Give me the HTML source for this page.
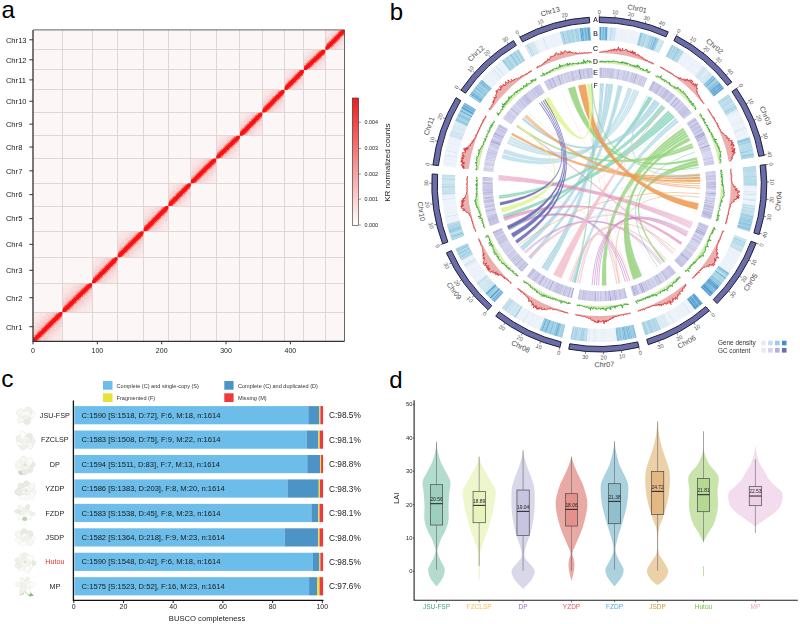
<!DOCTYPE html><html><head><meta charset="utf-8"><style>html,body{margin:0;padding:0;background:#fff;}svg{display:block}</style></head><body><svg width="800" height="624" viewBox="0 0 800 624"><rect width="800" height="624" fill="#fff"/><text x="1.6" y="18.4" font-size="24" font-family="Liberation Sans, sans-serif" fill="#000">a</text>
<text x="389.8" y="19.7" font-size="24" font-family="Liberation Sans, sans-serif" fill="#000">b</text>
<text x="1.2" y="387.3" font-size="24.5" font-family="Liberation Sans, sans-serif" fill="#000">c</text>
<text x="389.2" y="387.5" font-size="24" font-family="Liberation Sans, sans-serif" fill="#000">d</text>
<defs>
<linearGradient id="hz" x1="0" y1="0" x2="1" y2="1"><stop offset="0" stop-color="#faeeee"/><stop offset="0.22" stop-color="#f8e2e2"/><stop offset="0.36" stop-color="#f5cdcd"/><stop offset="0.45" stop-color="#f2aeae"/><stop offset="0.5" stop-color="#ef8e8e"/><stop offset="0.55" stop-color="#f2aeae"/><stop offset="0.64" stop-color="#f5cdcd"/><stop offset="0.78" stop-color="#f8e2e2"/><stop offset="1" stop-color="#faeeee"/></linearGradient>
<linearGradient id="cbar" x1="0" y1="1" x2="0" y2="0"><stop offset="0" stop-color="#ffffff"/><stop offset="1" stop-color="#ee1c1c"/></linearGradient>
<clipPath id="cb0"><rect x="33" y="312.1" width="29.4" height="29.2"/></clipPath>
<clipPath id="cb1"><rect x="62.4" y="283.3" width="29.6" height="28.8"/></clipPath>
<clipPath id="cb2"><rect x="92" y="257.3" width="25.6" height="26"/></clipPath>
<clipPath id="cb3"><rect x="117.6" y="231.3" width="26" height="26"/></clipPath>
<clipPath id="cb4"><rect x="143.6" y="206" width="24.8" height="25.3"/></clipPath>
<clipPath id="cb5"><rect x="168.4" y="183.3" width="22.5" height="22.7"/></clipPath>
<clipPath id="cb6"><rect x="190.9" y="158.4" width="25.3" height="24.9"/></clipPath>
<clipPath id="cb7"><rect x="216.2" y="135.7" width="23.7" height="22.7"/></clipPath>
<clipPath id="cb8"><rect x="239.9" y="112.6" width="22.4" height="23.1"/></clipPath>
<clipPath id="cb9"><rect x="262.3" y="89.9" width="22.2" height="22.7"/></clipPath>
<clipPath id="cb10"><rect x="284.5" y="69.9" width="19.4" height="20"/></clipPath>
<clipPath id="cb11"><rect x="303.9" y="49.7" width="21.4" height="20.2"/></clipPath>
<clipPath id="cb12"><rect x="325.3" y="29.9" width="19.2" height="19.8"/></clipPath>
<filter id="spk" x="0" y="0" width="1" height="1" color-interpolation-filters="sRGB"><feTurbulence type="fractalNoise" baseFrequency="0.85" numOctaves="2" seed="5" result="n"/><feColorMatrix in="n" type="matrix" values="0 0 0 0 0  0 0 0 0 0  0 0 0 0 0  0 0 0 2.2 -0.1" result="a"/><feComposite in="SourceGraphic" in2="a" operator="in"/></filter>
<radialGradient id="blob"><stop offset="0" stop-color="#f2c4c4" stop-opacity="0.7"/><stop offset="1" stop-color="#f2c4c4" stop-opacity="0"/></radialGradient>
</defs>
<rect x="33.0" y="29.9" width="311.5" height="311.40000000000003" fill="#fcf6f6"/>
<g filter="url(#spk)">
<rect x="33" y="312.1" width="29.4" height="29.2" fill="url(#hz)"/>
<path clip-path="url(#cb0)" d="M31 343.3 L64.4 310.1" stroke="#f23030" stroke-opacity="0.55" stroke-width="6.5"/>
<rect x="62.4" y="283.3" width="29.6" height="28.8" fill="url(#hz)"/>
<path clip-path="url(#cb1)" d="M60.4 314.1 L94 281.3" stroke="#f23030" stroke-opacity="0.55" stroke-width="6.5"/>
<rect x="92" y="257.3" width="25.6" height="26" fill="url(#hz)"/>
<path clip-path="url(#cb2)" d="M90 285.3 L119.6 255.3" stroke="#f23030" stroke-opacity="0.55" stroke-width="6.5"/>
<rect x="117.6" y="231.3" width="26" height="26" fill="url(#hz)"/>
<path clip-path="url(#cb3)" d="M115.6 259.3 L145.6 229.3" stroke="#f23030" stroke-opacity="0.55" stroke-width="6.5"/>
<rect x="143.6" y="206" width="24.8" height="25.3" fill="url(#hz)"/>
<path clip-path="url(#cb4)" d="M141.6 233.3 L170.4 204" stroke="#f23030" stroke-opacity="0.55" stroke-width="6.5"/>
<rect x="168.4" y="183.3" width="22.5" height="22.7" fill="url(#hz)"/>
<path clip-path="url(#cb5)" d="M166.4 208 L192.9 181.3" stroke="#f23030" stroke-opacity="0.55" stroke-width="6.5"/>
<rect x="190.9" y="158.4" width="25.3" height="24.9" fill="url(#hz)"/>
<path clip-path="url(#cb6)" d="M188.9 185.3 L218.2 156.4" stroke="#f23030" stroke-opacity="0.55" stroke-width="6.5"/>
<rect x="216.2" y="135.7" width="23.7" height="22.7" fill="url(#hz)"/>
<path clip-path="url(#cb7)" d="M214.2 160.4 L241.9 133.7" stroke="#f23030" stroke-opacity="0.55" stroke-width="6.5"/>
<rect x="239.9" y="112.6" width="22.4" height="23.1" fill="url(#hz)"/>
<path clip-path="url(#cb8)" d="M237.9 137.7 L264.3 110.6" stroke="#f23030" stroke-opacity="0.55" stroke-width="6.5"/>
<rect x="262.3" y="89.9" width="22.2" height="22.7" fill="url(#hz)"/>
<path clip-path="url(#cb9)" d="M260.3 114.6 L286.5 87.9" stroke="#f23030" stroke-opacity="0.55" stroke-width="6.5"/>
<rect x="284.5" y="69.9" width="19.4" height="20" fill="url(#hz)"/>
<path clip-path="url(#cb10)" d="M282.5 91.9 L305.9 67.9" stroke="#f23030" stroke-opacity="0.55" stroke-width="6.5"/>
<rect x="303.9" y="49.7" width="21.4" height="20.2" fill="url(#hz)"/>
<path clip-path="url(#cb11)" d="M301.9 71.9 L327.3 47.7" stroke="#f23030" stroke-opacity="0.55" stroke-width="6.5"/>
<rect x="325.3" y="29.9" width="19.2" height="19.8" fill="url(#hz)"/>
<path clip-path="url(#cb12)" d="M323.3 51.7 L346.5 27.9" stroke="#f23030" stroke-opacity="0.55" stroke-width="6.5"/>
</g>
<line x1="62.5" y1="29.9" x2="62.5" y2="341.3" stroke="#dbd2d2" stroke-width="0.9"/>
<line x1="92.5" y1="29.9" x2="92.5" y2="341.3" stroke="#dbd2d2" stroke-width="0.9"/>
<line x1="117.5" y1="29.9" x2="117.5" y2="341.3" stroke="#dbd2d2" stroke-width="0.9"/>
<line x1="143.5" y1="29.9" x2="143.5" y2="341.3" stroke="#dbd2d2" stroke-width="0.9"/>
<line x1="168.5" y1="29.9" x2="168.5" y2="341.3" stroke="#dbd2d2" stroke-width="0.9"/>
<line x1="190.5" y1="29.9" x2="190.5" y2="341.3" stroke="#dbd2d2" stroke-width="0.9"/>
<line x1="216.5" y1="29.9" x2="216.5" y2="341.3" stroke="#dbd2d2" stroke-width="0.9"/>
<line x1="239.5" y1="29.9" x2="239.5" y2="341.3" stroke="#dbd2d2" stroke-width="0.9"/>
<line x1="262.5" y1="29.9" x2="262.5" y2="341.3" stroke="#dbd2d2" stroke-width="0.9"/>
<line x1="284.5" y1="29.9" x2="284.5" y2="341.3" stroke="#dbd2d2" stroke-width="0.9"/>
<line x1="303.5" y1="29.9" x2="303.5" y2="341.3" stroke="#dbd2d2" stroke-width="0.9"/>
<line x1="325.5" y1="29.9" x2="325.5" y2="341.3" stroke="#dbd2d2" stroke-width="0.9"/>
<line x1="33.0" y1="312.5" x2="344.5" y2="312.5" stroke="#dbd2d2" stroke-width="0.9"/>
<line x1="33.0" y1="283.5" x2="344.5" y2="283.5" stroke="#dbd2d2" stroke-width="0.9"/>
<line x1="33.0" y1="257.5" x2="344.5" y2="257.5" stroke="#dbd2d2" stroke-width="0.9"/>
<line x1="33.0" y1="231.5" x2="344.5" y2="231.5" stroke="#dbd2d2" stroke-width="0.9"/>
<line x1="33.0" y1="206.5" x2="344.5" y2="206.5" stroke="#dbd2d2" stroke-width="0.9"/>
<line x1="33.0" y1="183.5" x2="344.5" y2="183.5" stroke="#dbd2d2" stroke-width="0.9"/>
<line x1="33.0" y1="158.5" x2="344.5" y2="158.5" stroke="#dbd2d2" stroke-width="0.9"/>
<line x1="33.0" y1="135.5" x2="344.5" y2="135.5" stroke="#dbd2d2" stroke-width="0.9"/>
<line x1="33.0" y1="112.5" x2="344.5" y2="112.5" stroke="#dbd2d2" stroke-width="0.9"/>
<line x1="33.0" y1="89.5" x2="344.5" y2="89.5" stroke="#dbd2d2" stroke-width="0.9"/>
<line x1="33.0" y1="69.5" x2="344.5" y2="69.5" stroke="#dbd2d2" stroke-width="0.9"/>
<line x1="33.0" y1="49.5" x2="344.5" y2="49.5" stroke="#dbd2d2" stroke-width="0.9"/>
<path clip-path="url(#cb0)" d="M31 343.3 L64.4 310.1" stroke="#fb1010" stroke-width="3.9"/>
<path clip-path="url(#cb1)" d="M60.4 314.1 L94 281.3" stroke="#fb1010" stroke-width="3.9"/>
<path clip-path="url(#cb2)" d="M90 285.3 L119.6 255.3" stroke="#fb1010" stroke-width="3.9"/>
<path clip-path="url(#cb3)" d="M115.6 259.3 L145.6 229.3" stroke="#fb1010" stroke-width="3.9"/>
<path clip-path="url(#cb4)" d="M141.6 233.3 L170.4 204" stroke="#fb1010" stroke-width="3.9"/>
<path clip-path="url(#cb5)" d="M166.4 208 L192.9 181.3" stroke="#fb1010" stroke-width="3.9"/>
<path clip-path="url(#cb6)" d="M188.9 185.3 L218.2 156.4" stroke="#fb1010" stroke-width="3.9"/>
<path clip-path="url(#cb7)" d="M214.2 160.4 L241.9 133.7" stroke="#fb1010" stroke-width="3.9"/>
<path clip-path="url(#cb8)" d="M237.9 137.7 L264.3 110.6" stroke="#fb1010" stroke-width="3.9"/>
<path clip-path="url(#cb9)" d="M260.3 114.6 L286.5 87.9" stroke="#fb1010" stroke-width="3.9"/>
<path clip-path="url(#cb10)" d="M282.5 91.9 L305.9 67.9" stroke="#fb1010" stroke-width="3.9"/>
<path clip-path="url(#cb11)" d="M301.9 71.9 L327.3 47.7" stroke="#fb1010" stroke-width="3.9"/>
<path clip-path="url(#cb12)" d="M323.3 51.7 L346.5 27.9" stroke="#fb1010" stroke-width="3.9"/>
<path d="M33.0 29.9 H344.5 V341.3" fill="none" stroke="#555" stroke-width="0.9"/>
<path d="M33.0 29.9 V341.3 H344.5" fill="none" stroke="#333" stroke-width="1.3"/>
<line x1="29.3" y1="326.7" x2="33.0" y2="326.7" stroke="#333" stroke-width="1"/>
<text x="5.9" y="329.5" font-size="7.6" font-family="Liberation Sans, sans-serif" fill="#1a1a1a">Chr1</text>
<line x1="29.3" y1="297.7" x2="33.0" y2="297.7" stroke="#333" stroke-width="1"/>
<text x="5.9" y="300.5" font-size="7.6" font-family="Liberation Sans, sans-serif" fill="#1a1a1a">Chr2</text>
<line x1="29.3" y1="270.3" x2="33.0" y2="270.3" stroke="#333" stroke-width="1"/>
<text x="5.9" y="273.1" font-size="7.6" font-family="Liberation Sans, sans-serif" fill="#1a1a1a">Chr3</text>
<line x1="29.3" y1="244.3" x2="33.0" y2="244.3" stroke="#333" stroke-width="1"/>
<text x="5.9" y="247.1" font-size="7.6" font-family="Liberation Sans, sans-serif" fill="#1a1a1a">Chr4</text>
<line x1="29.3" y1="218.65" x2="33.0" y2="218.65" stroke="#333" stroke-width="1"/>
<text x="5.9" y="221.45" font-size="7.6" font-family="Liberation Sans, sans-serif" fill="#1a1a1a">Chr5</text>
<line x1="29.3" y1="194.65" x2="33.0" y2="194.65" stroke="#333" stroke-width="1"/>
<text x="5.9" y="197.45" font-size="7.6" font-family="Liberation Sans, sans-serif" fill="#1a1a1a">Chr6</text>
<line x1="29.3" y1="170.85" x2="33.0" y2="170.85" stroke="#333" stroke-width="1"/>
<text x="5.9" y="173.65" font-size="7.6" font-family="Liberation Sans, sans-serif" fill="#1a1a1a">Chr7</text>
<line x1="29.3" y1="147.05" x2="33.0" y2="147.05" stroke="#333" stroke-width="1"/>
<text x="5.9" y="149.85" font-size="7.6" font-family="Liberation Sans, sans-serif" fill="#1a1a1a">Chr8</text>
<line x1="29.3" y1="124.15" x2="33.0" y2="124.15" stroke="#333" stroke-width="1"/>
<text x="5.9" y="126.95" font-size="7.6" font-family="Liberation Sans, sans-serif" fill="#1a1a1a">Chr9</text>
<line x1="29.3" y1="101.25" x2="33.0" y2="101.25" stroke="#333" stroke-width="1"/>
<text x="5.9" y="104.05" font-size="7.6" font-family="Liberation Sans, sans-serif" fill="#1a1a1a">Chr10</text>
<line x1="29.3" y1="79.9" x2="33.0" y2="79.9" stroke="#333" stroke-width="1"/>
<text x="5.9" y="82.7" font-size="7.6" font-family="Liberation Sans, sans-serif" fill="#1a1a1a">Chr11</text>
<line x1="29.3" y1="59.8" x2="33.0" y2="59.8" stroke="#333" stroke-width="1"/>
<text x="5.9" y="62.6" font-size="7.6" font-family="Liberation Sans, sans-serif" fill="#1a1a1a">Chr12</text>
<line x1="29.3" y1="39.8" x2="33.0" y2="39.8" stroke="#333" stroke-width="1"/>
<text x="5.9" y="42.6" font-size="7.6" font-family="Liberation Sans, sans-serif" fill="#1a1a1a">Chr13</text>
<line x1="33" y1="341.3" x2="33" y2="344.3" stroke="#333" stroke-width="1"/>
<text x="33" y="353.3" font-size="7" text-anchor="middle" font-family="Liberation Sans, sans-serif" fill="#222">0</text>
<line x1="97.35" y1="341.3" x2="97.35" y2="344.3" stroke="#333" stroke-width="1"/>
<text x="97.35" y="353.3" font-size="7" text-anchor="middle" font-family="Liberation Sans, sans-serif" fill="#222">100</text>
<line x1="161.7" y1="341.3" x2="161.7" y2="344.3" stroke="#333" stroke-width="1"/>
<text x="161.7" y="353.3" font-size="7" text-anchor="middle" font-family="Liberation Sans, sans-serif" fill="#222">200</text>
<line x1="226.05" y1="341.3" x2="226.05" y2="344.3" stroke="#333" stroke-width="1"/>
<text x="226.05" y="353.3" font-size="7" text-anchor="middle" font-family="Liberation Sans, sans-serif" fill="#222">300</text>
<line x1="290.4" y1="341.3" x2="290.4" y2="344.3" stroke="#333" stroke-width="1"/>
<text x="290.4" y="353.3" font-size="7" text-anchor="middle" font-family="Liberation Sans, sans-serif" fill="#222">400</text>
<rect x="352.3" y="98" width="6.4" height="127.6" fill="url(#cbar)" stroke="#333" stroke-width="0.6"/>
<line x1="358.7" y1="225.1" x2="361" y2="225.1" stroke="#333" stroke-width="0.5"/>
<text x="364.5" y="227" font-size="5.4" font-family="Liberation Sans, sans-serif" fill="#222">0.000</text>
<line x1="358.7" y1="199.2" x2="361" y2="199.2" stroke="#333" stroke-width="0.5"/>
<text x="364.5" y="201.1" font-size="5.4" font-family="Liberation Sans, sans-serif" fill="#222">0.001</text>
<line x1="358.7" y1="174" x2="361" y2="174" stroke="#333" stroke-width="0.5"/>
<text x="364.5" y="175.9" font-size="5.4" font-family="Liberation Sans, sans-serif" fill="#222">0.002</text>
<line x1="358.7" y1="148.5" x2="361" y2="148.5" stroke="#333" stroke-width="0.5"/>
<text x="364.5" y="150.4" font-size="5.4" font-family="Liberation Sans, sans-serif" fill="#222">0.003</text>
<line x1="358.7" y1="122.3" x2="361" y2="122.3" stroke="#333" stroke-width="0.5"/>
<text x="364.5" y="124.2" font-size="5.4" font-family="Liberation Sans, sans-serif" fill="#222">0.004</text>
<text transform="translate(390.2,162.7) rotate(-90)" font-size="8" text-anchor="middle" font-family="Liberation Sans, sans-serif" fill="#222">KR normalized counts</text>
<g>
<path d="M599.3 27.0L600.2 27.0L600.1 40.2L599.3 40.2Z" fill="#7cbbdb"/>
<path d="M600.0 27.0L600.9 27.0L600.8 40.2L600.0 40.2Z" fill="#3d8dcb"/>
<path d="M600.8 27.0L601.7 27.0L601.5 40.2L600.7 40.2Z" fill="#69aed6"/>
<path d="M601.5 27.0L602.4 27.0L602.2 40.2L601.3 40.2Z" fill="#8cc5de"/>
<path d="M602.3 27.0L603.2 27.0L602.9 40.2L602.0 40.2Z" fill="#8dc5de"/>
<path d="M603.0 27.0L603.9 27.1L603.5 40.3L602.7 40.2Z" fill="#58a1d2"/>
<path d="M603.8 27.1L604.7 27.1L604.2 40.3L603.4 40.3Z" fill="#74b6d9"/>
<path d="M604.5 27.1L605.4 27.1L604.9 40.3L604.1 40.3Z" fill="#88c2dd"/>
<path d="M605.2 27.1L606.1 27.1L605.6 40.3L604.7 40.3Z" fill="#5fa7d4"/>
<path d="M606.0 27.1L606.9 27.2L606.2 40.4L605.4 40.3Z" fill="#64aad5"/>
<path d="M606.7 27.2L607.6 27.2L606.9 40.4L606.1 40.4Z" fill="#3d8dcb"/>
<path d="M607.5 27.2L608.4 27.3L607.6 40.4L606.8 40.4Z" fill="#bdddeb"/>
<path d="M608.2 27.3L609.1 27.3L608.3 40.5L607.5 40.4Z" fill="#d5e7f2"/>
<path d="M608.9 27.3L609.8 27.4L609.0 40.5L608.1 40.5Z" fill="#d2e5f1"/>
<path d="M609.7 27.3L610.6 27.4L609.6 40.6L608.8 40.5Z" fill="#d4e7f2"/>
<path d="M610.4 27.4L611.3 27.5L610.3 40.6L609.5 40.6Z" fill="#c5e0ed"/>
<path d="M611.2 27.4L612.1 27.5L611.0 40.7L610.2 40.6Z" fill="#9fd0e2"/>
<path d="M611.9 27.5L612.8 27.6L611.7 40.7L610.8 40.7Z" fill="#d7e8f2"/>
<path d="M612.6 27.6L613.5 27.6L612.4 40.8L611.5 40.7Z" fill="#c4e0ed"/>
<path d="M613.4 27.6L614.3 27.7L613.0 40.9L612.2 40.8Z" fill="#d1e5f1"/>
<path d="M614.1 27.7L615.0 27.8L613.7 40.9L612.9 40.8Z" fill="#cce3ef"/>
<path d="M614.9 27.8L615.8 27.9L614.4 41.0L613.6 40.9Z" fill="#c0deeb"/>
<path d="M615.6 27.8L616.5 27.9L615.1 41.1L614.2 41.0Z" fill="#d3e6f1"/>
<path d="M616.3 27.9L617.2 28.0L615.7 41.1L614.9 41.0Z" fill="#eaf1f9"/>
<path d="M617.1 28.0L618.0 28.1L616.4 41.2L615.6 41.1Z" fill="#e9f0f9"/>
<path d="M617.8 28.1L618.7 28.2L617.1 41.3L616.3 41.2Z" fill="#e7eff8"/>
<path d="M618.5 28.2L619.4 28.3L617.8 41.4L616.9 41.3Z" fill="#ebf1f9"/>
<path d="M619.3 28.3L620.2 28.4L618.4 41.5L617.6 41.4Z" fill="#edf2fa"/>
<path d="M620.0 28.4L620.9 28.5L619.1 41.6L618.3 41.5Z" fill="#edf2fa"/>
<path d="M620.8 28.5L621.7 28.6L619.8 41.7L619.0 41.5Z" fill="#e9f0f8"/>
<path d="M621.5 28.6L622.4 28.7L620.5 41.8L619.6 41.6Z" fill="#e8f0f8"/>
<path d="M622.2 28.7L623.1 28.8L621.1 41.9L620.3 41.7Z" fill="#e9f0f9"/>
<path d="M623.0 28.8L623.9 28.9L621.8 42.0L621.0 41.8Z" fill="#eaf1f9"/>
<path d="M623.7 28.9L624.6 29.0L622.5 42.1L621.6 41.9Z" fill="#e8f0f8"/>
<path d="M624.4 29.0L625.3 29.2L623.1 42.2L622.3 42.0Z" fill="#ebf1f9"/>
<path d="M625.2 29.1L626.1 29.3L623.8 42.3L623.0 42.2Z" fill="#edf2fa"/>
<path d="M625.9 29.3L626.8 29.4L624.5 42.4L623.7 42.3Z" fill="#eaf0f9"/>
<path d="M626.6 29.4L627.5 29.5L625.2 42.5L624.3 42.4Z" fill="#e8f0f8"/>
<path d="M627.4 29.5L628.2 29.7L625.8 42.7L625.0 42.5Z" fill="#ecf1f9"/>
<path d="M628.1 29.7L629.0 29.8L626.5 42.8L625.7 42.6Z" fill="#edf2fa"/>
<path d="M628.8 29.8L629.7 30.0L627.2 42.9L626.3 42.8Z" fill="#edf2fa"/>
<path d="M629.5 29.9L630.4 30.1L627.8 43.0L627.0 42.9Z" fill="#edf2fa"/>
<path d="M630.3 30.1L631.2 30.3L628.5 43.2L627.7 43.0Z" fill="#edf2fa"/>
<path d="M631.0 30.2L631.9 30.4L629.2 43.3L628.3 43.2Z" fill="#ebf1f9"/>
<path d="M631.7 30.4L632.6 30.6L629.8 43.5L629.0 43.3Z" fill="#edf2fa"/>
<path d="M632.4 30.5L633.3 30.7L630.5 43.6L629.7 43.4Z" fill="#eaf1f9"/>
<path d="M633.2 30.7L634.1 30.9L631.1 43.8L630.3 43.6Z" fill="#e8f0f8"/>
<path d="M633.9 30.8L634.8 31.0L631.8 43.9L631.0 43.7Z" fill="#ecf2fa"/>
<path d="M634.6 31.0L635.5 31.2L632.5 44.1L631.7 43.9Z" fill="#ecf1fa"/>
<path d="M635.3 31.2L636.2 31.4L633.1 44.2L632.3 44.0Z" fill="#e7eff8"/>
<path d="M636.1 31.4L636.9 31.6L633.8 44.4L633.0 44.2Z" fill="#edf2fa"/>
<path d="M636.8 31.5L637.7 31.7L634.5 44.5L633.6 44.3Z" fill="#edf2fa"/>
<path d="M637.5 31.7L638.4 31.9L635.1 44.7L634.3 44.5Z" fill="#eaf1f9"/>
<path d="M638.2 31.9L639.1 32.1L635.8 44.9L635.0 44.7Z" fill="#edf2fa"/>
<path d="M638.9 32.1L639.8 32.3L636.4 45.1L635.6 44.8Z" fill="#ecf1fa"/>
<path d="M639.7 32.3L640.5 32.5L637.1 45.2L636.3 45.0Z" fill="#e7eff8"/>
<path d="M640.4 32.5L641.3 32.7L637.7 45.4L636.9 45.2Z" fill="#a4d2e3"/>
<path d="M641.1 32.6L642.0 32.9L638.4 45.6L637.6 45.4Z" fill="#76b7d9"/>
<path d="M641.8 32.8L642.7 33.1L639.1 45.8L638.3 45.6Z" fill="#93c9e0"/>
<path d="M642.5 33.0L643.4 33.3L639.7 46.0L638.9 45.7Z" fill="#94c9e0"/>
<path d="M643.2 33.3L644.1 33.5L640.4 46.2L639.6 45.9Z" fill="#aad5e5"/>
<path d="M644.0 33.5L644.8 33.7L641.0 46.4L640.2 46.1Z" fill="#b8dbe9"/>
<path d="M644.7 33.7L645.5 33.9L641.7 46.6L640.9 46.3Z" fill="#92c8df"/>
<path d="M645.4 33.9L646.2 34.2L642.3 46.8L641.5 46.5Z" fill="#b3d9e8"/>
<path d="M646.1 34.1L646.9 34.4L643.0 47.0L642.2 46.7Z" fill="#86c1dd"/>
<path d="M646.8 34.3L647.7 34.6L643.6 47.2L642.8 46.9Z" fill="#bdddeb"/>
<path d="M647.5 34.6L648.4 34.8L644.3 47.4L643.5 47.1Z" fill="#b8dbe9"/>
<path d="M648.2 34.8L649.1 35.1L644.9 47.6L644.1 47.3Z" fill="#bcdcea"/>
<path d="M648.9 35.0L649.8 35.3L645.5 47.8L644.8 47.5Z" fill="#9fd0e2"/>
<path d="M649.6 35.3L650.5 35.5L646.2 48.0L645.4 47.8Z" fill="#b1d8e7"/>
<path d="M650.3 35.5L651.2 35.8L646.8 48.3L646.0 48.0Z" fill="#abd5e5"/>
<path d="M651.0 35.7L651.9 36.0L647.5 48.5L646.7 48.2Z" fill="#95cae0"/>
<path d="M651.7 36.0L652.6 36.3L648.1 48.7L647.3 48.4Z" fill="#8dc5de"/>
<path d="M652.4 36.2L653.3 36.5L648.7 48.9L648.0 48.7Z" fill="#a0d1e2"/>
<path d="M653.1 36.5L654.0 36.8L649.4 49.2L648.6 48.9Z" fill="#93c9e0"/>
<path d="M653.8 36.7L654.7 37.1L650.0 49.4L649.2 49.1Z" fill="#7abada"/>
<path d="M654.5 37.0L655.4 37.3L650.7 49.6L649.9 49.4Z" fill="#a4d2e3"/>
<path d="M655.2 37.3L656.1 37.6L651.3 49.9L650.5 49.6Z" fill="#89c3de"/>
<path d="M655.9 37.5L656.7 37.8L651.9 50.1L651.2 49.8Z" fill="#549ed1"/>
<path d="M656.6 37.8L657.4 38.1L652.6 50.4L651.8 50.1Z" fill="#89c3de"/>
<path d="M657.3 38.1L658.1 38.4L653.2 50.6L652.4 50.3Z" fill="#78b9da"/>
<path d="M658.0 38.3L658.8 38.7L653.8 50.9L653.1 50.6Z" fill="#97cbe1"/>
<path d="M658.7 38.6L659.5 39.0L654.5 51.2L653.7 50.8Z" fill="#9ccee2"/>
<path d="M659.3 38.9L660.2 39.2L655.1 51.4L654.3 51.1Z" fill="#d3e6f1"/>
<path d="M660.0 39.2L660.9 39.5L655.7 51.7L654.9 51.4Z" fill="#d6e7f2"/>
<path d="M660.7 39.5L661.5 39.8L656.3 51.9L655.6 51.6Z" fill="#cae2ee"/>
<path d="M661.4 39.8L662.2 40.1L657.0 52.2L656.2 51.9Z" fill="#c8e1ee"/>
<path d="M662.1 40.1L662.9 40.4L657.6 52.5L656.8 52.2Z" fill="#c9e2ee"/>
<path d="M662.8 40.3L663.6 40.7L658.2 52.8L657.4 52.4Z" fill="#d8e8f3"/>
<path d="M663.4 40.7L664.3 41.0L658.8 53.0L658.1 52.7Z" fill="#afd7e6"/>
<path d="M599.3 67.7L600.0 67.7L599.9 77.8L599.3 77.8Z" fill="#d1d1ea"/>
<path d="M599.9 67.7L600.5 67.7L600.4 77.8L599.8 77.8Z" fill="#c9c9e7"/>
<path d="M600.4 67.7L601.1 67.7L600.9 77.8L600.3 77.8Z" fill="#aaa7d6"/>
<path d="M601.0 67.7L601.6 67.7L601.4 77.8L600.8 77.8Z" fill="#aca9d7"/>
<path d="M601.5 67.7L602.2 67.7L601.9 77.8L601.3 77.8Z" fill="#aaa8d7"/>
<path d="M602.1 67.7L602.7 67.8L602.4 77.8L601.8 77.8Z" fill="#cbcbe8"/>
<path d="M602.6 67.7L603.3 67.8L602.9 77.9L602.3 77.8Z" fill="#cccce8"/>
<path d="M603.2 67.8L603.8 67.8L603.4 77.9L602.8 77.9Z" fill="#bdbce1"/>
<path d="M603.7 67.8L604.4 67.8L603.9 77.9L603.3 77.9Z" fill="#b6b4dd"/>
<path d="M604.3 67.8L604.9 67.8L604.4 77.9L603.8 77.9Z" fill="#bdbbe0"/>
<path d="M604.8 67.8L605.5 67.9L604.9 77.9L604.3 77.9Z" fill="#d0d0ea"/>
<path d="M605.4 67.9L606.0 67.9L605.4 78.0L604.8 77.9Z" fill="#b1afda"/>
<path d="M605.9 67.9L606.6 67.9L605.9 78.0L605.3 78.0Z" fill="#bab8df"/>
<path d="M606.5 67.9L607.1 68.0L606.4 78.0L605.8 78.0Z" fill="#cecee9"/>
<path d="M607.0 68.0L607.7 68.0L606.9 78.1L606.3 78.0Z" fill="#c9c8e6"/>
<path d="M607.5 68.0L608.2 68.0L607.4 78.1L606.8 78.1Z" fill="#aeabd8"/>
<path d="M608.1 68.0L608.8 68.1L608.0 78.2L607.3 78.1Z" fill="#c7c6e5"/>
<path d="M608.6 68.1L609.3 68.1L608.5 78.2L607.8 78.1Z" fill="#bcbae0"/>
<path d="M609.2 68.1L609.9 68.2L609.0 78.2L608.3 78.2Z" fill="#d1d1ea"/>
<path d="M609.7 68.2L610.4 68.2L609.5 78.3L608.8 78.2Z" fill="#b6b4dd"/>
<path d="M610.3 68.2L611.0 68.3L610.0 78.3L609.3 78.3Z" fill="#d0d0ea"/>
<path d="M610.8 68.3L611.5 68.3L610.5 78.4L609.8 78.3Z" fill="#b0aeda"/>
<path d="M611.4 68.3L612.1 68.4L611.0 78.4L610.3 78.4Z" fill="#cac9e7"/>
<path d="M611.9 68.4L612.6 68.5L611.5 78.5L610.8 78.4Z" fill="#b8b6de"/>
<path d="M612.5 68.4L613.1 68.5L612.0 78.6L611.3 78.5Z" fill="#b3b1db"/>
<path d="M613.0 68.5L613.7 68.6L612.5 78.6L611.8 78.5Z" fill="#c4c3e4"/>
<path d="M613.6 68.6L614.2 68.7L613.0 78.7L612.3 78.6Z" fill="#c8c7e6"/>
<path d="M614.1 68.6L614.8 68.7L613.4 78.7L612.8 78.7Z" fill="#bab9df"/>
<path d="M614.7 68.7L615.3 68.8L613.9 78.8L613.3 78.7Z" fill="#cecee9"/>
<path d="M615.2 68.8L615.9 68.9L614.4 78.9L613.8 78.8Z" fill="#cfcfe9"/>
<path d="M615.8 68.9L616.4 69.0L614.9 79.0L614.3 78.9Z" fill="#cecee9"/>
<path d="M616.3 68.9L617.0 69.0L615.4 79.0L614.8 78.9Z" fill="#d2d2eb"/>
<path d="M616.8 69.0L617.5 69.1L615.9 79.1L615.3 79.0Z" fill="#cbcbe8"/>
<path d="M617.4 69.1L618.1 69.2L616.4 79.2L615.8 79.1Z" fill="#c4c3e4"/>
<path d="M617.9 69.2L618.6 69.3L616.9 79.3L616.3 79.2Z" fill="#c9c9e7"/>
<path d="M618.5 69.3L619.1 69.4L617.4 79.4L616.8 79.2Z" fill="#c7c6e5"/>
<path d="M619.0 69.4L619.7 69.5L617.9 79.4L617.3 79.3Z" fill="#9c99cf"/>
<path d="M619.6 69.5L620.2 69.6L618.4 79.5L617.8 79.4Z" fill="#c9c8e6"/>
<path d="M620.1 69.6L620.8 69.7L618.9 79.6L618.3 79.5Z" fill="#d6d6ed"/>
<path d="M620.6 69.7L621.3 69.8L619.4 79.7L618.8 79.6Z" fill="#d2d2eb"/>
<path d="M621.2 69.8L621.8 69.9L619.9 79.8L619.3 79.7Z" fill="#bfbee1"/>
<path d="M621.7 69.9L622.4 70.0L620.4 79.9L619.8 79.8Z" fill="#cdcce8"/>
<path d="M622.3 70.0L622.9 70.1L620.9 80.0L620.3 79.9Z" fill="#c5c4e4"/>
<path d="M622.8 70.1L623.5 70.2L621.4 80.1L620.8 80.0Z" fill="#d3d3eb"/>
<path d="M623.3 70.2L624.0 70.3L621.9 80.2L621.3 80.1Z" fill="#cfcfea"/>
<path d="M623.9 70.3L624.5 70.5L622.4 80.3L621.8 80.2Z" fill="#bdbce1"/>
<path d="M624.4 70.4L625.1 70.6L622.8 80.4L622.2 80.3Z" fill="#c4c3e4"/>
<path d="M625.0 70.6L625.6 70.7L623.3 80.5L622.7 80.4Z" fill="#b8b6de"/>
<path d="M625.5 70.7L626.1 70.8L623.8 80.7L623.2 80.5Z" fill="#c2c1e3"/>
<path d="M626.0 70.8L626.7 71.0L624.3 80.8L623.7 80.6Z" fill="#c6c5e5"/>
<path d="M626.6 70.9L627.2 71.1L624.8 80.9L624.2 80.7Z" fill="#c8c7e6"/>
<path d="M627.1 71.1L627.8 71.2L625.3 81.0L624.7 80.9Z" fill="#c7c6e5"/>
<path d="M627.6 71.2L628.3 71.4L625.8 81.1L625.2 81.0Z" fill="#bfbee1"/>
<path d="M628.2 71.3L628.8 71.5L626.3 81.3L625.7 81.1Z" fill="#b6b4dd"/>
<path d="M628.7 71.5L629.4 71.6L626.8 81.4L626.2 81.2Z" fill="#c3c2e4"/>
<path d="M629.2 71.6L629.9 71.8L627.2 81.5L626.6 81.4Z" fill="#bab8df"/>
<path d="M629.8 71.7L630.4 71.9L627.7 81.7L627.1 81.5Z" fill="#d2d2eb"/>
<path d="M630.3 71.9L630.9 72.1L628.2 81.8L627.6 81.6Z" fill="#d3d3eb"/>
<path d="M630.8 72.0L631.5 72.2L628.7 81.9L628.1 81.8Z" fill="#d3d3eb"/>
<path d="M631.4 72.2L632.0 72.4L629.2 82.1L628.6 81.9Z" fill="#bbb9df"/>
<path d="M631.9 72.3L632.5 72.5L629.7 82.2L629.1 82.0Z" fill="#d0d0ea"/>
<path d="M632.4 72.5L633.1 72.7L630.1 82.4L629.6 82.2Z" fill="#bebde1"/>
<path d="M632.9 72.6L633.6 72.8L630.6 82.5L630.0 82.3Z" fill="#b6b5dd"/>
<path d="M633.5 72.8L634.1 73.0L631.1 82.6L630.5 82.5Z" fill="#cdcde9"/>
<path d="M634.0 73.0L634.6 73.2L631.6 82.8L631.0 82.6Z" fill="#c7c6e5"/>
<path d="M634.5 73.1L635.2 73.3L632.1 83.0L631.5 82.8Z" fill="#acaad7"/>
<path d="M635.0 73.3L635.7 73.5L632.5 83.1L632.0 82.9Z" fill="#cfcee9"/>
<path d="M635.6 73.5L636.2 73.7L633.0 83.3L632.4 83.1Z" fill="#c2c1e3"/>
<path d="M636.1 73.6L636.7 73.9L633.5 83.4L632.9 83.2Z" fill="#cdcde9"/>
<path d="M636.6 73.8L637.2 74.0L634.0 83.6L633.4 83.4Z" fill="#807cbe"/>
<path d="M637.1 74.0L637.8 74.2L634.4 83.8L633.9 83.6Z" fill="#c0bfe2"/>
<path d="M637.7 74.2L638.3 74.4L634.9 83.9L634.3 83.7Z" fill="#d2d2eb"/>
<path d="M638.2 74.4L638.8 74.6L635.4 84.1L634.8 83.9Z" fill="#bdbce1"/>
<path d="M638.7 74.5L639.3 74.8L635.9 84.3L635.3 84.1Z" fill="#d1d1ea"/>
<path d="M639.2 74.7L639.8 75.0L636.3 84.4L635.8 84.2Z" fill="#b7b6de"/>
<path d="M639.7 74.9L640.4 75.2L636.8 84.6L636.2 84.4Z" fill="#cfcfea"/>
<path d="M640.2 75.1L640.9 75.3L637.3 84.8L636.7 84.6Z" fill="#d1d1ea"/>
<path d="M640.8 75.3L641.4 75.5L637.7 85.0L637.2 84.7Z" fill="#c9c9e7"/>
<path d="M641.3 75.5L641.9 75.7L638.2 85.1L637.6 84.9Z" fill="#c4c3e4"/>
<path d="M641.8 75.7L642.4 75.9L638.7 85.3L638.1 85.1Z" fill="#b6b4dd"/>
<path d="M642.3 75.9L642.9 76.2L639.1 85.5L638.6 85.3Z" fill="#cdcde9"/>
<path d="M642.8 76.1L643.4 76.4L639.6 85.7L639.0 85.5Z" fill="#bebde1"/>
<path d="M643.3 76.3L643.9 76.6L640.1 85.9L639.5 85.7Z" fill="#cfcfe9"/>
<path d="M643.8 76.5L644.4 76.8L640.5 86.1L640.0 85.9Z" fill="#bab8df"/>
<path d="M644.3 76.7L645.0 77.0L641.0 86.3L640.4 86.1Z" fill="#cfcfea"/>
<path d="M644.8 76.9L645.5 77.2L641.5 86.5L640.9 86.2Z" fill="#bcbae0"/>
<path d="M645.3 77.2L646.0 77.4L641.9 86.7L641.4 86.4Z" fill="#cfcfe9"/>
<path d="M645.9 77.4L646.5 77.6L642.4 86.9L641.8 86.6Z" fill="#d0d0ea"/>
<path d="M646.4 77.6L647.0 77.9L642.9 87.1L642.3 86.8Z" fill="#c2c1e3"/>
<path d="M646.9 77.8L647.5 78.1L643.3 87.3L642.7 87.0Z" fill="#bfbde1"/>
<path d="M599.3 52.3L599.8 52.0L600.2 52.0L600.7 52.0L601.2 52.2L601.6 51.8L602.1 51.5L602.6 51.6L603.1 51.2L603.5 51.4L604.0 51.4L604.5 51.2L604.9 51.6L605.4 51.5L605.9 50.7L606.4 50.9L606.9 51.0L607.3 51.1L607.8 51.8L608.3 50.6L608.8 50.0L609.3 50.3L609.7 50.8L610.3 49.7L610.7 50.0L611.2 49.7L611.6 51.1L612.1 50.4L612.7 49.6L613.2 49.1L613.6 49.9L614.0 50.9L614.7 48.7L615.1 49.5L615.6 49.7L616.1 49.2L616.4 50.8L617.1 49.3L617.5 49.9L618.4 46.9L618.7 48.1L619.0 49.8L619.4 50.4L620.1 48.6L620.4 49.9L620.7 51.0L621.2 50.7L621.7 50.8L622.6 48.2L622.8 50.2L623.3 50.3L623.7 50.7L624.1 50.9L624.8 50.0L625.4 49.3L625.8 50.0L626.4 49.4L626.9 49.5L627.1 50.9L627.7 50.4L627.8 52.1L628.5 51.2L628.9 51.5L629.3 52.0L630.1 50.8L630.4 51.7L630.5 53.1L631.4 51.7L631.6 52.9L632.6 50.7L632.4 53.4L633.0 52.9L633.8 51.7L633.7 54.3L634.8 52.0L635.2 52.4L635.3 53.9L635.5 54.9L635.8 55.4L636.5 54.9L636.9 55.1L637.6 54.3L638.1 54.2L638.3 55.3L638.9 55.1L639.0 56.3L639.7 55.6L640.1 56.1L640.3 56.8L640.7 57.3L641.4 56.7L641.7 57.3L641.9 58.2L642.7 57.3L642.9 58.1L643.3 58.5L643.5 59.4L644.1 59.0L644.6 59.0L644.9 59.7L645.3 59.9L645.9 59.6L646.0 60.7L646.8 59.9L647.1 60.3L647.5 60.5L648.0 60.8L648.3 61.3L648.6 61.6L649.0 61.8L649.7 61.5L649.9 62.2L650.5 62.0L650.8 62.4L651.5 62.1L651.7 62.8L652.1 63.1L652.7 62.9L652.9 63.6L653.2 63.9L653.9 63.5 L653.41 64.65 A131.5 131.5 0 0 0 599.3 53 Z" fill="#eab0ae"/>
<path d="M599.3 52.3L599.8 52.0L600.2 52.0L600.7 52.0L601.2 52.2L601.6 51.8L602.1 51.5L602.6 51.6L603.1 51.2L603.5 51.4L604.0 51.4L604.5 51.2L604.9 51.6L605.4 51.5L605.9 50.7L606.4 50.9L606.9 51.0L607.3 51.1L607.8 51.8L608.3 50.6L608.8 50.0L609.3 50.3L609.7 50.8L610.3 49.7L610.7 50.0L611.2 49.7L611.6 51.1L612.1 50.4L612.7 49.6L613.2 49.1L613.6 49.9L614.0 50.9L614.7 48.7L615.1 49.5L615.6 49.7L616.1 49.2L616.4 50.8L617.1 49.3L617.5 49.9L618.4 46.9L618.7 48.1L619.0 49.8L619.4 50.4L620.1 48.6L620.4 49.9L620.7 51.0L621.2 50.7L621.7 50.8L622.6 48.2L622.8 50.2L623.3 50.3L623.7 50.7L624.1 50.9L624.8 50.0L625.4 49.3L625.8 50.0L626.4 49.4L626.9 49.5L627.1 50.9L627.7 50.4L627.8 52.1L628.5 51.2L628.9 51.5L629.3 52.0L630.1 50.8L630.4 51.7L630.5 53.1L631.4 51.7L631.6 52.9L632.6 50.7L632.4 53.4L633.0 52.9L633.8 51.7L633.7 54.3L634.8 52.0L635.2 52.4L635.3 53.9L635.5 54.9L635.8 55.4L636.5 54.9L636.9 55.1L637.6 54.3L638.1 54.2L638.3 55.3L638.9 55.1L639.0 56.3L639.7 55.6L640.1 56.1L640.3 56.8L640.7 57.3L641.4 56.7L641.7 57.3L641.9 58.2L642.7 57.3L642.9 58.1L643.3 58.5L643.5 59.4L644.1 59.0L644.6 59.0L644.9 59.7L645.3 59.9L645.9 59.6L646.0 60.7L646.8 59.9L647.1 60.3L647.5 60.5L648.0 60.8L648.3 61.3L648.6 61.6L649.0 61.8L649.7 61.5L649.9 62.2L650.5 62.0L650.8 62.4L651.5 62.1L651.7 62.8L652.1 63.1L652.7 62.9L652.9 63.6L653.2 63.9L653.9 63.5" fill="none" stroke="#d9353a" stroke-width="0.9"/>
<path d="M599.3 61.8L599.7 62.1L600.2 60.8L600.6 61.1L601.0 62.4L601.5 62.2L601.9 60.8L602.3 61.7L602.8 60.8L603.2 61.4L603.6 62.2L604.1 61.4L604.5 62.4L604.9 62.1L605.4 61.0L605.8 62.2L606.3 61.3L606.7 61.2L607.1 61.9L607.6 61.4L608.1 60.8L608.4 62.0L608.8 62.4L609.4 60.9L609.8 61.6L610.2 61.4L610.6 62.2L611.1 61.5L611.5 61.5L611.9 61.5L612.3 62.1L612.9 60.7L613.4 60.8L613.7 61.3L614.2 61.1L614.7 61.0L615.0 62.1L615.4 61.9L615.9 61.3L616.3 61.6L616.9 61.2L617.2 61.7L617.6 62.0L618.1 61.6L618.4 62.8L618.9 62.5L619.4 62.1L619.7 62.8L620.1 62.9L620.5 63.1L621.2 61.9L621.4 63.2L622.1 61.7L622.6 61.7L622.7 63.2L623.4 61.9L623.8 62.3L624.1 63.2L624.7 62.3L624.9 63.7L625.3 63.7L626.0 62.6L626.1 64.0L626.9 62.8L627.0 64.3L627.5 64.0L628.0 63.7L628.6 63.1L628.9 63.6L629.3 64.1L629.6 64.4L629.9 65.3L630.5 64.4L631.0 64.5L631.1 65.7L631.7 65.2L632.0 65.8L632.7 64.9L632.8 66.2L633.4 65.5L633.8 65.6L634.4 65.2L634.4 66.8L635.2 65.8L635.2 67.3L635.7 66.9L636.5 66.0L637.3 64.8L637.0 67.3L638.1 65.3L638.1 66.7L638.3 67.4L638.8 67.2L639.6 66.3L639.6 67.6L640.1 67.7L640.4 68.0L640.4 69.3L641.0 69.1L641.7 68.4L641.9 69.0L642.3 69.3L643.0 68.7L642.8 70.5L643.6 69.4L643.7 70.3L644.1 70.6L644.8 70.0L645.0 70.6L645.7 70.1L645.9 70.7L647.1 68.9L646.8 70.9L647.3 70.7L647.8 70.7L647.9 71.5L647.9 72.6L648.9 71.5L648.7 73.0L649.8 71.7L650.4 71.4 L649.3 73.76 A121.5 121.5 0 0 0 599.3 63 Z" fill="#d6edb4"/>
<path d="M599.3 61.8L599.7 62.1L600.2 60.8L600.6 61.1L601.0 62.4L601.5 62.2L601.9 60.8L602.3 61.7L602.8 60.8L603.2 61.4L603.6 62.2L604.1 61.4L604.5 62.4L604.9 62.1L605.4 61.0L605.8 62.2L606.3 61.3L606.7 61.2L607.1 61.9L607.6 61.4L608.1 60.8L608.4 62.0L608.8 62.4L609.4 60.9L609.8 61.6L610.2 61.4L610.6 62.2L611.1 61.5L611.5 61.5L611.9 61.5L612.3 62.1L612.9 60.7L613.4 60.8L613.7 61.3L614.2 61.1L614.7 61.0L615.0 62.1L615.4 61.9L615.9 61.3L616.3 61.6L616.9 61.2L617.2 61.7L617.6 62.0L618.1 61.6L618.4 62.8L618.9 62.5L619.4 62.1L619.7 62.8L620.1 62.9L620.5 63.1L621.2 61.9L621.4 63.2L622.1 61.7L622.6 61.7L622.7 63.2L623.4 61.9L623.8 62.3L624.1 63.2L624.7 62.3L624.9 63.7L625.3 63.7L626.0 62.6L626.1 64.0L626.9 62.8L627.0 64.3L627.5 64.0L628.0 63.7L628.6 63.1L628.9 63.6L629.3 64.1L629.6 64.4L629.9 65.3L630.5 64.4L631.0 64.5L631.1 65.7L631.7 65.2L632.0 65.8L632.7 64.9L632.8 66.2L633.4 65.5L633.8 65.6L634.4 65.2L634.4 66.8L635.2 65.8L635.2 67.3L635.7 66.9L636.5 66.0L637.3 64.8L637.0 67.3L638.1 65.3L638.1 66.7L638.3 67.4L638.8 67.2L639.6 66.3L639.6 67.6L640.1 67.7L640.4 68.0L640.4 69.3L641.0 69.1L641.7 68.4L641.9 69.0L642.3 69.3L643.0 68.7L642.8 70.5L643.6 69.4L643.7 70.3L644.1 70.6L644.8 70.0L645.0 70.6L645.7 70.1L645.9 70.7L647.1 68.9L646.8 70.9L647.3 70.7L647.8 70.7L647.9 71.5L647.9 72.6L648.9 71.5L648.7 73.0L649.8 71.7L650.4 71.4" fill="none" stroke="#3ca62c" stroke-width="0.9"/>
<path d="M599.3 17A167.5 167.5 0 0 1 668.23 31.84L665.97 36.85A162 162 0 0 0 599.3 22.5Z" fill="#6b6dab" stroke="#1e1e30" stroke-width="1"/>
<line x1="599.3" y1="17" x2="599.3" y2="14.5" stroke="#333" stroke-width="0.6"/>
<text transform="translate(599.3,11.5) rotate(0)" font-size="5.6" text-anchor="middle" dominant-baseline="central" font-family="Liberation Sans, sans-serif" fill="#555">0</text>
<line x1="614.79" y1="17.72" x2="615.02" y2="15.23" stroke="#333" stroke-width="0.6"/>
<text transform="translate(615.3,12.24) rotate(5.31)" font-size="5.6" text-anchor="middle" dominant-baseline="central" font-family="Liberation Sans, sans-serif" fill="#555">10</text>
<line x1="630.14" y1="19.86" x2="630.6" y2="17.41" stroke="#333" stroke-width="0.6"/>
<text transform="translate(631.16,14.46) rotate(10.61)" font-size="5.6" text-anchor="middle" dominant-baseline="central" font-family="Liberation Sans, sans-serif" fill="#555">20</text>
<line x1="645.24" y1="23.42" x2="645.92" y2="21.02" stroke="#333" stroke-width="0.6"/>
<text transform="translate(646.74,18.13) rotate(15.92)" font-size="5.6" text-anchor="middle" dominant-baseline="central" font-family="Liberation Sans, sans-serif" fill="#555">30</text>
<line x1="659.93" y1="28.36" x2="660.84" y2="26.03" stroke="#333" stroke-width="0.6"/>
<text transform="translate(661.92,23.23) rotate(21.22)" font-size="5.6" text-anchor="middle" dominant-baseline="central" font-family="Liberation Sans, sans-serif" fill="#555">40</text>
<text transform="translate(637.18,8.53) rotate(12.15)" font-size="7.2" text-anchor="middle" dominant-baseline="central" font-family="Liberation Sans, sans-serif" fill="#4a4a4a">Chr01</text>
<path d="M671.8 44.7L672.6 45.1L666.5 56.8L665.7 56.4Z" fill="#97cbe0"/>
<path d="M672.5 45.0L673.3 45.5L667.1 57.1L666.3 56.7Z" fill="#96cae0"/>
<path d="M673.1 45.4L673.9 45.8L667.7 57.4L666.9 57.0Z" fill="#88c2dd"/>
<path d="M673.8 45.7L674.6 46.2L668.3 57.8L667.6 57.4Z" fill="#b8dbe9"/>
<path d="M674.5 46.1L675.3 46.5L668.9 58.1L668.2 57.7Z" fill="#b3d9e8"/>
<path d="M675.1 46.5L675.9 46.9L669.5 58.4L668.8 58.0Z" fill="#82bfdc"/>
<path d="M675.8 46.8L676.6 47.3L670.1 58.8L669.4 58.4Z" fill="#b0d8e7"/>
<path d="M676.5 47.2L677.3 47.7L670.7 59.1L670.0 58.7Z" fill="#9bcde1"/>
<path d="M677.1 47.6L677.9 48.0L671.3 59.5L670.6 59.0Z" fill="#add6e6"/>
<path d="M677.8 48.0L678.6 48.4L671.9 59.8L671.2 59.4Z" fill="#a4d3e3"/>
<path d="M678.4 48.3L679.2 48.8L672.5 60.2L671.8 59.7Z" fill="#79bada"/>
<path d="M679.1 48.7L679.9 49.2L673.1 60.5L672.4 60.1Z" fill="#a9d4e5"/>
<path d="M679.8 49.1L680.6 49.6L673.7 60.9L673.0 60.4Z" fill="#98cce1"/>
<path d="M680.4 49.5L681.2 50.0L674.3 61.2L673.6 60.8Z" fill="#9bcee1"/>
<path d="M681.1 49.9L681.9 50.4L674.9 61.6L674.2 61.2Z" fill="#b2d8e8"/>
<path d="M681.7 50.3L682.5 50.8L675.5 62.0L674.8 61.5Z" fill="#b9dbe9"/>
<path d="M682.4 50.7L683.1 51.2L676.1 62.3L675.4 61.9Z" fill="#8dc5de"/>
<path d="M683.0 51.1L683.8 51.6L676.7 62.7L676.0 62.3Z" fill="#b3d9e8"/>
<path d="M683.6 51.5L684.4 52.0L677.3 63.1L676.6 62.6Z" fill="#c6e0ed"/>
<path d="M684.3 51.9L685.1 52.4L677.9 63.5L677.2 63.0Z" fill="#ebf1f9"/>
<path d="M684.9 52.3L685.7 52.8L678.5 63.9L677.8 63.4Z" fill="#e8f0f8"/>
<path d="M685.6 52.7L686.3 53.2L679.0 64.2L678.3 63.8Z" fill="#ebf1f9"/>
<path d="M686.2 53.1L687.0 53.7L679.6 64.6L678.9 64.2Z" fill="#e8f0f8"/>
<path d="M686.8 53.6L687.6 54.1L680.2 65.0L679.5 64.5Z" fill="#e7eff8"/>
<path d="M687.5 54.0L688.2 54.5L680.8 65.4L680.1 64.9Z" fill="#edf2fa"/>
<path d="M688.1 54.4L688.9 54.9L681.4 65.8L680.7 65.3Z" fill="#ebf1f9"/>
<path d="M688.7 54.8L689.5 55.4L681.9 66.2L681.2 65.7Z" fill="#eaf0f9"/>
<path d="M689.3 55.3L690.1 55.8L682.5 66.6L681.8 66.1Z" fill="#e8f0f8"/>
<path d="M690.0 55.7L690.7 56.3L683.1 67.0L682.4 66.5Z" fill="#e8f0f8"/>
<path d="M690.6 56.2L691.3 56.7L683.6 67.4L682.9 66.9Z" fill="#ecf1fa"/>
<path d="M691.2 56.6L692.0 57.1L684.2 67.8L683.5 67.3Z" fill="#ebf1f9"/>
<path d="M691.8 57.0L692.6 57.6L684.8 68.2L684.1 67.7Z" fill="#edf2fa"/>
<path d="M692.4 57.5L693.2 58.0L685.3 68.6L684.6 68.1Z" fill="#edf2fa"/>
<path d="M693.1 57.9L693.8 58.5L685.9 69.1L685.2 68.5Z" fill="#ecf2fa"/>
<path d="M693.7 58.4L694.4 59.0L686.4 69.5L685.8 69.0Z" fill="#ebf1f9"/>
<path d="M694.3 58.9L695.0 59.4L687.0 69.9L686.3 69.4Z" fill="#e8f0f8"/>
<path d="M694.9 59.3L695.6 59.9L687.5 70.3L686.9 69.8Z" fill="#ebf1f9"/>
<path d="M695.5 59.8L696.2 60.3L688.1 70.7L687.4 70.2Z" fill="#e9f0f8"/>
<path d="M696.1 60.2L696.8 60.8L688.6 71.2L688.0 70.7Z" fill="#eaf0f9"/>
<path d="M696.7 60.7L697.4 61.3L689.2 71.6L688.5 71.1Z" fill="#ecf2fa"/>
<path d="M697.3 61.2L698.0 61.8L689.7 72.0L689.1 71.5Z" fill="#e8f0f8"/>
<path d="M697.9 61.7L698.6 62.2L690.3 72.5L689.6 72.0Z" fill="#e9f0f9"/>
<path d="M698.5 62.1L699.2 62.7L690.8 72.9L690.2 72.4Z" fill="#ebf1f9"/>
<path d="M699.1 62.6L699.8 63.2L691.3 73.4L690.7 72.8Z" fill="#eaf1f9"/>
<path d="M699.6 63.1L700.3 63.7L691.9 73.8L691.2 73.3Z" fill="#ebf1f9"/>
<path d="M700.2 63.6L700.9 64.2L692.4 74.3L691.8 73.7Z" fill="#edf2fa"/>
<path d="M700.8 64.1L701.5 64.7L692.9 74.7L692.3 74.2Z" fill="#ecf2fa"/>
<path d="M701.4 64.6L702.1 65.2L693.5 75.2L692.8 74.6Z" fill="#e8f0f8"/>
<path d="M702.0 65.1L702.7 65.7L694.0 75.6L693.4 75.1Z" fill="#edf2fa"/>
<path d="M702.5 65.6L703.2 66.2L694.5 76.1L693.9 75.5Z" fill="#ecf2fa"/>
<path d="M703.1 66.1L703.8 66.7L695.0 76.5L694.4 76.0Z" fill="#d9e9f3"/>
<path d="M703.7 66.6L704.4 67.2L695.6 77.0L694.9 76.4Z" fill="#d8e8f3"/>
<path d="M704.3 67.1L704.9 67.7L696.1 77.5L695.5 76.9Z" fill="#cce3ef"/>
<path d="M704.8 67.6L705.5 68.2L696.6 77.9L696.0 77.4Z" fill="#c4e0ed"/>
<path d="M705.4 68.1L706.1 68.7L697.1 78.4L696.5 77.8Z" fill="#d5e7f2"/>
<path d="M705.9 68.6L706.6 69.2L697.6 78.9L697.0 78.3Z" fill="#cae2ee"/>
<path d="M706.5 69.1L707.2 69.7L698.1 79.4L697.5 78.8Z" fill="#d4e7f2"/>
<path d="M707.1 69.6L707.7 70.3L698.6 79.8L698.0 79.3Z" fill="#cfe4f0"/>
<path d="M707.6 70.2L708.3 70.8L699.1 80.3L698.5 79.7Z" fill="#d8e8f3"/>
<path d="M708.2 70.7L708.8 71.3L699.6 80.8L699.0 80.2Z" fill="#dbeaf4"/>
<path d="M708.7 71.2L709.4 71.8L700.1 81.3L699.5 80.7Z" fill="#cae2ee"/>
<path d="M709.3 71.7L709.9 72.4L700.6 81.8L700.0 81.2Z" fill="#d3e6f1"/>
<path d="M709.8 72.3L710.5 72.9L701.1 82.3L700.5 81.7Z" fill="#d4e6f1"/>
<path d="M710.3 72.8L711.0 73.5L701.6 82.8L701.0 82.2Z" fill="#d1e5f0"/>
<path d="M710.9 73.3L711.5 74.0L702.1 83.3L701.5 82.7Z" fill="#cce3ef"/>
<path d="M711.4 73.9L712.1 74.5L702.6 83.8L702.0 83.1Z" fill="#d5e7f2"/>
<path d="M711.9 74.4L712.6 75.1L703.1 84.3L702.5 83.6Z" fill="#cce3ef"/>
<path d="M712.5 75.0L713.1 75.6L703.6 84.8L703.0 84.1Z" fill="#d8e8f3"/>
<path d="M713.0 75.5L713.6 76.2L704.1 85.3L703.5 84.6Z" fill="#76b8da"/>
<path d="M713.5 76.1L714.2 76.7L704.5 85.8L704.0 85.2Z" fill="#80bedc"/>
<path d="M714.0 76.6L714.7 77.3L705.0 86.3L704.4 85.7Z" fill="#81bedc"/>
<path d="M714.6 77.2L715.2 77.9L705.5 86.8L704.9 86.2Z" fill="#8dc5de"/>
<path d="M715.1 77.7L715.7 78.4L706.0 87.3L705.4 86.7Z" fill="#4c98cf"/>
<path d="M715.6 78.3L716.2 79.0L706.4 87.8L705.9 87.2Z" fill="#8fc6df"/>
<path d="M716.1 78.9L716.7 79.5L706.9 88.3L706.3 87.7Z" fill="#80bddc"/>
<path d="M716.6 79.4L717.2 80.1L707.4 88.9L706.8 88.2Z" fill="#98cce1"/>
<path d="M717.1 80.0L717.7 80.7L707.8 89.4L707.3 88.7Z" fill="#8dc5de"/>
<path d="M717.6 80.6L718.2 81.3L708.3 89.9L707.7 89.3Z" fill="#90c7df"/>
<path d="M718.1 81.1L718.7 81.8L708.7 90.4L708.2 89.8Z" fill="#72b4d8"/>
<path d="M718.6 81.7L719.2 82.4L709.2 91.0L708.6 90.3Z" fill="#83bfdc"/>
<path d="M719.1 82.3L719.7 83.0L709.6 91.5L709.1 90.8Z" fill="#91c7df"/>
<path d="M719.6 82.9L720.2 83.6L710.1 92.0L709.5 91.4Z" fill="#3d8dcb"/>
<path d="M720.1 83.4L720.7 84.2L710.5 92.6L710.0 91.9Z" fill="#68add6"/>
<path d="M720.6 84.0L721.2 84.7L711.0 93.1L710.4 92.4Z" fill="#4f9bd0"/>
<path d="M721.1 84.6L721.7 85.3L711.4 93.6L710.9 93.0Z" fill="#6aafd7"/>
<path d="M721.6 85.2L722.1 85.9L711.8 94.2L711.3 93.5Z" fill="#65abd5"/>
<path d="M722.0 85.8L722.6 86.5L712.3 94.7L711.7 94.1Z" fill="#56a0d1"/>
<path d="M722.5 86.4L723.1 87.1L712.7 95.3L712.2 94.6Z" fill="#5ea6d3"/>
<path d="M723.0 87.0L723.6 87.7L713.1 95.8L712.6 95.2Z" fill="#6aafd7"/>
<path d="M723.5 87.6L724.0 88.3L713.6 96.4L713.0 95.7Z" fill="#3e8ecb"/>
<path d="M653.1 80.8L653.7 81.1L649.0 90.1L648.4 89.8Z" fill="#bab8df"/>
<path d="M653.6 81.1L654.2 81.4L649.4 90.3L648.9 90.0Z" fill="#b7b5de"/>
<path d="M654.1 81.3L654.7 81.7L649.9 90.5L649.3 90.2Z" fill="#a6a3d4"/>
<path d="M654.5 81.6L655.2 81.9L650.3 90.8L649.8 90.5Z" fill="#d0d0ea"/>
<path d="M655.0 81.9L655.6 82.2L650.8 91.0L650.2 90.7Z" fill="#9794cc"/>
<path d="M655.5 82.1L656.1 82.5L651.2 91.3L650.7 91.0Z" fill="#c3c2e4"/>
<path d="M656.0 82.4L656.6 82.7L651.7 91.5L651.1 91.2Z" fill="#bab8df"/>
<path d="M656.5 82.7L657.1 83.0L652.1 91.8L651.6 91.5Z" fill="#c9c8e6"/>
<path d="M657.0 83.0L657.6 83.3L652.6 92.0L652.0 91.7Z" fill="#b8b6de"/>
<path d="M657.5 83.2L658.1 83.6L653.0 92.3L652.5 92.0Z" fill="#bfbee2"/>
<path d="M658.0 83.5L658.6 83.9L653.5 92.6L652.9 92.3Z" fill="#b6b4dd"/>
<path d="M658.5 83.8L659.1 84.2L653.9 92.8L653.4 92.5Z" fill="#cacae7"/>
<path d="M659.0 84.1L659.6 84.4L654.3 93.1L653.8 92.8Z" fill="#b7b5dd"/>
<path d="M659.5 84.4L660.0 84.7L654.8 93.4L654.2 93.0Z" fill="#bcbae0"/>
<path d="M659.9 84.7L660.5 85.0L655.2 93.6L654.7 93.3Z" fill="#bebde1"/>
<path d="M660.4 85.0L661.0 85.3L655.7 93.9L655.1 93.6Z" fill="#a8a5d5"/>
<path d="M660.9 85.3L661.5 85.6L656.1 94.2L655.6 93.8Z" fill="#bcbae0"/>
<path d="M661.4 85.6L662.0 85.9L656.5 94.5L656.0 94.1Z" fill="#b5b3dc"/>
<path d="M661.9 85.9L662.4 86.2L657.0 94.7L656.4 94.4Z" fill="#c8c7e6"/>
<path d="M662.3 86.2L662.9 86.5L657.4 95.0L656.9 94.7Z" fill="#cdcde9"/>
<path d="M662.8 86.5L663.4 86.8L657.8 95.3L657.3 94.9Z" fill="#c5c5e5"/>
<path d="M663.3 86.8L663.8 87.2L658.3 95.6L657.7 95.2Z" fill="#c8c8e6"/>
<path d="M663.7 87.1L664.3 87.5L658.7 95.9L658.2 95.5Z" fill="#c9c8e6"/>
<path d="M664.2 87.4L664.8 87.8L659.1 96.1L658.6 95.8Z" fill="#aaa8d6"/>
<path d="M664.7 87.7L665.2 88.1L659.5 96.4L659.0 96.1Z" fill="#b9b7de"/>
<path d="M665.1 88.0L665.7 88.4L660.0 96.7L659.5 96.4Z" fill="#c9c9e7"/>
<path d="M665.6 88.3L666.2 88.7L660.4 97.0L659.9 96.7Z" fill="#c1c0e3"/>
<path d="M666.1 88.7L666.6 89.1L660.8 97.3L660.3 97.0Z" fill="#bcbae0"/>
<path d="M666.5 89.0L667.1 89.4L661.2 97.6L660.7 97.3Z" fill="#c5c4e5"/>
<path d="M667.0 89.3L667.6 89.7L661.7 97.9L661.1 97.6Z" fill="#b2afdb"/>
<path d="M667.5 89.6L668.0 90.1L662.1 98.2L661.6 97.9Z" fill="#b4b2dc"/>
<path d="M667.9 90.0L668.5 90.4L662.5 98.5L662.0 98.2Z" fill="#b7b5dd"/>
<path d="M668.4 90.3L668.9 90.7L662.9 98.8L662.4 98.5Z" fill="#b4b2dc"/>
<path d="M668.8 90.6L669.4 91.1L663.3 99.1L662.8 98.8Z" fill="#b8b6de"/>
<path d="M669.3 91.0L669.8 91.4L663.7 99.4L663.2 99.1Z" fill="#aaa8d7"/>
<path d="M669.7 91.3L670.3 91.7L664.1 99.8L663.6 99.4Z" fill="#cacae7"/>
<path d="M670.2 91.7L670.7 92.1L664.5 100.1L664.0 99.7Z" fill="#cecee9"/>
<path d="M670.6 92.0L671.2 92.4L665.0 100.4L664.5 100.0Z" fill="#b8b7de"/>
<path d="M671.1 92.4L671.6 92.8L665.4 100.7L664.9 100.3Z" fill="#cecee9"/>
<path d="M671.5 92.7L672.1 93.1L665.8 101.0L665.3 100.6Z" fill="#b9b7de"/>
<path d="M672.0 93.0L672.5 93.5L666.2 101.3L665.7 101.0Z" fill="#b5b3dc"/>
<path d="M672.4 93.4L672.9 93.8L666.6 101.7L666.1 101.3Z" fill="#bab8df"/>
<path d="M672.8 93.8L673.4 94.2L667.0 102.0L666.5 101.6Z" fill="#b7b5dd"/>
<path d="M673.3 94.1L673.8 94.5L667.4 102.3L666.9 101.9Z" fill="#b9b7df"/>
<path d="M673.7 94.5L674.2 94.9L667.8 102.7L667.3 102.3Z" fill="#bfbde1"/>
<path d="M674.1 94.8L674.7 95.3L668.2 103.0L667.7 102.6Z" fill="#bebce1"/>
<path d="M674.6 95.2L675.1 95.6L668.5 103.3L668.1 102.9Z" fill="#b9b7df"/>
<path d="M675.0 95.6L675.5 96.0L668.9 103.7L668.5 103.2Z" fill="#cfcfea"/>
<path d="M675.4 95.9L676.0 96.4L669.3 104.0L668.9 103.6Z" fill="#d3d3eb"/>
<path d="M675.9 96.3L676.4 96.7L669.7 104.3L669.2 103.9Z" fill="#d6d6ec"/>
<path d="M676.3 96.7L676.8 97.1L670.1 104.7L669.6 104.3Z" fill="#d4d4ec"/>
<path d="M676.7 97.0L677.2 97.5L670.5 105.0L670.0 104.6Z" fill="#c9c8e6"/>
<path d="M677.1 97.4L677.6 97.9L670.9 105.4L670.4 104.9Z" fill="#8480c1"/>
<path d="M677.6 97.8L678.1 98.2L671.2 105.7L670.8 105.3Z" fill="#bdbce1"/>
<path d="M678.0 98.2L678.5 98.6L671.6 106.1L671.2 105.6Z" fill="#c7c6e5"/>
<path d="M678.4 98.5L678.9 99.0L672.0 106.4L671.5 106.0Z" fill="#bdbce1"/>
<path d="M678.8 98.9L679.3 99.4L672.4 106.8L671.9 106.3Z" fill="#cccbe8"/>
<path d="M679.2 99.3L679.7 99.8L672.8 107.1L672.3 106.7Z" fill="#d6d6ed"/>
<path d="M679.6 99.7L680.1 100.2L673.1 107.5L672.7 107.0Z" fill="#9895cc"/>
<path d="M680.0 100.1L680.5 100.6L673.5 107.8L673.0 107.4Z" fill="#c5c4e4"/>
<path d="M680.4 100.5L680.9 101.0L673.9 108.2L673.4 107.7Z" fill="#b9b8df"/>
<path d="M680.8 100.9L681.3 101.4L674.2 108.5L673.8 108.1Z" fill="#b7b6de"/>
<path d="M681.2 101.3L681.7 101.8L674.6 108.9L674.2 108.5Z" fill="#c8c8e6"/>
<path d="M681.6 101.7L682.1 102.2L675.0 109.3L674.5 108.8Z" fill="#d6d6ed"/>
<path d="M682.0 102.1L682.5 102.6L675.3 109.6L674.9 109.2Z" fill="#c2c1e3"/>
<path d="M682.4 102.5L682.9 103.0L675.7 110.0L675.3 109.6Z" fill="#bab8df"/>
<path d="M682.8 102.9L683.3 103.4L676.0 110.4L675.6 109.9Z" fill="#c7c6e5"/>
<path d="M683.2 103.3L683.7 103.8L676.4 110.7L676.0 110.3Z" fill="#bcbae0"/>
<path d="M683.6 103.7L684.1 104.2L676.8 111.1L676.3 110.7Z" fill="#c7c6e5"/>
<path d="M684.0 104.1L684.5 104.6L677.1 111.5L676.7 111.0Z" fill="#c2c1e3"/>
<path d="M684.4 104.5L684.9 105.0L677.5 111.9L677.0 111.4Z" fill="#cbcae7"/>
<path d="M684.8 104.9L685.2 105.4L677.8 112.2L677.4 111.8Z" fill="#c6c6e5"/>
<path d="M685.2 105.3L685.6 105.8L678.2 112.6L677.7 112.2Z" fill="#cacae7"/>
<path d="M685.5 105.7L686.0 106.2L678.5 113.0L678.1 112.5Z" fill="#aba9d7"/>
<path d="M685.9 106.2L686.4 106.7L678.9 113.4L678.4 112.9Z" fill="#b8b6de"/>
<path d="M686.3 106.6L686.8 107.1L679.2 113.8L678.8 113.3Z" fill="#c8c7e6"/>
<path d="M686.7 107.0L687.1 107.5L679.5 114.2L679.1 113.7Z" fill="#bebde1"/>
<path d="M687.1 107.4L687.5 107.9L679.9 114.6L679.5 114.1Z" fill="#b7b5de"/>
<path d="M687.4 107.8L687.9 108.4L680.2 114.9L679.8 114.5Z" fill="#b9b7df"/>
<path d="M687.8 108.3L688.2 108.8L680.5 115.3L680.1 114.9Z" fill="#bfbee2"/>
<path d="M688.2 108.7L688.6 109.2L680.9 115.7L680.5 115.3Z" fill="#a19ed1"/>
<path d="M688.5 109.1L689.0 109.7L681.2 116.1L680.8 115.6Z" fill="#cbcbe8"/>
<path d="M688.9 109.6L689.3 110.1L681.5 116.5L681.1 116.0Z" fill="#bdbbe0"/>
<path d="M689.2 110.0L689.7 110.5L681.9 116.9L681.5 116.4Z" fill="#b6b4dd"/>
<path d="M689.6 110.4L690.0 111.0L682.2 117.3L681.8 116.8Z" fill="#bdbbe0"/>
<path d="M690.0 110.9L690.4 111.4L682.5 117.7L682.1 117.2Z" fill="#bcbbe0"/>
<path d="M690.3 111.3L690.7 111.8L682.8 118.1L682.4 117.6Z" fill="#bdbce1"/>
<path d="M690.7 111.7L691.1 112.3L683.2 118.5L682.8 118.0Z" fill="#cacae7"/>
<path d="M691.0 112.2L691.4 112.7L683.5 118.9L683.1 118.4Z" fill="#c2c1e3"/>
<path d="M691.4 112.6L691.8 113.2L683.8 119.3L683.4 118.8Z" fill="#cecee9"/>
<path d="M660.3 66.8L660.8 66.9L661.0 67.6L661.5 67.5L661.9 67.9L662.5 67.8L662.8 68.3L663.3 68.3L663.5 69.0L663.8 69.4L664.5 69.2L665.0 69.3L665.4 69.6L665.7 69.9L666.0 70.4L666.3 70.8L666.8 70.9L667.5 70.7L667.7 71.3L668.1 71.6L668.5 71.8L669.0 71.9L669.5 72.0L670.0 72.1L670.1 72.8L670.6 72.9L670.8 73.6L671.6 73.2L672.0 73.5L672.4 73.7L672.7 74.1L672.8 74.8L673.5 74.7L673.7 75.3L674.0 75.7L674.6 75.6L675.0 75.9L675.2 76.4L675.7 76.5L676.5 76.3L676.8 76.7L677.1 77.0L677.7 77.1L678.0 77.5L678.5 77.6L678.5 78.4L679.1 78.4L680.3 77.6L679.8 79.0L680.7 78.7L681.0 79.1L681.9 78.7L682.2 79.1L682.4 79.6L683.3 79.3L684.2 78.9L684.3 79.6L684.3 80.3L685.7 79.5L685.2 80.8L687.5 78.9L686.8 80.5L687.9 79.9L688.3 80.2L688.0 81.3L690.0 79.7L689.5 81.1L690.2 81.0L691.7 80.0L690.5 82.2L690.8 82.6L693.0 80.9L691.5 83.3L691.8 83.7L692.2 84.1L693.8 83.0L692.8 84.8L694.2 84.0L694.6 84.4L695.8 83.8L694.3 86.1L694.6 86.5L697.6 84.1L696.2 86.3L696.9 86.3L696.3 87.7L696.3 88.3L697.3 88.0L697.0 89.0L697.0 89.7L696.6 90.8L696.4 91.6L696.9 91.8L697.6 91.8L697.4 92.7L697.3 93.4L697.5 94.0L698.0 94.1L698.2 94.6L698.6 94.9L699.0 95.2L698.7 96.2L699.3 96.2L699.6 96.6L699.5 97.3L699.6 97.9L700.3 97.9L700.5 98.4L700.6 98.9L700.8 99.4L701.1 99.8L701.2 100.3L702.0 100.2L702.0 100.9L702.1 101.4L702.2 101.9L702.9 102.0L703.1 102.4L703.3 102.9L703.6 103.3L704.3 103.3 L703.35 104.08 A131.5 131.5 0 0 0 659.82 67.75 Z" fill="#eab0ae"/>
<path d="M660.3 66.8L660.8 66.9L661.0 67.6L661.5 67.5L661.9 67.9L662.5 67.8L662.8 68.3L663.3 68.3L663.5 69.0L663.8 69.4L664.5 69.2L665.0 69.3L665.4 69.6L665.7 69.9L666.0 70.4L666.3 70.8L666.8 70.9L667.5 70.7L667.7 71.3L668.1 71.6L668.5 71.8L669.0 71.9L669.5 72.0L670.0 72.1L670.1 72.8L670.6 72.9L670.8 73.6L671.6 73.2L672.0 73.5L672.4 73.7L672.7 74.1L672.8 74.8L673.5 74.7L673.7 75.3L674.0 75.7L674.6 75.6L675.0 75.9L675.2 76.4L675.7 76.5L676.5 76.3L676.8 76.7L677.1 77.0L677.7 77.1L678.0 77.5L678.5 77.6L678.5 78.4L679.1 78.4L680.3 77.6L679.8 79.0L680.7 78.7L681.0 79.1L681.9 78.7L682.2 79.1L682.4 79.6L683.3 79.3L684.2 78.9L684.3 79.6L684.3 80.3L685.7 79.5L685.2 80.8L687.5 78.9L686.8 80.5L687.9 79.9L688.3 80.2L688.0 81.3L690.0 79.7L689.5 81.1L690.2 81.0L691.7 80.0L690.5 82.2L690.8 82.6L693.0 80.9L691.5 83.3L691.8 83.7L692.2 84.1L693.8 83.0L692.8 84.8L694.2 84.0L694.6 84.4L695.8 83.8L694.3 86.1L694.6 86.5L697.6 84.1L696.2 86.3L696.9 86.3L696.3 87.7L696.3 88.3L697.3 88.0L697.0 89.0L697.0 89.7L696.6 90.8L696.4 91.6L696.9 91.8L697.6 91.8L697.4 92.7L697.3 93.4L697.5 94.0L698.0 94.1L698.2 94.6L698.6 94.9L699.0 95.2L698.7 96.2L699.3 96.2L699.6 96.6L699.5 97.3L699.6 97.9L700.3 97.9L700.5 98.4L700.6 98.9L700.8 99.4L701.1 99.8L701.2 100.3L702.0 100.2L702.0 100.9L702.1 101.4L702.2 101.9L702.9 102.0L703.1 102.4L703.3 102.9L703.6 103.3L704.3 103.3" fill="none" stroke="#d9353a" stroke-width="0.9"/>
<path d="M655.8 75.5L656.0 76.1L656.2 76.6L656.6 76.8L657.6 76.0L658.1 75.8L658.0 77.0L658.6 76.8L658.9 77.2L659.5 77.0L659.9 77.3L661.4 75.6L660.5 77.9L660.9 78.2L661.6 77.9L661.6 78.8L661.8 79.3L662.3 79.4L663.1 78.9L662.9 80.1L663.6 79.8L664.3 79.5L664.6 79.8L664.6 80.7L664.6 81.5L665.8 80.4L666.3 80.6L666.3 81.3L666.6 81.7L667.1 81.8L667.1 82.5L667.7 82.4L668.0 82.8L668.9 82.3L669.1 82.8L669.6 82.8L669.1 84.4L670.2 83.6L670.1 84.4L670.6 84.5L670.6 85.3L671.2 85.3L671.2 86.0L671.8 85.8L672.2 86.1L673.0 85.8L673.2 86.2L673.6 86.5L673.8 86.9L674.6 86.6L674.3 87.7L675.2 87.3L674.9 88.4L676.1 87.6L676.0 88.4L676.8 88.2L678.3 87.1L677.6 88.6L678.0 88.8L678.8 88.6L679.1 88.8L679.2 89.5L680.0 89.2L680.1 89.8L680.7 89.8L680.4 90.9L680.7 91.2L681.5 90.9L681.7 91.4L681.7 92.1L682.2 92.2L683.7 91.2L683.0 92.6L683.1 93.2L683.4 93.5L684.6 92.9L684.8 93.3L684.5 94.3L684.8 94.6L685.8 94.3L685.9 94.8L686.2 95.1L685.9 96.1L686.4 96.3L687.1 96.1L687.1 96.9L687.9 96.7L687.2 98.0L688.0 97.9L688.0 98.5L688.7 98.4L689.2 98.5L689.4 99.0L688.6 100.4L689.2 100.4L689.9 100.3L689.7 101.1L689.7 101.8L691.3 100.9L690.2 102.5L691.7 101.8L691.4 102.6L691.6 103.1L691.6 103.6L691.3 104.4L693.5 103.1L693.5 103.7L692.3 105.4L693.7 104.8L693.7 105.4L694.1 105.6L694.6 105.8L694.5 106.4L694.7 106.8L695.1 107.1L695.7 107.2L694.7 108.5L695.3 108.6L696.1 108.6L695.5 109.6L696.0 109.8 L695.43 110.2 A121.5 121.5 0 0 0 655.21 76.63 Z" fill="#d6edb4"/>
<path d="M655.8 75.5L656.0 76.1L656.2 76.6L656.6 76.8L657.6 76.0L658.1 75.8L658.0 77.0L658.6 76.8L658.9 77.2L659.5 77.0L659.9 77.3L661.4 75.6L660.5 77.9L660.9 78.2L661.6 77.9L661.6 78.8L661.8 79.3L662.3 79.4L663.1 78.9L662.9 80.1L663.6 79.8L664.3 79.5L664.6 79.8L664.6 80.7L664.6 81.5L665.8 80.4L666.3 80.6L666.3 81.3L666.6 81.7L667.1 81.8L667.1 82.5L667.7 82.4L668.0 82.8L668.9 82.3L669.1 82.8L669.6 82.8L669.1 84.4L670.2 83.6L670.1 84.4L670.6 84.5L670.6 85.3L671.2 85.3L671.2 86.0L671.8 85.8L672.2 86.1L673.0 85.8L673.2 86.2L673.6 86.5L673.8 86.9L674.6 86.6L674.3 87.7L675.2 87.3L674.9 88.4L676.1 87.6L676.0 88.4L676.8 88.2L678.3 87.1L677.6 88.6L678.0 88.8L678.8 88.6L679.1 88.8L679.2 89.5L680.0 89.2L680.1 89.8L680.7 89.8L680.4 90.9L680.7 91.2L681.5 90.9L681.7 91.4L681.7 92.1L682.2 92.2L683.7 91.2L683.0 92.6L683.1 93.2L683.4 93.5L684.6 92.9L684.8 93.3L684.5 94.3L684.8 94.6L685.8 94.3L685.9 94.8L686.2 95.1L685.9 96.1L686.4 96.3L687.1 96.1L687.1 96.9L687.9 96.7L687.2 98.0L688.0 97.9L688.0 98.5L688.7 98.4L689.2 98.5L689.4 99.0L688.6 100.4L689.2 100.4L689.9 100.3L689.7 101.1L689.7 101.8L691.3 100.9L690.2 102.5L691.7 101.8L691.4 102.6L691.6 103.1L691.6 103.6L691.3 104.4L693.5 103.1L693.5 103.7L692.3 105.4L693.7 104.8L693.7 105.4L694.1 105.6L694.6 105.8L694.5 106.4L694.7 106.8L695.1 107.1L695.7 107.2L694.7 108.5L695.3 108.6L696.1 108.6L695.5 109.6L696.0 109.8" fill="none" stroke="#3ca62c" stroke-width="0.9"/>
<path d="M676.38 35.79A167.5 167.5 0 0 1 731.83 82.07L727.48 85.43A162 162 0 0 0 673.85 40.67Z" fill="#6b6dab" stroke="#1e1e30" stroke-width="1"/>
<line x1="676.38" y1="35.79" x2="677.53" y2="33.57" stroke="#333" stroke-width="0.6"/>
<text transform="translate(678.91,30.91) rotate(27.4)" font-size="5.6" text-anchor="middle" dominant-baseline="central" font-family="Liberation Sans, sans-serif" fill="#555">0</text>
<line x1="690.18" y1="43.8" x2="691.54" y2="41.7" stroke="#333" stroke-width="0.6"/>
<text transform="translate(693.17,39.18) rotate(32.86)" font-size="5.6" text-anchor="middle" dominant-baseline="central" font-family="Liberation Sans, sans-serif" fill="#555">10</text>
<line x1="703.16" y1="53.09" x2="704.71" y2="51.13" stroke="#333" stroke-width="0.6"/>
<text transform="translate(706.57,48.77) rotate(38.32)" font-size="5.6" text-anchor="middle" dominant-baseline="central" font-family="Liberation Sans, sans-serif" fill="#555">20</text>
<line x1="715.2" y1="63.57" x2="716.92" y2="61.76" stroke="#333" stroke-width="0.6"/>
<text transform="translate(719,59.6) rotate(43.78)" font-size="5.6" text-anchor="middle" dominant-baseline="central" font-family="Liberation Sans, sans-serif" fill="#555">30</text>
<line x1="726.18" y1="75.15" x2="728.07" y2="73.51" stroke="#333" stroke-width="0.6"/>
<text transform="translate(730.34,71.55) rotate(49.24)" font-size="5.6" text-anchor="middle" dominant-baseline="central" font-family="Liberation Sans, sans-serif" fill="#555">40</text>
<text transform="translate(714.64,46.31) rotate(39.85)" font-size="7.2" text-anchor="middle" dominant-baseline="central" font-family="Liberation Sans, sans-serif" fill="#4a4a4a">Chr02</text>
<path d="M728.3 94.2L728.8 94.9L718.0 102.4L717.5 101.7Z" fill="#a5d3e3"/>
<path d="M728.8 94.8L729.3 95.6L718.4 103.0L717.9 102.3Z" fill="#badcea"/>
<path d="M729.2 95.4L729.7 96.2L718.8 103.6L718.3 102.9Z" fill="#add6e6"/>
<path d="M729.6 96.0L730.1 96.8L719.2 104.2L718.7 103.5Z" fill="#9bcde1"/>
<path d="M730.0 96.7L730.6 97.5L719.6 104.7L719.1 104.0Z" fill="#b7dae9"/>
<path d="M730.5 97.3L731.0 98.1L719.9 105.3L719.5 104.6Z" fill="#bfddeb"/>
<path d="M730.9 98.0L731.4 98.7L720.3 105.9L719.9 105.2Z" fill="#b6dae8"/>
<path d="M731.3 98.6L731.8 99.4L720.7 106.5L720.2 105.8Z" fill="#acd6e6"/>
<path d="M731.7 99.2L732.2 100.0L721.1 107.1L720.6 106.4Z" fill="#bdddeb"/>
<path d="M732.1 99.9L732.6 100.7L721.5 107.7L721.0 107.0Z" fill="#a9d5e5"/>
<path d="M732.5 100.5L733.0 101.3L721.8 108.3L721.4 107.6Z" fill="#a2d1e3"/>
<path d="M732.9 101.2L733.4 102.0L722.2 108.9L721.7 108.2Z" fill="#c0deeb"/>
<path d="M733.4 101.8L733.8 102.6L722.6 109.5L722.1 108.7Z" fill="#b4d9e8"/>
<path d="M733.8 102.5L734.2 103.3L722.9 110.1L722.5 109.3Z" fill="#c2dfec"/>
<path d="M734.1 103.1L734.6 103.9L723.3 110.7L722.8 109.9Z" fill="#bcdcea"/>
<path d="M734.5 103.8L735.0 104.6L723.6 111.3L723.2 110.5Z" fill="#b0d8e7"/>
<path d="M734.9 104.4L735.4 105.2L724.0 111.9L723.6 111.1Z" fill="#b6dae9"/>
<path d="M735.3 105.1L735.8 105.9L724.3 112.5L723.9 111.7Z" fill="#b4d9e8"/>
<path d="M735.7 105.7L736.2 106.6L724.7 113.1L724.3 112.3Z" fill="#99cce1"/>
<path d="M736.1 106.4L736.5 107.2L725.0 113.7L724.6 113.0Z" fill="#99cce1"/>
<path d="M736.5 107.1L736.9 107.9L725.4 114.3L725.0 113.6Z" fill="#c1dfec"/>
<path d="M736.8 107.7L737.3 108.6L725.7 114.9L725.3 114.2Z" fill="#99cce1"/>
<path d="M737.2 108.4L737.6 109.2L726.1 115.5L725.6 114.8Z" fill="#c0deeb"/>
<path d="M737.6 109.1L738.0 109.9L726.4 116.1L726.0 115.4Z" fill="#ebf1f9"/>
<path d="M737.9 109.8L738.4 110.6L726.7 116.8L726.3 116.0Z" fill="#cde4ef"/>
<path d="M738.3 110.4L738.7 111.2L727.0 117.4L726.6 116.6Z" fill="#e7eff8"/>
<path d="M738.6 111.1L739.1 111.9L727.4 118.0L727.0 117.2Z" fill="#eaf0f9"/>
<path d="M739.0 111.8L739.4 112.6L727.7 118.6L727.3 117.9Z" fill="#e9f0f9"/>
<path d="M739.4 112.5L739.8 113.3L728.0 119.2L727.6 118.5Z" fill="#edf2fa"/>
<path d="M739.7 113.1L740.1 114.0L728.3 119.9L727.9 119.1Z" fill="#edf2fa"/>
<path d="M740.0 113.8L740.5 114.6L728.6 120.5L728.3 119.7Z" fill="#e8f0f8"/>
<path d="M740.4 114.5L740.8 115.3L728.9 121.1L728.6 120.4Z" fill="#edf2fa"/>
<path d="M740.7 115.2L741.1 116.0L729.2 121.8L728.9 121.0Z" fill="#e8f0f8"/>
<path d="M741.1 115.9L741.5 116.7L729.5 122.4L729.2 121.6Z" fill="#edf2fa"/>
<path d="M741.4 116.6L741.8 117.4L729.8 123.0L729.5 122.3Z" fill="#e8f0f8"/>
<path d="M741.7 117.2L742.1 118.1L730.1 123.7L729.8 122.9Z" fill="#ecf2fa"/>
<path d="M742.0 117.9L742.4 118.8L730.4 124.3L730.1 123.5Z" fill="#e8f0f8"/>
<path d="M742.4 118.6L742.8 119.5L730.7 124.9L730.4 124.2Z" fill="#ecf1fa"/>
<path d="M742.7 119.3L743.1 120.2L731.0 125.6L730.7 124.8Z" fill="#ecf1fa"/>
<path d="M743.0 120.0L743.4 120.9L731.3 126.2L731.0 125.4Z" fill="#d2e6f1"/>
<path d="M743.3 120.7L743.7 121.6L731.6 126.8L731.2 126.1Z" fill="#eaf1f9"/>
<path d="M743.6 121.4L744.0 122.3L731.9 127.5L731.5 126.7Z" fill="#e8f0f8"/>
<path d="M743.9 122.1L744.3 123.0L732.1 128.1L731.8 127.3Z" fill="#e7eff8"/>
<path d="M744.2 122.8L744.6 123.7L732.4 128.8L732.1 128.0Z" fill="#ebf1f9"/>
<path d="M744.5 123.5L744.9 124.4L732.7 129.4L732.3 128.6Z" fill="#edf2fa"/>
<path d="M744.8 124.2L745.2 125.1L732.9 130.1L732.6 129.3Z" fill="#eaf1f9"/>
<path d="M745.1 124.9L745.5 125.8L733.2 130.7L732.9 129.9Z" fill="#e9f0f9"/>
<path d="M745.4 125.6L745.7 126.5L733.5 131.4L733.1 130.6Z" fill="#ebf1f9"/>
<path d="M745.7 126.4L746.0 127.2L733.7 132.0L733.4 131.2Z" fill="#d4e6f1"/>
<path d="M746.0 127.1L746.3 127.9L734.0 132.7L733.7 131.9Z" fill="#ebf1f9"/>
<path d="M746.2 127.8L746.6 128.6L734.2 133.3L733.9 132.5Z" fill="#cae2ee"/>
<path d="M746.5 128.5L746.8 129.4L734.5 134.0L734.2 133.2Z" fill="#e8f0f8"/>
<path d="M746.8 129.2L747.1 130.1L734.7 134.6L734.4 133.8Z" fill="#e8f0f8"/>
<path d="M747.0 129.9L747.4 130.8L734.9 135.3L734.7 134.5Z" fill="#ecf2fa"/>
<path d="M747.3 130.6L747.6 131.5L735.2 135.9L734.9 135.1Z" fill="#ebf1f9"/>
<path d="M747.6 131.3L747.9 132.2L735.4 136.6L735.1 135.8Z" fill="#ecf1fa"/>
<path d="M747.8 132.1L748.1 132.9L735.7 137.3L735.4 136.5Z" fill="#e9f0f9"/>
<path d="M748.1 132.8L748.4 133.7L735.9 137.9L735.6 137.1Z" fill="#e8eff8"/>
<path d="M748.3 133.5L748.6 134.4L736.1 138.6L735.8 137.8Z" fill="#ecf2fa"/>
<path d="M748.6 134.2L748.9 135.1L736.3 139.3L736.1 138.4Z" fill="#eaf1f9"/>
<path d="M748.8 135.0L749.1 135.8L736.5 139.9L736.3 139.1Z" fill="#edf2fa"/>
<path d="M749.0 135.7L749.3 136.6L736.8 140.6L736.5 139.8Z" fill="#ecf2fa"/>
<path d="M749.3 136.4L749.6 137.3L737.0 141.3L736.7 140.4Z" fill="#e7eff8"/>
<path d="M749.5 137.1L749.8 138.0L737.2 141.9L736.9 141.1Z" fill="#94c9e0"/>
<path d="M749.7 137.9L750.0 138.8L737.4 142.6L737.1 141.8Z" fill="#90c7df"/>
<path d="M750.0 138.6L750.2 139.5L737.6 143.3L737.3 142.4Z" fill="#6cb0d7"/>
<path d="M750.2 139.3L750.4 140.2L737.8 143.9L737.5 143.1Z" fill="#9dcee2"/>
<path d="M750.4 140.1L750.7 141.0L738.0 144.6L737.7 143.8Z" fill="#afd7e6"/>
<path d="M750.6 140.8L750.9 141.7L738.2 145.3L737.9 144.5Z" fill="#90c7df"/>
<path d="M750.8 141.5L751.1 142.4L738.4 145.9L738.1 145.1Z" fill="#9ecfe2"/>
<path d="M751.0 142.3L751.3 143.2L738.5 146.6L738.3 145.8Z" fill="#acd6e6"/>
<path d="M751.2 143.0L751.5 143.9L738.7 147.3L738.5 146.5Z" fill="#bcdcea"/>
<path d="M751.4 143.7L751.7 144.6L738.9 148.0L738.7 147.2Z" fill="#9dcee2"/>
<path d="M751.6 144.5L751.9 145.4L739.1 148.7L738.9 147.8Z" fill="#b9dbe9"/>
<path d="M751.8 145.2L752.1 146.1L739.2 149.3L739.0 148.5Z" fill="#abd5e5"/>
<path d="M752.0 146.0L752.2 146.9L739.4 150.0L739.2 149.2Z" fill="#a9d4e5"/>
<path d="M752.2 146.7L752.4 147.6L739.6 150.7L739.4 149.9Z" fill="#a2d1e3"/>
<path d="M752.4 147.4L752.6 148.3L739.7 151.4L739.5 150.5Z" fill="#b7dbe9"/>
<path d="M752.6 148.2L752.8 149.1L739.9 152.1L739.7 151.2Z" fill="#93c9e0"/>
<path d="M752.7 148.9L752.9 149.8L740.1 152.7L739.9 151.9Z" fill="#b8dbe9"/>
<path d="M752.9 149.7L753.1 150.6L740.2 153.4L740.0 152.6Z" fill="#89c3de"/>
<path d="M753.1 150.4L753.3 151.3L740.4 154.1L740.2 153.3Z" fill="#a3d2e3"/>
<path d="M753.2 151.2L753.4 152.1L740.5 154.8L740.3 154.0Z" fill="#a5d3e4"/>
<path d="M753.4 151.9L753.6 152.8L740.6 155.5L740.5 154.6Z" fill="#b2d8e7"/>
<path d="M753.5 152.7L753.7 153.6L740.8 156.2L740.6 155.3Z" fill="#b8dbe9"/>
<path d="M753.7 153.4L753.9 154.3L740.9 156.8L740.8 156.0Z" fill="#7bbbdb"/>
<path d="M753.8 154.1L754.0 155.1L741.1 157.5L740.9 156.7Z" fill="#83bfdc"/>
<path d="M754.0 154.9L754.2 155.8L741.2 158.2L741.0 157.4Z" fill="#a8d4e4"/>
<path d="M754.1 155.6L754.3 156.6L741.3 158.9L741.2 158.1Z" fill="#a2d2e3"/>
<path d="M754.3 156.4L754.4 157.3L741.4 159.6L741.3 158.8Z" fill="#99cce1"/>
<path d="M695.0 117.5L695.4 118.1L687.1 123.8L686.7 123.3Z" fill="#a5a3d4"/>
<path d="M695.3 118.0L695.7 118.5L687.4 124.2L687.0 123.7Z" fill="#cecee9"/>
<path d="M695.6 118.4L696.0 119.0L687.6 124.7L687.3 124.1Z" fill="#c4c3e4"/>
<path d="M695.9 118.9L696.3 119.5L687.9 125.1L687.6 124.6Z" fill="#a8a5d5"/>
<path d="M696.3 119.4L696.6 119.9L688.2 125.5L687.9 125.0Z" fill="#b7b5dd"/>
<path d="M696.6 119.8L697.0 120.4L688.5 126.0L688.2 125.4Z" fill="#b7b5dd"/>
<path d="M696.9 120.3L697.3 120.9L688.8 126.4L688.4 125.9Z" fill="#cac9e7"/>
<path d="M697.2 120.8L697.6 121.4L689.1 126.8L688.7 126.3Z" fill="#d1d1ea"/>
<path d="M697.5 121.3L697.9 121.8L689.3 127.3L689.0 126.7Z" fill="#cacae7"/>
<path d="M697.8 121.7L698.2 122.3L689.6 127.7L689.3 127.2Z" fill="#b9b7df"/>
<path d="M698.1 122.2L698.5 122.8L689.9 128.1L689.6 127.6Z" fill="#aeacd9"/>
<path d="M698.4 122.7L698.8 123.3L690.2 128.6L689.8 128.0Z" fill="#b0add9"/>
<path d="M698.7 123.2L699.1 123.8L690.4 129.0L690.1 128.5Z" fill="#aca9d7"/>
<path d="M699.0 123.7L699.4 124.3L690.7 129.5L690.4 128.9Z" fill="#cccce8"/>
<path d="M699.3 124.1L699.7 124.7L691.0 129.9L690.7 129.4Z" fill="#c6c5e5"/>
<path d="M699.6 124.6L699.9 125.2L691.2 130.4L690.9 129.8Z" fill="#bab8df"/>
<path d="M699.9 125.1L700.2 125.7L691.5 130.8L691.2 130.3Z" fill="#cdcde9"/>
<path d="M700.2 125.6L700.5 126.2L691.8 131.2L691.4 130.7Z" fill="#b8b6de"/>
<path d="M700.5 126.1L700.8 126.7L692.0 131.7L691.7 131.1Z" fill="#b9b7de"/>
<path d="M700.7 126.6L701.1 127.2L692.3 132.1L692.0 131.6Z" fill="#bdbbe0"/>
<path d="M701.0 127.1L701.3 127.7L692.5 132.6L692.2 132.0Z" fill="#bfbde1"/>
<path d="M701.3 127.6L701.6 128.2L692.8 133.0L692.5 132.5Z" fill="#cecee9"/>
<path d="M701.6 128.1L701.9 128.7L693.0 133.5L692.7 133.0Z" fill="#bab9df"/>
<path d="M701.8 128.6L702.2 129.2L693.3 134.0L693.0 133.4Z" fill="#cbcbe8"/>
<path d="M702.1 129.1L702.4 129.7L693.5 134.4L693.2 133.9Z" fill="#b3b1db"/>
<path d="M702.4 129.6L702.7 130.2L693.8 134.9L693.5 134.3Z" fill="#b0aeda"/>
<path d="M702.6 130.1L703.0 130.7L694.0 135.3L693.7 134.8Z" fill="#cecee9"/>
<path d="M702.9 130.6L703.2 131.2L694.2 135.8L693.9 135.2Z" fill="#cbcbe8"/>
<path d="M703.2 131.1L703.5 131.7L694.5 136.3L694.2 135.7Z" fill="#c8c7e6"/>
<path d="M703.4 131.6L703.7 132.2L694.7 136.7L694.4 136.2Z" fill="#c5c4e4"/>
<path d="M703.7 132.1L704.0 132.7L694.9 137.2L694.7 136.6Z" fill="#afadd9"/>
<path d="M703.9 132.6L704.2 133.2L695.2 137.6L694.9 137.1Z" fill="#bab8df"/>
<path d="M704.2 133.1L704.5 133.7L695.4 138.1L695.1 137.5Z" fill="#7470b8"/>
<path d="M704.4 133.6L704.7 134.2L695.6 138.6L695.3 138.0Z" fill="#c6c5e5"/>
<path d="M704.7 134.1L705.0 134.7L695.8 139.0L695.6 138.5Z" fill="#c0bfe2"/>
<path d="M704.9 134.6L705.2 135.2L696.1 139.5L695.8 138.9Z" fill="#7470b8"/>
<path d="M705.2 135.1L705.4 135.8L696.3 140.0L696.0 139.4Z" fill="#cccbe8"/>
<path d="M705.4 135.7L705.7 136.3L696.5 140.4L696.2 139.9Z" fill="#bbb9df"/>
<path d="M705.6 136.2L705.9 136.8L696.7 140.9L696.4 140.3Z" fill="#c2c1e3"/>
<path d="M705.9 136.7L706.1 137.3L696.9 141.4L696.6 140.8Z" fill="#b4b1dc"/>
<path d="M706.1 137.2L706.4 137.8L697.1 141.9L696.9 141.3Z" fill="#b1afda"/>
<path d="M706.3 137.7L706.6 138.4L697.3 142.3L697.1 141.8Z" fill="#d0d0ea"/>
<path d="M706.5 138.2L706.8 138.9L697.5 142.8L697.3 142.2Z" fill="#cbcbe8"/>
<path d="M706.8 138.8L707.0 139.4L697.7 143.3L697.5 142.7Z" fill="#bfbde1"/>
<path d="M707.0 139.3L707.3 139.9L697.9 143.8L697.7 143.2Z" fill="#cecde9"/>
<path d="M707.2 139.8L707.5 140.4L698.1 144.2L697.9 143.7Z" fill="#c4c3e4"/>
<path d="M707.4 140.3L707.7 141.0L698.3 144.7L698.1 144.1Z" fill="#c7c6e5"/>
<path d="M707.6 140.9L707.9 141.5L698.5 145.2L698.3 144.6Z" fill="#d3d3eb"/>
<path d="M707.8 141.4L708.1 142.0L698.7 145.7L698.5 145.1Z" fill="#a5a3d4"/>
<path d="M708.1 141.9L708.3 142.5L698.9 146.2L698.7 145.6Z" fill="#c5c5e5"/>
<path d="M708.3 142.4L708.5 143.1L699.1 146.7L698.8 146.1Z" fill="#d3d3eb"/>
<path d="M708.5 143.0L708.7 143.6L699.2 147.1L699.0 146.6Z" fill="#bfbee2"/>
<path d="M708.7 143.5L708.9 144.1L699.4 147.6L699.2 147.0Z" fill="#cdcde9"/>
<path d="M708.9 144.0L709.1 144.7L699.6 148.1L699.4 147.5Z" fill="#cecee9"/>
<path d="M709.1 144.6L709.3 145.2L699.8 148.6L699.6 148.0Z" fill="#c6c5e5"/>
<path d="M709.2 145.1L709.5 145.7L700.0 149.1L699.7 148.5Z" fill="#7470b8"/>
<path d="M709.4 145.6L709.7 146.3L700.1 149.6L699.9 149.0Z" fill="#c6c5e5"/>
<path d="M709.6 146.2L709.8 146.8L700.3 150.1L700.1 149.5Z" fill="#bbbae0"/>
<path d="M709.8 146.7L710.0 147.3L700.5 150.6L700.3 150.0Z" fill="#c4c3e4"/>
<path d="M710.0 147.2L710.2 147.9L700.6 151.0L700.4 150.4Z" fill="#cecde9"/>
<path d="M710.2 147.8L710.4 148.4L700.8 151.5L700.6 150.9Z" fill="#bfbee1"/>
<path d="M710.3 148.3L710.6 149.0L700.9 152.0L700.7 151.4Z" fill="#bab9df"/>
<path d="M710.5 148.8L710.7 149.5L701.1 152.5L700.9 151.9Z" fill="#d0d0ea"/>
<path d="M710.7 149.4L710.9 150.0L701.2 153.0L701.1 152.4Z" fill="#c2c0e3"/>
<path d="M710.9 149.9L711.1 150.6L701.4 153.5L701.2 152.9Z" fill="#c5c4e5"/>
<path d="M711.0 150.5L711.2 151.1L701.5 154.0L701.4 153.4Z" fill="#c8c8e6"/>
<path d="M711.2 151.0L711.4 151.7L701.7 154.5L701.5 153.9Z" fill="#d7d7ed"/>
<path d="M711.4 151.5L711.5 152.2L701.8 155.0L701.7 154.4Z" fill="#d0d0ea"/>
<path d="M711.5 152.1L711.7 152.7L702.0 155.5L701.8 154.9Z" fill="#cbcae7"/>
<path d="M711.7 152.6L711.9 153.3L702.1 156.0L702.0 155.4Z" fill="#d2d2eb"/>
<path d="M711.8 153.2L712.0 153.8L702.3 156.5L702.1 155.9Z" fill="#cfcfea"/>
<path d="M712.0 153.7L712.2 154.4L702.4 157.0L702.2 156.4Z" fill="#d9d9ee"/>
<path d="M712.1 154.3L712.3 154.9L702.5 157.5L702.4 156.9Z" fill="#cbcbe8"/>
<path d="M712.3 154.8L712.4 155.5L702.7 158.0L702.5 157.4Z" fill="#c7c6e6"/>
<path d="M712.4 155.4L712.6 156.0L702.8 158.5L702.6 157.9Z" fill="#d4d4ec"/>
<path d="M712.5 155.9L712.7 156.6L702.9 159.0L702.8 158.4Z" fill="#d0d0ea"/>
<path d="M712.7 156.5L712.8 157.1L703.0 159.5L702.9 158.9Z" fill="#c1bfe2"/>
<path d="M712.8 157.0L713.0 157.7L703.1 160.0L703.0 159.4Z" fill="#b9b7de"/>
<path d="M713.0 157.6L713.1 158.2L703.3 160.5L703.1 159.9Z" fill="#b9b7df"/>
<path d="M713.1 158.1L713.2 158.8L703.4 161.0L703.2 160.4Z" fill="#d4d4ec"/>
<path d="M713.2 158.7L713.4 159.3L703.5 161.5L703.4 160.9Z" fill="#c4c3e4"/>
<path d="M713.3 159.2L713.5 159.9L703.6 162.0L703.5 161.4Z" fill="#cbcbe8"/>
<path d="M713.5 159.8L713.6 160.4L703.7 162.5L703.6 161.9Z" fill="#c8c7e6"/>
<path d="M713.6 160.3L713.7 161.0L703.8 163.0L703.7 162.4Z" fill="#d3d3eb"/>
<path d="M713.7 160.9L713.8 161.6L703.9 163.5L703.8 162.9Z" fill="#b7b5dd"/>
<path d="M713.8 161.4L713.9 162.1L704.0 164.0L703.9 163.4Z" fill="#adabd8"/>
<path d="M713.9 162.0L714.0 162.7L704.1 164.6L704.0 163.9Z" fill="#cfcfea"/>
<path d="M714.0 162.5L714.1 163.2L704.2 165.1L704.1 164.4Z" fill="#bcbbe0"/>
<path d="M714.1 163.1L714.2 163.8L704.3 165.6L704.2 165.0Z" fill="#c6c6e5"/>
<path d="M714.2 163.7L714.3 164.3L704.4 166.1L704.3 165.5Z" fill="#bfbee1"/>
<path d="M707.5 108.8L707.7 109.2L708.0 109.6L708.7 109.7L709.0 110.0L709.2 110.5L709.5 110.9L709.4 111.5L709.9 111.7L710.3 112.1L710.1 112.8L710.6 113.0L711.1 113.3L711.0 113.9L711.3 114.3L711.5 114.7L711.6 115.2L712.1 115.5L712.3 116.0L712.7 116.2L712.8 116.7L713.6 116.9L713.2 117.6L713.5 118.0L714.6 117.9L714.3 118.7L714.5 119.1L714.7 119.5L714.8 120.0L715.2 120.3L715.4 120.8L715.4 121.4L715.7 121.8L716.2 122.0L716.6 122.4L716.7 122.8L717.1 123.2L717.8 123.4L717.5 124.0L717.0 124.8L717.9 124.9L718.1 125.4L717.8 126.1L718.7 126.2L718.5 126.8L718.9 127.2L718.6 127.8L719.1 128.1L719.7 128.4L719.6 128.9L719.9 129.3L720.3 129.7L720.9 129.9L720.5 130.7L720.8 131.0L721.0 131.5L721.5 131.8L721.3 132.4L722.0 132.6L722.6 132.9L722.6 133.4L723.7 133.5L723.7 134.0L724.0 134.4L724.5 134.8L724.7 135.2L725.1 135.6L726.3 135.6L726.3 136.2L726.4 136.6L727.3 136.9L727.7 137.2L726.5 138.2L727.6 138.3L729.1 138.3L729.5 138.7L729.2 139.4L728.9 140.0L728.2 140.7L729.6 140.8L731.7 140.6L732.4 140.9L731.1 141.9L731.5 142.3L731.5 142.8L733.4 142.7L731.2 144.0L732.7 144.0L730.7 145.1L734.0 144.7L732.8 145.6L734.2 145.7L734.2 146.2L733.3 147.0L731.4 148.1L731.8 148.5L731.9 149.0L735.1 148.6L735.0 149.2L732.5 150.4L735.1 150.2L731.6 151.6L734.6 151.4L733.4 152.2L733.4 152.7L735.4 152.8L733.0 153.8L732.5 154.5L733.6 154.7L733.6 155.2L732.3 156.0L732.1 156.6L732.6 157.0L731.2 157.8L732.5 158.0L732.4 158.5L731.5 159.2L731.8 159.6L730.7 160.4L730.8 160.8L730.9 161.3 L728.8 161.67 A131.5 131.5 0 0 0 707.02 109.07 Z" fill="#eab0ae"/>
<path d="M707.5 108.8L707.7 109.2L708.0 109.6L708.7 109.7L709.0 110.0L709.2 110.5L709.5 110.9L709.4 111.5L709.9 111.7L710.3 112.1L710.1 112.8L710.6 113.0L711.1 113.3L711.0 113.9L711.3 114.3L711.5 114.7L711.6 115.2L712.1 115.5L712.3 116.0L712.7 116.2L712.8 116.7L713.6 116.9L713.2 117.6L713.5 118.0L714.6 117.9L714.3 118.7L714.5 119.1L714.7 119.5L714.8 120.0L715.2 120.3L715.4 120.8L715.4 121.4L715.7 121.8L716.2 122.0L716.6 122.4L716.7 122.8L717.1 123.2L717.8 123.4L717.5 124.0L717.0 124.8L717.9 124.9L718.1 125.4L717.8 126.1L718.7 126.2L718.5 126.8L718.9 127.2L718.6 127.8L719.1 128.1L719.7 128.4L719.6 128.9L719.9 129.3L720.3 129.7L720.9 129.9L720.5 130.7L720.8 131.0L721.0 131.5L721.5 131.8L721.3 132.4L722.0 132.6L722.6 132.9L722.6 133.4L723.7 133.5L723.7 134.0L724.0 134.4L724.5 134.8L724.7 135.2L725.1 135.6L726.3 135.6L726.3 136.2L726.4 136.6L727.3 136.9L727.7 137.2L726.5 138.2L727.6 138.3L729.1 138.3L729.5 138.7L729.2 139.4L728.9 140.0L728.2 140.7L729.6 140.8L731.7 140.6L732.4 140.9L731.1 141.9L731.5 142.3L731.5 142.8L733.4 142.7L731.2 144.0L732.7 144.0L730.7 145.1L734.0 144.7L732.8 145.6L734.2 145.7L734.2 146.2L733.3 147.0L731.4 148.1L731.8 148.5L731.9 149.0L735.1 148.6L735.0 149.2L732.5 150.4L735.1 150.2L731.6 151.6L734.6 151.4L733.4 152.2L733.4 152.7L735.4 152.8L733.0 153.8L732.5 154.5L733.6 154.7L733.6 155.2L732.3 156.0L732.1 156.6L732.6 157.0L731.2 157.8L732.5 158.0L732.4 158.5L731.5 159.2L731.8 159.6L730.7 160.4L730.8 160.8L730.9 161.3" fill="none" stroke="#d9353a" stroke-width="0.9"/>
<path d="M700.8 113.4L700.3 114.3L699.8 115.2L700.5 115.3L701.4 115.2L701.9 115.4L701.0 116.5L701.6 116.7L701.8 117.1L702.2 117.4L702.0 118.0L702.2 118.4L703.0 118.5L703.7 118.5L703.0 119.5L703.9 119.4L704.8 119.4L703.4 120.8L704.4 120.7L704.5 121.2L704.1 121.9L704.7 122.1L704.6 122.7L705.9 122.4L705.1 123.4L705.2 123.9L705.4 124.2L706.3 124.3L706.0 124.9L706.1 125.4L706.9 125.5L707.8 125.5L707.5 126.2L708.0 126.4L707.0 127.4L707.6 127.6L708.3 127.8L708.8 128.0L708.2 128.8L708.1 129.4L709.5 129.2L709.1 129.8L710.1 129.9L708.9 130.9L710.1 130.9L709.4 131.7L709.9 131.9L710.9 132.0L711.1 132.4L711.0 132.9L711.6 133.1L711.6 133.6L712.2 133.9L711.0 134.9L712.5 134.7L712.5 135.2L712.8 135.6L712.1 136.3L713.4 136.3L713.3 136.8L712.6 137.6L712.9 137.9L713.8 138.0L714.2 138.4L714.7 138.6L713.5 139.6L714.2 139.8L716.6 139.4L714.1 140.8L715.0 140.9L715.1 141.4L716.2 141.5L715.2 142.3L716.0 142.5L715.7 143.1L717.1 143.1L717.5 143.4L717.6 143.8L717.0 144.5L717.4 144.9L718.2 145.1L716.9 146.0L717.9 146.2L717.9 146.6L718.9 146.8L719.2 147.2L717.9 148.1L719.6 148.0L719.1 148.6L719.3 149.0L718.9 149.6L719.9 149.8L719.3 150.5L719.9 150.8L719.3 151.4L720.4 151.6L721.3 151.8L720.3 152.5L720.5 153.0L719.9 153.6L720.7 153.9L721.0 154.3L719.8 155.0L720.8 155.2L719.7 156.0L719.7 156.4L721.2 156.5L720.2 157.2L719.9 157.8L719.9 158.2L719.7 158.7L720.2 159.1L719.9 159.6L721.1 159.8L720.1 160.5L720.4 160.9L720.9 161.2L721.3 161.6L720.8 162.2L719.7 162.8L720.3 163.2 L718.95 163.4 A121.5 121.5 0 0 0 698.83 114.81 Z" fill="#d6edb4"/>
<path d="M700.8 113.4L700.3 114.3L699.8 115.2L700.5 115.3L701.4 115.2L701.9 115.4L701.0 116.5L701.6 116.7L701.8 117.1L702.2 117.4L702.0 118.0L702.2 118.4L703.0 118.5L703.7 118.5L703.0 119.5L703.9 119.4L704.8 119.4L703.4 120.8L704.4 120.7L704.5 121.2L704.1 121.9L704.7 122.1L704.6 122.7L705.9 122.4L705.1 123.4L705.2 123.9L705.4 124.2L706.3 124.3L706.0 124.9L706.1 125.4L706.9 125.5L707.8 125.5L707.5 126.2L708.0 126.4L707.0 127.4L707.6 127.6L708.3 127.8L708.8 128.0L708.2 128.8L708.1 129.4L709.5 129.2L709.1 129.8L710.1 129.9L708.9 130.9L710.1 130.9L709.4 131.7L709.9 131.9L710.9 132.0L711.1 132.4L711.0 132.9L711.6 133.1L711.6 133.6L712.2 133.9L711.0 134.9L712.5 134.7L712.5 135.2L712.8 135.6L712.1 136.3L713.4 136.3L713.3 136.8L712.6 137.6L712.9 137.9L713.8 138.0L714.2 138.4L714.7 138.6L713.5 139.6L714.2 139.8L716.6 139.4L714.1 140.8L715.0 140.9L715.1 141.4L716.2 141.5L715.2 142.3L716.0 142.5L715.7 143.1L717.1 143.1L717.5 143.4L717.6 143.8L717.0 144.5L717.4 144.9L718.2 145.1L716.9 146.0L717.9 146.2L717.9 146.6L718.9 146.8L719.2 147.2L717.9 148.1L719.6 148.0L719.1 148.6L719.3 149.0L718.9 149.6L719.9 149.8L719.3 150.5L719.9 150.8L719.3 151.4L720.4 151.6L721.3 151.8L720.3 152.5L720.5 153.0L719.9 153.6L720.7 153.9L721.0 154.3L719.8 155.0L720.8 155.2L719.7 156.0L719.7 156.4L721.2 156.5L720.2 157.2L719.9 157.8L719.9 158.2L719.7 158.7L720.2 159.1L719.9 159.6L721.1 159.8L720.1 160.5L720.4 160.9L720.9 161.2L721.3 161.6L720.8 162.2L719.7 162.8L720.3 163.2" fill="none" stroke="#3ca62c" stroke-width="0.9"/>
<path d="M736.51 88.43A167.5 167.5 0 0 1 764.26 155.41L758.84 156.37A162 162 0 0 0 732 91.58Z" fill="#6b6dab" stroke="#1e1e30" stroke-width="1"/>
<line x1="736.51" y1="88.43" x2="738.56" y2="86.99" stroke="#333" stroke-width="0.6"/>
<text transform="translate(741.01,85.27) rotate(55)" font-size="5.6" text-anchor="middle" dominant-baseline="central" font-family="Liberation Sans, sans-serif" fill="#555">0</text>
<line x1="746.11" y1="103.85" x2="748.3" y2="102.65" stroke="#333" stroke-width="0.6"/>
<text transform="translate(750.93,101.21) rotate(61.22)" font-size="5.6" text-anchor="middle" dominant-baseline="central" font-family="Liberation Sans, sans-serif" fill="#555">10</text>
<line x1="753.98" y1="120.23" x2="756.29" y2="119.27" stroke="#333" stroke-width="0.6"/>
<text transform="translate(759.06,118.12) rotate(67.44)" font-size="5.6" text-anchor="middle" dominant-baseline="central" font-family="Liberation Sans, sans-serif" fill="#555">20</text>
<line x1="760.03" y1="137.37" x2="762.43" y2="136.66" stroke="#333" stroke-width="0.6"/>
<text transform="translate(765.31,135.82) rotate(73.66)" font-size="5.6" text-anchor="middle" dominant-baseline="central" font-family="Liberation Sans, sans-serif" fill="#555">30</text>
<line x1="764.19" y1="155.06" x2="766.65" y2="154.62" stroke="#333" stroke-width="0.6"/>
<text transform="translate(769.61,154.09) rotate(79.88)" font-size="5.6" text-anchor="middle" dominant-baseline="central" font-family="Liberation Sans, sans-serif" fill="#555">40</text>
<text transform="translate(765.6,115.62) rotate(67.5)" font-size="7.2" text-anchor="middle" dominant-baseline="central" font-family="Liberation Sans, sans-serif" fill="#4a4a4a">Chr03</text>
<path d="M755.7 165.9L755.8 166.7L742.7 168.2L742.6 167.4Z" fill="#99cce1"/>
<path d="M755.8 166.6L755.9 167.5L742.8 168.9L742.7 168.1Z" fill="#b5dae8"/>
<path d="M755.9 167.3L756.0 168.2L742.8 169.6L742.7 168.8Z" fill="#b0d7e7"/>
<path d="M755.9 168.1L756.0 169.0L742.9 170.3L742.8 169.4Z" fill="#aad5e5"/>
<path d="M756.0 168.8L756.1 169.7L743.0 170.9L742.9 170.1Z" fill="#c0deeb"/>
<path d="M756.1 169.5L756.2 170.4L743.0 171.6L742.9 170.8Z" fill="#a3d2e3"/>
<path d="M756.2 170.3L756.2 171.2L743.1 172.3L743.0 171.5Z" fill="#afd7e7"/>
<path d="M756.2 171.0L756.3 171.9L743.1 173.0L743.1 172.1Z" fill="#bcdcea"/>
<path d="M756.3 171.7L756.4 172.6L743.2 173.6L743.1 172.8Z" fill="#add6e6"/>
<path d="M756.3 172.5L756.4 173.4L743.2 174.3L743.2 173.5Z" fill="#bcdcea"/>
<path d="M756.4 173.2L756.5 174.1L743.3 175.0L743.2 174.2Z" fill="#beddeb"/>
<path d="M756.4 173.9L756.5 174.8L743.3 175.7L743.3 174.8Z" fill="#a8d4e4"/>
<path d="M756.5 174.7L756.5 175.6L743.4 176.3L743.3 175.5Z" fill="#b7dae9"/>
<path d="M756.5 175.4L756.6 176.3L743.4 177.0L743.4 176.2Z" fill="#a6d3e4"/>
<path d="M756.6 176.2L756.6 177.1L743.4 177.7L743.4 176.9Z" fill="#96cae0"/>
<path d="M756.6 176.9L756.7 177.8L743.5 178.4L743.4 177.5Z" fill="#bbdcea"/>
<path d="M756.7 177.6L756.7 178.5L743.5 179.0L743.5 178.2Z" fill="#a8d4e5"/>
<path d="M756.7 178.4L756.7 179.3L743.5 179.7L743.5 178.9Z" fill="#b4d9e8"/>
<path d="M756.7 179.1L756.7 180.0L743.5 180.4L743.5 179.6Z" fill="#b4d9e8"/>
<path d="M756.7 179.9L756.8 180.8L743.6 181.1L743.5 180.2Z" fill="#a9d4e5"/>
<path d="M756.8 180.6L756.8 181.5L743.6 181.7L743.6 180.9Z" fill="#a9d4e5"/>
<path d="M756.8 181.3L756.8 182.2L743.6 182.4L743.6 181.6Z" fill="#b0d7e7"/>
<path d="M756.8 182.1L756.8 183.0L743.6 183.1L743.6 182.3Z" fill="#b8dbe9"/>
<path d="M756.8 182.8L756.8 183.7L743.6 183.8L743.6 182.9Z" fill="#a6d3e4"/>
<path d="M756.8 183.5L756.8 184.5L743.6 184.5L743.6 183.6Z" fill="#aad5e5"/>
<path d="M756.8 184.3L756.8 185.2L743.6 185.1L743.6 184.3Z" fill="#a7d4e4"/>
<path d="M756.8 185.0L756.8 185.9L743.6 185.8L743.6 185.0Z" fill="#afd7e6"/>
<path d="M756.8 185.8L756.8 186.7L743.6 186.5L743.6 185.7Z" fill="#eaf1f9"/>
<path d="M756.8 186.5L756.8 187.4L743.6 187.2L743.6 186.3Z" fill="#edf2fa"/>
<path d="M756.8 187.2L756.8 188.1L743.6 187.8L743.6 187.0Z" fill="#e8f0f8"/>
<path d="M756.8 188.0L756.7 188.9L743.5 188.5L743.6 187.7Z" fill="#edf2fa"/>
<path d="M756.7 188.7L756.7 189.6L743.5 189.2L743.5 188.4Z" fill="#edf2fa"/>
<path d="M756.7 189.5L756.7 190.4L743.5 189.9L743.5 189.0Z" fill="#e7eff8"/>
<path d="M756.7 190.2L756.7 191.1L743.5 190.5L743.5 189.7Z" fill="#ecf1fa"/>
<path d="M756.7 190.9L756.6 191.8L743.4 191.2L743.5 190.4Z" fill="#edf2fa"/>
<path d="M756.6 191.7L756.6 192.6L743.4 191.9L743.5 191.1Z" fill="#d1e5f0"/>
<path d="M756.6 192.4L756.6 193.3L743.4 192.6L743.4 191.8Z" fill="#eaf0f9"/>
<path d="M756.6 193.2L756.5 194.1L743.3 193.3L743.4 192.4Z" fill="#d2e5f1"/>
<path d="M756.5 193.9L756.5 194.8L743.3 193.9L743.3 193.1Z" fill="#ebf1f9"/>
<path d="M756.5 194.6L756.4 195.5L743.2 194.6L743.3 193.8Z" fill="#c8e2ee"/>
<path d="M756.4 195.4L756.4 196.3L743.2 195.3L743.3 194.5Z" fill="#e8f0f8"/>
<path d="M756.4 196.1L756.3 197.0L743.1 196.0L743.2 195.1Z" fill="#edf2fa"/>
<path d="M756.3 196.8L756.2 197.7L743.1 196.6L743.2 195.8Z" fill="#ecf1fa"/>
<path d="M756.3 197.6L756.2 198.5L743.0 197.3L743.1 196.5Z" fill="#eaf1f9"/>
<path d="M756.2 198.3L756.1 199.2L743.0 198.0L743.0 197.2Z" fill="#e8f0f8"/>
<path d="M756.1 199.0L756.0 199.9L742.9 198.7L743.0 197.8Z" fill="#e8f0f8"/>
<path d="M756.1 199.8L756.0 200.7L742.8 199.3L742.9 198.5Z" fill="#cde4ef"/>
<path d="M756.0 200.5L755.9 201.4L742.8 200.0L742.9 199.2Z" fill="#c9e2ee"/>
<path d="M755.9 201.3L755.8 202.2L742.7 200.7L742.8 199.9Z" fill="#ebf1f9"/>
<path d="M755.8 202.0L755.7 202.9L742.6 201.3L742.7 200.5Z" fill="#edf2fa"/>
<path d="M755.7 202.7L755.6 203.6L742.5 202.0L742.6 201.2Z" fill="#e9f0f9"/>
<path d="M755.7 203.5L755.5 204.4L742.4 202.7L742.6 201.9Z" fill="#ebf1f9"/>
<path d="M755.6 204.2L755.4 205.1L742.4 203.4L742.5 202.5Z" fill="#eaf1f9"/>
<path d="M755.5 204.9L755.4 205.8L742.3 204.0L742.4 203.2Z" fill="#e8f0f8"/>
<path d="M755.4 205.7L755.2 206.6L742.2 204.7L742.3 203.9Z" fill="#aad5e5"/>
<path d="M755.3 206.4L755.1 207.3L742.1 205.4L742.2 204.6Z" fill="#bfdeeb"/>
<path d="M755.2 207.1L755.0 208.0L742.0 206.0L742.1 205.2Z" fill="#cae2ee"/>
<path d="M755.1 207.9L754.9 208.7L741.9 206.7L742.0 205.9Z" fill="#c7e1ee"/>
<path d="M754.9 208.6L754.8 209.5L741.8 207.4L741.9 206.6Z" fill="#b0d7e7"/>
<path d="M754.8 209.3L754.7 210.2L741.7 208.1L741.8 207.2Z" fill="#b9dbea"/>
<path d="M754.7 210.0L754.6 210.9L741.6 208.7L741.7 207.9Z" fill="#c5e0ed"/>
<path d="M754.6 210.8L754.4 211.7L741.4 209.4L741.6 208.6Z" fill="#c1deec"/>
<path d="M754.5 211.5L754.3 212.4L741.3 210.1L741.5 209.2Z" fill="#add6e6"/>
<path d="M754.3 212.2L754.2 213.1L741.2 210.7L741.3 209.9Z" fill="#badcea"/>
<path d="M754.2 213.0L754.0 213.8L741.1 211.4L741.2 210.6Z" fill="#afd7e6"/>
<path d="M754.1 213.7L753.9 214.6L740.9 212.1L741.1 211.2Z" fill="#c2dfec"/>
<path d="M753.9 214.4L753.8 215.3L740.8 212.7L741.0 211.9Z" fill="#afd7e6"/>
<path d="M753.8 215.1L753.6 216.0L740.7 213.4L740.8 212.6Z" fill="#add6e6"/>
<path d="M753.6 215.9L753.5 216.7L740.5 214.0L740.7 213.2Z" fill="#a5d3e4"/>
<path d="M753.5 216.6L753.3 217.5L740.4 214.7L740.6 213.9Z" fill="#87c2dd"/>
<path d="M753.3 217.3L753.2 218.2L740.3 215.4L740.4 214.6Z" fill="#9bcde1"/>
<path d="M753.2 218.0L753.0 218.9L740.1 216.0L740.3 215.2Z" fill="#a8d4e4"/>
<path d="M753.0 218.8L752.8 219.6L740.0 216.7L740.1 215.9Z" fill="#8dc5de"/>
<path d="M752.9 219.5L752.7 220.4L739.8 217.3L740.0 216.5Z" fill="#9bcde1"/>
<path d="M752.7 220.2L752.5 221.1L739.7 218.0L739.8 217.2Z" fill="#8dc5de"/>
<path d="M752.5 220.9L752.3 221.8L739.5 218.7L739.7 217.9Z" fill="#77b8da"/>
<path d="M752.4 221.6L752.1 222.5L739.3 219.3L739.5 218.5Z" fill="#a3d2e3"/>
<path d="M752.2 222.3L752.0 223.2L739.2 220.0L739.4 219.2Z" fill="#80bddc"/>
<path d="M752.0 223.1L751.8 223.9L739.0 220.6L739.2 219.8Z" fill="#96cae0"/>
<path d="M751.8 223.8L751.6 224.7L738.8 221.3L739.0 220.5Z" fill="#a7d4e4"/>
<path d="M751.6 224.5L751.4 225.4L738.7 221.9L738.9 221.1Z" fill="#86c1dd"/>
<path d="M751.4 225.2L751.2 226.1L738.5 222.6L738.7 221.8Z" fill="#7bbbdb"/>
<path d="M751.3 225.9L751.0 226.8L738.3 223.3L738.5 222.5Z" fill="#85c0dd"/>
<path d="M751.1 226.6L750.8 227.5L738.1 223.9L738.3 223.1Z" fill="#83c0dc"/>
<path d="M750.9 227.3L750.6 228.2L737.9 224.6L738.2 223.8Z" fill="#a7d4e4"/>
<path d="M750.7 228.1L750.4 228.9L737.7 225.2L738.0 224.4Z" fill="#93c9e0"/>
<path d="M750.5 228.8L750.2 229.6L737.5 225.9L737.8 225.1Z" fill="#7abada"/>
<path d="M750.2 229.5L750.0 230.3L737.4 226.5L737.6 225.7Z" fill="#7fbddb"/>
<path d="M750.0 230.2L749.8 231.1L737.2 227.1L737.4 226.4Z" fill="#7dbcdb"/>
<path d="M749.8 230.9L749.5 231.8L737.0 227.8L737.2 227.0Z" fill="#96cbe0"/>
<path d="M715.3 170.7L715.4 171.3L705.3 172.5L705.2 171.9Z" fill="#c4c4e4"/>
<path d="M715.3 171.2L715.4 171.9L705.4 173.0L705.3 172.4Z" fill="#b2b0db"/>
<path d="M715.4 171.8L715.5 172.4L705.4 173.5L705.4 172.9Z" fill="#d1d1ea"/>
<path d="M715.5 172.3L715.5 173.0L705.5 174.0L705.4 173.4Z" fill="#bdbce1"/>
<path d="M715.5 172.8L715.6 173.5L705.5 174.5L705.5 173.9Z" fill="#d1d1ea"/>
<path d="M715.6 173.4L715.6 174.1L705.6 175.0L705.5 174.4Z" fill="#b6b5dd"/>
<path d="M715.6 173.9L715.7 174.6L705.6 175.5L705.6 174.9Z" fill="#d0d0ea"/>
<path d="M715.7 174.5L715.7 175.2L705.7 176.0L705.6 175.4Z" fill="#bfbee2"/>
<path d="M715.7 175.0L715.8 175.7L705.7 176.5L705.6 175.9Z" fill="#c7c6e5"/>
<path d="M715.8 175.6L715.8 176.2L705.7 177.0L705.7 176.4Z" fill="#aeacd9"/>
<path d="M715.8 176.1L715.8 176.8L705.8 177.5L705.7 176.9Z" fill="#bcbae0"/>
<path d="M715.8 176.7L715.9 177.3L705.8 178.0L705.8 177.4Z" fill="#c9c9e7"/>
<path d="M715.9 177.2L715.9 177.9L705.8 178.5L705.8 177.8Z" fill="#c4c4e4"/>
<path d="M715.9 177.8L715.9 178.4L705.9 179.0L705.8 178.3Z" fill="#bdbce1"/>
<path d="M715.9 178.3L716.0 179.0L705.9 179.5L705.9 178.8Z" fill="#cbcae7"/>
<path d="M716.0 178.9L716.0 179.5L705.9 180.0L705.9 179.3Z" fill="#bdbce1"/>
<path d="M716.0 179.4L716.0 180.1L705.9 180.5L705.9 179.8Z" fill="#b9b8df"/>
<path d="M716.0 180.0L716.0 180.6L705.9 181.0L705.9 180.4Z" fill="#cfcfea"/>
<path d="M716.0 180.5L716.1 181.2L706.0 181.5L705.9 180.9Z" fill="#d0d0ea"/>
<path d="M716.0 181.1L716.1 181.7L706.0 182.0L706.0 181.4Z" fill="#c4c3e4"/>
<path d="M716.1 181.6L716.1 182.3L706.0 182.5L706.0 181.9Z" fill="#b9b8df"/>
<path d="M716.1 182.1L716.1 182.8L706.0 183.0L706.0 182.4Z" fill="#bcbae0"/>
<path d="M716.1 182.7L716.1 183.4L706.0 183.5L706.0 182.9Z" fill="#c2c1e3"/>
<path d="M716.1 183.2L716.1 183.9L706.0 184.0L706.0 183.4Z" fill="#afadd9"/>
<path d="M716.1 183.8L716.1 184.5L706.0 184.5L706.0 183.9Z" fill="#d1d1ea"/>
<path d="M716.1 184.3L716.1 185.0L706.0 185.0L706.0 184.4Z" fill="#aaa8d6"/>
<path d="M716.1 184.9L716.1 185.6L706.0 185.5L706.0 184.9Z" fill="#c7c6e5"/>
<path d="M716.1 185.4L716.1 186.1L706.0 186.0L706.0 185.4Z" fill="#b8b6de"/>
<path d="M716.1 186.0L716.1 186.7L706.0 186.5L706.0 185.9Z" fill="#827fc0"/>
<path d="M716.1 186.5L716.1 187.2L706.0 187.0L706.0 186.4Z" fill="#d2d2eb"/>
<path d="M716.1 187.1L716.1 187.8L706.0 187.5L706.0 186.9Z" fill="#817dbf"/>
<path d="M716.1 187.6L716.0 188.3L705.9 188.0L706.0 187.4Z" fill="#d5d5ec"/>
<path d="M716.0 188.2L716.0 188.8L705.9 188.5L705.9 187.9Z" fill="#b8b6de"/>
<path d="M716.0 188.7L716.0 189.4L705.9 189.0L705.9 188.4Z" fill="#c2c1e3"/>
<path d="M716.0 189.3L716.0 189.9L705.9 189.5L705.9 188.9Z" fill="#c4c3e4"/>
<path d="M716.0 189.8L715.9 190.5L705.9 190.0L705.9 189.4Z" fill="#d1d1ea"/>
<path d="M716.0 190.4L715.9 191.0L705.8 190.5L705.9 189.9Z" fill="#d8d8ee"/>
<path d="M715.9 190.9L715.9 191.6L705.8 191.0L705.8 190.4Z" fill="#d6d6ed"/>
<path d="M715.9 191.5L715.9 192.1L705.8 191.5L705.8 190.9Z" fill="#c3c2e3"/>
<path d="M715.9 192.0L715.8 192.7L705.7 192.0L705.8 191.4Z" fill="#bfbee2"/>
<path d="M715.8 192.6L715.8 193.2L705.7 192.5L705.7 191.9Z" fill="#cac9e7"/>
<path d="M715.8 193.1L715.7 193.8L705.7 193.0L705.7 192.4Z" fill="#c0bfe2"/>
<path d="M715.7 193.7L715.7 194.3L705.6 193.5L705.7 192.9Z" fill="#827fc0"/>
<path d="M715.7 194.2L715.6 194.9L705.6 194.0L705.6 193.4Z" fill="#bebce1"/>
<path d="M715.6 194.7L715.6 195.4L705.5 194.5L705.6 193.9Z" fill="#bebde1"/>
<path d="M715.6 195.3L715.5 196.0L705.5 195.0L705.5 194.4Z" fill="#c5c4e4"/>
<path d="M715.5 195.8L715.5 196.5L705.4 195.5L705.5 194.9Z" fill="#bebde1"/>
<path d="M715.5 196.4L715.4 197.0L705.4 196.0L705.4 195.4Z" fill="#d6d6ed"/>
<path d="M715.4 196.9L715.4 197.6L705.3 196.5L705.4 195.9Z" fill="#cecee9"/>
<path d="M715.4 197.5L715.3 198.1L705.3 197.0L705.3 196.3Z" fill="#d6d6ed"/>
<path d="M715.3 198.0L715.2 198.7L705.2 197.5L705.3 196.8Z" fill="#d5d5ec"/>
<path d="M715.3 198.6L715.2 199.2L705.1 198.0L705.2 197.3Z" fill="#bab8df"/>
<path d="M715.2 199.1L715.1 199.8L705.1 198.4L705.2 197.8Z" fill="#d1d1ea"/>
<path d="M715.1 199.6L715.0 200.3L705.0 198.9L705.1 198.3Z" fill="#cecde9"/>
<path d="M715.0 200.2L714.9 200.9L704.9 199.4L705.0 198.8Z" fill="#d0d0ea"/>
<path d="M715.0 200.7L714.9 201.4L704.9 199.9L705.0 199.3Z" fill="#c1bfe2"/>
<path d="M714.9 201.3L714.8 201.9L704.8 200.4L704.9 199.8Z" fill="#d0d0ea"/>
<path d="M714.8 201.8L714.7 202.5L704.7 200.9L704.8 200.3Z" fill="#b4b2dc"/>
<path d="M714.7 202.4L714.6 203.0L704.6 201.4L704.7 200.8Z" fill="#cfcfe9"/>
<path d="M714.6 202.9L714.5 203.6L704.6 201.9L704.7 201.3Z" fill="#c8c7e6"/>
<path d="M714.6 203.4L714.4 204.1L704.5 202.4L704.6 201.8Z" fill="#cdcde8"/>
<path d="M714.5 204.0L714.3 204.6L704.4 202.9L704.5 202.3Z" fill="#a7a4d5"/>
<path d="M714.4 204.5L714.3 205.2L704.3 203.4L704.4 202.8Z" fill="#d1d1eb"/>
<path d="M714.3 205.1L714.2 205.7L704.2 203.9L704.3 203.3Z" fill="#cecee9"/>
<path d="M714.2 205.6L714.1 206.3L704.1 204.4L704.2 203.8Z" fill="#bdbce1"/>
<path d="M714.1 206.1L714.0 206.8L704.0 204.9L704.2 204.3Z" fill="#c2c1e3"/>
<path d="M714.0 206.7L713.8 207.3L703.9 205.4L704.1 204.8Z" fill="#bdbbe0"/>
<path d="M713.9 207.2L713.7 207.9L703.8 205.9L704.0 205.3Z" fill="#aca9d7"/>
<path d="M713.8 207.8L713.6 208.4L703.7 206.3L703.9 205.7Z" fill="#b6b4dd"/>
<path d="M713.7 208.3L713.5 208.9L703.6 206.8L703.8 206.2Z" fill="#b3b1db"/>
<path d="M713.5 208.8L713.4 209.5L703.5 207.3L703.7 206.7Z" fill="#d1d1ea"/>
<path d="M713.4 209.4L713.3 210.0L703.4 207.8L703.6 207.2Z" fill="#b2afdb"/>
<path d="M713.3 209.9L713.2 210.6L703.3 208.3L703.4 207.7Z" fill="#afadd9"/>
<path d="M713.2 210.4L713.0 211.1L703.2 208.8L703.3 208.2Z" fill="#a9a7d6"/>
<path d="M713.1 211.0L712.9 211.6L703.1 209.3L703.2 208.7Z" fill="#b9b7df"/>
<path d="M712.9 211.5L712.8 212.2L703.0 209.8L703.1 209.2Z" fill="#c7c7e6"/>
<path d="M712.8 212.0L712.6 212.7L702.8 210.2L703.0 209.7Z" fill="#c6c6e5"/>
<path d="M712.7 212.6L712.5 213.2L702.7 210.7L702.9 210.1Z" fill="#c2c1e3"/>
<path d="M712.5 213.1L712.4 213.7L702.6 211.2L702.8 210.6Z" fill="#bbb9e0"/>
<path d="M712.4 213.6L712.2 214.3L702.5 211.7L702.6 211.1Z" fill="#b7b5de"/>
<path d="M712.3 214.2L712.1 214.8L702.3 212.2L702.5 211.6Z" fill="#a5a2d3"/>
<path d="M712.1 214.7L712.0 215.3L702.2 212.7L702.4 212.1Z" fill="#c8c8e6"/>
<path d="M712.0 215.2L711.8 215.9L702.1 213.2L702.2 212.6Z" fill="#9693cb"/>
<path d="M711.8 215.7L711.7 216.4L701.9 213.6L702.1 213.0Z" fill="#cac9e7"/>
<path d="M711.7 216.3L711.5 216.9L701.8 214.1L702.0 213.5Z" fill="#aba9d7"/>
<path d="M711.5 216.8L711.4 217.4L701.7 214.6L701.8 214.0Z" fill="#b7b5de"/>
<path d="M711.4 217.3L711.2 218.0L701.5 215.1L701.7 214.5Z" fill="#aeacd9"/>
<path d="M711.2 217.9L711.0 218.5L701.4 215.6L701.6 215.0Z" fill="#bfbee2"/>
<path d="M711.1 218.4L710.9 219.0L701.2 216.0L701.4 215.5Z" fill="#b4b2dc"/>
<path d="M710.9 218.9L710.7 219.5L701.1 216.5L701.3 215.9Z" fill="#bcbae0"/>
<path d="M731.2 168.8L730.8 169.3L731.0 169.7L730.7 170.2L731.1 170.7L731.2 171.1L730.8 171.6L730.8 172.1L731.2 172.5L731.1 173.0L731.1 173.5L731.7 173.9L731.2 174.4L731.5 174.8L731.8 175.3L731.7 175.8L731.6 176.2L731.8 176.7L731.6 177.2L732.0 177.6L731.4 178.1L731.2 178.6L731.2 179.1L731.9 179.5L731.5 180.0L731.4 180.4L731.9 180.9L731.9 181.4L732.1 181.8L732.1 182.3L731.8 182.8L732.0 183.2L732.1 183.7L733.1 184.2L733.1 184.6L733.3 185.1L733.7 185.6L733.2 186.0L735.6 186.6L735.3 187.0L734.6 187.5L735.3 188.0L736.0 188.5L737.4 189.0L735.3 189.4L736.3 189.9L735.6 190.4L739.3 191.0L739.5 191.6L739.6 192.1L737.2 192.4L737.8 192.9L737.7 193.4L737.4 193.9L738.5 194.5L738.9 195.0L739.4 195.5L739.3 196.0L736.5 196.3L739.2 197.0L736.9 197.3L739.2 198.0L736.4 198.2L736.8 198.7L735.6 199.1L736.1 199.6L733.8 199.8L734.0 200.3L733.8 200.8L734.3 201.3L733.2 201.7L733.2 202.2L732.5 202.6L731.6 202.9L731.6 203.4L731.2 203.8L730.5 204.2L730.4 204.6L730.5 205.1L730.8 205.6L730.0 206.0L730.2 206.5L729.7 206.9L730.1 207.4L729.8 207.8L729.8 208.3L729.1 208.7L729.1 209.1L728.9 209.6L729.0 210.1L729.1 210.5L729.0 211.0L728.7 211.4L728.8 211.9L728.3 212.3L728.8 212.9L728.1 213.2L728.7 213.8L728.4 214.2L728.6 214.8L727.8 215.0L727.6 215.5L728.0 216.0L727.5 216.4L727.3 216.8L727.7 217.4L727.2 217.8L727.2 218.2L727.6 218.8L726.7 219.1L727.1 219.7L726.4 220.0L726.8 220.6L726.7 221.0L726.8 221.5L726.2 221.8L726.6 222.4L726.1 222.8L726.1 223.3L725.4 223.5L725.9 224.2 L724.78 223.82 A131.5 131.5 0 0 0 729.87 168.93 Z" fill="#eab0ae"/>
<path d="M731.2 168.8L730.8 169.3L731.0 169.7L730.7 170.2L731.1 170.7L731.2 171.1L730.8 171.6L730.8 172.1L731.2 172.5L731.1 173.0L731.1 173.5L731.7 173.9L731.2 174.4L731.5 174.8L731.8 175.3L731.7 175.8L731.6 176.2L731.8 176.7L731.6 177.2L732.0 177.6L731.4 178.1L731.2 178.6L731.2 179.1L731.9 179.5L731.5 180.0L731.4 180.4L731.9 180.9L731.9 181.4L732.1 181.8L732.1 182.3L731.8 182.8L732.0 183.2L732.1 183.7L733.1 184.2L733.1 184.6L733.3 185.1L733.7 185.6L733.2 186.0L735.6 186.6L735.3 187.0L734.6 187.5L735.3 188.0L736.0 188.5L737.4 189.0L735.3 189.4L736.3 189.9L735.6 190.4L739.3 191.0L739.5 191.6L739.6 192.1L737.2 192.4L737.8 192.9L737.7 193.4L737.4 193.9L738.5 194.5L738.9 195.0L739.4 195.5L739.3 196.0L736.5 196.3L739.2 197.0L736.9 197.3L739.2 198.0L736.4 198.2L736.8 198.7L735.6 199.1L736.1 199.6L733.8 199.8L734.0 200.3L733.8 200.8L734.3 201.3L733.2 201.7L733.2 202.2L732.5 202.6L731.6 202.9L731.6 203.4L731.2 203.8L730.5 204.2L730.4 204.6L730.5 205.1L730.8 205.6L730.0 206.0L730.2 206.5L729.7 206.9L730.1 207.4L729.8 207.8L729.8 208.3L729.1 208.7L729.1 209.1L728.9 209.6L729.0 210.1L729.1 210.5L729.0 211.0L728.7 211.4L728.8 211.9L728.3 212.3L728.8 212.9L728.1 213.2L728.7 213.8L728.4 214.2L728.6 214.8L727.8 215.0L727.6 215.5L728.0 216.0L727.5 216.4L727.3 216.8L727.7 217.4L727.2 217.8L727.2 218.2L727.6 218.8L726.7 219.1L727.1 219.7L726.4 220.0L726.8 220.6L726.7 221.0L726.8 221.5L726.2 221.8L726.6 222.4L726.1 222.8L726.1 223.3L725.4 223.5L725.9 224.2" fill="none" stroke="#d9353a" stroke-width="0.9"/>
<path d="M720.4 170.1L721.8 170.3L721.8 170.8L720.7 171.3L720.7 171.8L722.1 172.0L722.3 172.5L721.4 173.0L720.9 173.5L720.9 173.9L721.2 174.3L722.5 174.6L721.4 175.2L721.4 175.6L722.3 175.9L720.9 176.5L722.5 176.8L722.5 177.2L721.6 177.7L721.7 178.2L722.6 178.5L722.6 179.0L722.7 179.4L722.4 179.9L721.6 180.3L722.6 180.7L721.8 181.2L722.7 181.6L721.5 182.0L722.5 182.5L722.9 182.9L722.0 183.3L723.0 183.8L721.9 184.2L721.6 184.6L723.6 185.1L722.1 185.5L723.3 185.9L723.1 186.4L723.7 186.8L723.7 187.3L723.3 187.7L723.3 188.1L723.7 188.6L723.3 189.0L722.9 189.4L723.8 189.9L723.6 190.3L724.4 190.8L723.4 191.2L723.4 191.6L723.8 192.1L724.7 192.6L723.6 192.9L723.9 193.4L723.2 193.8L723.9 194.3L724.4 194.8L724.3 195.2L724.5 195.7L724.1 196.1L723.3 196.4L722.5 196.8L722.9 197.3L722.5 197.7L722.7 198.1L722.3 198.5L721.9 198.9L721.6 199.3L721.5 199.8L722.3 200.3L721.3 200.6L720.7 201.0L722.5 201.6L721.5 201.9L721.3 202.4L721.4 202.8L720.2 203.1L720.4 203.5L719.9 203.9L720.5 204.4L720.3 204.8L721.1 205.4L720.4 205.7L719.4 206.0L719.9 206.5L719.7 206.9L719.3 207.3L718.9 207.6L719.5 208.2L719.5 208.6L719.7 209.1L720.3 209.7L720.0 210.1L719.6 210.4L719.3 210.8L718.4 211.0L718.2 211.4L718.9 212.0L718.6 212.4L719.0 212.9L718.4 213.3L718.1 213.6L718.2 214.1L717.9 214.5L717.6 214.8L719.5 215.7L717.4 215.6L717.5 216.1L718.5 216.8L718.4 217.3L717.4 217.4L718.0 218.1L717.9 218.5L718.8 219.2L718.2 219.5L717.2 219.6L716.3 219.8L717.5 220.6L716.4 220.8L716.0 221.1 L715.24 220.83 A121.5 121.5 0 0 0 719.95 170.11 Z" fill="#d6edb4"/>
<path d="M720.4 170.1L721.8 170.3L721.8 170.8L720.7 171.3L720.7 171.8L722.1 172.0L722.3 172.5L721.4 173.0L720.9 173.5L720.9 173.9L721.2 174.3L722.5 174.6L721.4 175.2L721.4 175.6L722.3 175.9L720.9 176.5L722.5 176.8L722.5 177.2L721.6 177.7L721.7 178.2L722.6 178.5L722.6 179.0L722.7 179.4L722.4 179.9L721.6 180.3L722.6 180.7L721.8 181.2L722.7 181.6L721.5 182.0L722.5 182.5L722.9 182.9L722.0 183.3L723.0 183.8L721.9 184.2L721.6 184.6L723.6 185.1L722.1 185.5L723.3 185.9L723.1 186.4L723.7 186.8L723.7 187.3L723.3 187.7L723.3 188.1L723.7 188.6L723.3 189.0L722.9 189.4L723.8 189.9L723.6 190.3L724.4 190.8L723.4 191.2L723.4 191.6L723.8 192.1L724.7 192.6L723.6 192.9L723.9 193.4L723.2 193.8L723.9 194.3L724.4 194.8L724.3 195.2L724.5 195.7L724.1 196.1L723.3 196.4L722.5 196.8L722.9 197.3L722.5 197.7L722.7 198.1L722.3 198.5L721.9 198.9L721.6 199.3L721.5 199.8L722.3 200.3L721.3 200.6L720.7 201.0L722.5 201.6L721.5 201.9L721.3 202.4L721.4 202.8L720.2 203.1L720.4 203.5L719.9 203.9L720.5 204.4L720.3 204.8L721.1 205.4L720.4 205.7L719.4 206.0L719.9 206.5L719.7 206.9L719.3 207.3L718.9 207.6L719.5 208.2L719.5 208.6L719.7 209.1L720.3 209.7L720.0 210.1L719.6 210.4L719.3 210.8L718.4 211.0L718.2 211.4L718.9 212.0L718.6 212.4L719.0 212.9L718.4 213.3L718.1 213.6L718.2 214.1L717.9 214.5L717.6 214.8L719.5 215.7L717.4 215.6L717.5 216.1L718.5 216.8L718.4 217.3L717.4 217.4L718.0 218.1L717.9 218.5L718.8 219.2L718.2 219.5L717.2 219.6L716.3 219.8L717.5 220.6L716.4 220.8L716.0 221.1" fill="none" stroke="#3ca62c" stroke-width="0.9"/>
<path d="M765.62 164.67A167.5 167.5 0 0 1 759.14 234.59L753.89 232.94A162 162 0 0 0 760.16 165.32Z" fill="#6b6dab" stroke="#1e1e30" stroke-width="1"/>
<line x1="765.62" y1="164.67" x2="768.1" y2="164.37" stroke="#333" stroke-width="0.6"/>
<text transform="translate(771.08,164.02) rotate(83.2)" font-size="5.6" text-anchor="middle" dominant-baseline="central" font-family="Liberation Sans, sans-serif" fill="#555">0</text>
<line x1="766.78" y1="181.96" x2="769.28" y2="181.92" stroke="#333" stroke-width="0.6"/>
<text transform="translate(772.28,181.88) rotate(89.13)" font-size="5.6" text-anchor="middle" dominant-baseline="central" font-family="Liberation Sans, sans-serif" fill="#555">10</text>
<line x1="766.15" y1="199.28" x2="768.64" y2="199.5" stroke="#333" stroke-width="0.6"/>
<text transform="translate(771.63,199.77) rotate(-84.94)" font-size="5.6" text-anchor="middle" dominant-baseline="central" font-family="Liberation Sans, sans-serif" fill="#555">20</text>
<line x1="763.73" y1="216.44" x2="766.18" y2="216.92" stroke="#333" stroke-width="0.6"/>
<text transform="translate(769.12,217.49) rotate(-79.01)" font-size="5.6" text-anchor="middle" dominant-baseline="central" font-family="Liberation Sans, sans-serif" fill="#555">30</text>
<line x1="759.54" y1="233.26" x2="761.94" y2="233.99" stroke="#333" stroke-width="0.6"/>
<text transform="translate(764.81,234.87) rotate(-73.07)" font-size="5.6" text-anchor="middle" dominant-baseline="central" font-family="Liberation Sans, sans-serif" fill="#555">40</text>
<text transform="translate(778.53,201.13) rotate(-84.7)" font-size="7.2" text-anchor="middle" dominant-baseline="central" font-family="Liberation Sans, sans-serif" fill="#4a4a4a">Chr04</text>
<path d="M746.8 239.7L746.5 240.5L734.2 235.8L734.5 235.0Z" fill="#afd7e6"/>
<path d="M746.6 240.4L746.2 241.2L733.9 236.5L734.2 235.7Z" fill="#c5e0ed"/>
<path d="M746.3 241.1L746.0 241.9L733.7 237.1L734.0 236.3Z" fill="#beddeb"/>
<path d="M746.0 241.8L745.7 242.6L733.4 237.8L733.7 237.0Z" fill="#cbe2ef"/>
<path d="M745.7 242.5L745.4 243.3L733.2 238.4L733.5 237.6Z" fill="#89c3dd"/>
<path d="M745.5 243.2L745.1 244.0L732.9 239.1L733.2 238.3Z" fill="#badcea"/>
<path d="M745.2 243.9L744.8 244.7L732.6 239.7L732.9 238.9Z" fill="#b4d9e8"/>
<path d="M744.9 244.6L744.5 245.4L732.4 240.3L732.7 239.6Z" fill="#a7d4e4"/>
<path d="M744.6 245.3L744.2 246.1L732.1 241.0L732.4 240.2Z" fill="#bfddeb"/>
<path d="M744.3 246.0L743.9 246.8L731.8 241.6L732.1 240.8Z" fill="#a4d3e3"/>
<path d="M744.0 246.7L743.6 247.5L731.5 242.2L731.9 241.5Z" fill="#a6d3e4"/>
<path d="M743.7 247.4L743.3 248.2L731.3 242.9L731.6 242.1Z" fill="#c7e1ed"/>
<path d="M743.4 248.1L743.0 248.9L731.0 243.5L731.3 242.7Z" fill="#bdddea"/>
<path d="M743.1 248.8L742.7 249.6L730.7 244.2L731.0 243.4Z" fill="#cde3ef"/>
<path d="M742.8 249.5L742.4 250.3L730.4 244.8L730.8 244.0Z" fill="#abd5e5"/>
<path d="M742.5 250.1L742.1 251.0L730.1 245.4L730.5 244.6Z" fill="#cde3ef"/>
<path d="M742.1 250.8L741.8 251.7L729.8 246.0L730.2 245.3Z" fill="#bbdcea"/>
<path d="M741.8 251.5L741.4 252.4L729.5 246.7L729.9 245.9Z" fill="#b5d9e8"/>
<path d="M741.5 252.2L741.1 253.0L729.2 247.3L729.6 246.5Z" fill="#ebf1f9"/>
<path d="M741.2 252.9L740.8 253.7L728.9 247.9L729.3 247.2Z" fill="#e7eff8"/>
<path d="M740.8 253.6L740.4 254.4L728.6 248.5L729.0 247.8Z" fill="#eaf0f9"/>
<path d="M740.5 254.3L740.1 255.1L728.3 249.2L728.7 248.4Z" fill="#ecf1fa"/>
<path d="M740.2 254.9L739.8 255.8L728.0 249.8L728.4 249.0Z" fill="#e8eff8"/>
<path d="M739.8 255.6L739.4 256.4L727.7 250.4L728.1 249.6Z" fill="#e8f0f8"/>
<path d="M739.5 256.3L739.1 257.1L727.4 251.0L727.7 250.3Z" fill="#e7eff8"/>
<path d="M739.1 257.0L738.7 257.8L727.0 251.6L727.4 250.9Z" fill="#ecf2fa"/>
<path d="M738.8 257.6L738.4 258.4L726.7 252.2L727.1 251.5Z" fill="#ecf2fa"/>
<path d="M738.4 258.3L738.0 259.1L726.4 252.9L726.8 252.1Z" fill="#edf2fa"/>
<path d="M738.1 259.0L737.6 259.8L726.1 253.5L726.5 252.7Z" fill="#ebf1f9"/>
<path d="M737.7 259.6L737.3 260.4L725.7 254.1L726.1 253.3Z" fill="#e7eff8"/>
<path d="M737.4 260.3L736.9 261.1L725.4 254.7L725.8 253.9Z" fill="#e7eff8"/>
<path d="M737.0 261.0L736.5 261.8L725.0 255.3L725.5 254.6Z" fill="#edf2fa"/>
<path d="M736.6 261.6L736.2 262.4L724.7 255.9L725.1 255.2Z" fill="#eaf1f9"/>
<path d="M736.3 262.3L735.8 263.1L724.4 256.5L724.8 255.8Z" fill="#eaf1f9"/>
<path d="M735.9 262.9L735.4 263.7L724.0 257.1L724.4 256.4Z" fill="#e7eff8"/>
<path d="M735.5 263.6L735.0 264.4L723.7 257.7L724.1 257.0Z" fill="#e8f0f8"/>
<path d="M735.1 264.2L734.6 265.0L723.3 258.3L723.7 257.6Z" fill="#ecf2fa"/>
<path d="M734.7 264.9L734.3 265.7L722.9 258.9L723.4 258.2Z" fill="#e8f0f8"/>
<path d="M734.3 265.6L733.9 266.3L722.6 259.5L723.0 258.8Z" fill="#e9f0f9"/>
<path d="M734.0 266.2L733.5 267.0L722.2 260.1L722.7 259.4Z" fill="#e9f0f9"/>
<path d="M733.6 266.8L733.1 267.6L721.9 260.7L722.3 259.9Z" fill="#edf2fa"/>
<path d="M733.2 267.5L732.7 268.3L721.5 261.3L721.9 260.5Z" fill="#e9f0f9"/>
<path d="M732.8 268.1L732.3 268.9L721.1 261.8L721.6 261.1Z" fill="#e9f0f9"/>
<path d="M732.4 268.8L731.9 269.6L720.8 262.4L721.2 261.7Z" fill="#ecf1fa"/>
<path d="M732.0 269.4L731.5 270.2L720.4 263.0L720.8 262.3Z" fill="#e7eff8"/>
<path d="M731.5 270.0L731.0 270.8L720.0 263.6L720.5 262.9Z" fill="#ebf1f9"/>
<path d="M731.1 270.7L730.6 271.5L719.6 264.2L720.1 263.5Z" fill="#e8f0f8"/>
<path d="M730.7 271.3L730.2 272.1L719.2 264.7L719.7 264.0Z" fill="#ebf1f9"/>
<path d="M730.3 271.9L729.8 272.7L718.8 265.3L719.3 264.6Z" fill="#ebf1f9"/>
<path d="M729.9 272.6L729.4 273.3L718.5 265.9L718.9 265.2Z" fill="#ebf1f9"/>
<path d="M729.4 273.2L728.9 274.0L718.1 266.5L718.5 265.8Z" fill="#90c7df"/>
<path d="M729.0 273.8L728.5 274.6L717.7 267.0L718.1 266.3Z" fill="#66acd5"/>
<path d="M728.6 274.5L728.1 275.2L717.3 267.6L717.8 266.9Z" fill="#85c1dd"/>
<path d="M728.2 275.1L727.6 275.8L716.9 268.2L717.4 267.5Z" fill="#91c7df"/>
<path d="M727.7 275.7L727.2 276.4L716.5 268.7L717.0 268.0Z" fill="#95cae0"/>
<path d="M727.3 276.3L726.7 277.1L716.1 269.3L716.5 268.6Z" fill="#a8d4e4"/>
<path d="M726.8 276.9L726.3 277.7L715.6 269.9L716.1 269.2Z" fill="#b3d9e8"/>
<path d="M726.4 277.5L725.8 278.3L715.2 270.4L715.7 269.7Z" fill="#b1d8e7"/>
<path d="M725.9 278.1L725.4 278.9L714.8 271.0L715.3 270.3Z" fill="#559fd1"/>
<path d="M725.5 278.8L724.9 279.5L714.4 271.5L714.9 270.9Z" fill="#9ecfe2"/>
<path d="M725.0 279.4L724.5 280.1L714.0 272.1L714.5 271.4Z" fill="#92c8df"/>
<path d="M724.6 280.0L724.0 280.7L713.6 272.6L714.1 272.0Z" fill="#a3d2e3"/>
<path d="M724.1 280.6L723.5 281.3L713.1 273.2L713.7 272.5Z" fill="#abd6e5"/>
<path d="M723.6 281.2L723.1 281.9L712.7 273.7L713.2 273.1Z" fill="#8dc5de"/>
<path d="M723.2 281.8L722.6 282.5L712.3 274.3L712.8 273.6Z" fill="#abd6e5"/>
<path d="M722.7 282.4L722.1 283.1L711.8 274.8L712.4 274.2Z" fill="#a4d2e3"/>
<path d="M722.2 282.9L721.7 283.7L711.4 275.4L711.9 274.7Z" fill="#88c2dd"/>
<path d="M721.8 283.5L721.2 284.3L711.0 275.9L711.5 275.2Z" fill="#8ec6df"/>
<path d="M721.3 284.1L720.7 284.8L710.5 276.4L711.1 275.8Z" fill="#89c3dd"/>
<path d="M720.8 284.7L720.2 285.4L710.1 277.0L710.6 276.3Z" fill="#89c3de"/>
<path d="M720.3 285.3L719.7 286.0L709.6 277.5L710.2 276.8Z" fill="#86c1dd"/>
<path d="M719.8 285.9L719.2 286.6L709.2 278.0L709.7 277.4Z" fill="#96cae0"/>
<path d="M719.3 286.5L718.7 287.2L708.7 278.6L709.3 277.9Z" fill="#3d8dcb"/>
<path d="M718.9 287.0L718.3 287.7L708.3 279.1L708.8 278.4Z" fill="#82bfdc"/>
<path d="M718.4 287.6L717.8 288.3L707.8 279.6L708.4 279.0Z" fill="#3d8dcb"/>
<path d="M717.9 288.2L717.3 288.9L707.4 280.1L707.9 279.5Z" fill="#4392cd"/>
<path d="M717.4 288.7L716.8 289.4L706.9 280.6L707.5 280.0Z" fill="#62a8d4"/>
<path d="M716.9 289.3L716.2 290.0L706.4 281.2L707.0 280.5Z" fill="#3d8dcb"/>
<path d="M716.4 289.9L715.7 290.6L706.0 281.7L706.5 281.0Z" fill="#7ebddb"/>
<path d="M715.8 290.4L715.2 291.1L705.5 282.2L706.1 281.6Z" fill="#58a1d2"/>
<path d="M715.3 291.0L714.7 291.7L705.0 282.7L705.6 282.1Z" fill="#7ebcdb"/>
<path d="M714.8 291.6L714.2 292.2L704.6 283.2L705.1 282.6Z" fill="#61a8d4"/>
<path d="M714.3 292.1L713.7 292.8L704.1 283.7L704.7 283.1Z" fill="#77b8da"/>
<path d="M713.8 292.7L713.2 293.3L703.6 284.2L704.2 283.6Z" fill="#58a1d2"/>
<path d="M713.3 293.2L712.6 293.9L703.1 284.7L703.7 284.1Z" fill="#549ed1"/>
<path d="M712.7 293.8L712.1 294.4L702.6 285.2L703.2 284.6Z" fill="#3d8dcb"/>
<path d="M712.2 294.3L711.6 295.0L702.2 285.7L702.8 285.1Z" fill="#3d8dcb"/>
<path d="M711.7 294.8L711.0 295.5L701.7 286.2L702.3 285.6Z" fill="#80bddc"/>
<path d="M711.2 295.4L710.5 296.0L701.2 286.7L701.8 286.1Z" fill="#3d8dcb"/>
<path d="M710.6 295.9L710.0 296.6L700.7 287.2L701.3 286.6Z" fill="#59a2d2"/>
<path d="M708.7 225.4L708.5 226.0L699.0 222.5L699.2 221.9Z" fill="#d1d1ea"/>
<path d="M708.5 225.9L708.3 226.6L698.8 222.9L699.1 222.3Z" fill="#cdcde9"/>
<path d="M708.3 226.5L708.1 227.1L698.7 223.4L698.9 222.8Z" fill="#bcbae0"/>
<path d="M708.1 227.0L707.9 227.6L698.5 223.9L698.7 223.3Z" fill="#a9a7d6"/>
<path d="M707.9 227.5L707.6 228.1L698.3 224.4L698.5 223.8Z" fill="#c5c4e5"/>
<path d="M707.7 228.0L707.4 228.7L698.1 224.8L698.3 224.3Z" fill="#bcbae0"/>
<path d="M707.5 228.5L707.2 229.2L697.9 225.3L698.1 224.7Z" fill="#b0aeda"/>
<path d="M707.3 229.1L707.0 229.7L697.7 225.8L697.9 225.2Z" fill="#c5c4e5"/>
<path d="M707.0 229.6L706.8 230.2L697.5 226.3L697.7 225.7Z" fill="#c7c7e6"/>
<path d="M706.8 230.1L706.6 230.7L697.3 226.7L697.5 226.2Z" fill="#c9c9e7"/>
<path d="M706.6 230.6L706.3 231.2L697.1 227.2L697.3 226.6Z" fill="#b5b3dc"/>
<path d="M706.4 231.1L706.1 231.8L696.9 227.7L697.1 227.1Z" fill="#bfbde1"/>
<path d="M706.2 231.6L705.9 232.3L696.7 228.1L696.9 227.6Z" fill="#c0bfe2"/>
<path d="M705.9 232.2L705.7 232.8L696.5 228.6L696.7 228.0Z" fill="#b3b1db"/>
<path d="M705.7 232.7L705.4 233.3L696.2 229.1L696.5 228.5Z" fill="#bab8df"/>
<path d="M705.5 233.2L705.2 233.8L696.0 229.5L696.3 229.0Z" fill="#a5a3d4"/>
<path d="M705.2 233.7L704.9 234.3L695.8 230.0L696.1 229.4Z" fill="#7c78bc"/>
<path d="M705.0 234.2L704.7 234.8L695.6 230.5L695.9 229.9Z" fill="#d0d0ea"/>
<path d="M704.8 234.7L704.5 235.3L695.4 230.9L695.6 230.4Z" fill="#a7a5d5"/>
<path d="M704.5 235.2L704.2 235.8L695.1 231.4L695.4 230.8Z" fill="#8985c4"/>
<path d="M704.3 235.7L704.0 236.3L694.9 231.9L695.2 231.3Z" fill="#c3c3e4"/>
<path d="M704.0 236.2L703.7 236.8L694.7 232.3L695.0 231.8Z" fill="#bebce1"/>
<path d="M703.8 236.7L703.5 237.3L694.5 232.8L694.7 232.2Z" fill="#d1d1eb"/>
<path d="M703.5 237.2L703.2 237.8L694.2 233.2L694.5 232.7Z" fill="#cccce8"/>
<path d="M703.3 237.7L703.0 238.3L694.0 233.7L694.3 233.1Z" fill="#cfcfe9"/>
<path d="M703.0 238.2L702.7 238.8L693.8 234.1L694.0 233.6Z" fill="#c9c9e7"/>
<path d="M702.7 238.7L702.4 239.3L693.5 234.6L693.8 234.0Z" fill="#c1c0e2"/>
<path d="M702.5 239.2L702.2 239.8L693.3 235.0L693.6 234.5Z" fill="#aba8d7"/>
<path d="M702.2 239.7L701.9 240.3L693.0 235.5L693.3 234.9Z" fill="#bbbae0"/>
<path d="M702.0 240.2L701.6 240.8L692.8 235.9L693.1 235.4Z" fill="#b7b5dd"/>
<path d="M701.7 240.7L701.4 241.3L692.5 236.4L692.8 235.8Z" fill="#d0d0ea"/>
<path d="M701.4 241.2L701.1 241.8L692.3 236.8L692.6 236.3Z" fill="#cbcbe8"/>
<path d="M701.1 241.7L700.8 242.3L692.0 237.3L692.3 236.7Z" fill="#c9c8e6"/>
<path d="M700.9 242.2L700.5 242.8L691.8 237.7L692.1 237.2Z" fill="#b3b1db"/>
<path d="M700.6 242.7L700.2 243.3L691.5 238.2L691.8 237.6Z" fill="#b1afda"/>
<path d="M700.3 243.2L700.0 243.7L691.3 238.6L691.6 238.1Z" fill="#c0bfe2"/>
<path d="M700.0 243.6L699.7 244.2L691.0 239.1L691.3 238.5Z" fill="#bebde1"/>
<path d="M699.7 244.1L699.4 244.7L690.7 239.5L691.1 239.0Z" fill="#cccbe8"/>
<path d="M699.4 244.6L699.1 245.2L690.5 239.9L690.8 239.4Z" fill="#d0d0ea"/>
<path d="M699.2 245.1L698.8 245.7L690.2 240.4L690.5 239.8Z" fill="#d3d3eb"/>
<path d="M698.9 245.6L698.5 246.1L689.9 240.8L690.3 240.3Z" fill="#c5c5e5"/>
<path d="M698.6 246.0L698.2 246.6L689.7 241.3L690.0 240.7Z" fill="#d4d4ec"/>
<path d="M698.3 246.5L697.9 247.1L689.4 241.7L689.7 241.2Z" fill="#c6c6e5"/>
<path d="M698.0 247.0L697.6 247.6L689.1 242.1L689.4 241.6Z" fill="#cccce8"/>
<path d="M697.7 247.5L697.3 248.0L688.8 242.6L689.2 242.0Z" fill="#d8d8ee"/>
<path d="M697.4 247.9L697.0 248.5L688.5 243.0L688.9 242.5Z" fill="#cccce8"/>
<path d="M697.1 248.4L696.7 249.0L688.3 243.4L688.6 242.9Z" fill="#c1bfe2"/>
<path d="M696.8 248.9L696.4 249.5L688.0 243.8L688.3 243.3Z" fill="#bebde1"/>
<path d="M696.4 249.4L696.1 249.9L687.7 244.3L688.0 243.7Z" fill="#d6d6ed"/>
<path d="M696.1 249.8L695.7 250.4L687.4 244.7L687.8 244.2Z" fill="#cdcde9"/>
<path d="M695.8 250.3L695.4 250.8L687.1 245.1L687.5 244.6Z" fill="#c0bfe2"/>
<path d="M695.5 250.7L695.1 251.3L686.8 245.5L687.2 245.0Z" fill="#c3c2e4"/>
<path d="M695.2 251.2L694.8 251.8L686.5 246.0L686.9 245.4Z" fill="#cacae7"/>
<path d="M694.9 251.7L694.5 252.2L686.2 246.4L686.6 245.9Z" fill="#bab8df"/>
<path d="M694.5 252.1L694.1 252.7L685.9 246.8L686.3 246.3Z" fill="#d2d2eb"/>
<path d="M694.2 252.6L693.8 253.1L685.6 247.2L686.0 246.7Z" fill="#d4d4ec"/>
<path d="M693.9 253.0L693.5 253.6L685.3 247.6L685.7 247.1Z" fill="#d4d4ec"/>
<path d="M693.5 253.5L693.1 254.0L685.0 248.0L685.4 247.5Z" fill="#c9c8e6"/>
<path d="M693.2 253.9L692.8 254.5L684.7 248.4L685.1 247.9Z" fill="#c5c4e5"/>
<path d="M692.9 254.4L692.5 254.9L684.4 248.9L684.8 248.4Z" fill="#cecee9"/>
<path d="M692.5 254.8L692.1 255.4L684.1 249.3L684.5 248.8Z" fill="#cbcbe8"/>
<path d="M692.2 255.3L691.8 255.8L683.8 249.7L684.2 249.2Z" fill="#b5b3dc"/>
<path d="M691.9 255.7L691.4 256.3L683.5 250.1L683.9 249.6Z" fill="#c6c5e5"/>
<path d="M691.5 256.2L691.1 256.7L683.2 250.5L683.5 250.0Z" fill="#d2d2eb"/>
<path d="M691.2 256.6L690.7 257.2L682.8 250.9L683.2 250.4Z" fill="#b6b4dd"/>
<path d="M690.8 257.1L690.4 257.6L682.5 251.3L682.9 250.8Z" fill="#cecee9"/>
<path d="M690.5 257.5L690.0 258.0L682.2 251.7L682.6 251.2Z" fill="#d1d1ea"/>
<path d="M690.1 257.9L689.7 258.5L681.9 252.1L682.3 251.6Z" fill="#c7c6e6"/>
<path d="M689.8 258.4L689.3 258.9L681.5 252.5L681.9 252.0Z" fill="#b9b7de"/>
<path d="M689.4 258.8L689.0 259.3L681.2 252.9L681.6 252.4Z" fill="#c1bfe2"/>
<path d="M689.1 259.2L688.6 259.8L680.9 253.3L681.3 252.8Z" fill="#bbb9df"/>
<path d="M688.7 259.7L688.2 260.2L680.6 253.7L681.0 253.2Z" fill="#bbb9e0"/>
<path d="M688.3 260.1L687.9 260.6L680.2 254.0L680.6 253.6Z" fill="#7470b8"/>
<path d="M688.0 260.5L687.5 261.1L679.9 254.4L680.3 254.0Z" fill="#cacae7"/>
<path d="M687.6 261.0L687.1 261.5L679.5 254.8L680.0 254.3Z" fill="#cbcbe7"/>
<path d="M687.2 261.4L686.8 261.9L679.2 255.2L679.6 254.7Z" fill="#bab8df"/>
<path d="M686.9 261.8L686.4 262.3L678.9 255.6L679.3 255.1Z" fill="#c6c5e5"/>
<path d="M686.5 262.2L686.0 262.7L678.5 256.0L678.9 255.5Z" fill="#bbb9df"/>
<path d="M686.1 262.6L685.6 263.2L678.2 256.4L678.6 255.9Z" fill="#c4c3e4"/>
<path d="M685.7 263.1L685.3 263.6L677.8 256.7L678.3 256.3Z" fill="#c3c2e3"/>
<path d="M685.4 263.5L684.9 264.0L677.5 257.1L677.9 256.6Z" fill="#cfcfea"/>
<path d="M685.0 263.9L684.5 264.4L677.1 257.5L677.6 257.0Z" fill="#a5a3d4"/>
<path d="M684.6 264.3L684.1 264.8L676.8 257.9L677.2 257.4Z" fill="#cecee9"/>
<path d="M684.2 264.7L683.7 265.2L676.4 258.2L676.9 257.8Z" fill="#c1c0e2"/>
<path d="M683.8 265.1L683.3 265.6L676.1 258.6L676.5 258.1Z" fill="#bbb9df"/>
<path d="M683.4 265.5L683.0 266.0L675.7 259.0L676.2 258.5Z" fill="#b5b3dd"/>
<path d="M683.0 265.9L682.6 266.4L675.4 259.3L675.8 258.9Z" fill="#aaa8d6"/>
<path d="M682.6 266.3L682.2 266.8L675.0 259.7L675.4 259.3Z" fill="#c1c0e3"/>
<path d="M682.3 266.7L681.8 267.2L674.6 260.1L675.1 259.6Z" fill="#c1c0e2"/>
<path d="M681.9 267.1L681.4 267.6L674.3 260.4L674.7 260.0Z" fill="#bab8df"/>
<path d="M724.1 231.2L722.7 231.2L723.1 231.8L723.0 232.3L722.5 232.6L722.5 233.1L721.9 233.4L721.7 233.8L721.7 234.3L721.8 234.9L721.6 235.3L721.2 235.7L720.9 236.1L720.9 236.6L720.6 237.0L720.6 237.5L720.3 237.9L720.5 238.5L720.0 238.8L720.0 239.3L719.9 239.8L719.6 240.2L718.8 240.4L719.5 241.2L718.5 241.2L718.5 241.8L718.8 242.5L718.2 242.7L717.8 243.0L717.8 243.6L717.5 243.9L717.9 244.7L717.5 245.0L716.8 245.2L717.3 246.0L717.0 246.4L717.1 247.0L717.0 247.5L716.8 247.9L716.2 248.1L717.8 249.5L716.7 249.5L716.2 249.8L716.7 250.6L716.0 250.8L717.6 252.2L717.1 252.5L717.9 253.6L716.2 253.2L716.6 253.9L717.5 255.1L717.0 255.3L716.4 255.5L717.3 256.7L718.9 258.2L716.7 257.5L716.0 257.6L715.9 258.1L716.1 258.8L716.2 259.6L713.9 258.7L716.3 260.8L714.3 260.1L715.3 261.4L714.7 261.5L714.6 262.0L714.9 262.9L713.9 262.8L713.9 263.4L714.7 264.6L712.6 263.7L712.7 264.4L713.9 265.8L711.3 264.6L711.4 265.3L709.2 264.4L709.5 265.2L708.9 265.3L709.4 266.3L708.9 266.6L707.0 265.8L707.0 266.4L706.6 266.7L705.7 266.6L705.3 266.9L705.0 267.3L704.1 267.2L703.5 267.3L703.4 267.8L703.1 268.2L702.6 268.4L701.8 268.4L701.8 269.0L701.5 269.4L701.1 269.7L700.5 269.8L700.6 270.5L700.0 270.6L699.4 270.7L699.0 271.1L698.9 271.6L699.3 272.6L698.0 272.1L697.8 272.5L697.5 272.9L697.6 273.7L696.8 273.5L697.0 274.3L696.1 274.2L695.9 274.6L695.9 275.4L695.1 275.2L695.3 276.0L694.9 276.4L694.7 276.8L694.0 276.8L693.7 277.2L693.3 277.5L693.1 278.0L692.5 278.0L692.1 278.3 L691.8 277.97 A131.5 131.5 0 0 0 722.47 230.55 Z" fill="#eab0ae"/>
<path d="M724.1 231.2L722.7 231.2L723.1 231.8L723.0 232.3L722.5 232.6L722.5 233.1L721.9 233.4L721.7 233.8L721.7 234.3L721.8 234.9L721.6 235.3L721.2 235.7L720.9 236.1L720.9 236.6L720.6 237.0L720.6 237.5L720.3 237.9L720.5 238.5L720.0 238.8L720.0 239.3L719.9 239.8L719.6 240.2L718.8 240.4L719.5 241.2L718.5 241.2L718.5 241.8L718.8 242.5L718.2 242.7L717.8 243.0L717.8 243.6L717.5 243.9L717.9 244.7L717.5 245.0L716.8 245.2L717.3 246.0L717.0 246.4L717.1 247.0L717.0 247.5L716.8 247.9L716.2 248.1L717.8 249.5L716.7 249.5L716.2 249.8L716.7 250.6L716.0 250.8L717.6 252.2L717.1 252.5L717.9 253.6L716.2 253.2L716.6 253.9L717.5 255.1L717.0 255.3L716.4 255.5L717.3 256.7L718.9 258.2L716.7 257.5L716.0 257.6L715.9 258.1L716.1 258.8L716.2 259.6L713.9 258.7L716.3 260.8L714.3 260.1L715.3 261.4L714.7 261.5L714.6 262.0L714.9 262.9L713.9 262.8L713.9 263.4L714.7 264.6L712.6 263.7L712.7 264.4L713.9 265.8L711.3 264.6L711.4 265.3L709.2 264.4L709.5 265.2L708.9 265.3L709.4 266.3L708.9 266.6L707.0 265.8L707.0 266.4L706.6 266.7L705.7 266.6L705.3 266.9L705.0 267.3L704.1 267.2L703.5 267.3L703.4 267.8L703.1 268.2L702.6 268.4L701.8 268.4L701.8 269.0L701.5 269.4L701.1 269.7L700.5 269.8L700.6 270.5L700.0 270.6L699.4 270.7L699.0 271.1L698.9 271.6L699.3 272.6L698.0 272.1L697.8 272.5L697.5 272.9L697.6 273.7L696.8 273.5L697.0 274.3L696.1 274.2L695.9 274.6L695.9 275.4L695.1 275.2L695.3 276.0L694.9 276.4L694.7 276.8L694.0 276.8L693.7 277.2L693.3 277.5L693.1 278.0L692.5 278.0L692.1 278.3" fill="none" stroke="#d9353a" stroke-width="0.9"/>
<path d="M714.9 227.7L713.8 227.8L713.5 228.1L715.4 229.3L713.4 229.0L712.9 229.3L713.8 230.2L713.7 230.6L712.3 230.5L713.2 231.4L712.5 231.5L711.9 231.8L713.1 232.8L711.7 232.6L712.2 233.3L712.2 233.8L710.9 233.7L710.9 234.2L710.9 234.7L710.9 235.2L710.5 235.5L709.9 235.7L710.2 236.3L709.6 236.5L709.8 237.1L709.8 237.6L709.0 237.7L708.9 238.1L709.4 238.9L709.1 239.2L711.2 240.8L708.2 239.8L708.8 240.6L707.8 240.5L708.7 241.5L707.6 241.5L708.1 242.2L708.0 242.7L707.6 243.0L707.5 243.4L707.1 243.7L706.8 244.0L707.8 245.1L707.4 245.4L707.5 246.0L708.5 247.0L706.0 246.1L705.9 246.6L705.6 246.9L706.0 247.7L705.2 247.7L705.6 248.5L705.9 249.2L705.3 249.3L704.8 249.5L705.5 250.5L705.4 251.0L705.0 251.3L705.0 251.8L704.2 251.8L704.5 252.5L704.0 252.8L703.6 253.1L702.7 253.0L702.6 253.5L703.3 254.5L703.5 255.2L703.7 255.9L703.5 256.2L701.3 255.3L700.8 255.5L701.0 256.2L701.4 257.0L701.0 257.2L699.4 256.7L700.0 257.7L698.9 257.4L698.9 258.0L698.8 258.5L698.5 258.8L698.1 259.0L697.5 259.1L697.6 259.8L697.2 260.0L696.6 260.1L696.1 260.3L696.4 261.1L696.2 261.5L695.3 261.4L695.7 262.3L694.9 262.2L695.1 262.9L693.4 262.1L694.4 263.5L693.9 263.7L692.9 263.4L693.1 264.2L692.7 264.4L692.8 265.0L691.4 264.5L692.0 265.5L691.5 265.7L691.0 265.8L690.2 265.8L690.5 266.6L690.5 267.2L689.4 266.8L690.3 268.2L689.8 268.4L689.6 268.8L688.4 268.3L688.2 268.6L687.9 269.0L687.9 269.6L689.2 271.5L687.3 270.2L687.0 270.7L686.6 270.9L685.6 270.5L685.4 270.9L685.8 271.9 L684.76 270.86 A121.5 121.5 0 0 0 713.11 227.05 Z" fill="#d6edb4"/>
<path d="M714.9 227.7L713.8 227.8L713.5 228.1L715.4 229.3L713.4 229.0L712.9 229.3L713.8 230.2L713.7 230.6L712.3 230.5L713.2 231.4L712.5 231.5L711.9 231.8L713.1 232.8L711.7 232.6L712.2 233.3L712.2 233.8L710.9 233.7L710.9 234.2L710.9 234.7L710.9 235.2L710.5 235.5L709.9 235.7L710.2 236.3L709.6 236.5L709.8 237.1L709.8 237.6L709.0 237.7L708.9 238.1L709.4 238.9L709.1 239.2L711.2 240.8L708.2 239.8L708.8 240.6L707.8 240.5L708.7 241.5L707.6 241.5L708.1 242.2L708.0 242.7L707.6 243.0L707.5 243.4L707.1 243.7L706.8 244.0L707.8 245.1L707.4 245.4L707.5 246.0L708.5 247.0L706.0 246.1L705.9 246.6L705.6 246.9L706.0 247.7L705.2 247.7L705.6 248.5L705.9 249.2L705.3 249.3L704.8 249.5L705.5 250.5L705.4 251.0L705.0 251.3L705.0 251.8L704.2 251.8L704.5 252.5L704.0 252.8L703.6 253.1L702.7 253.0L702.6 253.5L703.3 254.5L703.5 255.2L703.7 255.9L703.5 256.2L701.3 255.3L700.8 255.5L701.0 256.2L701.4 257.0L701.0 257.2L699.4 256.7L700.0 257.7L698.9 257.4L698.9 258.0L698.8 258.5L698.5 258.8L698.1 259.0L697.5 259.1L697.6 259.8L697.2 260.0L696.6 260.1L696.1 260.3L696.4 261.1L696.2 261.5L695.3 261.4L695.7 262.3L694.9 262.2L695.1 262.9L693.4 262.1L694.4 263.5L693.9 263.7L692.9 263.4L693.1 264.2L692.7 264.4L692.8 265.0L691.4 264.5L692.0 265.5L691.5 265.7L691.0 265.8L690.2 265.8L690.5 266.6L690.5 267.2L689.4 266.8L690.3 268.2L689.8 268.4L689.6 268.8L688.4 268.3L688.2 268.6L687.9 269.0L687.9 269.6L689.2 271.5L687.3 270.2L687.0 270.7L686.6 270.9L685.6 270.5L685.4 270.9L685.8 271.9" fill="none" stroke="#3ca62c" stroke-width="0.9"/>
<path d="M756.19 243.16A167.5 167.5 0 0 1 717.12 303.56L713.25 299.65A162 162 0 0 0 751.04 241.23Z" fill="#6b6dab" stroke="#1e1e30" stroke-width="1"/>
<line x1="756.19" y1="243.16" x2="758.53" y2="244.04" stroke="#333" stroke-width="0.6"/>
<text transform="translate(761.34,245.09) rotate(-69.5)" font-size="5.6" text-anchor="middle" dominant-baseline="central" font-family="Liberation Sans, sans-serif" fill="#555">0</text>
<line x1="748.77" y1="260.09" x2="751" y2="261.22" stroke="#333" stroke-width="0.6"/>
<text transform="translate(753.68,262.57) rotate(-63.17)" font-size="5.6" text-anchor="middle" dominant-baseline="central" font-family="Liberation Sans, sans-serif" fill="#555">10</text>
<line x1="739.53" y1="276.1" x2="741.63" y2="277.47" stroke="#333" stroke-width="0.6"/>
<text transform="translate(744.14,279.11) rotate(-56.85)" font-size="5.6" text-anchor="middle" dominant-baseline="central" font-family="Liberation Sans, sans-serif" fill="#555">20</text>
<line x1="728.59" y1="291" x2="730.51" y2="292.59" stroke="#333" stroke-width="0.6"/>
<text transform="translate(732.83,294.49) rotate(-50.52)" font-size="5.6" text-anchor="middle" dominant-baseline="central" font-family="Liberation Sans, sans-serif" fill="#555">30</text>
<text transform="translate(750.43,282.27) rotate(-57.1)" font-size="7.2" text-anchor="middle" dominant-baseline="central" font-family="Liberation Sans, sans-serif" fill="#4a4a4a">Chr05</text>
<path d="M702.8 303.2L702.2 303.8L693.5 293.8L694.2 293.2Z" fill="#6bafd7"/>
<path d="M702.3 303.7L701.6 304.3L693.0 294.2L693.7 293.7Z" fill="#4895ce"/>
<path d="M701.7 304.1L701.0 304.7L692.5 294.7L693.1 294.1Z" fill="#529dd0"/>
<path d="M701.2 304.6L700.5 305.2L692.0 295.1L692.6 294.6Z" fill="#549fd1"/>
<path d="M700.6 305.1L699.9 305.7L691.5 295.5L692.1 295.0Z" fill="#408fcc"/>
<path d="M700.0 305.6L699.3 306.1L691.0 296.0L691.6 295.4Z" fill="#79b9da"/>
<path d="M699.5 306.0L698.8 306.6L690.4 296.4L691.1 295.9Z" fill="#6aafd7"/>
<path d="M698.9 306.5L698.2 307.1L689.9 296.8L690.6 296.3Z" fill="#3d8dcb"/>
<path d="M698.3 307.0L697.6 307.5L689.4 297.2L690.0 296.7Z" fill="#58a1d2"/>
<path d="M697.8 307.4L697.0 308.0L688.9 297.6L689.5 297.1Z" fill="#3d8dcb"/>
<path d="M697.2 307.9L696.5 308.5L688.3 298.1L689.0 297.6Z" fill="#77b8da"/>
<path d="M696.6 308.3L695.9 308.9L687.8 298.5L688.4 298.0Z" fill="#3d8dcb"/>
<path d="M696.0 308.8L695.3 309.4L687.3 298.9L687.9 298.4Z" fill="#3d8dcb"/>
<path d="M695.4 309.3L694.7 309.8L686.7 299.3L687.4 298.8Z" fill="#59a2d2"/>
<path d="M694.9 309.7L694.1 310.2L686.2 299.7L686.8 299.2Z" fill="#edf2fa"/>
<path d="M694.3 310.1L693.5 310.7L685.6 300.1L686.3 299.6Z" fill="#edf2fa"/>
<path d="M693.7 310.6L693.0 311.1L685.1 300.5L685.8 300.0Z" fill="#ecf2fa"/>
<path d="M693.1 311.0L692.4 311.6L684.6 300.9L685.2 300.4Z" fill="#eaf1f9"/>
<path d="M692.5 311.5L691.8 312.0L684.0 301.3L684.7 300.8Z" fill="#e8f0f8"/>
<path d="M691.9 311.9L691.2 312.4L683.5 301.7L684.1 301.2Z" fill="#edf2fa"/>
<path d="M691.3 312.3L690.6 312.9L682.9 302.1L683.6 301.6Z" fill="#e8f0f8"/>
<path d="M690.7 312.8L690.0 313.3L682.4 302.5L683.0 302.0Z" fill="#e7eff8"/>
<path d="M690.1 313.2L689.4 313.7L681.8 302.9L682.5 302.4Z" fill="#d2e6f1"/>
<path d="M689.5 313.6L688.8 314.1L681.3 303.3L681.9 302.8Z" fill="#e8f0f8"/>
<path d="M688.9 314.0L688.2 314.5L680.7 303.6L681.4 303.2Z" fill="#edf2fa"/>
<path d="M688.3 314.4L687.6 315.0L680.2 304.0L680.8 303.6Z" fill="#e9f0f8"/>
<path d="M687.7 314.9L686.9 315.4L679.6 304.4L680.3 303.9Z" fill="#e8f0f8"/>
<path d="M687.1 315.3L686.3 315.8L679.0 304.8L679.7 304.3Z" fill="#ecf2fa"/>
<path d="M686.5 315.7L685.7 316.2L678.5 305.1L679.2 304.7Z" fill="#e7eff8"/>
<path d="M685.9 316.1L685.1 316.6L677.9 305.5L678.6 305.1Z" fill="#e9f0f9"/>
<path d="M685.2 316.5L684.5 317.0L677.3 305.9L678.0 305.4Z" fill="#e8f0f8"/>
<path d="M684.6 316.9L683.9 317.4L676.8 306.2L677.5 305.8Z" fill="#ecf2fa"/>
<path d="M684.0 317.3L683.2 317.8L676.2 306.6L676.9 306.2Z" fill="#eaf1f9"/>
<path d="M683.4 317.7L682.6 318.2L675.6 307.0L676.3 306.5Z" fill="#e8f0f8"/>
<path d="M682.8 318.1L682.0 318.5L675.1 307.3L675.8 306.9Z" fill="#edf2fa"/>
<path d="M682.1 318.5L681.4 318.9L674.5 307.7L675.2 307.2Z" fill="#e9f0f9"/>
<path d="M681.5 318.8L680.7 319.3L673.9 308.0L674.6 307.6Z" fill="#e8f0f8"/>
<path d="M680.9 319.2L680.1 319.7L673.3 308.4L674.0 307.9Z" fill="#ecf2fa"/>
<path d="M680.2 319.6L679.5 320.1L672.7 308.7L673.5 308.3Z" fill="#ecf2fa"/>
<path d="M679.6 320.0L678.8 320.4L672.2 309.1L672.9 308.6Z" fill="#ebf1f9"/>
<path d="M679.0 320.4L678.2 320.8L671.6 309.4L672.3 309.0Z" fill="#edf2fa"/>
<path d="M678.3 320.7L677.6 321.2L671.0 309.7L671.7 309.3Z" fill="#ecf1fa"/>
<path d="M677.7 321.1L676.9 321.5L670.4 310.1L671.1 309.7Z" fill="#edf2fa"/>
<path d="M677.1 321.5L676.3 321.9L669.8 310.4L670.5 310.0Z" fill="#e9f0f9"/>
<path d="M676.4 321.8L675.6 322.3L669.2 310.7L670.0 310.3Z" fill="#e9f0f9"/>
<path d="M675.8 322.2L675.0 322.6L668.6 311.0L669.4 310.6Z" fill="#edf2fa"/>
<path d="M675.1 322.5L674.3 323.0L668.1 311.4L668.8 311.0Z" fill="#e8f0f8"/>
<path d="M674.5 322.9L673.7 323.3L667.5 311.7L668.2 311.3Z" fill="#cfe4f0"/>
<path d="M673.8 323.2L673.0 323.7L666.9 312.0L667.6 311.6Z" fill="#ecf1fa"/>
<path d="M673.2 323.6L672.4 324.0L666.3 312.3L667.0 311.9Z" fill="#e8f0f8"/>
<path d="M672.5 323.9L671.7 324.4L665.7 312.6L666.4 312.2Z" fill="#e8f0f8"/>
<path d="M671.9 324.3L671.1 324.7L665.1 312.9L665.8 312.6Z" fill="#e9f0f9"/>
<path d="M671.2 324.6L670.4 325.0L664.5 313.2L665.2 312.9Z" fill="#ecf1f9"/>
<path d="M670.6 324.9L669.8 325.4L663.9 313.5L664.6 313.2Z" fill="#ecf2fa"/>
<path d="M669.9 325.3L669.1 325.7L663.3 313.8L664.0 313.5Z" fill="#dceaf4"/>
<path d="M669.3 325.6L668.5 326.0L662.7 314.1L663.4 313.8Z" fill="#dbeaf4"/>
<path d="M668.6 325.9L667.8 326.3L662.1 314.4L662.8 314.1Z" fill="#d6e7f2"/>
<path d="M667.9 326.3L667.1 326.6L661.4 314.7L662.2 314.4Z" fill="#d9e9f3"/>
<path d="M667.3 326.6L666.5 327.0L660.8 315.0L661.6 314.7Z" fill="#d0e5f0"/>
<path d="M666.6 326.9L665.8 327.3L660.2 315.3L661.0 315.0Z" fill="#d7e8f2"/>
<path d="M665.9 327.2L665.1 327.6L659.6 315.6L660.4 315.2Z" fill="#dbeaf4"/>
<path d="M665.3 327.5L664.5 327.9L659.0 315.9L659.7 315.5Z" fill="#ddebf5"/>
<path d="M664.6 327.8L663.8 328.2L658.4 316.1L659.1 315.8Z" fill="#d4e6f1"/>
<path d="M663.9 328.1L663.1 328.5L657.8 316.4L658.5 316.1Z" fill="#d9e9f3"/>
<path d="M663.3 328.4L662.4 328.8L657.1 316.7L657.9 316.4Z" fill="#d8e8f3"/>
<path d="M662.6 328.7L661.8 329.1L656.5 317.0L657.3 316.6Z" fill="#d3e6f1"/>
<path d="M661.9 329.0L661.1 329.4L655.9 317.2L656.7 316.9Z" fill="#d9e9f3"/>
<path d="M661.2 329.3L660.4 329.7L655.3 317.5L656.1 317.2Z" fill="#d6e7f2"/>
<path d="M660.6 329.6L659.7 329.9L654.7 317.8L655.4 317.4Z" fill="#92c8df"/>
<path d="M659.9 329.9L659.1 330.2L654.0 318.0L654.8 317.7Z" fill="#aed7e6"/>
<path d="M659.2 330.2L658.4 330.5L653.4 318.3L654.2 318.0Z" fill="#afd7e6"/>
<path d="M658.5 330.4L657.7 330.8L652.8 318.5L653.6 318.2Z" fill="#a6d3e4"/>
<path d="M657.8 330.7L657.0 331.0L652.2 318.8L652.9 318.5Z" fill="#93c8e0"/>
<path d="M657.2 331.0L656.3 331.3L651.5 319.0L652.3 318.7Z" fill="#a6d3e4"/>
<path d="M656.5 331.3L655.6 331.6L650.9 319.3L651.7 319.0Z" fill="#b6dae9"/>
<path d="M655.8 331.5L654.9 331.8L650.3 319.5L651.1 319.2Z" fill="#9ecfe2"/>
<path d="M655.1 331.8L654.3 332.1L649.6 319.7L650.4 319.4Z" fill="#a9d4e5"/>
<path d="M654.4 332.0L653.6 332.4L649.0 320.0L649.8 319.7Z" fill="#bcdcea"/>
<path d="M653.7 332.3L652.9 332.6L648.4 320.2L649.2 319.9Z" fill="#96cbe0"/>
<path d="M653.0 332.6L652.2 332.9L647.7 320.4L648.5 320.1Z" fill="#96cae0"/>
<path d="M652.3 332.8L651.5 333.1L647.1 320.6L647.9 320.4Z" fill="#99cce1"/>
<path d="M651.6 333.0L650.8 333.3L646.5 320.9L647.3 320.6Z" fill="#a9d4e5"/>
<path d="M650.9 333.3L650.1 333.6L645.8 321.1L646.6 320.8Z" fill="#97cbe1"/>
<path d="M650.3 333.5L649.4 333.8L645.2 321.3L646.0 321.0Z" fill="#b9dbe9"/>
<path d="M649.6 333.8L648.7 334.1L644.6 321.5L645.3 321.3Z" fill="#b2d8e7"/>
<path d="M648.9 334.0L648.0 334.3L643.9 321.7L644.7 321.5Z" fill="#a9d4e5"/>
<path d="M648.2 334.2L647.3 334.5L643.3 321.9L644.1 321.7Z" fill="#93c9e0"/>
<path d="M647.5 334.5L646.6 334.7L642.6 322.1L643.4 321.9Z" fill="#9fcfe2"/>
<path d="M646.8 334.7L645.9 335.0L642.0 322.3L642.8 322.1Z" fill="#90c7df"/>
<path d="M646.1 334.9L645.2 335.2L641.3 322.5L642.1 322.3Z" fill="#a4d2e3"/>
<path d="M676.1 272.5L675.6 273.0L669.0 265.3L669.4 264.9Z" fill="#c3c2e3"/>
<path d="M675.7 272.9L675.2 273.3L668.6 265.6L669.1 265.2Z" fill="#c4c3e4"/>
<path d="M675.3 273.2L674.7 273.7L668.2 266.0L668.7 265.6Z" fill="#c4c3e4"/>
<path d="M674.8 273.6L674.3 274.0L667.8 266.3L668.3 265.9Z" fill="#aca9d7"/>
<path d="M674.4 273.9L673.9 274.4L667.5 266.6L667.9 266.2Z" fill="#c0bfe2"/>
<path d="M674.0 274.3L673.5 274.7L667.1 266.9L667.5 266.5Z" fill="#cacae7"/>
<path d="M673.6 274.6L673.1 275.1L666.7 267.2L667.2 266.8Z" fill="#c2c1e3"/>
<path d="M673.2 275.0L672.6 275.4L666.3 267.5L666.8 267.2Z" fill="#aaa7d6"/>
<path d="M672.7 275.3L672.2 275.7L665.9 267.9L666.4 267.5Z" fill="#cccce8"/>
<path d="M672.3 275.7L671.8 276.1L665.5 268.2L666.0 267.8Z" fill="#cecee9"/>
<path d="M671.9 276.0L671.4 276.4L665.1 268.5L665.6 268.1Z" fill="#b9b7de"/>
<path d="M671.5 276.3L670.9 276.8L664.7 268.8L665.2 268.4Z" fill="#cccce8"/>
<path d="M671.0 276.7L670.5 277.1L664.3 269.1L664.8 268.7Z" fill="#c5c4e4"/>
<path d="M670.6 277.0L670.1 277.4L663.9 269.4L664.4 269.0Z" fill="#c2c1e3"/>
<path d="M670.2 277.3L669.6 277.8L663.5 269.7L664.0 269.3Z" fill="#d2d2eb"/>
<path d="M669.7 277.7L669.2 278.1L663.1 270.0L663.6 269.6Z" fill="#bdbce1"/>
<path d="M669.3 278.0L668.8 278.4L662.7 270.3L663.2 269.9Z" fill="#b5b3dc"/>
<path d="M668.9 278.3L668.3 278.7L662.3 270.6L662.8 270.2Z" fill="#cbcbe8"/>
<path d="M668.4 278.7L667.9 279.1L661.9 270.9L662.4 270.5Z" fill="#c3c2e3"/>
<path d="M668.0 279.0L667.4 279.4L661.5 271.2L662.0 270.8Z" fill="#cfcfe9"/>
<path d="M667.5 279.3L667.0 279.7L661.1 271.5L661.6 271.1Z" fill="#9c99ce"/>
<path d="M667.1 279.6L666.5 280.0L660.7 271.7L661.2 271.4Z" fill="#bdbce1"/>
<path d="M666.6 279.9L666.1 280.3L660.3 272.0L660.8 271.7Z" fill="#cecde9"/>
<path d="M666.2 280.2L665.6 280.6L659.9 272.3L660.4 272.0Z" fill="#cfcfea"/>
<path d="M665.7 280.6L665.2 280.9L659.5 272.6L660.0 272.3Z" fill="#d1d1ea"/>
<path d="M665.3 280.9L664.7 281.2L659.1 272.9L659.6 272.5Z" fill="#c8c8e6"/>
<path d="M664.8 281.2L664.3 281.5L658.7 273.2L659.2 272.8Z" fill="#cccce8"/>
<path d="M664.4 281.5L663.8 281.9L658.3 273.4L658.8 273.1Z" fill="#c4c3e4"/>
<path d="M663.9 281.8L663.4 282.2L657.8 273.7L658.4 273.4Z" fill="#cbcae7"/>
<path d="M663.5 282.1L662.9 282.4L657.4 274.0L657.9 273.6Z" fill="#d1d1eb"/>
<path d="M663.0 282.4L662.5 282.7L657.0 274.3L657.5 273.9Z" fill="#c1c0e3"/>
<path d="M662.6 282.7L662.0 283.0L656.6 274.5L657.1 274.2Z" fill="#c2c1e3"/>
<path d="M662.1 283.0L661.5 283.3L656.2 274.8L656.7 274.5Z" fill="#cdcde8"/>
<path d="M661.6 283.3L661.1 283.6L655.7 275.1L656.3 274.7Z" fill="#827ec0"/>
<path d="M661.2 283.6L660.6 283.9L655.3 275.3L655.8 275.0Z" fill="#c9c9e7"/>
<path d="M660.7 283.8L660.2 284.2L654.9 275.6L655.4 275.3Z" fill="#bdbce1"/>
<path d="M660.3 284.1L659.7 284.5L654.5 275.8L655.0 275.5Z" fill="#cecee9"/>
<path d="M659.8 284.4L659.2 284.8L654.0 276.1L654.6 275.8Z" fill="#c0bfe2"/>
<path d="M659.3 284.7L658.8 285.0L653.6 276.3L654.1 276.0Z" fill="#bfbee2"/>
<path d="M658.9 285.0L658.3 285.3L653.2 276.6L653.7 276.3Z" fill="#bebde1"/>
<path d="M658.4 285.3L657.8 285.6L652.7 276.8L653.3 276.5Z" fill="#bcbae0"/>
<path d="M657.9 285.5L657.3 285.9L652.3 277.1L652.8 276.8Z" fill="#cbcbe7"/>
<path d="M657.4 285.8L656.9 286.1L651.9 277.3L652.4 277.0Z" fill="#d6d6ed"/>
<path d="M657.0 286.1L656.4 286.4L651.4 277.6L652.0 277.3Z" fill="#d5d5ec"/>
<path d="M656.5 286.3L655.9 286.7L651.0 277.8L651.5 277.5Z" fill="#cacae7"/>
<path d="M656.0 286.6L655.4 286.9L650.6 278.1L651.1 277.8Z" fill="#cccce8"/>
<path d="M655.5 286.9L655.0 287.2L650.1 278.3L650.7 278.0Z" fill="#bcbae0"/>
<path d="M655.1 287.1L654.5 287.4L649.7 278.5L650.2 278.3Z" fill="#bdbbe0"/>
<path d="M654.6 287.4L654.0 287.7L649.3 278.8L649.8 278.5Z" fill="#d4d4ec"/>
<path d="M654.1 287.6L653.5 288.0L648.8 279.0L649.4 278.7Z" fill="#cfcfe9"/>
<path d="M653.6 287.9L653.0 288.2L648.4 279.2L648.9 279.0Z" fill="#d5d5ec"/>
<path d="M653.1 288.2L652.5 288.5L647.9 279.5L648.5 279.2Z" fill="#bfbde1"/>
<path d="M652.6 288.4L652.0 288.7L647.5 279.7L648.0 279.4Z" fill="#bfbee2"/>
<path d="M652.2 288.7L651.6 289.0L647.0 279.9L647.6 279.6Z" fill="#bcbae0"/>
<path d="M651.7 288.9L651.1 289.2L646.6 280.1L647.1 279.9Z" fill="#cecde9"/>
<path d="M651.2 289.1L650.6 289.4L646.1 280.4L646.7 280.1Z" fill="#c0bee2"/>
<path d="M650.7 289.4L650.1 289.7L645.7 280.6L646.2 280.3Z" fill="#cdcde9"/>
<path d="M650.2 289.6L649.6 289.9L645.3 280.8L645.8 280.5Z" fill="#c8c7e6"/>
<path d="M649.7 289.9L649.1 290.1L644.8 281.0L645.4 280.8Z" fill="#c8c7e6"/>
<path d="M649.2 290.1L648.6 290.4L644.3 281.2L644.9 281.0Z" fill="#bfbee2"/>
<path d="M648.7 290.3L648.1 290.6L643.9 281.4L644.4 281.2Z" fill="#bab8df"/>
<path d="M648.2 290.6L647.6 290.8L643.4 281.6L644.0 281.4Z" fill="#b9b7de"/>
<path d="M647.7 290.8L647.1 291.1L643.0 281.8L643.5 281.6Z" fill="#cfcfea"/>
<path d="M647.2 291.0L646.6 291.3L642.5 282.0L643.1 281.8Z" fill="#c1c0e2"/>
<path d="M646.7 291.2L646.1 291.5L642.1 282.3L642.6 282.0Z" fill="#b1aeda"/>
<path d="M646.2 291.5L645.6 291.7L641.6 282.4L642.2 282.2Z" fill="#c9c8e6"/>
<path d="M645.7 291.7L645.1 291.9L641.2 282.6L641.7 282.4Z" fill="#bab8df"/>
<path d="M645.2 291.9L644.6 292.1L640.7 282.8L641.3 282.6Z" fill="#c9c9e7"/>
<path d="M644.7 292.1L644.1 292.4L640.2 283.0L640.8 282.8Z" fill="#7470b8"/>
<path d="M644.2 292.3L643.6 292.6L639.8 283.2L640.3 283.0Z" fill="#c7c6e5"/>
<path d="M643.7 292.5L643.1 292.8L639.3 283.4L639.9 283.2Z" fill="#cbcbe8"/>
<path d="M643.2 292.7L642.6 293.0L638.9 283.6L639.4 283.4Z" fill="#7470b8"/>
<path d="M642.7 292.9L642.1 293.2L638.4 283.8L639.0 283.6Z" fill="#b3b1db"/>
<path d="M642.2 293.1L641.6 293.4L637.9 284.0L638.5 283.7Z" fill="#d1d1ea"/>
<path d="M641.7 293.3L641.1 293.6L637.5 284.1L638.0 283.9Z" fill="#c8c8e6"/>
<path d="M641.2 293.5L640.6 293.8L637.0 284.3L637.6 284.1Z" fill="#cecee9"/>
<path d="M640.7 293.7L640.1 294.0L636.5 284.5L637.1 284.3Z" fill="#cecde9"/>
<path d="M640.2 293.9L639.5 294.1L636.1 284.7L636.6 284.5Z" fill="#c9c9e7"/>
<path d="M639.7 294.1L639.0 294.3L635.6 284.8L636.2 284.6Z" fill="#c2c1e3"/>
<path d="M639.1 294.3L638.5 294.5L635.1 285.0L635.7 284.8Z" fill="#c0bee2"/>
<path d="M638.6 294.5L638.0 294.7L634.7 285.2L635.2 285.0Z" fill="#b9b7de"/>
<path d="M638.1 294.7L637.5 294.9L634.2 285.3L634.8 285.1Z" fill="#aca9d7"/>
<path d="M637.6 294.8L637.0 295.1L633.7 285.5L634.3 285.3Z" fill="#bebde1"/>
<path d="M637.1 295.0L636.5 295.2L633.2 285.7L633.8 285.5Z" fill="#c6c6e5"/>
<path d="M636.6 295.2L635.9 295.4L632.8 285.8L633.3 285.6Z" fill="#aeacd9"/>
<path d="M636.0 295.4L635.4 295.6L632.3 286.0L632.9 285.8Z" fill="#cecee9"/>
<path d="M635.5 295.5L634.9 295.7L631.8 286.1L632.4 285.9Z" fill="#7470b8"/>
<path d="M635.0 295.7L634.4 295.9L631.3 286.3L631.9 286.1Z" fill="#b9b8df"/>
<path d="M634.5 295.9L633.9 296.1L630.9 286.4L631.4 286.2Z" fill="#bfbee2"/>
<path d="M634.0 296.0L633.3 296.2L630.4 286.6L631.0 286.4Z" fill="#c6c5e5"/>
<path d="M686.3 284.2L686.0 284.6L685.6 284.8L685.9 286.0L685.0 285.6L685.2 286.5L684.6 286.5L684.2 286.8L684.3 287.6L684.2 288.3L683.4 288.0L682.9 288.2L682.9 288.9L682.2 288.8L682.5 289.9L683.0 291.2L682.4 291.3L681.4 290.8L681.0 291.0L680.8 291.5L680.4 291.8L679.8 291.8L679.6 292.3L680.4 294.2L679.6 293.9L679.3 294.3L678.6 294.1L678.8 295.2L678.5 295.7L677.6 295.1L677.2 295.4L677.7 297.1L677.2 297.1L676.9 297.5L677.5 299.2L675.4 297.1L676.1 298.9L675.6 299.0L675.4 299.6L674.4 298.9L673.9 299.1L672.8 298.2L673.3 300.0L672.3 299.3L673.3 301.7L672.6 301.6L672.3 301.9L672.1 302.5L671.4 302.3L669.7 300.5L670.7 303.1L671.0 304.6L669.0 302.1L668.0 301.4L668.0 302.3L668.1 303.5L667.7 303.6L667.2 303.8L666.0 302.6L666.4 304.3L665.6 303.8L664.7 303.3L664.0 303.0L664.1 304.1L663.6 304.2L663.4 304.9L662.8 304.6L662.4 305.0L661.5 304.3L661.7 305.8L660.4 304.2L660.4 305.2L659.4 304.3L659.4 305.4L658.2 304.1L658.3 305.3L657.8 305.3L657.2 305.2L656.6 305.1L656.0 304.8L656.0 305.9L655.1 305.0L654.8 305.6L654.4 305.7L653.9 305.9L653.3 305.5L653.0 306.1L652.4 305.8L651.9 306.0L651.5 306.2L651.2 306.7L650.8 306.8L650.2 306.7L649.9 307.1L649.3 307.0L649.1 307.6L648.4 307.1L648.0 307.5L647.7 308.0L647.2 307.8L646.7 308.0L646.3 308.2L645.9 308.4L645.5 308.7L645.1 308.8L644.7 309.2L644.5 309.9L643.7 309.2L643.2 309.0L642.9 309.7L642.6 310.2L642.1 310.1L641.4 309.6L641.1 310.0L640.7 310.5L640.2 310.4L639.8 310.7L639.3 310.7L638.9 311.0L638.4 310.8L638.1 311.5 L637.75 310.25 A131.5 131.5 0 0 0 685.74 283.59 Z" fill="#eab0ae"/>
<path d="M686.3 284.2L686.0 284.6L685.6 284.8L685.9 286.0L685.0 285.6L685.2 286.5L684.6 286.5L684.2 286.8L684.3 287.6L684.2 288.3L683.4 288.0L682.9 288.2L682.9 288.9L682.2 288.8L682.5 289.9L683.0 291.2L682.4 291.3L681.4 290.8L681.0 291.0L680.8 291.5L680.4 291.8L679.8 291.8L679.6 292.3L680.4 294.2L679.6 293.9L679.3 294.3L678.6 294.1L678.8 295.2L678.5 295.7L677.6 295.1L677.2 295.4L677.7 297.1L677.2 297.1L676.9 297.5L677.5 299.2L675.4 297.1L676.1 298.9L675.6 299.0L675.4 299.6L674.4 298.9L673.9 299.1L672.8 298.2L673.3 300.0L672.3 299.3L673.3 301.7L672.6 301.6L672.3 301.9L672.1 302.5L671.4 302.3L669.7 300.5L670.7 303.1L671.0 304.6L669.0 302.1L668.0 301.4L668.0 302.3L668.1 303.5L667.7 303.6L667.2 303.8L666.0 302.6L666.4 304.3L665.6 303.8L664.7 303.3L664.0 303.0L664.1 304.1L663.6 304.2L663.4 304.9L662.8 304.6L662.4 305.0L661.5 304.3L661.7 305.8L660.4 304.2L660.4 305.2L659.4 304.3L659.4 305.4L658.2 304.1L658.3 305.3L657.8 305.3L657.2 305.2L656.6 305.1L656.0 304.8L656.0 305.9L655.1 305.0L654.8 305.6L654.4 305.7L653.9 305.9L653.3 305.5L653.0 306.1L652.4 305.8L651.9 306.0L651.5 306.2L651.2 306.7L650.8 306.8L650.2 306.7L649.9 307.1L649.3 307.0L649.1 307.6L648.4 307.1L648.0 307.5L647.7 308.0L647.2 307.8L646.7 308.0L646.3 308.2L645.9 308.4L645.5 308.7L645.1 308.8L644.7 309.2L644.5 309.9L643.7 309.2L643.2 309.0L642.9 309.7L642.6 310.2L642.1 310.1L641.4 309.6L641.1 310.0L640.7 310.5L640.2 310.4L639.8 310.7L639.3 310.7L638.9 311.0L638.4 310.8L638.1 311.5" fill="none" stroke="#d9353a" stroke-width="0.9"/>
<path d="M680.7 277.8L679.5 277.1L678.9 277.1L679.2 278.0L678.9 278.4L679.0 279.2L677.7 278.2L677.4 278.6L677.9 279.9L677.6 280.2L676.4 279.4L676.8 280.5L676.0 280.3L676.2 281.2L676.3 282.0L675.4 281.7L675.4 282.3L674.7 282.1L674.6 282.7L673.5 282.0L673.9 283.1L673.3 283.1L672.9 283.3L672.9 284.0L672.5 284.3L672.6 285.1L672.4 285.5L672.5 286.5L670.9 285.0L670.9 285.8L670.9 286.5L669.7 285.5L669.6 286.1L669.2 286.4L668.8 286.4L669.0 287.6L668.1 286.9L668.1 287.8L668.2 288.7L667.4 288.4L667.2 288.8L666.8 288.9L667.5 290.9L666.1 289.4L665.6 289.5L665.3 289.9L664.5 289.4L664.3 289.9L664.5 291.1L664.0 291.1L662.9 290.2L663.1 291.3L662.2 290.7L662.0 291.1L661.7 291.5L661.2 291.4L660.9 291.9L660.3 291.7L660.7 293.2L660.1 293.0L659.6 293.1L659.1 293.0L658.6 293.1L658.3 293.5L657.9 293.7L657.6 293.9L657.2 294.2L657.0 294.8L656.6 294.8L656.8 296.2L655.4 294.5L655.4 295.4L654.9 295.4L653.9 294.2L653.6 294.6L653.8 296.0L653.0 295.5L652.2 294.8L652.5 296.3L651.6 295.5L651.1 295.4L651.0 296.2L650.9 297.1L650.3 296.9L649.4 295.9L649.5 297.0L649.3 297.6L648.4 296.8L648.5 298.0L647.4 296.6L647.5 297.9L647.2 298.2L646.3 297.2L646.2 298.1L645.5 297.5L645.7 299.1L645.1 299.0L644.7 299.1L643.9 298.1L643.6 298.7L643.0 298.4L643.2 300.1L642.5 299.4L642.1 299.4L642.0 300.4L641.5 300.2L641.2 300.9L640.4 299.8L640.2 300.6L639.5 299.9L639.4 300.8L638.8 300.5L638.7 301.5L637.9 300.4L637.4 300.4L637.2 301.2L636.9 301.6L637.0 303.4L636.2 302.1L635.5 301.3L634.9 301.1 L634.82 300.69 A121.5 121.5 0 0 0 679.17 276.06 Z" fill="#d6edb4"/>
<path d="M680.7 277.8L679.5 277.1L678.9 277.1L679.2 278.0L678.9 278.4L679.0 279.2L677.7 278.2L677.4 278.6L677.9 279.9L677.6 280.2L676.4 279.4L676.8 280.5L676.0 280.3L676.2 281.2L676.3 282.0L675.4 281.7L675.4 282.3L674.7 282.1L674.6 282.7L673.5 282.0L673.9 283.1L673.3 283.1L672.9 283.3L672.9 284.0L672.5 284.3L672.6 285.1L672.4 285.5L672.5 286.5L670.9 285.0L670.9 285.8L670.9 286.5L669.7 285.5L669.6 286.1L669.2 286.4L668.8 286.4L669.0 287.6L668.1 286.9L668.1 287.8L668.2 288.7L667.4 288.4L667.2 288.8L666.8 288.9L667.5 290.9L666.1 289.4L665.6 289.5L665.3 289.9L664.5 289.4L664.3 289.9L664.5 291.1L664.0 291.1L662.9 290.2L663.1 291.3L662.2 290.7L662.0 291.1L661.7 291.5L661.2 291.4L660.9 291.9L660.3 291.7L660.7 293.2L660.1 293.0L659.6 293.1L659.1 293.0L658.6 293.1L658.3 293.5L657.9 293.7L657.6 293.9L657.2 294.2L657.0 294.8L656.6 294.8L656.8 296.2L655.4 294.5L655.4 295.4L654.9 295.4L653.9 294.2L653.6 294.6L653.8 296.0L653.0 295.5L652.2 294.8L652.5 296.3L651.6 295.5L651.1 295.4L651.0 296.2L650.9 297.1L650.3 296.9L649.4 295.9L649.5 297.0L649.3 297.6L648.4 296.8L648.5 298.0L647.4 296.6L647.5 297.9L647.2 298.2L646.3 297.2L646.2 298.1L645.5 297.5L645.7 299.1L645.1 299.0L644.7 299.1L643.9 298.1L643.6 298.7L643.0 298.4L643.2 300.1L642.5 299.4L642.1 299.4L642.0 300.4L641.5 300.2L641.2 300.9L640.4 299.8L640.2 300.6L639.5 299.9L639.4 300.8L638.8 300.5L638.7 301.5L637.9 300.4L637.4 300.4L637.2 301.2L636.9 301.6L637.0 303.4L636.2 302.1L635.5 301.3L634.9 301.1" fill="none" stroke="#3ca62c" stroke-width="0.9"/>
<path d="M709.41 310.72A167.5 167.5 0 0 1 648.27 344.68L646.66 339.42A162 162 0 0 0 705.79 306.58Z" fill="#6b6dab" stroke="#1e1e30" stroke-width="1"/>
<line x1="709.41" y1="310.72" x2="711.05" y2="312.61" stroke="#333" stroke-width="0.6"/>
<text transform="translate(713.03,314.87) rotate(-41.1)" font-size="5.6" text-anchor="middle" dominant-baseline="central" font-family="Liberation Sans, sans-serif" fill="#555">0</text>
<line x1="693.72" y1="322.85" x2="695.13" y2="324.92" stroke="#333" stroke-width="0.6"/>
<text transform="translate(696.82,327.4) rotate(-34.31)" font-size="5.6" text-anchor="middle" dominant-baseline="central" font-family="Liberation Sans, sans-serif" fill="#555">10</text>
<line x1="676.7" y1="333.04" x2="677.86" y2="335.26" stroke="#333" stroke-width="0.6"/>
<text transform="translate(679.24,337.92) rotate(-27.52)" font-size="5.6" text-anchor="middle" dominant-baseline="central" font-family="Liberation Sans, sans-serif" fill="#555">20</text>
<line x1="658.6" y1="341.15" x2="659.48" y2="343.49" stroke="#333" stroke-width="0.6"/>
<text transform="translate(660.55,346.3) rotate(-20.73)" font-size="5.6" text-anchor="middle" dominant-baseline="central" font-family="Liberation Sans, sans-serif" fill="#555">30</text>
<text transform="translate(686.7,341.86) rotate(-29.05)" font-size="7.2" text-anchor="middle" dominant-baseline="central" font-family="Liberation Sans, sans-serif" fill="#4a4a4a">Chr06</text>
<path d="M636.6 337.5L635.7 337.7L632.7 324.9L633.5 324.7Z" fill="#90c7df"/>
<path d="M635.9 337.7L635.0 337.9L632.0 325.0L632.8 324.9Z" fill="#65abd5"/>
<path d="M635.2 337.9L634.3 338.1L631.4 325.2L632.2 325.0Z" fill="#90c7df"/>
<path d="M634.4 338.0L633.6 338.2L630.7 325.3L631.5 325.2Z" fill="#8cc5de"/>
<path d="M633.7 338.2L632.8 338.4L630.0 325.5L630.8 325.3Z" fill="#8ac3de"/>
<path d="M633.0 338.4L632.1 338.5L629.4 325.6L630.2 325.5Z" fill="#9dcee2"/>
<path d="M632.3 338.5L631.4 338.7L628.7 325.8L629.5 325.6Z" fill="#73b5d9"/>
<path d="M631.6 338.7L630.7 338.8L628.0 325.9L628.9 325.7Z" fill="#9ecfe2"/>
<path d="M630.8 338.8L629.9 339.0L627.4 326.0L628.2 325.9Z" fill="#64aad5"/>
<path d="M630.1 339.0L629.2 339.1L626.7 326.2L627.5 326.0Z" fill="#93c8e0"/>
<path d="M629.4 339.1L628.5 339.3L626.0 326.3L626.9 326.1Z" fill="#65abd5"/>
<path d="M628.7 339.2L627.8 339.4L625.4 326.4L626.2 326.3Z" fill="#82bfdc"/>
<path d="M627.9 339.4L627.0 339.5L624.7 326.5L625.5 326.4Z" fill="#97cbe1"/>
<path d="M627.2 339.5L626.3 339.7L624.0 326.7L624.9 326.5Z" fill="#7cbbdb"/>
<path d="M626.5 339.6L625.6 339.8L623.4 326.8L624.2 326.6Z" fill="#7bbbdb"/>
<path d="M625.7 339.8L624.9 339.9L622.7 326.9L623.5 326.8Z" fill="#549ed1"/>
<path d="M625.0 339.9L624.1 340.0L622.0 327.0L622.9 326.9Z" fill="#9dcee2"/>
<path d="M624.3 340.0L623.4 340.1L621.4 327.1L622.2 327.0Z" fill="#67add6"/>
<path d="M623.6 340.1L622.7 340.3L620.7 327.2L621.5 327.1Z" fill="#9acde1"/>
<path d="M622.8 340.2L621.9 340.4L620.0 327.3L620.9 327.2Z" fill="#94cae0"/>
<path d="M622.1 340.3L621.2 340.5L619.4 327.4L620.2 327.3Z" fill="#93c9e0"/>
<path d="M621.4 340.4L620.5 340.6L618.7 327.5L619.5 327.4Z" fill="#6cb0d7"/>
<path d="M620.6 340.5L619.7 340.7L618.0 327.6L618.8 327.5Z" fill="#89c3de"/>
<path d="M619.9 340.6L619.0 340.8L617.4 327.7L618.2 327.6Z" fill="#90c7df"/>
<path d="M619.2 340.7L618.3 340.9L616.7 327.7L617.5 327.6Z" fill="#79b9da"/>
<path d="M618.4 340.8L617.5 340.9L616.0 327.8L616.8 327.7Z" fill="#89c3de"/>
<path d="M617.7 340.9L616.8 341.0L615.3 327.9L616.2 327.8Z" fill="#6eb1d7"/>
<path d="M617.0 341.0L616.1 341.1L614.7 328.0L615.5 327.9Z" fill="#edf2fa"/>
<path d="M616.2 341.1L615.3 341.2L614.0 328.1L614.8 328.0Z" fill="#eaf0f9"/>
<path d="M615.5 341.2L614.6 341.3L613.3 328.1L614.1 328.0Z" fill="#eaf1f9"/>
<path d="M614.8 341.2L613.9 341.3L612.6 328.2L613.5 328.1Z" fill="#e9f0f9"/>
<path d="M614.0 341.3L613.1 341.4L612.0 328.2L612.8 328.2Z" fill="#eaf1f9"/>
<path d="M613.3 341.4L612.4 341.5L611.3 328.3L612.1 328.2Z" fill="#edf2fa"/>
<path d="M612.6 341.4L611.7 341.5L610.6 328.4L611.4 328.3Z" fill="#edf2fa"/>
<path d="M611.8 341.5L610.9 341.6L609.9 328.4L610.8 328.3Z" fill="#e8f0f8"/>
<path d="M611.1 341.6L610.2 341.6L609.3 328.5L610.1 328.4Z" fill="#edf2fa"/>
<path d="M610.3 341.6L609.4 341.7L608.6 328.5L609.4 328.4Z" fill="#eaf1f9"/>
<path d="M609.6 341.7L608.7 341.7L607.9 328.5L608.7 328.5Z" fill="#edf2fa"/>
<path d="M608.9 341.7L608.0 341.8L607.2 328.6L608.1 328.5Z" fill="#eaf1f9"/>
<path d="M608.1 341.8L607.2 341.8L606.6 328.6L607.4 328.6Z" fill="#edf2fa"/>
<path d="M607.4 341.8L606.5 341.8L605.9 328.6L606.7 328.6Z" fill="#edf2fa"/>
<path d="M606.7 341.8L605.7 341.9L605.2 328.7L606.0 328.6Z" fill="#eaf1f9"/>
<path d="M605.9 341.9L605.0 341.9L604.5 328.7L605.4 328.7Z" fill="#e7eff8"/>
<path d="M605.2 341.9L604.3 341.9L603.9 328.7L604.7 328.7Z" fill="#ebf1f9"/>
<path d="M604.4 341.9L603.5 341.9L603.2 328.7L604.0 328.7Z" fill="#e8f0f8"/>
<path d="M603.7 341.9L602.8 342.0L602.5 328.8L603.3 328.7Z" fill="#e9f0f8"/>
<path d="M603.0 342.0L602.1 342.0L601.8 328.8L602.7 328.8Z" fill="#e9f0f9"/>
<path d="M602.2 342.0L601.3 342.0L601.1 328.8L602.0 328.8Z" fill="#e7eff8"/>
<path d="M601.5 342.0L600.6 342.0L600.5 328.8L601.3 328.8Z" fill="#e9f0f8"/>
<path d="M600.7 342.0L599.8 342.0L599.8 328.8L600.6 328.8Z" fill="#eaf1f9"/>
<path d="M600.0 342.0L599.1 342.0L599.1 328.8L599.9 328.8Z" fill="#edf2fa"/>
<path d="M599.3 342.0L598.4 342.0L598.4 328.8L599.3 328.8Z" fill="#edf2fa"/>
<path d="M598.5 342.0L597.6 342.0L597.8 328.8L598.6 328.8Z" fill="#ebf1f9"/>
<path d="M597.8 342.0L596.9 342.0L597.1 328.8L597.9 328.8Z" fill="#e9f0f9"/>
<path d="M597.0 342.0L596.1 342.0L596.4 328.8L597.2 328.8Z" fill="#e7eff8"/>
<path d="M596.3 342.0L595.4 342.0L595.7 328.8L596.6 328.8Z" fill="#e8f0f8"/>
<path d="M595.6 342.0L594.7 341.9L595.1 328.7L595.9 328.8Z" fill="#e9f0f9"/>
<path d="M594.8 341.9L593.9 341.9L594.4 328.7L595.2 328.7Z" fill="#e7eff8"/>
<path d="M594.1 341.9L593.2 341.9L593.7 328.7L594.5 328.7Z" fill="#d0e5f0"/>
<path d="M593.4 341.9L592.4 341.9L593.0 328.7L593.9 328.7Z" fill="#ebf1f9"/>
<path d="M592.6 341.9L591.7 341.8L592.3 328.6L593.2 328.7Z" fill="#ecf2fa"/>
<path d="M591.9 341.8L591.0 341.8L591.7 328.6L592.5 328.6Z" fill="#ebf1f9"/>
<path d="M591.1 341.8L590.2 341.7L591.0 328.6L591.8 328.6Z" fill="#edf2fa"/>
<path d="M590.4 341.7L589.5 341.7L590.3 328.5L591.1 328.6Z" fill="#ecf1fa"/>
<path d="M589.7 341.7L588.8 341.6L589.6 328.5L590.5 328.5Z" fill="#eaf1f9"/>
<path d="M588.9 341.7L588.0 341.6L589.0 328.4L589.8 328.5Z" fill="#d3e6f1"/>
<path d="M588.2 341.6L587.3 341.5L588.3 328.4L589.1 328.4Z" fill="#eaf1f9"/>
<path d="M587.4 341.6L586.5 341.5L587.6 328.3L588.4 328.4Z" fill="#ecf2fa"/>
<path d="M586.7 341.5L585.8 341.4L586.9 328.3L587.8 328.3Z" fill="#add6e6"/>
<path d="M586.0 341.4L585.1 341.4L586.3 328.2L587.1 328.3Z" fill="#a5d3e4"/>
<path d="M585.2 341.4L584.3 341.3L585.6 328.1L586.4 328.2Z" fill="#bdddeb"/>
<path d="M584.5 341.3L583.6 341.2L584.9 328.1L585.7 328.2Z" fill="#b3d9e8"/>
<path d="M583.8 341.2L582.9 341.1L584.2 328.0L585.1 328.1Z" fill="#a9d5e5"/>
<path d="M583.0 341.2L582.1 341.1L583.6 327.9L584.4 328.0Z" fill="#90c7df"/>
<path d="M582.3 341.1L581.4 341.0L582.9 327.9L583.7 328.0Z" fill="#a1d1e3"/>
<path d="M581.6 341.0L580.7 340.9L582.2 327.8L583.0 327.9Z" fill="#9ecfe2"/>
<path d="M580.8 340.9L579.9 340.8L581.6 327.7L582.4 327.8Z" fill="#96cae0"/>
<path d="M580.1 340.8L579.2 340.7L580.9 327.6L581.7 327.7Z" fill="#bbdcea"/>
<path d="M579.4 340.7L578.5 340.6L580.2 327.5L581.0 327.6Z" fill="#a3d2e3"/>
<path d="M578.6 340.6L577.7 340.5L579.5 327.4L580.4 327.6Z" fill="#badcea"/>
<path d="M577.9 340.5L577.0 340.4L578.9 327.3L579.7 327.5Z" fill="#abd5e5"/>
<path d="M577.2 340.4L576.3 340.3L578.2 327.2L579.0 327.4Z" fill="#afd7e7"/>
<path d="M576.4 340.3L575.5 340.2L577.5 327.1L578.3 327.3Z" fill="#abd5e5"/>
<path d="M575.7 340.2L574.8 340.1L576.9 327.0L577.7 327.2Z" fill="#93c9e0"/>
<path d="M575.0 340.1L574.1 340.0L576.2 326.9L577.0 327.1Z" fill="#b0d7e7"/>
<path d="M574.2 340.0L573.3 339.8L575.5 326.8L576.3 327.0Z" fill="#8fc6df"/>
<path d="M573.5 339.9L572.6 339.7L574.9 326.7L575.7 326.9Z" fill="#b3d9e8"/>
<path d="M572.8 339.8L571.9 339.6L574.2 326.6L575.0 326.7Z" fill="#b9dbea"/>
<path d="M572.1 339.6L571.2 339.5L573.5 326.5L574.3 326.6Z" fill="#98cce1"/>
<path d="M571.3 339.5L570.4 339.3L572.9 326.4L573.7 326.5Z" fill="#97cbe1"/>
<path d="M627.0 298.0L626.3 298.1L624.0 288.3L624.6 288.2Z" fill="#aeacd9"/>
<path d="M626.4 298.1L625.8 298.3L623.5 288.4L624.1 288.3Z" fill="#b5b3dc"/>
<path d="M625.9 298.2L625.2 298.4L623.0 288.5L623.6 288.4Z" fill="#aeacd8"/>
<path d="M625.4 298.4L624.7 298.5L622.5 288.6L623.1 288.5Z" fill="#c9c8e6"/>
<path d="M624.8 298.5L624.2 298.6L622.0 288.8L622.6 288.6Z" fill="#c1bfe2"/>
<path d="M624.3 298.6L623.6 298.7L621.5 288.9L622.1 288.7Z" fill="#cccce8"/>
<path d="M623.8 298.7L623.1 298.8L621.0 289.0L621.6 288.8Z" fill="#bebce1"/>
<path d="M623.2 298.8L622.6 299.0L620.6 289.1L621.2 288.9Z" fill="#cdcce8"/>
<path d="M622.7 298.9L622.0 299.1L620.1 289.2L620.7 289.0Z" fill="#c1c0e3"/>
<path d="M622.1 299.0L621.5 299.2L619.6 289.3L620.2 289.1Z" fill="#c9c8e6"/>
<path d="M621.6 299.1L621.0 299.3L619.1 289.4L619.7 289.2Z" fill="#b9b7de"/>
<path d="M621.1 299.3L620.4 299.4L618.6 289.4L619.2 289.3Z" fill="#bdbbe0"/>
<path d="M620.5 299.4L619.9 299.5L618.1 289.5L618.7 289.4Z" fill="#a9a6d5"/>
<path d="M620.0 299.5L619.3 299.6L617.6 289.6L618.2 289.5Z" fill="#d0d0ea"/>
<path d="M619.5 299.5L618.8 299.7L617.1 289.7L617.7 289.6Z" fill="#cccce8"/>
<path d="M618.9 299.6L618.3 299.8L616.6 289.8L617.2 289.7Z" fill="#cdcde9"/>
<path d="M618.4 299.7L617.7 299.8L616.1 289.9L616.7 289.8Z" fill="#bebce1"/>
<path d="M617.8 299.8L617.2 299.9L615.6 289.9L616.2 289.8Z" fill="#c2c0e3"/>
<path d="M617.3 299.9L616.6 300.0L615.1 290.0L615.7 289.9Z" fill="#b9b7df"/>
<path d="M616.7 300.0L616.1 300.1L614.6 290.1L615.2 290.0Z" fill="#c7c7e6"/>
<path d="M616.2 300.1L615.5 300.2L614.1 290.2L614.7 290.1Z" fill="#aba8d7"/>
<path d="M615.7 300.1L615.0 300.2L613.6 290.2L614.2 290.1Z" fill="#a7a4d4"/>
<path d="M615.1 300.2L614.5 300.3L613.1 290.3L613.8 290.2Z" fill="#c5c4e4"/>
<path d="M614.6 300.3L613.9 300.4L612.6 290.4L613.3 290.3Z" fill="#c9c9e7"/>
<path d="M614.0 300.4L613.4 300.4L612.2 290.4L612.8 290.3Z" fill="#afadd9"/>
<path d="M613.5 300.4L612.8 300.5L611.7 290.5L612.3 290.4Z" fill="#c1c0e3"/>
<path d="M612.9 300.5L612.3 300.6L611.2 290.5L611.8 290.5Z" fill="#b1afda"/>
<path d="M612.4 300.6L611.7 300.6L610.7 290.6L611.3 290.5Z" fill="#d0cfea"/>
<path d="M611.9 300.6L611.2 300.7L610.2 290.6L610.8 290.6Z" fill="#c1c0e3"/>
<path d="M611.3 300.7L610.6 300.7L609.7 290.7L610.3 290.6Z" fill="#cdcde9"/>
<path d="M610.8 300.7L610.1 300.8L609.2 290.7L609.8 290.7Z" fill="#7470b8"/>
<path d="M610.2 300.8L609.6 300.8L608.7 290.8L609.3 290.7Z" fill="#bfbee2"/>
<path d="M609.7 300.8L609.0 300.9L608.2 290.8L608.8 290.8Z" fill="#bbb9df"/>
<path d="M609.1 300.9L608.5 300.9L607.7 290.9L608.3 290.8Z" fill="#b3b1dc"/>
<path d="M608.6 300.9L607.9 301.0L607.2 290.9L607.8 290.9Z" fill="#b7b5dd"/>
<path d="M608.0 301.0L607.4 301.0L606.7 290.9L607.3 290.9Z" fill="#d3d3eb"/>
<path d="M607.5 301.0L606.8 301.1L606.2 291.0L606.8 290.9Z" fill="#d3d3eb"/>
<path d="M606.9 301.0L606.3 301.1L605.7 291.0L606.3 291.0Z" fill="#b3b1db"/>
<path d="M606.4 301.1L605.7 301.1L605.2 291.0L605.8 291.0Z" fill="#8885c3"/>
<path d="M605.8 301.1L605.2 301.2L604.7 291.1L605.3 291.0Z" fill="#c5c4e5"/>
<path d="M605.3 301.1L604.6 301.2L604.2 291.1L604.8 291.1Z" fill="#d3d3eb"/>
<path d="M604.8 301.2L604.1 301.2L603.7 291.1L604.3 291.1Z" fill="#c8c8e6"/>
<path d="M604.2 301.2L603.5 301.2L603.2 291.1L603.8 291.1Z" fill="#bbbae0"/>
<path d="M603.7 301.2L603.0 301.2L602.7 291.1L603.3 291.1Z" fill="#d3d3eb"/>
<path d="M603.1 301.2L602.4 301.3L602.2 291.2L602.8 291.1Z" fill="#d5d5ec"/>
<path d="M602.6 301.3L601.9 301.3L601.7 291.2L602.3 291.2Z" fill="#c2c1e3"/>
<path d="M602.0 301.3L601.3 301.3L601.2 291.2L601.8 291.2Z" fill="#b7b5dd"/>
<path d="M601.5 301.3L600.8 301.3L600.7 291.2L601.3 291.2Z" fill="#d3d3eb"/>
<path d="M600.9 301.3L600.2 301.3L600.2 291.2L600.8 291.2Z" fill="#bebde1"/>
<path d="M600.4 301.3L599.7 301.3L599.7 291.2L600.3 291.2Z" fill="#b6b4dd"/>
<path d="M599.8 301.3L599.2 301.3L599.2 291.2L599.8 291.2Z" fill="#d3d3ec"/>
<path d="M599.3 301.3L598.6 301.3L598.7 291.2L599.3 291.2Z" fill="#d3d3eb"/>
<path d="M598.7 301.3L598.1 301.3L598.2 291.2L598.8 291.2Z" fill="#c3c2e3"/>
<path d="M598.2 301.3L597.5 301.3L597.7 291.2L598.3 291.2Z" fill="#bebde1"/>
<path d="M597.6 301.3L597.0 301.3L597.2 291.2L597.8 291.2Z" fill="#b7b5dd"/>
<path d="M597.1 301.3L596.4 301.3L596.7 291.2L597.3 291.2Z" fill="#cfcfe9"/>
<path d="M596.5 301.3L595.9 301.2L596.2 291.2L596.8 291.2Z" fill="#d3d3eb"/>
<path d="M596.0 301.3L595.3 301.2L595.7 291.1L596.3 291.2Z" fill="#b9b7de"/>
<path d="M595.4 301.2L594.8 301.2L595.2 291.1L595.8 291.1Z" fill="#9390ca"/>
<path d="M594.9 301.2L594.2 301.2L594.7 291.1L595.3 291.1Z" fill="#c2c1e3"/>
<path d="M594.3 301.2L593.7 301.2L594.2 291.1L594.8 291.1Z" fill="#bcbbe0"/>
<path d="M593.8 301.2L593.1 301.1L593.7 291.1L594.3 291.1Z" fill="#d2d2eb"/>
<path d="M593.2 301.1L592.6 301.1L593.2 291.0L593.8 291.1Z" fill="#bfbee2"/>
<path d="M592.7 301.1L592.0 301.1L592.7 291.0L593.3 291.0Z" fill="#d2d2eb"/>
<path d="M592.2 301.1L591.5 301.0L592.2 291.0L592.8 291.0Z" fill="#bab8df"/>
<path d="M591.6 301.0L590.9 301.0L591.7 290.9L592.3 291.0Z" fill="#c9c8e6"/>
<path d="M591.1 301.0L590.4 301.0L591.2 290.9L591.8 290.9Z" fill="#c1bfe2"/>
<path d="M590.5 301.0L589.8 300.9L590.7 290.8L591.3 290.9Z" fill="#c1c0e2"/>
<path d="M590.0 300.9L589.3 300.9L590.2 290.8L590.8 290.9Z" fill="#c7c7e6"/>
<path d="M589.4 300.9L588.8 300.8L589.7 290.8L590.3 290.8Z" fill="#c0bee2"/>
<path d="M588.9 300.8L588.2 300.8L589.2 290.7L589.8 290.8Z" fill="#bdbce1"/>
<path d="M588.3 300.8L587.7 300.7L588.7 290.7L589.3 290.7Z" fill="#bfbee1"/>
<path d="M587.8 300.7L587.1 300.7L588.2 290.6L588.8 290.7Z" fill="#c3c1e3"/>
<path d="M587.2 300.7L586.6 300.6L587.7 290.6L588.3 290.6Z" fill="#d2d2eb"/>
<path d="M586.7 300.6L586.0 300.5L587.2 290.5L587.8 290.6Z" fill="#c8c7e6"/>
<path d="M586.1 300.6L585.5 300.5L586.7 290.5L587.3 290.5Z" fill="#b6b4dd"/>
<path d="M585.6 300.5L584.9 300.4L586.2 290.4L586.8 290.5Z" fill="#bcbbe0"/>
<path d="M585.1 300.4L584.4 300.3L585.7 290.3L586.3 290.4Z" fill="#c9c9e7"/>
<path d="M584.5 300.4L583.8 300.3L585.2 290.3L585.8 290.3Z" fill="#c0bee2"/>
<path d="M584.0 300.3L583.3 300.2L584.7 290.2L585.3 290.3Z" fill="#b7b6de"/>
<path d="M583.4 300.2L582.8 300.1L584.2 290.1L584.8 290.2Z" fill="#c6c5e5"/>
<path d="M582.9 300.1L582.2 300.0L583.7 290.1L584.3 290.1Z" fill="#b3b1db"/>
<path d="M582.3 300.1L581.7 300.0L583.2 290.0L583.8 290.1Z" fill="#aaa8d6"/>
<path d="M581.8 300.0L581.1 299.9L582.7 289.9L583.3 290.0Z" fill="#cfcfea"/>
<path d="M581.3 299.9L580.6 299.8L582.2 289.8L582.8 289.9Z" fill="#d1d1ea"/>
<path d="M580.7 299.8L580.1 299.7L581.7 289.7L582.3 289.8Z" fill="#bab9df"/>
<path d="M580.2 299.7L579.5 299.6L581.2 289.7L581.8 289.8Z" fill="#c2c1e3"/>
<path d="M579.6 299.6L579.0 299.5L580.7 289.6L581.3 289.7Z" fill="#cccce8"/>
<path d="M579.1 299.5L578.4 299.4L580.2 289.5L580.8 289.6Z" fill="#b6b5dd"/>
<path d="M578.6 299.4L577.9 299.3L579.7 289.4L580.3 289.5Z" fill="#bdbce1"/>
<path d="M630.7 313.2L630.3 313.6L629.7 313.3L629.3 313.7L628.9 313.6L628.5 314.0L627.9 313.8L627.5 313.8L626.9 313.6L626.6 314.2L626.2 314.7L625.6 314.1L625.2 314.2L624.8 314.5L624.2 314.2L623.7 314.2L623.5 315.4L623.0 315.2L622.4 314.5L622.0 314.9L621.5 315.0L621.0 314.9L620.6 314.8L620.2 315.5L619.8 315.8L619.3 315.6L618.7 315.3L618.4 316.0L617.9 315.8L617.5 316.3L617.0 316.3L616.5 316.4L616.0 316.2L615.7 316.9L615.1 316.1L614.7 316.8L614.3 317.0L613.7 316.7L613.4 318.1L612.9 317.1L612.5 318.2L612.1 318.9L611.5 318.2L611.1 318.2L610.7 319.6L610.2 319.4L609.7 318.7L609.3 319.9L608.8 319.9L608.4 321.1L607.9 320.5L607.4 320.7L606.9 320.3L606.5 322.2L606.0 320.1L605.6 322.0L605.1 321.4L604.5 320.8L604.2 323.8L603.6 321.9L603.1 320.2L602.6 321.3L602.2 321.4L601.7 321.7L601.2 322.2L600.7 321.4L600.2 322.2L599.8 321.7L599.3 321.7L598.8 320.4L598.3 322.8L597.8 320.7L597.3 322.8L596.8 322.8L596.3 322.7L595.9 322.5L595.4 321.0L594.9 321.6L594.4 322.3L594.0 320.2L593.5 320.7L593.1 320.2L592.6 320.6L592.1 319.7L591.6 320.4L591.2 319.8L590.7 319.2L590.3 317.8L589.8 318.2L589.3 318.5L588.8 318.9L588.4 318.2L588.0 318.0L587.5 317.6L587.1 316.8L586.6 317.8L586.1 317.4L585.7 317.1L585.3 316.7L584.8 316.7L584.3 316.5L583.8 316.8L583.4 316.6L582.9 316.4L582.5 316.1L582.0 316.0L581.5 316.3L581.1 316.1L580.7 315.9L580.2 316.0L579.8 315.4L579.2 315.8L578.9 315.3L578.3 315.6L577.9 315.1L577.5 315.1L577.0 315.3L576.6 314.9L576.0 315.3L575.6 314.8L575.2 314.4 L575.34 313.8 A131.5 131.5 0 0 0 630.44 312.26 Z" fill="#eab0ae"/>
<path d="M630.7 313.2L630.3 313.6L629.7 313.3L629.3 313.7L628.9 313.6L628.5 314.0L627.9 313.8L627.5 313.8L626.9 313.6L626.6 314.2L626.2 314.7L625.6 314.1L625.2 314.2L624.8 314.5L624.2 314.2L623.7 314.2L623.5 315.4L623.0 315.2L622.4 314.5L622.0 314.9L621.5 315.0L621.0 314.9L620.6 314.8L620.2 315.5L619.8 315.8L619.3 315.6L618.7 315.3L618.4 316.0L617.9 315.8L617.5 316.3L617.0 316.3L616.5 316.4L616.0 316.2L615.7 316.9L615.1 316.1L614.7 316.8L614.3 317.0L613.7 316.7L613.4 318.1L612.9 317.1L612.5 318.2L612.1 318.9L611.5 318.2L611.1 318.2L610.7 319.6L610.2 319.4L609.7 318.7L609.3 319.9L608.8 319.9L608.4 321.1L607.9 320.5L607.4 320.7L606.9 320.3L606.5 322.2L606.0 320.1L605.6 322.0L605.1 321.4L604.5 320.8L604.2 323.8L603.6 321.9L603.1 320.2L602.6 321.3L602.2 321.4L601.7 321.7L601.2 322.2L600.7 321.4L600.2 322.2L599.8 321.7L599.3 321.7L598.8 320.4L598.3 322.8L597.8 320.7L597.3 322.8L596.8 322.8L596.3 322.7L595.9 322.5L595.4 321.0L594.9 321.6L594.4 322.3L594.0 320.2L593.5 320.7L593.1 320.2L592.6 320.6L592.1 319.7L591.6 320.4L591.2 319.8L590.7 319.2L590.3 317.8L589.8 318.2L589.3 318.5L588.8 318.9L588.4 318.2L588.0 318.0L587.5 317.6L587.1 316.8L586.6 317.8L586.1 317.4L585.7 317.1L585.3 316.7L584.8 316.7L584.3 316.5L583.8 316.8L583.4 316.6L582.9 316.4L582.5 316.1L582.0 316.0L581.5 316.3L581.1 316.1L580.7 315.9L580.2 316.0L579.8 315.4L579.2 315.8L578.9 315.3L578.3 315.6L577.9 315.1L577.5 315.1L577.0 315.3L576.6 314.9L576.0 315.3L575.6 314.8L575.2 314.4" fill="none" stroke="#d9353a" stroke-width="0.9"/>
<path d="M628.7 304.9L628.0 303.9L627.7 304.7L627.2 304.2L626.7 304.4L626.2 303.9L626.0 305.1L625.3 303.9L624.8 303.8L624.6 304.6L624.2 305.1L623.8 305.0L623.3 304.9L623.0 305.6L622.6 305.7L622.6 308.1L621.9 306.5L621.1 304.7L620.6 304.7L620.3 305.4L619.9 305.5L619.4 305.0L619.1 305.8L618.6 305.4L618.2 306.0L617.8 306.0L617.5 306.6L616.9 305.6L616.6 306.5L616.0 305.8L615.7 306.5L615.2 306.0L615.1 308.4L614.3 306.1L613.9 306.1L613.5 306.4L613.1 306.3L612.8 307.6L612.3 307.0L611.8 306.6L611.3 306.3L610.9 306.9L610.8 310.0L610.1 306.9L609.7 307.4L609.3 308.5L608.9 308.1L608.4 307.8L607.9 307.4L607.6 308.3L607.1 308.2L606.7 308.0L606.3 309.3L605.9 310.8L605.4 308.9L605.0 309.2L604.5 309.3L604.1 309.0L603.6 307.9L603.2 309.4L602.8 309.0L602.3 307.9L601.9 308.8L601.4 308.0L601.0 308.8L600.6 309.5L600.1 308.6L599.7 308.1L599.3 308.4L598.8 308.9L598.4 308.3L598.0 308.6L597.5 309.4L597.1 309.5L596.6 309.2L596.2 309.1L595.8 307.7L595.3 308.7L594.9 308.5L594.5 308.0L594.1 307.6L593.6 307.5L593.1 308.8L592.7 308.8L592.2 309.1L591.9 307.8L591.5 307.1L591.1 307.0L590.4 310.3L590.1 308.1L589.7 308.0L589.2 308.2L588.8 308.6L588.4 307.4L588.0 307.4L587.6 306.5L587.1 307.3L586.7 307.5L586.3 306.9L585.9 306.8L585.3 307.6L585.0 307.2L584.6 306.5L584.2 306.3L583.7 307.0L583.3 306.6L582.9 305.9L582.5 305.8L582.1 305.8L581.7 305.4L581.2 305.7L580.8 305.5L580.4 305.6L579.8 306.1L579.4 306.1L579.2 304.7L578.7 304.9L578.2 305.7L577.7 305.7L577.2 305.9L577.0 304.8 L577.16 303.97 A121.5 121.5 0 0 0 628.08 302.54 Z" fill="#d6edb4"/>
<path d="M628.7 304.9L628.0 303.9L627.7 304.7L627.2 304.2L626.7 304.4L626.2 303.9L626.0 305.1L625.3 303.9L624.8 303.8L624.6 304.6L624.2 305.1L623.8 305.0L623.3 304.9L623.0 305.6L622.6 305.7L622.6 308.1L621.9 306.5L621.1 304.7L620.6 304.7L620.3 305.4L619.9 305.5L619.4 305.0L619.1 305.8L618.6 305.4L618.2 306.0L617.8 306.0L617.5 306.6L616.9 305.6L616.6 306.5L616.0 305.8L615.7 306.5L615.2 306.0L615.1 308.4L614.3 306.1L613.9 306.1L613.5 306.4L613.1 306.3L612.8 307.6L612.3 307.0L611.8 306.6L611.3 306.3L610.9 306.9L610.8 310.0L610.1 306.9L609.7 307.4L609.3 308.5L608.9 308.1L608.4 307.8L607.9 307.4L607.6 308.3L607.1 308.2L606.7 308.0L606.3 309.3L605.9 310.8L605.4 308.9L605.0 309.2L604.5 309.3L604.1 309.0L603.6 307.9L603.2 309.4L602.8 309.0L602.3 307.9L601.9 308.8L601.4 308.0L601.0 308.8L600.6 309.5L600.1 308.6L599.7 308.1L599.3 308.4L598.8 308.9L598.4 308.3L598.0 308.6L597.5 309.4L597.1 309.5L596.6 309.2L596.2 309.1L595.8 307.7L595.3 308.7L594.9 308.5L594.5 308.0L594.1 307.6L593.6 307.5L593.1 308.8L592.7 308.8L592.2 309.1L591.9 307.8L591.5 307.1L591.1 307.0L590.4 310.3L590.1 308.1L589.7 308.0L589.2 308.2L588.8 308.6L588.4 307.4L588.0 307.4L587.6 306.5L587.1 307.3L586.7 307.5L586.3 306.9L585.9 306.8L585.3 307.6L585.0 307.2L584.6 306.5L584.2 306.3L583.7 307.0L583.3 306.6L582.9 305.9L582.5 305.8L582.1 305.8L581.7 305.4L581.2 305.7L580.8 305.5L580.4 305.6L579.8 306.1L579.4 306.1L579.2 304.7L578.7 304.9L578.2 305.7L577.7 305.7L577.2 305.9L577.0 304.8" fill="none" stroke="#3ca62c" stroke-width="0.9"/>
<path d="M638.97 347.23A167.5 167.5 0 0 1 568.78 349.2L569.78 343.79A162 162 0 0 0 637.67 341.89Z" fill="#6b6dab" stroke="#1e1e30" stroke-width="1"/>
<line x1="638.97" y1="347.23" x2="639.56" y2="349.66" stroke="#333" stroke-width="0.6"/>
<text transform="translate(640.27,352.58) rotate(-13.7)" font-size="5.6" text-anchor="middle" dominant-baseline="central" font-family="Liberation Sans, sans-serif" fill="#555">0</text>
<line x1="621.38" y1="350.54" x2="621.71" y2="353.02" stroke="#333" stroke-width="0.6"/>
<text transform="translate(622.1,355.99) rotate(-7.57)" font-size="5.6" text-anchor="middle" dominant-baseline="central" font-family="Liberation Sans, sans-serif" fill="#555">10</text>
<line x1="603.53" y1="351.95" x2="603.59" y2="354.45" stroke="#333" stroke-width="0.6"/>
<text transform="translate(603.67,357.44) rotate(-1.45)" font-size="5.6" text-anchor="middle" dominant-baseline="central" font-family="Liberation Sans, sans-serif" fill="#555">20</text>
<line x1="585.63" y1="351.44" x2="585.43" y2="353.93" stroke="#333" stroke-width="0.6"/>
<text transform="translate(585.19,356.92) rotate(4.68)" font-size="5.6" text-anchor="middle" dominant-baseline="central" font-family="Liberation Sans, sans-serif" fill="#555">30</text>
<text transform="translate(604.33,364.43) rotate(-1.6)" font-size="7.2" text-anchor="middle" dominant-baseline="central" font-family="Liberation Sans, sans-serif" fill="#4a4a4a">Chr07</text>
<path d="M562.3 337.6L561.4 337.4L564.6 324.6L565.4 324.8Z" fill="#9dcfe2"/>
<path d="M561.5 337.4L560.6 337.2L563.9 324.4L564.7 324.6Z" fill="#83bfdc"/>
<path d="M560.8 337.2L559.9 337.0L563.2 324.2L564.0 324.4Z" fill="#a2d2e3"/>
<path d="M560.1 337.0L559.2 336.8L562.6 324.0L563.4 324.3Z" fill="#8fc6df"/>
<path d="M559.4 336.8L558.5 336.6L561.9 323.9L562.7 324.1Z" fill="#9dcfe2"/>
<path d="M558.6 336.7L557.7 336.4L561.2 323.7L562.0 323.9Z" fill="#a1d1e3"/>
<path d="M557.9 336.5L557.0 336.2L560.6 323.5L561.4 323.7Z" fill="#7ebcdb"/>
<path d="M557.2 336.3L556.3 336.0L559.9 323.3L560.7 323.5Z" fill="#7ebcdb"/>
<path d="M556.5 336.1L555.6 335.8L559.2 323.1L560.0 323.4Z" fill="#6fb2d8"/>
<path d="M555.7 335.9L554.8 335.6L558.6 322.9L559.4 323.2Z" fill="#539dd1"/>
<path d="M555.0 335.6L554.1 335.4L557.9 322.7L558.7 323.0Z" fill="#9bcde1"/>
<path d="M554.3 335.4L553.4 335.2L557.3 322.5L558.1 322.8Z" fill="#73b5d9"/>
<path d="M553.6 335.2L552.7 334.9L556.6 322.3L557.4 322.6Z" fill="#96cae0"/>
<path d="M552.8 335.0L552.0 334.7L555.9 322.1L556.7 322.4Z" fill="#9dcee2"/>
<path d="M552.1 334.8L551.3 334.5L555.3 321.9L556.1 322.2Z" fill="#91c8df"/>
<path d="M551.4 334.5L550.5 334.3L554.6 321.7L555.4 322.0Z" fill="#a0d0e2"/>
<path d="M550.7 334.3L549.8 334.0L554.0 321.5L554.8 321.8Z" fill="#89c3dd"/>
<path d="M550.0 334.1L549.1 333.8L553.3 321.3L554.1 321.5Z" fill="#66acd5"/>
<path d="M549.3 333.8L548.4 333.5L552.7 321.1L553.5 321.3Z" fill="#a0d0e2"/>
<path d="M548.6 333.6L547.7 333.3L552.0 320.8L552.8 321.1Z" fill="#8ac4de"/>
<path d="M547.8 333.4L547.0 333.1L551.4 320.6L552.2 320.9Z" fill="#9bcde1"/>
<path d="M547.1 333.1L546.3 332.8L550.7 320.4L551.5 320.7Z" fill="#9acde1"/>
<path d="M546.4 332.9L545.6 332.6L550.1 320.1L550.9 320.4Z" fill="#80bedc"/>
<path d="M545.7 332.6L544.9 332.3L549.4 319.9L550.2 320.2Z" fill="#4392cd"/>
<path d="M545.0 332.4L544.2 332.0L548.8 319.7L549.6 320.0Z" fill="#8dc5de"/>
<path d="M544.3 332.1L543.5 331.8L548.1 319.4L548.9 319.7Z" fill="#7dbcdb"/>
<path d="M543.6 331.8L542.8 331.5L547.5 319.2L548.3 319.5Z" fill="#81bedc"/>
<path d="M542.9 331.6L542.1 331.2L546.9 318.9L547.6 319.2Z" fill="#a3d2e3"/>
<path d="M542.2 331.3L541.4 331.0L546.2 318.7L547.0 319.0Z" fill="#4694cd"/>
<path d="M541.5 331.0L540.7 330.7L545.6 318.4L546.4 318.7Z" fill="#79bada"/>
<path d="M540.8 330.7L540.0 330.4L544.9 318.2L545.7 318.5Z" fill="#92c8df"/>
<path d="M540.1 330.5L539.3 330.1L544.3 317.9L545.1 318.2Z" fill="#83bfdc"/>
<path d="M539.4 330.2L538.6 329.8L543.7 317.6L544.4 318.0Z" fill="#e9f0f9"/>
<path d="M538.7 329.9L537.9 329.5L543.0 317.4L543.8 317.7Z" fill="#e9f0f8"/>
<path d="M538.0 329.6L537.2 329.2L542.4 317.1L543.2 317.4Z" fill="#edf2fa"/>
<path d="M537.3 329.3L536.5 328.9L541.8 316.8L542.5 317.2Z" fill="#ebf1f9"/>
<path d="M536.6 329.0L535.8 328.6L541.1 316.6L541.9 316.9Z" fill="#ebf1f9"/>
<path d="M536.0 328.7L535.1 328.3L540.5 316.3L541.3 316.6Z" fill="#ecf2fa"/>
<path d="M535.3 328.4L534.4 328.0L539.9 316.0L540.6 316.3Z" fill="#e8f0f8"/>
<path d="M534.6 328.1L533.8 327.7L539.2 315.7L540.0 316.1Z" fill="#e8f0f8"/>
<path d="M533.9 327.8L533.1 327.4L538.6 315.4L539.4 315.8Z" fill="#ebf1f9"/>
<path d="M533.2 327.5L532.4 327.1L538.0 315.1L538.8 315.5Z" fill="#e8f0f8"/>
<path d="M532.5 327.2L531.7 326.8L537.4 314.8L538.1 315.2Z" fill="#edf2fa"/>
<path d="M531.9 326.8L531.0 326.4L536.8 314.5L537.5 314.9Z" fill="#eaf1f9"/>
<path d="M531.2 326.5L530.4 326.1L536.1 314.2L536.9 314.6Z" fill="#ecf1fa"/>
<path d="M530.5 326.2L529.7 325.8L535.5 313.9L536.3 314.3Z" fill="#eaf1f9"/>
<path d="M529.8 325.9L529.0 325.4L534.9 313.6L535.7 314.0Z" fill="#e8f0f8"/>
<path d="M529.2 325.5L528.3 325.1L534.3 313.3L535.0 313.7Z" fill="#e9f0f8"/>
<path d="M528.5 325.2L527.7 324.8L533.7 313.0L534.4 313.4Z" fill="#e9f0f9"/>
<path d="M527.8 324.8L527.0 324.4L533.1 312.7L533.8 313.1Z" fill="#e7eff8"/>
<path d="M527.1 324.5L526.3 324.1L532.4 312.4L533.2 312.8Z" fill="#eaf1f9"/>
<path d="M526.5 324.2L525.7 323.7L531.8 312.1L532.6 312.4Z" fill="#edf2fa"/>
<path d="M525.8 323.8L525.0 323.4L531.2 311.7L532.0 312.1Z" fill="#e9f0f9"/>
<path d="M525.1 323.5L524.3 323.0L530.6 311.4L531.4 311.8Z" fill="#edf2fa"/>
<path d="M524.5 323.1L523.7 322.7L530.0 311.1L530.8 311.5Z" fill="#e9f0f8"/>
<path d="M523.8 322.7L523.0 322.3L529.4 310.7L530.2 311.2Z" fill="#e7eff8"/>
<path d="M523.2 322.4L522.4 321.9L528.8 310.4L529.5 310.8Z" fill="#c9e2ee"/>
<path d="M522.5 322.0L521.7 321.6L528.2 310.1L528.9 310.5Z" fill="#eaf0f9"/>
<path d="M521.9 321.6L521.1 321.2L527.6 309.7L528.3 310.2Z" fill="#edf2fa"/>
<path d="M521.2 321.3L520.4 320.8L527.0 309.4L527.7 309.8Z" fill="#e9f0f9"/>
<path d="M520.5 320.9L519.8 320.4L526.4 309.0L527.1 309.5Z" fill="#edf2fa"/>
<path d="M519.9 320.5L519.1 320.1L525.8 308.7L526.6 309.1Z" fill="#e8f0f8"/>
<path d="M519.3 320.1L518.5 319.7L525.2 308.3L526.0 308.8Z" fill="#e8f0f8"/>
<path d="M518.6 319.8L517.8 319.3L524.6 308.0L525.4 308.4Z" fill="#ecf1fa"/>
<path d="M518.0 319.4L517.2 318.9L524.1 307.6L524.8 308.1Z" fill="#edf2fa"/>
<path d="M517.3 319.0L516.5 318.5L523.5 307.3L524.2 307.7Z" fill="#ebf1f9"/>
<path d="M516.7 318.6L515.9 318.1L522.9 306.9L523.6 307.4Z" fill="#e7eff8"/>
<path d="M516.0 318.2L515.3 317.7L522.3 306.5L523.0 307.0Z" fill="#e7eff8"/>
<path d="M515.4 317.8L514.6 317.3L521.7 306.2L522.4 306.6Z" fill="#92c8e0"/>
<path d="M514.8 317.4L514.0 316.9L521.1 305.8L521.9 306.3Z" fill="#9bcde1"/>
<path d="M514.1 317.0L513.4 316.5L520.6 305.4L521.3 305.9Z" fill="#d0e5f0"/>
<path d="M513.5 316.6L512.7 316.1L520.0 305.1L520.7 305.5Z" fill="#d0e5f0"/>
<path d="M512.9 316.2L512.1 315.7L519.4 304.7L520.1 305.1Z" fill="#c0deeb"/>
<path d="M512.2 315.8L511.5 315.2L518.8 304.3L519.5 304.8Z" fill="#d3e6f1"/>
<path d="M511.6 315.3L510.9 314.8L518.3 303.9L519.0 304.4Z" fill="#badcea"/>
<path d="M511.0 314.9L510.2 314.4L517.7 303.5L518.4 304.0Z" fill="#d1e5f1"/>
<path d="M510.4 314.5L509.6 314.0L517.1 303.1L517.8 303.6Z" fill="#c6e1ed"/>
<path d="M509.8 314.1L509.0 313.5L516.6 302.7L517.3 303.2Z" fill="#d3e6f1"/>
<path d="M509.1 313.6L508.4 313.1L516.0 302.3L516.7 302.8Z" fill="#d2e6f1"/>
<path d="M508.5 313.2L507.8 312.7L515.4 301.9L516.1 302.4Z" fill="#afd7e6"/>
<path d="M507.9 312.8L507.2 312.2L514.9 301.5L515.6 302.0Z" fill="#d1e5f0"/>
<path d="M507.3 312.3L506.6 311.8L514.3 301.1L515.0 301.6Z" fill="#c7e1ed"/>
<path d="M506.7 311.9L506.0 311.4L513.8 300.7L514.5 301.2Z" fill="#b9dbe9"/>
<path d="M506.1 311.5L505.4 310.9L513.2 300.3L513.9 300.8Z" fill="#cbe3ef"/>
<path d="M505.5 311.0L504.7 310.5L512.7 299.9L513.3 300.4Z" fill="#c0deeb"/>
<path d="M504.9 310.6L504.1 310.0L512.1 299.5L512.8 300.0Z" fill="#96cae0"/>
<path d="M504.3 310.1L503.6 309.6L511.6 299.1L512.2 299.6Z" fill="#c4e0ed"/>
<path d="M503.7 309.7L503.0 309.1L511.0 298.7L511.7 299.2Z" fill="#c5e0ed"/>
<path d="M503.1 309.2L502.4 308.6L510.5 298.2L511.1 298.7Z" fill="#b7dae9"/>
<path d="M502.5 308.7L501.8 308.2L509.9 297.8L510.6 298.3Z" fill="#b8dbe9"/>
<path d="M571.8 298.0L571.2 297.9L573.6 288.1L574.2 288.2Z" fill="#b9b7df"/>
<path d="M571.3 297.9L570.6 297.7L573.1 287.9L573.7 288.1Z" fill="#8481c1"/>
<path d="M570.8 297.8L570.1 297.6L572.6 287.8L573.2 288.0Z" fill="#cbcbe8"/>
<path d="M570.2 297.6L569.6 297.4L572.1 287.7L572.7 287.8Z" fill="#c6c5e5"/>
<path d="M569.7 297.5L569.0 297.3L571.6 287.6L572.2 287.7Z" fill="#d1d1ea"/>
<path d="M569.1 297.3L568.5 297.2L571.1 287.4L571.7 287.6Z" fill="#cfcee9"/>
<path d="M568.6 297.2L567.9 297.0L570.7 287.3L571.3 287.4Z" fill="#a9a6d6"/>
<path d="M568.1 297.0L567.4 296.9L570.2 287.1L570.8 287.3Z" fill="#b2b0db"/>
<path d="M567.5 296.9L566.9 296.7L569.7 287.0L570.3 287.2Z" fill="#c2c1e3"/>
<path d="M567.0 296.7L566.3 296.6L569.2 286.9L569.8 287.0Z" fill="#d0d0ea"/>
<path d="M566.5 296.6L565.8 296.4L568.7 286.7L569.3 286.9Z" fill="#bbbae0"/>
<path d="M565.9 296.4L565.3 296.2L568.2 286.6L568.8 286.7Z" fill="#cdcce8"/>
<path d="M565.4 296.3L564.7 296.1L567.7 286.4L568.3 286.6Z" fill="#c0bee2"/>
<path d="M564.9 296.1L564.2 295.9L567.2 286.3L567.8 286.5Z" fill="#bab8df"/>
<path d="M564.3 295.9L563.7 295.7L566.8 286.1L567.3 286.3Z" fill="#bebde1"/>
<path d="M563.8 295.8L563.1 295.6L566.3 286.0L566.9 286.1Z" fill="#c9c9e7"/>
<path d="M563.3 295.6L562.6 295.4L565.8 285.8L566.4 286.0Z" fill="#a8a6d5"/>
<path d="M562.7 295.4L562.1 295.2L565.3 285.6L565.9 285.8Z" fill="#c3c2e3"/>
<path d="M562.2 295.3L561.6 295.0L564.8 285.5L565.4 285.7Z" fill="#c2c1e3"/>
<path d="M561.7 295.1L561.0 294.9L564.3 285.3L564.9 285.5Z" fill="#cfcfea"/>
<path d="M561.1 294.9L560.5 294.7L563.9 285.1L564.4 285.3Z" fill="#cccce8"/>
<path d="M560.6 294.7L560.0 294.5L563.4 285.0L564.0 285.2Z" fill="#c6c5e5"/>
<path d="M560.1 294.5L559.5 294.3L562.9 284.8L563.5 285.0Z" fill="#bfbde1"/>
<path d="M559.6 294.3L558.9 294.1L562.4 284.6L563.0 284.8Z" fill="#afadd9"/>
<path d="M559.0 294.1L558.4 293.9L561.9 284.4L562.5 284.7Z" fill="#c3c2e3"/>
<path d="M558.5 294.0L557.9 293.7L561.5 284.3L562.0 284.5Z" fill="#bfbee2"/>
<path d="M558.0 293.8L557.4 293.5L561.0 284.1L561.6 284.3Z" fill="#b6b4dd"/>
<path d="M557.5 293.6L556.8 293.3L560.5 283.9L561.1 284.1Z" fill="#bdbce1"/>
<path d="M557.0 293.4L556.3 293.1L560.0 283.7L560.6 283.9Z" fill="#c5c4e4"/>
<path d="M556.4 293.2L555.8 292.9L559.6 283.5L560.1 283.8Z" fill="#aba9d7"/>
<path d="M555.9 292.9L555.3 292.7L559.1 283.3L559.7 283.6Z" fill="#c8c7e6"/>
<path d="M555.4 292.7L554.8 292.5L558.6 283.1L559.2 283.4Z" fill="#afadd9"/>
<path d="M554.9 292.5L554.3 292.3L558.2 282.9L558.7 283.2Z" fill="#c1c0e3"/>
<path d="M554.4 292.3L553.8 292.1L557.7 282.8L558.3 283.0Z" fill="#bab8df"/>
<path d="M553.9 292.1L553.2 291.8L557.2 282.6L557.8 282.8Z" fill="#bbb9df"/>
<path d="M553.4 291.9L552.7 291.6L556.8 282.4L557.3 282.6Z" fill="#c0bfe2"/>
<path d="M552.8 291.7L552.2 291.4L556.3 282.1L556.9 282.4Z" fill="#c3c2e4"/>
<path d="M552.3 291.4L551.7 291.2L555.8 281.9L556.4 282.2Z" fill="#c7c6e5"/>
<path d="M551.8 291.2L551.2 290.9L555.4 281.7L555.9 282.0Z" fill="#d0d0ea"/>
<path d="M551.3 291.0L550.7 290.7L554.9 281.5L555.5 281.8Z" fill="#cacae7"/>
<path d="M550.8 290.8L550.2 290.5L554.4 281.3L555.0 281.6Z" fill="#c8c8e6"/>
<path d="M550.3 290.5L549.7 290.2L554.0 281.1L554.5 281.4Z" fill="#c3c2e3"/>
<path d="M549.8 290.3L549.2 290.0L553.5 280.9L554.1 281.1Z" fill="#d0d0ea"/>
<path d="M549.3 290.1L548.7 289.8L553.1 280.7L553.6 280.9Z" fill="#7975bb"/>
<path d="M548.8 289.8L548.2 289.5L552.6 280.4L553.2 280.7Z" fill="#c0bee2"/>
<path d="M548.3 289.6L547.7 289.3L552.1 280.2L552.7 280.5Z" fill="#c8c7e6"/>
<path d="M547.8 289.3L547.2 289.0L551.7 280.0L552.2 280.3Z" fill="#d6d6ed"/>
<path d="M547.3 289.1L546.7 288.8L551.2 279.8L551.8 280.0Z" fill="#c6c6e5"/>
<path d="M546.8 288.8L546.2 288.5L550.8 279.5L551.3 279.8Z" fill="#b6b4dd"/>
<path d="M546.3 288.6L545.7 288.3L550.3 279.3L550.9 279.6Z" fill="#bbbae0"/>
<path d="M545.8 288.3L545.2 288.0L549.9 279.1L550.4 279.3Z" fill="#bdbce1"/>
<path d="M545.3 288.1L544.7 287.7L549.4 278.8L550.0 279.1Z" fill="#c7c7e6"/>
<path d="M544.8 287.8L544.2 287.5L549.0 278.6L549.5 278.9Z" fill="#d3d3ec"/>
<path d="M544.3 287.5L543.7 287.2L548.5 278.3L549.1 278.6Z" fill="#d6d6ed"/>
<path d="M543.8 287.3L543.2 287.0L548.1 278.1L548.6 278.4Z" fill="#c9c8e6"/>
<path d="M543.3 287.0L542.7 286.7L547.6 277.9L548.2 278.2Z" fill="#b8b6de"/>
<path d="M542.8 286.7L542.2 286.4L547.2 277.6L547.7 277.9Z" fill="#c7c6e5"/>
<path d="M542.4 286.5L541.8 286.1L546.7 277.4L547.3 277.7Z" fill="#bebce1"/>
<path d="M541.9 286.2L541.3 285.9L546.3 277.1L546.8 277.4Z" fill="#d1d1eb"/>
<path d="M541.4 285.9L540.8 285.6L545.9 276.8L546.4 277.2Z" fill="#d4d4ec"/>
<path d="M540.9 285.7L540.3 285.3L545.4 276.6L545.9 276.9Z" fill="#c6c6e5"/>
<path d="M540.4 285.4L539.8 285.0L545.0 276.3L545.5 276.6Z" fill="#d1d1eb"/>
<path d="M539.9 285.1L539.4 284.7L544.5 276.1L545.1 276.4Z" fill="#bbb9df"/>
<path d="M539.5 284.8L538.9 284.5L544.1 275.8L544.6 276.1Z" fill="#7470b8"/>
<path d="M539.0 284.5L538.4 284.2L543.7 275.5L544.2 275.9Z" fill="#cdcde9"/>
<path d="M538.5 284.2L537.9 283.9L543.2 275.3L543.8 275.6Z" fill="#b8b6de"/>
<path d="M538.0 283.9L537.5 283.6L542.8 275.0L543.3 275.3Z" fill="#bdbce1"/>
<path d="M537.6 283.6L537.0 283.3L542.4 274.7L542.9 275.1Z" fill="#adabd8"/>
<path d="M537.1 283.3L536.5 283.0L541.9 274.5L542.5 274.8Z" fill="#d2d2eb"/>
<path d="M536.6 283.1L536.0 282.7L541.5 274.2L542.0 274.5Z" fill="#cccce8"/>
<path d="M536.1 282.8L535.6 282.4L541.1 273.9L541.6 274.3Z" fill="#cbcbe7"/>
<path d="M535.7 282.4L535.1 282.1L540.7 273.6L541.2 274.0Z" fill="#bfbee2"/>
<path d="M535.2 282.1L534.6 281.8L540.2 273.4L540.8 273.7Z" fill="#c9c8e7"/>
<path d="M534.7 281.8L534.2 281.5L539.8 273.1L540.3 273.4Z" fill="#adabd8"/>
<path d="M534.3 281.5L533.7 281.1L539.4 272.8L539.9 273.1Z" fill="#c2c1e3"/>
<path d="M533.8 281.2L533.3 280.8L539.0 272.5L539.5 272.9Z" fill="#a8a6d5"/>
<path d="M533.4 280.9L532.8 280.5L538.5 272.2L539.1 272.6Z" fill="#c9c9e7"/>
<path d="M532.9 280.6L532.3 280.2L538.1 271.9L538.6 272.3Z" fill="#bcbbe0"/>
<path d="M532.4 280.3L531.9 279.9L537.7 271.6L538.2 272.0Z" fill="#c0bfe2"/>
<path d="M532.0 280.0L531.4 279.6L537.3 271.3L537.8 271.7Z" fill="#c0bee2"/>
<path d="M531.5 279.6L531.0 279.2L536.9 271.0L537.4 271.4Z" fill="#bbb9df"/>
<path d="M531.1 279.3L530.5 278.9L536.5 270.7L537.0 271.1Z" fill="#d0d0ea"/>
<path d="M530.6 279.0L530.1 278.6L536.1 270.4L536.6 270.8Z" fill="#cdcde9"/>
<path d="M530.2 278.6L529.6 278.2L535.7 270.1L536.2 270.5Z" fill="#c3c2e3"/>
<path d="M529.7 278.3L529.2 277.9L535.2 269.8L535.7 270.2Z" fill="#bbb9df"/>
<path d="M529.3 278.0L528.7 277.6L534.8 269.5L535.3 269.9Z" fill="#bebce1"/>
<path d="M528.8 277.6L528.3 277.2L534.4 269.2L534.9 269.6Z" fill="#a7a4d4"/>
<path d="M528.4 277.3L527.9 276.9L534.0 268.9L534.5 269.3Z" fill="#c6c5e5"/>
<path d="M527.9 277.0L527.4 276.6L533.6 268.6L534.1 269.0Z" fill="#aba9d7"/>
<path d="M527.5 276.6L527.0 276.2L533.2 268.3L533.7 268.7Z" fill="#aba9d7"/>
<path d="M568.1 313.6L567.7 313.2L567.3 312.6L566.7 313.2L566.4 312.6L565.8 312.8L565.4 312.6L565.0 312.2L564.4 312.5L564.1 312.0L563.6 312.0L563.1 312.0L562.8 311.3L562.2 311.6L561.9 311.0L561.3 311.4L560.8 311.3L560.5 310.7L559.9 311.2L559.5 310.8L559.0 310.7L558.5 310.7L558.2 310.3L557.7 310.0L557.3 309.8L556.7 310.2L556.4 309.5L556.0 309.3L555.5 309.4L554.8 309.7L554.6 309.1L553.8 309.8L553.3 309.8L553.1 309.1L552.5 309.1L552.0 309.3L551.6 308.9L551.3 308.4L550.6 308.9L550.4 308.1L549.7 308.6L548.9 309.2L548.4 309.2L548.1 308.7L547.4 309.1L546.5 309.8L546.1 309.6L545.6 309.7L545.1 309.6L544.5 309.6L544.5 308.4L543.6 309.4L542.9 309.7L542.3 309.8L542.1 309.1L541.4 309.3L541.7 307.6L540.6 308.7L540.3 308.3L539.6 308.7L538.7 309.4L539.2 307.2L537.5 309.4L537.7 308.0L536.6 309.2L536.5 308.2L536.7 306.6L535.5 308.0L536.2 305.5L535.2 306.4L535.1 305.6L533.2 308.0L534.1 305.4L533.7 305.0L533.0 305.3L533.3 303.7L531.8 305.4L532.4 303.3L532.1 302.9L531.4 303.1L531.9 301.2L530.9 301.9L530.6 301.5L530.6 300.6L529.7 301.1L529.1 301.2L528.5 301.3L529.0 299.4L528.5 299.4L528.8 298.0L528.4 297.7L527.8 297.9L527.3 297.7L527.3 296.8L526.9 296.6L526.3 296.5L526.1 296.1L525.9 295.5L525.4 295.3L525.2 294.8L524.9 294.4L524.1 294.8L524.1 293.9L523.9 293.3L523.2 293.5L523.1 292.9L522.8 292.4L522.5 292.0L521.8 292.2L521.2 292.2L521.2 291.4L520.5 291.5L520.4 290.8L519.8 290.9L519.7 290.2L519.5 289.8L519.2 289.4L518.4 289.7L518.1 289.2L518.0 288.5L517.7 288.2 L517.98 287.84 A131.5 131.5 0 0 0 568.38 312.31 Z" fill="#eab0ae"/>
<path d="M568.1 313.6L567.7 313.2L567.3 312.6L566.7 313.2L566.4 312.6L565.8 312.8L565.4 312.6L565.0 312.2L564.4 312.5L564.1 312.0L563.6 312.0L563.1 312.0L562.8 311.3L562.2 311.6L561.9 311.0L561.3 311.4L560.8 311.3L560.5 310.7L559.9 311.2L559.5 310.8L559.0 310.7L558.5 310.7L558.2 310.3L557.7 310.0L557.3 309.8L556.7 310.2L556.4 309.5L556.0 309.3L555.5 309.4L554.8 309.7L554.6 309.1L553.8 309.8L553.3 309.8L553.1 309.1L552.5 309.1L552.0 309.3L551.6 308.9L551.3 308.4L550.6 308.9L550.4 308.1L549.7 308.6L548.9 309.2L548.4 309.2L548.1 308.7L547.4 309.1L546.5 309.8L546.1 309.6L545.6 309.7L545.1 309.6L544.5 309.6L544.5 308.4L543.6 309.4L542.9 309.7L542.3 309.8L542.1 309.1L541.4 309.3L541.7 307.6L540.6 308.7L540.3 308.3L539.6 308.7L538.7 309.4L539.2 307.2L537.5 309.4L537.7 308.0L536.6 309.2L536.5 308.2L536.7 306.6L535.5 308.0L536.2 305.5L535.2 306.4L535.1 305.6L533.2 308.0L534.1 305.4L533.7 305.0L533.0 305.3L533.3 303.7L531.8 305.4L532.4 303.3L532.1 302.9L531.4 303.1L531.9 301.2L530.9 301.9L530.6 301.5L530.6 300.6L529.7 301.1L529.1 301.2L528.5 301.3L529.0 299.4L528.5 299.4L528.8 298.0L528.4 297.7L527.8 297.9L527.3 297.7L527.3 296.8L526.9 296.6L526.3 296.5L526.1 296.1L525.9 295.5L525.4 295.3L525.2 294.8L524.9 294.4L524.1 294.8L524.1 293.9L523.9 293.3L523.2 293.5L523.1 292.9L522.8 292.4L522.5 292.0L521.8 292.2L521.2 292.2L521.2 291.4L520.5 291.5L520.4 290.8L519.8 290.9L519.7 290.2L519.5 289.8L519.2 289.4L518.4 289.7L518.1 289.2L518.0 288.5L517.7 288.2" fill="none" stroke="#d9353a" stroke-width="0.9"/>
<path d="M570.5 303.7L570.0 303.8L569.8 302.8L569.3 302.9L568.6 303.8L568.5 302.5L567.8 303.4L567.3 303.7L566.8 303.6L566.6 302.7L566.2 302.5L565.9 302.1L565.4 302.1L564.8 302.7L564.6 302.0L564.1 302.0L563.9 301.2L563.1 302.3L562.6 302.3L562.4 301.7L562.0 301.2L560.9 303.3L561.0 301.6L561.0 300.3L560.1 301.5L559.7 301.2L559.5 300.5L558.8 301.2L558.5 300.7L558.0 300.8L557.6 300.7L557.3 300.3L556.9 300.1L556.7 299.4L555.8 300.4L555.5 299.9L555.0 300.0L555.1 298.5L554.6 298.5L554.0 298.8L553.4 299.3L552.8 299.6L553.0 298.0L552.5 297.9L551.7 298.9L551.1 299.0L550.6 299.0L550.3 298.6L550.4 297.3L549.8 297.6L549.5 297.1L548.7 298.0L548.7 296.8L548.2 296.8L547.5 297.4L546.9 297.6L546.8 296.6L546.3 296.7L546.3 295.7L545.5 296.3L545.4 295.5L544.4 296.5L544.6 295.2L543.6 296.1L543.0 296.3L543.3 294.7L541.9 296.4L541.8 295.7L541.8 294.8L541.6 294.2L540.9 294.5L540.3 294.7L540.2 294.0L539.8 293.9L539.3 293.8L539.3 292.8L538.9 292.7L538.3 292.9L537.7 293.0L537.4 292.5L537.5 291.5L536.6 292.3L536.8 291.0L536.0 291.4L536.2 290.3L535.9 289.9L535.2 290.2L534.6 290.3L534.9 288.9L534.5 288.8L533.8 289.2L533.2 289.3L532.7 289.2L532.6 288.6L532.5 287.9L531.8 288.2L531.9 287.2L531.2 287.4L530.7 287.4L530.3 287.2L530.5 286.1L530.1 285.9L530.2 285.0L529.1 285.8L529.1 285.1L528.8 284.7L528.4 284.6L528.4 283.8L527.9 283.8L527.4 283.7L527.3 283.0L526.5 283.5L526.0 283.3L526.3 282.2L525.4 282.7L525.3 282.1L524.3 282.6L524.2 282.0L523.8 281.9L523.9 281.0L523.7 280.5 L524.16 279.98 A121.5 121.5 0 0 0 570.73 302.59 Z" fill="#d6edb4"/>
<path d="M570.5 303.7L570.0 303.8L569.8 302.8L569.3 302.9L568.6 303.8L568.5 302.5L567.8 303.4L567.3 303.7L566.8 303.6L566.6 302.7L566.2 302.5L565.9 302.1L565.4 302.1L564.8 302.7L564.6 302.0L564.1 302.0L563.9 301.2L563.1 302.3L562.6 302.3L562.4 301.7L562.0 301.2L560.9 303.3L561.0 301.6L561.0 300.3L560.1 301.5L559.7 301.2L559.5 300.5L558.8 301.2L558.5 300.7L558.0 300.8L557.6 300.7L557.3 300.3L556.9 300.1L556.7 299.4L555.8 300.4L555.5 299.9L555.0 300.0L555.1 298.5L554.6 298.5L554.0 298.8L553.4 299.3L552.8 299.6L553.0 298.0L552.5 297.9L551.7 298.9L551.1 299.0L550.6 299.0L550.3 298.6L550.4 297.3L549.8 297.6L549.5 297.1L548.7 298.0L548.7 296.8L548.2 296.8L547.5 297.4L546.9 297.6L546.8 296.6L546.3 296.7L546.3 295.7L545.5 296.3L545.4 295.5L544.4 296.5L544.6 295.2L543.6 296.1L543.0 296.3L543.3 294.7L541.9 296.4L541.8 295.7L541.8 294.8L541.6 294.2L540.9 294.5L540.3 294.7L540.2 294.0L539.8 293.9L539.3 293.8L539.3 292.8L538.9 292.7L538.3 292.9L537.7 293.0L537.4 292.5L537.5 291.5L536.6 292.3L536.8 291.0L536.0 291.4L536.2 290.3L535.9 289.9L535.2 290.2L534.6 290.3L534.9 288.9L534.5 288.8L533.8 289.2L533.2 289.3L532.7 289.2L532.6 288.6L532.5 287.9L531.8 288.2L531.9 287.2L531.2 287.4L530.7 287.4L530.3 287.2L530.5 286.1L530.1 285.9L530.2 285.0L529.1 285.8L529.1 285.1L528.8 284.7L528.4 284.6L528.4 283.8L527.9 283.8L527.4 283.7L527.3 283.0L526.5 283.5L526.0 283.3L526.3 282.2L525.4 282.7L525.3 282.1L524.3 282.6L524.2 282.0L523.8 281.9L523.9 281.0L523.7 280.5" fill="none" stroke="#3ca62c" stroke-width="0.9"/>
<path d="M559.91 347.3A167.5 167.5 0 0 1 495.72 316.13L499.12 311.81A162 162 0 0 0 561.21 341.96Z" fill="#6b6dab" stroke="#1e1e30" stroke-width="1"/>
<line x1="559.91" y1="347.3" x2="559.33" y2="349.73" stroke="#333" stroke-width="0.6"/>
<text transform="translate(558.62,352.65) rotate(13.6)" font-size="5.6" text-anchor="middle" dominant-baseline="central" font-family="Liberation Sans, sans-serif" fill="#555">0</text>
<line x1="540.72" y1="341.42" x2="539.84" y2="343.76" stroke="#333" stroke-width="0.6"/>
<text transform="translate(538.79,346.57) rotate(20.47)" font-size="5.6" text-anchor="middle" dominant-baseline="central" font-family="Liberation Sans, sans-serif" fill="#555">10</text>
<line x1="522.36" y1="333.29" x2="521.22" y2="335.51" stroke="#333" stroke-width="0.6"/>
<text transform="translate(519.84,338.17) rotate(27.34)" font-size="5.6" text-anchor="middle" dominant-baseline="central" font-family="Liberation Sans, sans-serif" fill="#555">20</text>
<line x1="505.12" y1="323.01" x2="503.71" y2="325.08" stroke="#333" stroke-width="0.6"/>
<text transform="translate(502.02,327.56) rotate(34.21)" font-size="5.6" text-anchor="middle" dominant-baseline="central" font-family="Liberation Sans, sans-serif" fill="#555">30</text>
<text transform="translate(520.68,346.42) rotate(25.9)" font-size="7.2" text-anchor="middle" dominant-baseline="central" font-family="Liberation Sans, sans-serif" fill="#4a4a4a">Chr08</text>
<path d="M494.7 302.3L494.1 301.7L502.9 291.9L503.5 292.4Z" fill="#76b7d9"/>
<path d="M494.2 301.8L493.5 301.2L502.4 291.4L503.0 292.0Z" fill="#519cd0"/>
<path d="M493.6 301.3L493.0 300.7L501.9 290.9L502.5 291.5Z" fill="#6db0d7"/>
<path d="M493.1 300.8L492.4 300.2L501.4 290.5L502.0 291.0Z" fill="#75b7d9"/>
<path d="M492.5 300.3L491.9 299.7L500.9 290.0L501.5 290.6Z" fill="#4e9acf"/>
<path d="M492.0 299.8L491.3 299.2L500.4 289.6L501.0 290.1Z" fill="#91c8df"/>
<path d="M491.4 299.3L490.8 298.7L499.9 289.1L500.5 289.7Z" fill="#85c0dd"/>
<path d="M490.9 298.8L490.2 298.1L499.4 288.6L500.0 289.2Z" fill="#6db1d7"/>
<path d="M490.4 298.3L489.7 297.6L498.9 288.1L499.5 288.7Z" fill="#3d8dcb"/>
<path d="M489.8 297.7L489.2 297.1L498.4 287.7L499.0 288.2Z" fill="#88c2dd"/>
<path d="M489.3 297.2L488.7 296.6L497.9 287.2L498.5 287.8Z" fill="#9bcde1"/>
<path d="M488.8 296.7L488.1 296.1L497.4 286.7L498.0 287.3Z" fill="#96cae0"/>
<path d="M488.2 296.2L487.6 295.5L497.0 286.2L497.5 286.8Z" fill="#8fc6df"/>
<path d="M487.7 295.7L487.1 295.0L496.5 285.7L497.1 286.3Z" fill="#84c0dd"/>
<path d="M487.2 295.1L486.6 294.5L496.0 285.3L496.6 285.9Z" fill="#94cae0"/>
<path d="M486.7 294.6L486.0 293.9L495.5 284.8L496.1 285.4Z" fill="#3d8dcb"/>
<path d="M486.2 294.1L485.5 293.4L495.1 284.3L495.6 284.9Z" fill="#5da5d3"/>
<path d="M485.6 293.5L485.0 292.9L494.6 283.8L495.2 284.4Z" fill="#92c8df"/>
<path d="M485.1 293.0L484.5 292.3L494.1 283.3L494.7 283.9Z" fill="#d0e5f0"/>
<path d="M484.6 292.5L484.0 291.8L493.7 282.8L494.2 283.4Z" fill="#bcdcea"/>
<path d="M484.1 291.9L483.5 291.2L493.2 282.3L493.8 282.9Z" fill="#c8e1ee"/>
<path d="M483.6 291.4L483.0 290.7L492.7 281.8L493.3 282.4Z" fill="#d3e6f1"/>
<path d="M483.1 290.8L482.5 290.2L492.3 281.3L492.8 281.9Z" fill="#cde3ef"/>
<path d="M482.6 290.3L482.0 289.6L491.8 280.8L492.4 281.4Z" fill="#c0deec"/>
<path d="M482.1 289.7L481.5 289.0L491.4 280.3L491.9 280.9Z" fill="#d6e8f2"/>
<path d="M481.6 289.2L481.0 288.5L490.9 279.8L491.5 280.4Z" fill="#bfdeeb"/>
<path d="M481.1 288.6L480.5 287.9L490.5 279.3L491.0 279.9Z" fill="#cfe4f0"/>
<path d="M480.6 288.1L480.0 287.4L490.0 278.8L490.6 279.4Z" fill="#d7e8f2"/>
<path d="M480.1 287.5L479.6 286.8L489.6 278.2L490.1 278.9Z" fill="#c4e0ed"/>
<path d="M479.7 286.9L479.1 286.2L489.1 277.7L489.7 278.3Z" fill="#cee4ef"/>
<path d="M479.2 286.4L478.6 285.7L488.7 277.2L489.2 277.8Z" fill="#d3e6f1"/>
<path d="M478.7 285.8L478.1 285.1L488.3 276.7L488.8 277.3Z" fill="#d0e5f0"/>
<path d="M478.2 285.2L477.6 284.5L487.8 276.1L488.4 276.8Z" fill="#cfe4f0"/>
<path d="M477.8 284.7L477.2 284.0L487.4 275.6L487.9 276.3Z" fill="#bbdcea"/>
<path d="M477.3 284.1L476.7 283.4L487.0 275.1L487.5 275.7Z" fill="#b8dbe9"/>
<path d="M476.8 283.5L476.2 282.8L486.6 274.6L487.1 275.2Z" fill="#cce3ef"/>
<path d="M476.3 282.9L475.8 282.2L486.1 274.0L486.7 274.7Z" fill="#e8f0f8"/>
<path d="M475.9 282.4L475.3 281.6L485.7 273.5L486.2 274.2Z" fill="#e9f0f9"/>
<path d="M475.4 281.8L474.9 281.1L485.3 273.0L485.8 273.6Z" fill="#eaf1f9"/>
<path d="M475.0 281.2L474.4 280.5L484.9 272.4L485.4 273.1Z" fill="#e7eff8"/>
<path d="M474.5 280.6L474.0 279.9L484.5 271.9L485.0 272.5Z" fill="#e7eff8"/>
<path d="M474.1 280.0L473.5 279.3L484.1 271.3L484.6 272.0Z" fill="#ecf1fa"/>
<path d="M473.6 279.4L473.1 278.7L483.6 270.8L484.1 271.5Z" fill="#e7eff8"/>
<path d="M473.2 278.8L472.6 278.1L483.2 270.3L483.7 270.9Z" fill="#e8f0f8"/>
<path d="M472.7 278.2L472.2 277.5L482.8 269.7L483.3 270.4Z" fill="#eaf0f9"/>
<path d="M472.3 277.6L471.8 276.9L482.4 269.2L482.9 269.8Z" fill="#e8f0f8"/>
<path d="M471.8 277.0L471.3 276.3L482.0 268.6L482.5 269.3Z" fill="#e9f0f9"/>
<path d="M471.4 276.4L470.9 275.7L481.6 268.0L482.1 268.7Z" fill="#e9f0f8"/>
<path d="M471.0 275.8L470.5 275.1L481.3 267.5L481.7 268.2Z" fill="#ecf2fa"/>
<path d="M470.6 275.2L470.0 274.5L480.9 266.9L481.3 267.6Z" fill="#e9f0f8"/>
<path d="M470.1 274.6L469.6 273.9L480.5 266.4L481.0 267.1Z" fill="#e8f0f8"/>
<path d="M469.7 274.0L469.2 273.3L480.1 265.8L480.6 266.5Z" fill="#ecf1f9"/>
<path d="M469.3 273.4L468.8 272.6L479.7 265.3L480.2 265.9Z" fill="#e7eff8"/>
<path d="M468.9 272.8L468.4 272.0L479.3 264.7L479.8 265.4Z" fill="#ebf1f9"/>
<path d="M468.5 272.2L467.9 271.4L479.0 264.1L479.4 264.8Z" fill="#edf2fa"/>
<path d="M468.0 271.5L467.5 270.8L478.6 263.6L479.0 264.2Z" fill="#e8f0f8"/>
<path d="M467.6 270.9L467.1 270.2L478.2 263.0L478.7 263.7Z" fill="#ebf1f9"/>
<path d="M467.2 270.3L466.7 269.5L477.8 262.4L478.3 263.1Z" fill="#edf2fa"/>
<path d="M466.8 269.7L466.3 268.9L477.5 261.8L477.9 262.5Z" fill="#edf2fa"/>
<path d="M466.4 269.1L465.9 268.3L477.1 261.3L477.6 262.0Z" fill="#ecf1fa"/>
<path d="M466.0 268.4L465.5 267.7L476.8 260.7L477.2 261.4Z" fill="#e8eff8"/>
<path d="M465.6 267.8L465.2 267.0L476.4 260.1L476.8 260.8Z" fill="#d4e6f1"/>
<path d="M465.2 267.2L464.8 266.4L476.0 259.5L476.5 260.2Z" fill="#e8f0f8"/>
<path d="M464.9 266.5L464.4 265.8L475.7 258.9L476.1 259.7Z" fill="#cfe4f0"/>
<path d="M464.5 265.9L464.0 265.1L475.3 258.4L475.8 259.1Z" fill="#d4e6f1"/>
<path d="M464.1 265.3L463.6 264.5L475.0 257.8L475.4 258.5Z" fill="#c7e1ed"/>
<path d="M463.7 264.6L463.2 263.8L474.6 257.2L475.1 257.9Z" fill="#ecf2fa"/>
<path d="M463.3 264.0L462.9 263.2L474.3 256.6L474.7 257.3Z" fill="#eaf1f9"/>
<path d="M463.0 263.3L462.5 262.6L474.0 256.0L474.4 256.7Z" fill="#eaf0f9"/>
<path d="M462.6 262.7L462.1 261.9L473.6 255.4L474.0 256.1Z" fill="#e7eff8"/>
<path d="M462.2 262.1L461.8 261.3L473.3 254.8L473.7 255.6Z" fill="#ecf2fa"/>
<path d="M461.9 261.4L461.4 260.6L473.0 254.2L473.4 255.0Z" fill="#ecf2fa"/>
<path d="M461.5 260.8L461.1 260.0L472.6 253.6L473.0 254.4Z" fill="#bcdcea"/>
<path d="M461.1 260.1L460.7 259.3L472.3 253.0L472.7 253.8Z" fill="#b0d7e7"/>
<path d="M460.8 259.5L460.4 258.7L472.0 252.4L472.4 253.2Z" fill="#97cbe0"/>
<path d="M460.4 258.8L460.0 258.0L471.7 251.8L472.1 252.6Z" fill="#bcdcea"/>
<path d="M460.1 258.2L459.7 257.3L471.4 251.2L471.7 252.0Z" fill="#95cae0"/>
<path d="M459.7 257.5L459.3 256.7L471.0 250.6L471.4 251.4Z" fill="#a0d0e2"/>
<path d="M459.4 256.8L459.0 256.0L470.7 250.0L471.1 250.8Z" fill="#96cbe0"/>
<path d="M459.1 256.2L458.6 255.4L470.4 249.4L470.8 250.2Z" fill="#acd6e6"/>
<path d="M458.7 255.5L458.3 254.7L470.1 248.8L470.5 249.6Z" fill="#a6d3e4"/>
<path d="M458.4 254.8L458.0 254.0L469.8 248.2L470.2 249.0Z" fill="#9dcee2"/>
<path d="M458.1 254.2L457.7 253.4L469.5 247.6L469.9 248.3Z" fill="#78b9da"/>
<path d="M457.7 253.5L457.3 252.7L469.2 247.0L469.6 247.7Z" fill="#a9d5e5"/>
<path d="M457.4 252.9L457.0 252.0L468.9 246.4L469.3 247.1Z" fill="#b7dae9"/>
<path d="M457.1 252.2L456.7 251.4L468.6 245.8L469.0 246.5Z" fill="#9ccee2"/>
<path d="M456.8 251.5L456.4 250.7L468.4 245.1L468.7 245.9Z" fill="#86c1dd"/>
<path d="M456.5 250.8L456.1 250.0L468.1 244.5L468.4 245.3Z" fill="#9bcee1"/>
<path d="M456.1 250.2L455.8 249.3L467.8 243.9L468.1 244.7Z" fill="#a0d0e2"/>
<path d="M455.8 249.5L455.5 248.7L467.5 243.3L467.9 244.0Z" fill="#9bcde1"/>
<path d="M521.8 271.8L521.3 271.4L528.0 263.9L528.5 264.3Z" fill="#a7a4d4"/>
<path d="M521.3 271.5L520.8 271.0L527.6 263.5L528.1 264.0Z" fill="#b0add9"/>
<path d="M520.9 271.1L520.4 270.7L527.3 263.2L527.7 263.6Z" fill="#b9b7de"/>
<path d="M520.5 270.7L520.0 270.3L526.9 262.9L527.3 263.3Z" fill="#bab8df"/>
<path d="M520.1 270.4L519.6 269.9L526.5 262.5L527.0 262.9Z" fill="#c4c3e4"/>
<path d="M519.7 270.0L519.2 269.5L526.2 262.2L526.6 262.6Z" fill="#c3c2e3"/>
<path d="M519.3 269.6L518.8 269.2L525.8 261.8L526.2 262.3Z" fill="#b9b7df"/>
<path d="M518.9 269.2L518.4 268.8L525.4 261.5L525.9 261.9Z" fill="#aeacd8"/>
<path d="M518.5 268.9L518.0 268.4L525.1 261.1L525.5 261.6Z" fill="#afadd9"/>
<path d="M518.1 268.5L517.6 268.0L524.7 260.8L525.1 261.2Z" fill="#cecee9"/>
<path d="M517.7 268.1L517.2 267.6L524.3 260.4L524.8 260.9Z" fill="#cac9e7"/>
<path d="M517.3 267.7L516.9 267.2L524.0 260.1L524.4 260.5Z" fill="#cbcbe8"/>
<path d="M516.9 267.3L516.5 266.8L523.6 259.7L524.1 260.2Z" fill="#b9b7de"/>
<path d="M516.6 266.9L516.1 266.5L523.3 259.4L523.7 259.8Z" fill="#cecee9"/>
<path d="M516.2 266.5L515.7 266.1L522.9 259.0L523.4 259.4Z" fill="#bebde1"/>
<path d="M515.8 266.1L515.3 265.7L522.6 258.6L523.0 259.1Z" fill="#bab8df"/>
<path d="M515.4 265.8L514.9 265.3L522.2 258.3L522.7 258.7Z" fill="#adabd8"/>
<path d="M515.0 265.4L514.5 264.9L521.9 257.9L522.3 258.4Z" fill="#bcbbe0"/>
<path d="M514.6 265.0L514.2 264.5L521.5 257.6L522.0 258.0Z" fill="#c2c1e3"/>
<path d="M514.3 264.6L513.8 264.1L521.2 257.2L521.6 257.6Z" fill="#d1d1eb"/>
<path d="M513.9 264.2L513.4 263.7L520.8 256.8L521.3 257.3Z" fill="#bdbbe0"/>
<path d="M513.5 263.8L513.0 263.3L520.5 256.4L520.9 256.9Z" fill="#c2c1e3"/>
<path d="M513.1 263.3L512.7 262.9L520.2 256.1L520.6 256.5Z" fill="#b3b1db"/>
<path d="M512.8 262.9L512.3 262.4L519.8 255.7L520.2 256.2Z" fill="#d0d0ea"/>
<path d="M512.4 262.5L511.9 262.0L519.5 255.3L519.9 255.8Z" fill="#bbb9df"/>
<path d="M512.0 262.1L511.6 261.6L519.2 255.0L519.6 255.4Z" fill="#b0aeda"/>
<path d="M511.7 261.7L511.2 261.2L518.8 254.6L519.2 255.0Z" fill="#d1d1ea"/>
<path d="M511.3 261.3L510.9 260.8L518.5 254.2L518.9 254.7Z" fill="#c6c5e5"/>
<path d="M510.9 260.9L510.5 260.4L518.2 253.8L518.6 254.3Z" fill="#bcbae0"/>
<path d="M510.6 260.5L510.1 260.0L517.9 253.4L518.2 253.9Z" fill="#b6b4dd"/>
<path d="M510.2 260.0L509.8 259.5L517.5 253.0L517.9 253.5Z" fill="#cecee9"/>
<path d="M509.9 259.6L509.4 259.1L517.2 252.7L517.6 253.1Z" fill="#d0d0ea"/>
<path d="M509.5 259.2L509.1 258.7L516.9 252.3L517.3 252.7Z" fill="#cfcfea"/>
<path d="M509.2 258.8L508.7 258.3L516.6 251.9L517.0 252.4Z" fill="#c9c9e7"/>
<path d="M508.8 258.4L508.4 257.8L516.2 251.5L516.6 252.0Z" fill="#bdbce1"/>
<path d="M508.5 257.9L508.0 257.4L515.9 251.1L516.3 251.6Z" fill="#bab8df"/>
<path d="M508.1 257.5L507.7 257.0L515.6 250.7L516.0 251.2Z" fill="#d7d7ed"/>
<path d="M507.8 257.1L507.4 256.5L515.3 250.3L515.7 250.8Z" fill="#c1c0e2"/>
<path d="M507.4 256.6L507.0 256.1L515.0 249.9L515.4 250.4Z" fill="#bab8df"/>
<path d="M507.1 256.2L506.7 255.7L514.7 249.5L515.1 250.0Z" fill="#c3c2e4"/>
<path d="M506.8 255.8L506.4 255.2L514.4 249.1L514.8 249.6Z" fill="#cdcde9"/>
<path d="M506.4 255.3L506.0 254.8L514.1 248.7L514.5 249.2Z" fill="#cecde9"/>
<path d="M506.1 254.9L505.7 254.4L513.8 248.3L514.2 248.8Z" fill="#d0d0ea"/>
<path d="M505.8 254.4L505.4 253.9L513.5 247.9L513.9 248.4Z" fill="#c9c8e6"/>
<path d="M505.4 254.0L505.0 253.5L513.2 247.5L513.6 248.0Z" fill="#c5c4e5"/>
<path d="M505.1 253.6L504.7 253.0L512.9 247.1L513.3 247.6Z" fill="#cccce8"/>
<path d="M504.8 253.1L504.4 252.6L512.6 246.7L513.0 247.2Z" fill="#bfbee2"/>
<path d="M504.5 252.7L504.1 252.1L512.3 246.3L512.7 246.8Z" fill="#cccce8"/>
<path d="M504.1 252.2L503.8 251.7L512.0 245.9L512.4 246.4Z" fill="#d1d1ea"/>
<path d="M503.8 251.8L503.4 251.2L511.7 245.5L512.1 246.0Z" fill="#b9b7df"/>
<path d="M503.5 251.3L503.1 250.8L511.4 245.0L511.8 245.5Z" fill="#c8c8e6"/>
<path d="M503.2 250.9L502.8 250.3L511.2 244.6L511.5 245.1Z" fill="#cfcfea"/>
<path d="M502.9 250.4L502.5 249.9L510.9 244.2L511.2 244.7Z" fill="#cccce8"/>
<path d="M502.6 250.0L502.2 249.4L510.6 243.8L510.9 244.3Z" fill="#c7c6e6"/>
<path d="M502.3 249.5L501.9 248.9L510.3 243.4L510.7 243.9Z" fill="#c6c5e5"/>
<path d="M502.0 249.1L501.6 248.5L510.0 243.0L510.4 243.5Z" fill="#cccce8"/>
<path d="M501.7 248.6L501.3 248.0L509.8 242.5L510.1 243.0Z" fill="#cdcce8"/>
<path d="M501.4 248.1L501.0 247.6L509.5 242.1L509.8 242.6Z" fill="#d7d7ed"/>
<path d="M501.1 247.7L500.7 247.1L509.2 241.7L509.6 242.2Z" fill="#c6c6e5"/>
<path d="M500.8 247.2L500.4 246.6L509.0 241.3L509.3 241.8Z" fill="#c0bee2"/>
<path d="M500.5 246.7L500.1 246.2L508.7 240.8L509.0 241.4Z" fill="#d3d3eb"/>
<path d="M500.2 246.3L499.8 245.7L508.4 240.4L508.7 240.9Z" fill="#d4d4ec"/>
<path d="M499.9 245.8L499.5 245.2L508.2 240.0L508.5 240.5Z" fill="#c5c4e5"/>
<path d="M499.6 245.3L499.2 244.8L507.9 239.6L508.2 240.1Z" fill="#b8b7de"/>
<path d="M499.3 244.9L499.0 244.3L507.6 239.1L508.0 239.6Z" fill="#cac9e7"/>
<path d="M499.0 244.4L498.7 243.8L507.4 238.7L507.7 239.2Z" fill="#bbb9df"/>
<path d="M498.7 243.9L498.4 243.3L507.1 238.3L507.4 238.8Z" fill="#bcbae0"/>
<path d="M498.5 243.4L498.1 242.9L506.9 237.8L507.2 238.3Z" fill="#bbb9df"/>
<path d="M498.2 243.0L497.9 242.4L506.6 237.4L506.9 237.9Z" fill="#bab9df"/>
<path d="M497.9 242.5L497.6 241.9L506.4 236.9L506.7 237.5Z" fill="#c0bfe2"/>
<path d="M497.6 242.0L497.3 241.4L506.1 236.5L506.4 237.0Z" fill="#afadd9"/>
<path d="M497.4 241.5L497.0 240.9L505.9 236.1L506.2 236.6Z" fill="#c0bee2"/>
<path d="M497.1 241.1L496.8 240.5L505.6 235.6L505.9 236.2Z" fill="#cfcfea"/>
<path d="M496.8 240.6L496.5 240.0L505.4 235.2L505.7 235.7Z" fill="#adabd8"/>
<path d="M496.6 240.1L496.3 239.5L505.2 234.7L505.5 235.3Z" fill="#b8b6de"/>
<path d="M496.3 239.6L496.0 239.0L504.9 234.3L505.2 234.8Z" fill="#bab8df"/>
<path d="M496.1 239.1L495.7 238.5L504.7 233.9L505.0 234.4Z" fill="#bebce1"/>
<path d="M495.8 238.6L495.5 238.0L504.5 233.4L504.8 234.0Z" fill="#d1d1ea"/>
<path d="M495.5 238.1L495.2 237.5L504.2 233.0L504.5 233.5Z" fill="#c0bfe2"/>
<path d="M495.3 237.7L495.0 237.1L504.0 232.5L504.3 233.1Z" fill="#c7c7e6"/>
<path d="M495.0 237.2L494.7 236.6L503.8 232.1L504.1 232.6Z" fill="#b8b6de"/>
<path d="M494.8 236.7L494.5 236.1L503.6 231.6L503.8 232.2Z" fill="#cfcfea"/>
<path d="M494.6 236.2L494.3 235.6L503.3 231.2L503.6 231.7Z" fill="#bcbae0"/>
<path d="M494.3 235.7L494.0 235.1L503.1 230.7L503.4 231.3Z" fill="#b7b6de"/>
<path d="M494.1 235.2L493.8 234.6L502.9 230.3L503.2 230.8Z" fill="#c5c4e5"/>
<path d="M493.8 234.7L493.5 234.1L502.7 229.8L503.0 230.4Z" fill="#cdcce8"/>
<path d="M493.6 234.2L493.3 233.6L502.5 229.3L502.7 229.9Z" fill="#bbbae0"/>
<path d="M493.4 233.7L493.1 233.1L502.3 228.9L502.5 229.4Z" fill="#bbb9df"/>
<path d="M493.1 233.2L492.9 232.6L502.1 228.4L502.3 229.0Z" fill="#a7a4d5"/>
<path d="M492.9 232.7L492.6 232.1L501.9 228.0L502.1 228.5Z" fill="#aba9d7"/>
<path d="M511.3 283.7L510.9 283.4L510.4 283.2L510.5 282.4L510.3 282.0L509.6 282.0L509.3 281.6L509.0 281.2L508.6 281.0L508.0 280.9L508.2 280.1L507.6 280.0L507.2 279.7L506.7 279.7L506.7 279.0L506.1 278.9L505.6 278.7L505.5 278.1L504.4 278.6L504.3 278.0L504.5 277.2L503.5 277.5L503.2 277.1L503.2 276.5L502.6 276.4L502.0 276.3L502.2 275.5L501.7 275.3L500.9 275.4L500.5 275.1L500.7 274.3L499.3 274.9L497.9 275.6L497.9 274.9L498.4 273.9L496.8 274.6L497.6 273.3L495.4 274.6L496.4 273.1L495.3 273.4L496.3 271.9L494.0 273.2L494.0 272.5L492.7 273.0L493.3 271.8L493.3 271.2L493.2 270.7L490.3 272.4L490.4 271.7L489.9 271.5L489.4 271.2L488.9 271.0L488.4 270.7L490.3 268.6L487.8 270.0L489.0 268.4L487.2 269.2L489.0 267.2L488.0 267.3L486.3 268.0L488.7 265.6L486.5 266.6L486.1 266.3L486.7 265.2L485.4 265.6L484.5 265.6L485.8 264.1L486.6 262.9L483.7 264.3L483.7 263.7L483.5 263.3L482.9 263.1L483.4 262.2L483.6 261.4L484.1 260.5L484.4 259.7L483.8 259.5L483.7 259.0L484.8 257.7L482.7 258.5L483.6 257.4L483.4 256.9L483.1 256.6L482.8 256.2L484.4 254.6L482.5 255.2L484.2 253.6L483.0 253.8L482.9 253.3L482.9 252.8L483.2 252.0L482.7 251.7L483.0 251.0L482.8 250.6L482.7 250.1L482.8 249.5L482.7 249.0L482.6 248.6L482.7 248.0L482.2 247.7L482.1 247.2L482.5 246.5L481.8 246.3L481.3 246.0L481.3 245.5L481.1 245.1L480.6 244.8L480.5 244.4L480.6 243.8L480.3 243.4L480.8 242.6L480.0 242.5L480.2 241.9L479.7 241.6L479.2 241.3L479.6 240.6L478.9 240.4L479.1 239.8L479.0 239.3L478.5 239.1L478.2 238.7 L479.26 238.2 A131.5 131.5 0 0 0 511.99 282.84 Z" fill="#eab0ae"/>
<path d="M511.3 283.7L510.9 283.4L510.4 283.2L510.5 282.4L510.3 282.0L509.6 282.0L509.3 281.6L509.0 281.2L508.6 281.0L508.0 280.9L508.2 280.1L507.6 280.0L507.2 279.7L506.7 279.7L506.7 279.0L506.1 278.9L505.6 278.7L505.5 278.1L504.4 278.6L504.3 278.0L504.5 277.2L503.5 277.5L503.2 277.1L503.2 276.5L502.6 276.4L502.0 276.3L502.2 275.5L501.7 275.3L500.9 275.4L500.5 275.1L500.7 274.3L499.3 274.9L497.9 275.6L497.9 274.9L498.4 273.9L496.8 274.6L497.6 273.3L495.4 274.6L496.4 273.1L495.3 273.4L496.3 271.9L494.0 273.2L494.0 272.5L492.7 273.0L493.3 271.8L493.3 271.2L493.2 270.7L490.3 272.4L490.4 271.7L489.9 271.5L489.4 271.2L488.9 271.0L488.4 270.7L490.3 268.6L487.8 270.0L489.0 268.4L487.2 269.2L489.0 267.2L488.0 267.3L486.3 268.0L488.7 265.6L486.5 266.6L486.1 266.3L486.7 265.2L485.4 265.6L484.5 265.6L485.8 264.1L486.6 262.9L483.7 264.3L483.7 263.7L483.5 263.3L482.9 263.1L483.4 262.2L483.6 261.4L484.1 260.5L484.4 259.7L483.8 259.5L483.7 259.0L484.8 257.7L482.7 258.5L483.6 257.4L483.4 256.9L483.1 256.6L482.8 256.2L484.4 254.6L482.5 255.2L484.2 253.6L483.0 253.8L482.9 253.3L482.9 252.8L483.2 252.0L482.7 251.7L483.0 251.0L482.8 250.6L482.7 250.1L482.8 249.5L482.7 249.0L482.6 248.6L482.7 248.0L482.2 247.7L482.1 247.2L482.5 246.5L481.8 246.3L481.3 246.0L481.3 245.5L481.1 245.1L480.6 244.8L480.5 244.4L480.6 243.8L480.3 243.4L480.8 242.6L480.0 242.5L480.2 241.9L479.7 241.6L479.2 241.3L479.6 240.6L478.9 240.4L479.1 239.8L479.0 239.3L478.5 239.1L478.2 238.7" fill="none" stroke="#d9353a" stroke-width="0.9"/>
<path d="M517.6 276.5L517.9 275.5L517.3 275.5L517.1 275.1L516.0 275.7L516.2 274.8L516.2 274.2L516.1 273.6L515.0 274.2L514.9 273.7L514.3 273.7L513.9 273.4L513.6 273.2L513.1 273.1L513.0 272.5L513.5 271.4L512.8 271.5L512.2 271.5L512.4 270.6L511.4 271.1L511.1 270.7L511.0 270.2L510.4 270.2L510.2 269.8L509.8 269.5L509.4 269.3L510.0 268.1L508.1 269.3L508.2 268.6L508.1 268.2L508.4 267.3L507.1 267.8L506.9 267.5L506.9 266.9L506.2 266.9L506.8 265.8L505.6 266.2L505.9 265.5L505.1 265.5L505.2 264.9L504.8 264.6L504.0 264.7L504.4 263.9L503.5 264.0L503.8 263.2L502.8 263.5L502.0 263.5L502.2 262.8L501.4 262.9L501.7 262.1L501.6 261.6L501.2 261.3L500.9 261.0L500.5 260.8L500.2 260.4L499.3 260.6L499.6 259.8L499.6 259.3L498.7 259.3L498.8 258.8L498.3 258.6L497.8 258.4L498.7 257.2L497.6 257.4L498.2 256.4L497.3 256.5L496.7 256.4L497.0 255.7L497.1 255.1L496.9 254.7L496.1 254.7L496.5 253.9L495.3 254.2L494.3 254.3L495.1 253.2L494.8 252.9L495.3 252.1L494.4 252.1L493.3 252.3L494.0 251.3L493.9 250.9L494.4 250.0L494.3 249.6L493.3 249.7L493.2 249.2L493.3 248.7L492.8 248.5L492.8 248.0L492.9 247.4L492.8 246.9L493.3 246.2L491.8 246.5L492.8 245.4L491.9 245.4L491.2 245.3L492.0 244.4L489.2 245.4L491.7 243.5L490.9 243.5L490.4 243.3L490.3 242.8L488.6 243.3L491.0 241.5L490.2 241.4L490.2 240.9L489.6 240.7L490.0 240.1L489.2 240.0L489.8 239.2L489.1 239.1L489.0 238.6L489.1 238.1L488.9 237.7L488.9 237.2L488.4 236.9L488.7 236.3L485.5 237.3L486.3 236.5L486.9 235.7L486.9 235.2L486.9 234.8 L488.39 234.11 A121.5 121.5 0 0 0 518.63 275.36 Z" fill="#d6edb4"/>
<path d="M517.6 276.5L517.9 275.5L517.3 275.5L517.1 275.1L516.0 275.7L516.2 274.8L516.2 274.2L516.1 273.6L515.0 274.2L514.9 273.7L514.3 273.7L513.9 273.4L513.6 273.2L513.1 273.1L513.0 272.5L513.5 271.4L512.8 271.5L512.2 271.5L512.4 270.6L511.4 271.1L511.1 270.7L511.0 270.2L510.4 270.2L510.2 269.8L509.8 269.5L509.4 269.3L510.0 268.1L508.1 269.3L508.2 268.6L508.1 268.2L508.4 267.3L507.1 267.8L506.9 267.5L506.9 266.9L506.2 266.9L506.8 265.8L505.6 266.2L505.9 265.5L505.1 265.5L505.2 264.9L504.8 264.6L504.0 264.7L504.4 263.9L503.5 264.0L503.8 263.2L502.8 263.5L502.0 263.5L502.2 262.8L501.4 262.9L501.7 262.1L501.6 261.6L501.2 261.3L500.9 261.0L500.5 260.8L500.2 260.4L499.3 260.6L499.6 259.8L499.6 259.3L498.7 259.3L498.8 258.8L498.3 258.6L497.8 258.4L498.7 257.2L497.6 257.4L498.2 256.4L497.3 256.5L496.7 256.4L497.0 255.7L497.1 255.1L496.9 254.7L496.1 254.7L496.5 253.9L495.3 254.2L494.3 254.3L495.1 253.2L494.8 252.9L495.3 252.1L494.4 252.1L493.3 252.3L494.0 251.3L493.9 250.9L494.4 250.0L494.3 249.6L493.3 249.7L493.2 249.2L493.3 248.7L492.8 248.5L492.8 248.0L492.9 247.4L492.8 246.9L493.3 246.2L491.8 246.5L492.8 245.4L491.9 245.4L491.2 245.3L492.0 244.4L489.2 245.4L491.7 243.5L490.9 243.5L490.4 243.3L490.3 242.8L488.6 243.3L491.0 241.5L490.2 241.4L490.2 240.9L489.6 240.7L490.0 240.1L489.2 240.0L489.8 239.2L489.1 239.1L489.0 238.6L489.1 238.1L488.9 237.7L488.9 237.2L488.4 236.9L488.7 236.3L485.5 237.3L486.3 236.5L486.9 235.7L486.9 235.2L486.9 234.8" fill="none" stroke="#3ca62c" stroke-width="0.9"/>
<path d="M488.09 309.76A167.5 167.5 0 0 1 446.4 252.9L451.42 250.65A162 162 0 0 0 491.74 305.64Z" fill="#6b6dab" stroke="#1e1e30" stroke-width="1"/>
<line x1="488.09" y1="309.76" x2="486.43" y2="311.63" stroke="#333" stroke-width="0.6"/>
<text transform="translate(484.44,313.87) rotate(41.6)" font-size="5.6" text-anchor="middle" dominant-baseline="central" font-family="Liberation Sans, sans-serif" fill="#555">0</text>
<line x1="473.99" y1="295.65" x2="472.12" y2="297.31" stroke="#333" stroke-width="0.6"/>
<text transform="translate(469.88,299.3) rotate(48.43)" font-size="5.6" text-anchor="middle" dominant-baseline="central" font-family="Liberation Sans, sans-serif" fill="#555">10</text>
<line x1="461.67" y1="279.97" x2="459.62" y2="281.4" stroke="#333" stroke-width="0.6"/>
<text transform="translate(457.15,283.11) rotate(55.25)" font-size="5.6" text-anchor="middle" dominant-baseline="central" font-family="Liberation Sans, sans-serif" fill="#555">20</text>
<line x1="451.3" y1="262.94" x2="449.09" y2="264.11" stroke="#333" stroke-width="0.6"/>
<text transform="translate(446.44,265.51) rotate(62.08)" font-size="5.6" text-anchor="middle" dominant-baseline="central" font-family="Liberation Sans, sans-serif" fill="#555">30</text>
<text transform="translate(454.14,290.94) rotate(53.75)" font-size="7.2" text-anchor="middle" dominant-baseline="central" font-family="Liberation Sans, sans-serif" fill="#4a4a4a">Chr09</text>
<path d="M452.1 240.4L451.7 239.6L464.1 235.0L464.4 235.7Z" fill="#95cae0"/>
<path d="M451.8 239.7L451.5 238.9L463.9 234.3L464.2 235.1Z" fill="#b1d8e7"/>
<path d="M451.5 239.0L451.2 238.2L463.6 233.7L463.9 234.5Z" fill="#9ccee2"/>
<path d="M451.3 238.3L451.0 237.5L463.4 233.0L463.7 233.8Z" fill="#b0d8e7"/>
<path d="M451.0 237.6L450.7 236.8L463.2 232.4L463.5 233.2Z" fill="#61a8d4"/>
<path d="M450.8 236.9L450.5 236.1L463.0 231.7L463.2 232.5Z" fill="#b1d8e7"/>
<path d="M450.5 236.2L450.2 235.4L462.7 231.1L463.0 231.9Z" fill="#8fc6df"/>
<path d="M450.3 235.5L450.0 234.7L462.5 230.5L462.8 231.2Z" fill="#bdddea"/>
<path d="M450.1 234.8L449.8 234.0L462.3 229.8L462.6 230.6Z" fill="#b6dae9"/>
<path d="M449.8 234.1L449.5 233.2L462.1 229.2L462.3 230.0Z" fill="#b6dae9"/>
<path d="M449.6 233.4L449.3 232.5L461.9 228.5L462.1 229.3Z" fill="#8fc6df"/>
<path d="M449.4 232.7L449.1 231.8L461.7 227.9L461.9 228.7Z" fill="#abd5e5"/>
<path d="M449.1 232.0L448.9 231.1L461.5 227.2L461.7 228.0Z" fill="#75b7d9"/>
<path d="M448.9 231.3L448.6 230.4L461.3 226.6L461.5 227.4Z" fill="#93c9e0"/>
<path d="M448.7 230.6L448.4 229.7L461.1 225.9L461.3 226.7Z" fill="#8fc7df"/>
<path d="M448.5 229.8L448.2 229.0L460.9 225.2L461.1 226.0Z" fill="#93c9e0"/>
<path d="M448.3 229.1L448.0 228.3L460.7 224.6L460.9 225.4Z" fill="#a4d2e3"/>
<path d="M448.0 228.4L447.8 227.5L460.5 223.9L460.7 224.7Z" fill="#a5d3e4"/>
<path d="M447.8 227.7L447.6 226.8L460.3 223.3L460.5 224.1Z" fill="#a2d1e3"/>
<path d="M447.6 227.0L447.4 226.1L460.1 222.6L460.3 223.4Z" fill="#a3d2e3"/>
<path d="M447.4 226.3L447.2 225.4L459.9 222.0L460.2 222.8Z" fill="#b7dae9"/>
<path d="M447.2 225.5L447.0 224.7L459.8 221.3L460.0 222.1Z" fill="#a0d0e2"/>
<path d="M447.1 224.8L446.8 223.9L459.6 220.6L459.8 221.4Z" fill="#add6e6"/>
<path d="M446.9 224.1L446.6 223.2L459.4 220.0L459.6 220.8Z" fill="#e8f0f8"/>
<path d="M446.7 223.4L446.5 222.5L459.3 219.3L459.5 220.1Z" fill="#ecf1fa"/>
<path d="M446.5 222.7L446.3 221.8L459.1 218.7L459.3 219.5Z" fill="#e9f0f9"/>
<path d="M446.3 221.9L446.1 221.1L458.9 218.0L459.1 218.8Z" fill="#edf2fa"/>
<path d="M446.1 221.2L445.9 220.3L458.8 217.3L459.0 218.1Z" fill="#ebf1f9"/>
<path d="M446.0 220.5L445.8 219.6L458.6 216.7L458.8 217.5Z" fill="#ecf1f9"/>
<path d="M445.8 219.8L445.6 218.9L458.5 216.0L458.7 216.8Z" fill="#e8f0f8"/>
<path d="M445.6 219.0L445.4 218.1L458.3 215.3L458.5 216.1Z" fill="#e7eff8"/>
<path d="M445.5 218.3L445.3 217.4L458.2 214.7L458.4 215.5Z" fill="#edf2fa"/>
<path d="M445.3 217.6L445.1 216.7L458.0 214.0L458.2 214.8Z" fill="#c5e0ed"/>
<path d="M445.2 216.9L445.0 216.0L457.9 213.3L458.1 214.1Z" fill="#ecf1fa"/>
<path d="M445.0 216.1L444.8 215.2L457.8 212.7L457.9 213.5Z" fill="#edf2fa"/>
<path d="M444.9 215.4L444.7 214.5L457.6 212.0L457.8 212.8Z" fill="#eaf0f9"/>
<path d="M444.7 214.7L444.5 213.8L457.5 211.3L457.7 212.1Z" fill="#e8f0f8"/>
<path d="M444.6 213.9L444.4 213.0L457.4 210.6L457.5 211.5Z" fill="#edf2fa"/>
<path d="M444.4 213.2L444.3 212.3L457.3 210.0L457.4 210.8Z" fill="#eaf1f9"/>
<path d="M444.3 212.5L444.1 211.6L457.1 209.3L457.3 210.1Z" fill="#ebf1f9"/>
<path d="M444.2 211.7L444.0 210.8L457.0 208.6L457.2 209.4Z" fill="#ecf1fa"/>
<path d="M444.0 211.0L443.9 210.1L456.9 208.0L457.1 208.8Z" fill="#edf2fa"/>
<path d="M443.9 210.3L443.8 209.4L456.8 207.3L456.9 208.1Z" fill="#e8f0f8"/>
<path d="M443.8 209.5L443.7 208.6L456.7 206.6L456.8 207.4Z" fill="#edf2fa"/>
<path d="M443.7 208.8L443.5 207.9L456.6 205.9L456.7 206.8Z" fill="#edf2fa"/>
<path d="M443.6 208.1L443.4 207.2L456.5 205.3L456.6 206.1Z" fill="#edf2fa"/>
<path d="M443.5 207.3L443.3 206.4L456.4 204.6L456.5 205.4Z" fill="#edf2fa"/>
<path d="M443.4 206.6L443.2 205.7L456.3 203.9L456.4 204.7Z" fill="#edf2fa"/>
<path d="M443.3 205.8L443.1 204.9L456.2 203.2L456.3 204.1Z" fill="#edf2fa"/>
<path d="M443.2 205.1L443.0 204.2L456.1 202.5L456.2 203.4Z" fill="#e8f0f8"/>
<path d="M443.1 204.4L442.9 203.5L456.0 201.9L456.2 202.7Z" fill="#eaf1f9"/>
<path d="M443.0 203.6L442.9 202.7L456.0 201.2L456.1 202.0Z" fill="#e8f0f8"/>
<path d="M442.9 202.9L442.8 202.0L455.9 200.5L456.0 201.3Z" fill="#edf2fa"/>
<path d="M442.8 202.1L442.7 201.2L455.8 199.8L455.9 200.7Z" fill="#edf2fa"/>
<path d="M442.7 201.4L442.6 200.5L455.7 199.2L455.8 200.0Z" fill="#edf2fa"/>
<path d="M442.6 200.7L442.5 199.8L455.7 198.5L455.8 199.3Z" fill="#e9f0f9"/>
<path d="M442.6 199.9L442.5 199.0L455.6 197.8L455.7 198.6Z" fill="#d1e5f0"/>
<path d="M442.5 199.2L442.4 198.3L455.6 197.1L455.6 197.9Z" fill="#ebf1f9"/>
<path d="M442.4 198.4L442.3 197.5L455.5 196.4L455.6 197.3Z" fill="#eaf1f9"/>
<path d="M442.4 197.7L442.3 196.8L455.4 195.8L455.5 196.6Z" fill="#e9f0f8"/>
<path d="M442.3 196.9L442.2 196.0L455.4 195.1L455.5 195.9Z" fill="#e7eff8"/>
<path d="M442.2 196.2L442.2 195.3L455.3 194.4L455.4 195.2Z" fill="#e9f0f9"/>
<path d="M442.2 195.5L442.1 194.6L455.3 193.7L455.3 194.5Z" fill="#edf2fa"/>
<path d="M442.1 194.7L442.1 193.8L455.3 193.0L455.3 193.9Z" fill="#b9dbe9"/>
<path d="M442.1 194.0L442.0 193.1L455.2 192.3L455.3 193.2Z" fill="#b3d8e8"/>
<path d="M442.0 193.2L442.0 192.3L455.2 191.7L455.2 192.5Z" fill="#c8e1ee"/>
<path d="M442.0 192.5L442.0 191.6L455.1 191.0L455.2 191.8Z" fill="#bbdcea"/>
<path d="M442.0 191.7L441.9 190.8L455.1 190.3L455.2 191.1Z" fill="#c1dfec"/>
<path d="M441.9 191.0L441.9 190.1L455.1 189.6L455.1 190.5Z" fill="#c5e0ed"/>
<path d="M441.9 190.3L441.9 189.3L455.1 188.9L455.1 189.8Z" fill="#bcdcea"/>
<path d="M441.9 189.5L441.9 188.6L455.0 188.3L455.1 189.1Z" fill="#d3e6f1"/>
<path d="M441.9 188.8L441.8 187.9L455.0 187.6L455.1 188.4Z" fill="#b9dbe9"/>
<path d="M441.8 188.0L441.8 187.1L455.0 186.9L455.0 187.7Z" fill="#bdddea"/>
<path d="M441.8 187.3L441.8 186.4L455.0 186.2L455.0 187.0Z" fill="#b2d8e7"/>
<path d="M441.8 186.5L441.8 185.6L455.0 185.5L455.0 186.4Z" fill="#93c9e0"/>
<path d="M441.8 185.8L441.8 184.9L455.0 184.8L455.0 185.7Z" fill="#d3e6f1"/>
<path d="M441.8 185.0L441.8 184.1L455.0 184.2L455.0 185.0Z" fill="#b3d9e8"/>
<path d="M441.8 184.3L441.8 183.4L455.0 183.5L455.0 184.3Z" fill="#cde3ef"/>
<path d="M441.8 183.5L441.8 182.6L455.0 182.8L455.0 183.6Z" fill="#b3d9e8"/>
<path d="M441.8 182.8L441.8 181.9L455.0 182.1L455.0 182.9Z" fill="#d0e5f0"/>
<path d="M441.8 182.1L441.8 181.1L455.0 181.4L455.0 182.3Z" fill="#cde3ef"/>
<path d="M441.8 181.3L441.9 180.4L455.0 180.7L455.0 181.6Z" fill="#cbe3ef"/>
<path d="M441.8 180.6L441.9 179.7L455.1 180.1L455.0 180.9Z" fill="#c5e0ed"/>
<path d="M441.9 179.8L441.9 178.9L455.1 179.4L455.1 180.2Z" fill="#c4e0ed"/>
<path d="M441.9 179.1L441.9 178.2L455.1 178.7L455.1 179.5Z" fill="#8bc4de"/>
<path d="M441.9 178.3L442.0 177.4L455.1 178.0L455.1 178.8Z" fill="#c4e0ed"/>
<path d="M442.0 177.6L442.0 176.7L455.2 177.3L455.1 178.2Z" fill="#d3e6f1"/>
<path d="M442.0 176.8L442.0 175.9L455.2 176.7L455.2 177.5Z" fill="#aed6e6"/>
<path d="M442.0 176.1L442.1 175.2L455.3 176.0L455.2 176.8Z" fill="#c4e0ed"/>
<path d="M442.1 175.4L442.1 174.4L455.3 175.3L455.2 176.1Z" fill="#b1d8e7"/>
<path d="M490.1 226.0L489.9 225.3L499.3 221.8L499.6 222.4Z" fill="#b9b7de"/>
<path d="M489.9 225.5L489.7 224.8L499.2 221.3L499.4 221.9Z" fill="#c0bfe2"/>
<path d="M489.7 224.9L489.5 224.3L499.0 220.9L499.2 221.4Z" fill="#bdbbe0"/>
<path d="M489.5 224.4L489.3 223.8L498.8 220.4L499.0 221.0Z" fill="#cbcbe8"/>
<path d="M489.3 223.9L489.1 223.3L498.6 219.9L498.9 220.5Z" fill="#b8b6de"/>
<path d="M489.2 223.4L488.9 222.7L498.5 219.4L498.7 220.0Z" fill="#b2b0db"/>
<path d="M489.0 222.9L488.8 222.2L498.3 219.0L498.5 219.5Z" fill="#c4c3e4"/>
<path d="M488.8 222.3L488.6 221.7L498.2 218.5L498.4 219.1Z" fill="#a7a5d5"/>
<path d="M488.6 221.8L488.4 221.2L498.0 218.0L498.2 218.6Z" fill="#b2b0db"/>
<path d="M488.4 221.3L488.2 220.6L497.8 217.5L498.0 218.1Z" fill="#aba9d7"/>
<path d="M488.3 220.8L488.1 220.1L497.7 217.0L497.9 217.6Z" fill="#bbb9df"/>
<path d="M488.1 220.2L487.9 219.6L497.5 216.6L497.7 217.1Z" fill="#afacd9"/>
<path d="M487.9 219.7L487.7 219.1L497.4 216.1L497.6 216.7Z" fill="#b3b0db"/>
<path d="M487.8 219.2L487.6 218.5L497.2 215.6L497.4 216.2Z" fill="#bfbde1"/>
<path d="M487.6 218.7L487.4 218.0L497.1 215.1L497.3 215.7Z" fill="#c0bfe2"/>
<path d="M487.4 218.1L487.3 217.5L496.9 214.6L497.1 215.2Z" fill="#a9a7d6"/>
<path d="M487.3 217.6L487.1 217.0L496.8 214.1L497.0 214.7Z" fill="#c7c7e6"/>
<path d="M487.1 217.1L486.9 216.4L496.7 213.7L496.8 214.3Z" fill="#b2b0db"/>
<path d="M487.0 216.5L486.8 215.9L496.5 213.2L496.7 213.8Z" fill="#b7b5de"/>
<path d="M486.8 216.0L486.6 215.4L496.4 212.7L496.6 213.3Z" fill="#c6c5e5"/>
<path d="M486.7 215.5L486.5 214.8L496.3 212.2L496.4 212.8Z" fill="#cdcde9"/>
<path d="M486.5 214.9L486.4 214.3L496.1 211.7L496.3 212.3Z" fill="#c8c8e6"/>
<path d="M486.4 214.4L486.2 213.8L496.0 211.2L496.2 211.8Z" fill="#d0cfea"/>
<path d="M486.3 213.9L486.1 213.2L495.9 210.7L496.0 211.3Z" fill="#c9c8e6"/>
<path d="M486.1 213.3L486.0 212.7L495.8 210.2L495.9 210.8Z" fill="#c7c6e5"/>
<path d="M486.0 212.8L485.8 212.1L495.6 209.8L495.8 210.4Z" fill="#d1d1ea"/>
<path d="M485.8 212.3L485.7 211.6L495.5 209.3L495.7 209.9Z" fill="#bcbbe0"/>
<path d="M485.7 211.7L485.6 211.1L495.4 208.8L495.5 209.4Z" fill="#b9b7de"/>
<path d="M485.6 211.2L485.4 210.5L495.3 208.3L495.4 208.9Z" fill="#b9b7df"/>
<path d="M485.5 210.7L485.3 210.0L495.2 207.8L495.3 208.4Z" fill="#cccce8"/>
<path d="M485.3 210.1L485.2 209.5L495.1 207.3L495.2 207.9Z" fill="#bdbbe0"/>
<path d="M485.2 209.6L485.1 208.9L495.0 206.8L495.1 207.4Z" fill="#d1d1eb"/>
<path d="M485.1 209.0L485.0 208.4L494.9 206.3L495.0 206.9Z" fill="#d2d2eb"/>
<path d="M485.0 208.5L484.9 207.8L494.8 205.8L494.9 206.4Z" fill="#d3d3eb"/>
<path d="M484.9 208.0L484.7 207.3L494.7 205.3L494.8 205.9Z" fill="#bcbbe0"/>
<path d="M484.8 207.4L484.6 206.7L494.6 204.8L494.7 205.4Z" fill="#b3b1db"/>
<path d="M484.7 206.9L484.5 206.2L494.5 204.3L494.6 204.9Z" fill="#bcbae0"/>
<path d="M484.6 206.3L484.4 205.7L494.4 203.8L494.5 204.4Z" fill="#c2c1e3"/>
<path d="M484.5 205.8L484.3 205.1L494.3 203.3L494.4 203.9Z" fill="#d3d3eb"/>
<path d="M484.4 205.2L484.2 204.6L494.2 202.8L494.3 203.4Z" fill="#bab8df"/>
<path d="M484.3 204.7L484.1 204.0L494.1 202.3L494.2 202.9Z" fill="#d3d3eb"/>
<path d="M484.2 204.1L484.1 203.5L494.0 201.8L494.1 202.4Z" fill="#d1d1eb"/>
<path d="M484.1 203.6L484.0 202.9L493.9 201.3L494.0 202.0Z" fill="#d0d0ea"/>
<path d="M484.0 203.1L483.9 202.4L493.9 200.8L494.0 201.5Z" fill="#a3a1d2"/>
<path d="M483.9 202.5L483.8 201.8L493.8 200.3L493.9 201.0Z" fill="#c0bee2"/>
<path d="M483.8 202.0L483.7 201.3L493.7 199.8L493.8 200.5Z" fill="#b6b4dd"/>
<path d="M483.7 201.4L483.6 200.8L493.6 199.3L493.7 200.0Z" fill="#bcbae0"/>
<path d="M483.7 200.9L483.6 200.2L493.6 198.8L493.7 199.5Z" fill="#c0bfe2"/>
<path d="M483.6 200.3L483.5 199.7L493.5 198.3L493.6 199.0Z" fill="#b9b8df"/>
<path d="M483.5 199.8L483.4 199.1L493.4 197.8L493.5 198.5Z" fill="#d7d7ed"/>
<path d="M483.4 199.2L483.3 198.6L493.4 197.3L493.5 198.0Z" fill="#c1c0e3"/>
<path d="M483.4 198.7L483.3 198.0L493.3 196.8L493.4 197.5Z" fill="#bab9df"/>
<path d="M483.3 198.1L483.2 197.5L493.3 196.3L493.3 197.0Z" fill="#9390ca"/>
<path d="M483.2 197.6L483.2 196.9L493.2 195.8L493.3 196.5Z" fill="#d0d0ea"/>
<path d="M483.2 197.0L483.1 196.4L493.2 195.3L493.2 195.9Z" fill="#d5d5ec"/>
<path d="M483.1 196.5L483.0 195.8L493.1 194.8L493.2 195.4Z" fill="#d3d3eb"/>
<path d="M483.1 195.9L483.0 195.3L493.1 194.3L493.1 194.9Z" fill="#d1d1ea"/>
<path d="M483.0 195.4L482.9 194.7L493.0 193.8L493.1 194.4Z" fill="#c5c4e5"/>
<path d="M483.0 194.8L482.9 194.2L493.0 193.3L493.0 193.9Z" fill="#b2b0db"/>
<path d="M482.9 194.3L482.9 193.6L492.9 192.8L493.0 193.4Z" fill="#cdcde9"/>
<path d="M482.9 193.7L482.8 193.1L492.9 192.3L492.9 192.9Z" fill="#b8b6de"/>
<path d="M482.8 193.2L482.8 192.5L492.9 191.8L492.9 192.4Z" fill="#adaad8"/>
<path d="M482.8 192.6L482.7 192.0L492.8 191.3L492.9 191.9Z" fill="#bdbbe0"/>
<path d="M482.7 192.1L482.7 191.4L492.8 190.8L492.8 191.4Z" fill="#b9b8df"/>
<path d="M482.7 191.5L482.7 190.9L492.8 190.3L492.8 190.9Z" fill="#c4c3e4"/>
<path d="M482.7 191.0L482.6 190.3L492.7 189.8L492.8 190.4Z" fill="#b4b2dc"/>
<path d="M482.7 190.4L482.6 189.7L492.7 189.3L492.7 189.9Z" fill="#cccce8"/>
<path d="M482.6 189.9L482.6 189.2L492.7 188.8L492.7 189.4Z" fill="#b7b5de"/>
<path d="M482.6 189.3L482.6 188.6L492.7 188.3L492.7 188.9Z" fill="#b9b7de"/>
<path d="M482.6 188.8L482.6 188.1L492.7 187.8L492.7 188.4Z" fill="#cac9e7"/>
<path d="M482.6 188.2L482.5 187.5L492.6 187.3L492.7 187.9Z" fill="#d1d1eb"/>
<path d="M482.5 187.7L482.5 187.0L492.6 186.8L492.6 187.4Z" fill="#bdbbe0"/>
<path d="M482.5 187.1L482.5 186.4L492.6 186.3L492.6 186.9Z" fill="#b6b4dd"/>
<path d="M482.5 186.6L482.5 185.9L492.6 185.8L492.6 186.4Z" fill="#c2c1e3"/>
<path d="M482.5 186.0L482.5 185.3L492.6 185.3L492.6 185.9Z" fill="#cacae7"/>
<path d="M482.5 185.5L482.5 184.8L492.6 184.8L492.6 185.4Z" fill="#c4c3e4"/>
<path d="M482.5 184.9L482.5 184.2L492.6 184.2L492.6 184.9Z" fill="#cecee9"/>
<path d="M482.5 184.3L482.5 183.7L492.6 183.7L492.6 184.4Z" fill="#b4b2dc"/>
<path d="M482.5 183.8L482.5 183.1L492.6 183.2L492.6 183.9Z" fill="#b0aeda"/>
<path d="M482.5 183.2L482.5 182.6L492.6 182.7L492.6 183.3Z" fill="#b7b5dd"/>
<path d="M482.5 182.7L482.5 182.0L492.6 182.2L492.6 182.8Z" fill="#bdbce1"/>
<path d="M482.5 182.1L482.5 181.5L492.6 181.7L492.6 182.3Z" fill="#cccce8"/>
<path d="M482.5 181.6L482.6 180.9L492.7 181.2L492.6 181.8Z" fill="#cfcfe9"/>
<path d="M482.6 181.0L482.6 180.4L492.7 180.7L492.6 181.3Z" fill="#c4c3e4"/>
<path d="M482.6 180.5L482.6 179.8L492.7 180.2L492.7 180.8Z" fill="#bebde1"/>
<path d="M482.6 179.9L482.6 179.3L492.7 179.7L492.7 180.3Z" fill="#c8c8e6"/>
<path d="M482.6 179.4L482.6 178.7L492.7 179.2L492.7 179.8Z" fill="#b3b1db"/>
<path d="M482.6 178.8L482.7 178.1L492.8 178.7L492.7 179.3Z" fill="#bdbce1"/>
<path d="M482.7 178.3L482.7 177.6L492.8 178.2L492.8 178.8Z" fill="#cfcfea"/>
<path d="M482.7 177.7L482.7 177.0L492.8 177.7L492.8 178.3Z" fill="#a8a6d5"/>
<path d="M475.3 231.6L475.8 230.9L475.1 230.7L475.4 230.0L475.2 229.6L474.8 229.3L474.3 229.0L474.4 228.4L473.8 228.1L473.8 227.6L473.6 227.2L473.6 226.7L473.4 226.3L473.2 225.9L473.0 225.4L472.9 224.9L473.3 224.3L472.8 224.0L472.6 223.6L472.7 223.1L472.4 222.6L472.8 222.0L472.1 221.8L472.4 221.2L471.6 220.9L471.5 220.5L472.0 219.8L471.6 219.5L471.5 219.0L471.7 218.5L471.0 218.2L470.7 217.8L471.0 217.2L471.0 216.7L470.8 216.3L470.0 216.0L469.8 215.5L469.6 215.1L469.0 214.8L469.6 214.1L468.7 213.9L469.2 213.3L468.4 212.9L467.4 212.7L466.5 212.4L466.5 211.9L465.8 211.5L465.9 211.0L465.0 210.7L464.2 210.4L462.6 210.2L464.8 209.3L464.3 208.8L462.7 208.6L461.6 208.3L461.4 207.9L461.5 207.4L462.4 206.7L460.6 206.5L463.6 205.5L461.5 205.3L463.2 204.6L461.5 204.3L461.5 203.8L463.1 203.1L461.9 202.8L463.3 202.1L461.1 201.9L464.0 201.1L464.5 200.5L461.6 200.4L462.5 199.8L463.9 199.1L462.8 198.7L465.0 198.0L464.1 197.6L465.8 197.0L465.6 196.5L465.3 196.1L465.3 195.6L465.7 195.1L466.2 194.6L466.5 194.1L466.5 193.6L466.9 193.1L466.3 192.7L466.9 192.2L466.9 191.7L467.1 191.2L466.8 190.8L466.8 190.3L467.0 189.8L466.8 189.3L467.1 188.9L467.0 188.4L466.8 187.9L466.3 187.5L466.7 187.0L467.3 186.5L467.2 186.0L467.1 185.6L466.5 185.1L466.8 184.6L466.5 184.2L466.5 183.7L467.2 183.2L467.2 182.8L467.0 182.3L467.0 181.8L467.4 181.4L467.4 180.9L466.8 180.4L466.7 179.9L466.5 179.5L467.4 179.0L467.1 178.5L466.9 178.1L467.3 177.6L467.0 177.1L467.6 176.7L467.1 176.2 L468.06 176.24 A131.5 131.5 0 0 0 476.37 231.2 Z" fill="#eab0ae"/>
<path d="M475.3 231.6L475.8 230.9L475.1 230.7L475.4 230.0L475.2 229.6L474.8 229.3L474.3 229.0L474.4 228.4L473.8 228.1L473.8 227.6L473.6 227.2L473.6 226.7L473.4 226.3L473.2 225.9L473.0 225.4L472.9 224.9L473.3 224.3L472.8 224.0L472.6 223.6L472.7 223.1L472.4 222.6L472.8 222.0L472.1 221.8L472.4 221.2L471.6 220.9L471.5 220.5L472.0 219.8L471.6 219.5L471.5 219.0L471.7 218.5L471.0 218.2L470.7 217.8L471.0 217.2L471.0 216.7L470.8 216.3L470.0 216.0L469.8 215.5L469.6 215.1L469.0 214.8L469.6 214.1L468.7 213.9L469.2 213.3L468.4 212.9L467.4 212.7L466.5 212.4L466.5 211.9L465.8 211.5L465.9 211.0L465.0 210.7L464.2 210.4L462.6 210.2L464.8 209.3L464.3 208.8L462.7 208.6L461.6 208.3L461.4 207.9L461.5 207.4L462.4 206.7L460.6 206.5L463.6 205.5L461.5 205.3L463.2 204.6L461.5 204.3L461.5 203.8L463.1 203.1L461.9 202.8L463.3 202.1L461.1 201.9L464.0 201.1L464.5 200.5L461.6 200.4L462.5 199.8L463.9 199.1L462.8 198.7L465.0 198.0L464.1 197.6L465.8 197.0L465.6 196.5L465.3 196.1L465.3 195.6L465.7 195.1L466.2 194.6L466.5 194.1L466.5 193.6L466.9 193.1L466.3 192.7L466.9 192.2L466.9 191.7L467.1 191.2L466.8 190.8L466.8 190.3L467.0 189.8L466.8 189.3L467.1 188.9L467.0 188.4L466.8 187.9L466.3 187.5L466.7 187.0L467.3 186.5L467.2 186.0L467.1 185.6L466.5 185.1L466.8 184.6L466.5 184.2L466.5 183.7L467.2 183.2L467.2 182.8L467.0 182.3L467.0 181.8L467.4 181.4L467.4 180.9L466.8 180.4L466.7 179.9L466.5 179.5L467.4 179.0L467.1 178.5L466.9 178.1L467.3 177.6L467.0 177.1L467.6 176.7L467.1 176.2" fill="none" stroke="#d9353a" stroke-width="0.9"/>
<path d="M485.1 227.9L484.4 227.7L484.4 227.2L483.9 226.9L483.8 226.5L483.0 226.3L482.9 225.9L484.1 225.0L484.0 224.6L483.4 224.4L483.2 223.9L483.1 223.5L483.2 223.0L482.3 222.9L483.1 222.2L482.2 222.0L482.3 221.5L482.3 221.1L482.4 220.6L481.1 220.5L482.6 219.6L482.5 219.2L481.5 219.0L481.7 218.5L481.1 218.2L479.3 218.3L480.8 217.4L480.3 217.1L480.2 216.6L477.9 216.8L480.8 215.6L481.0 215.1L481.1 214.6L480.3 214.4L480.0 214.0L480.0 213.5L479.4 213.2L480.0 212.7L480.1 212.2L478.7 212.0L479.2 211.5L478.8 211.1L479.1 210.6L478.3 210.3L478.8 209.8L478.4 209.4L477.6 209.1L477.9 208.6L478.3 208.1L478.1 207.7L477.0 207.5L476.3 207.1L476.9 206.6L477.4 206.1L476.2 205.8L477.1 205.2L475.8 205.0L475.8 204.5L475.3 204.2L476.4 203.5L475.5 203.2L476.1 202.7L476.4 202.2L474.9 202.0L475.4 201.4L474.3 201.1L475.1 200.6L476.3 200.0L475.1 199.7L476.0 199.1L476.1 198.7L476.3 198.2L476.1 197.8L476.1 197.4L476.2 196.9L475.8 196.5L477.1 195.9L476.3 195.6L476.1 195.2L477.0 194.6L477.5 194.2L475.7 193.9L476.7 193.3L476.8 192.9L476.5 192.5L477.3 192.0L477.3 191.6L476.4 191.2L476.2 190.8L476.5 190.3L476.3 189.9L476.4 189.4L477.3 189.0L475.8 188.6L476.9 188.1L476.9 187.7L477.3 187.2L476.6 186.8L476.3 186.4L476.2 185.9L477.4 185.5L475.7 185.1L475.7 184.6L477.4 184.2L476.8 183.8L476.6 183.3L477.3 182.9L477.1 182.5L476.9 182.0L476.5 181.6L477.1 181.2L475.8 180.7L477.4 180.3L477.5 179.9L476.9 179.4L477.0 179.0L476.6 178.5L476.0 178.1L476.5 177.6L476.8 177.2L476.5 176.8 L478.04 176.87 A121.5 121.5 0 0 0 485.72 227.65 Z" fill="#d6edb4"/>
<path d="M485.1 227.9L484.4 227.7L484.4 227.2L483.9 226.9L483.8 226.5L483.0 226.3L482.9 225.9L484.1 225.0L484.0 224.6L483.4 224.4L483.2 223.9L483.1 223.5L483.2 223.0L482.3 222.9L483.1 222.2L482.2 222.0L482.3 221.5L482.3 221.1L482.4 220.6L481.1 220.5L482.6 219.6L482.5 219.2L481.5 219.0L481.7 218.5L481.1 218.2L479.3 218.3L480.8 217.4L480.3 217.1L480.2 216.6L477.9 216.8L480.8 215.6L481.0 215.1L481.1 214.6L480.3 214.4L480.0 214.0L480.0 213.5L479.4 213.2L480.0 212.7L480.1 212.2L478.7 212.0L479.2 211.5L478.8 211.1L479.1 210.6L478.3 210.3L478.8 209.8L478.4 209.4L477.6 209.1L477.9 208.6L478.3 208.1L478.1 207.7L477.0 207.5L476.3 207.1L476.9 206.6L477.4 206.1L476.2 205.8L477.1 205.2L475.8 205.0L475.8 204.5L475.3 204.2L476.4 203.5L475.5 203.2L476.1 202.7L476.4 202.2L474.9 202.0L475.4 201.4L474.3 201.1L475.1 200.6L476.3 200.0L475.1 199.7L476.0 199.1L476.1 198.7L476.3 198.2L476.1 197.8L476.1 197.4L476.2 196.9L475.8 196.5L477.1 195.9L476.3 195.6L476.1 195.2L477.0 194.6L477.5 194.2L475.7 193.9L476.7 193.3L476.8 192.9L476.5 192.5L477.3 192.0L477.3 191.6L476.4 191.2L476.2 190.8L476.5 190.3L476.3 189.9L476.4 189.4L477.3 189.0L475.8 188.6L476.9 188.1L476.9 187.7L477.3 187.2L476.6 186.8L476.3 186.4L476.2 185.9L477.4 185.5L475.7 185.1L475.7 184.6L477.4 184.2L476.8 183.8L476.6 183.3L477.3 182.9L477.1 182.5L476.9 182.0L476.5 181.6L477.1 181.2L475.8 180.7L477.4 180.3L477.5 179.9L476.9 179.4L477.0 179.0L476.6 178.5L476.0 178.1L476.5 177.6L476.8 177.2L476.5 176.8" fill="none" stroke="#3ca62c" stroke-width="0.9"/>
<path d="M442.72 243.98A167.5 167.5 0 0 1 432.13 173.98L437.62 174.33A162 162 0 0 0 447.86 242.03Z" fill="#6b6dab" stroke="#1e1e30" stroke-width="1"/>
<line x1="442.72" y1="243.98" x2="440.38" y2="244.87" stroke="#333" stroke-width="0.6"/>
<text transform="translate(437.58,245.93) rotate(69.2)" font-size="5.6" text-anchor="middle" dominant-baseline="central" font-family="Liberation Sans, sans-serif" fill="#555">0</text>
<line x1="436.58" y1="224.25" x2="434.16" y2="224.84" stroke="#333" stroke-width="0.6"/>
<text transform="translate(431.24,225.55) rotate(76.27)" font-size="5.6" text-anchor="middle" dominant-baseline="central" font-family="Liberation Sans, sans-serif" fill="#555">10</text>
<line x1="432.93" y1="203.91" x2="430.45" y2="204.2" stroke="#333" stroke-width="0.6"/>
<text transform="translate(427.47,204.55) rotate(83.34)" font-size="5.6" text-anchor="middle" dominant-baseline="central" font-family="Liberation Sans, sans-serif" fill="#555">20</text>
<line x1="431.8" y1="183.28" x2="429.3" y2="183.26" stroke="#333" stroke-width="0.6"/>
<text transform="translate(426.3,183.24) rotate(270.42)" font-size="5.6" text-anchor="middle" dominant-baseline="central" font-family="Liberation Sans, sans-serif" fill="#555">30</text>
<text transform="translate(421.32,211.42) rotate(81.4)" font-size="7.2" text-anchor="middle" dominant-baseline="central" font-family="Liberation Sans, sans-serif" fill="#4a4a4a">Chr10</text>
<path d="M442.9 166.1L443.0 165.2L456.1 166.8L456.0 167.7Z" fill="#edf2fa"/>
<path d="M443.0 165.4L443.1 164.5L456.2 166.2L456.1 167.0Z" fill="#edf2fa"/>
<path d="M443.1 164.6L443.2 163.7L456.3 165.5L456.2 166.3Z" fill="#edf2fa"/>
<path d="M443.2 163.9L443.3 163.0L456.4 164.8L456.2 165.6Z" fill="#e7eff8"/>
<path d="M443.3 163.2L443.4 162.3L456.4 164.1L456.3 164.9Z" fill="#e8f0f8"/>
<path d="M443.4 162.4L443.5 161.5L456.5 163.4L456.4 164.3Z" fill="#e8f0f8"/>
<path d="M443.5 161.7L443.6 160.8L456.6 162.8L456.5 163.6Z" fill="#e8f0f8"/>
<path d="M443.6 160.9L443.7 160.0L456.8 162.1L456.6 162.9Z" fill="#ecf2fa"/>
<path d="M443.7 160.2L443.8 159.3L456.9 161.4L456.7 162.2Z" fill="#edf2fa"/>
<path d="M443.8 159.5L444.0 158.6L457.0 160.7L456.8 161.6Z" fill="#e9f0f9"/>
<path d="M443.9 158.7L444.1 157.8L457.1 160.1L456.9 160.9Z" fill="#e7eff8"/>
<path d="M444.0 158.0L444.2 157.1L457.2 159.4L457.1 160.2Z" fill="#ecf1fa"/>
<path d="M444.2 157.2L444.3 156.3L457.3 158.7L457.2 159.5Z" fill="#eaf1f9"/>
<path d="M444.3 156.5L444.5 155.6L457.4 158.0L457.3 158.9Z" fill="#e7eff8"/>
<path d="M444.4 155.8L444.6 154.9L457.6 157.4L457.4 158.2Z" fill="#e7eff8"/>
<path d="M444.6 155.0L444.8 154.1L457.7 156.7L457.5 157.5Z" fill="#cfe4f0"/>
<path d="M444.7 154.3L444.9 153.4L457.8 156.0L457.7 156.8Z" fill="#ecf2fa"/>
<path d="M444.9 153.6L445.1 152.7L458.0 155.3L457.8 156.2Z" fill="#edf2fa"/>
<path d="M445.0 152.8L445.2 151.9L458.1 154.7L457.9 155.5Z" fill="#edf2fa"/>
<path d="M445.2 152.1L445.4 151.2L458.3 154.0L458.1 154.8Z" fill="#e8f0f8"/>
<path d="M445.3 151.4L445.5 150.5L458.4 153.3L458.2 154.1Z" fill="#edf2fa"/>
<path d="M445.5 150.6L445.7 149.7L458.6 152.7L458.4 153.5Z" fill="#cee4f0"/>
<path d="M445.6 149.9L445.8 149.0L458.7 152.0L458.5 152.8Z" fill="#ecf2fa"/>
<path d="M445.8 149.2L446.0 148.3L458.9 151.3L458.7 152.1Z" fill="#ebf1f9"/>
<path d="M446.0 148.4L446.2 147.6L459.0 150.7L458.8 151.5Z" fill="#edf2fa"/>
<path d="M446.2 147.7L446.4 146.8L459.2 150.0L459.0 150.8Z" fill="#eaf1f9"/>
<path d="M446.3 147.0L446.6 146.1L459.4 149.3L459.2 150.1Z" fill="#eaf1f9"/>
<path d="M446.5 146.3L446.7 145.4L459.5 148.7L459.3 149.5Z" fill="#e8f0f8"/>
<path d="M446.7 145.5L446.9 144.7L459.7 148.0L459.5 148.8Z" fill="#eaf1f9"/>
<path d="M446.9 144.8L447.1 143.9L459.9 147.3L459.7 148.1Z" fill="#ebf1f9"/>
<path d="M447.1 144.1L447.3 143.2L460.0 146.7L459.8 147.5Z" fill="#ecf1fa"/>
<path d="M447.3 143.4L447.5 142.5L460.2 146.0L460.0 146.8Z" fill="#e9f0f9"/>
<path d="M447.5 142.6L447.7 141.8L460.4 145.3L460.2 146.2Z" fill="#eaf1f9"/>
<path d="M447.7 141.9L447.9 141.0L460.6 144.7L460.4 145.5Z" fill="#ecf1fa"/>
<path d="M447.9 141.2L448.1 140.3L460.8 144.0L460.6 144.8Z" fill="#ebf1f9"/>
<path d="M448.1 140.5L448.3 139.6L461.0 143.4L460.7 144.2Z" fill="#ecf1fa"/>
<path d="M448.3 139.8L448.5 138.9L461.2 142.7L460.9 143.5Z" fill="#eaf0f9"/>
<path d="M448.5 139.1L448.8 138.2L461.4 142.1L461.1 142.9Z" fill="#edf2fa"/>
<path d="M448.7 138.3L449.0 137.5L461.6 141.4L461.3 142.2Z" fill="#eaf1f9"/>
<path d="M448.9 137.6L449.2 136.7L461.8 140.8L461.5 141.5Z" fill="#e9f0f9"/>
<path d="M449.2 136.9L449.4 136.0L462.0 140.1L461.7 140.9Z" fill="#edf2fa"/>
<path d="M449.4 136.2L449.7 135.3L462.2 139.4L462.0 140.2Z" fill="#d3e6f1"/>
<path d="M449.6 135.5L449.9 134.6L462.4 138.8L462.2 139.6Z" fill="#c6e0ed"/>
<path d="M449.9 134.8L450.1 133.9L462.6 138.1L462.4 138.9Z" fill="#cfe4f0"/>
<path d="M450.1 134.1L450.4 133.2L462.9 137.5L462.6 138.3Z" fill="#cae2ee"/>
<path d="M450.3 133.4L450.6 132.5L463.1 136.8L462.8 137.6Z" fill="#c7e1ee"/>
<path d="M450.6 132.6L450.9 131.8L463.3 136.2L463.0 137.0Z" fill="#d4e7f1"/>
<path d="M450.8 131.9L451.1 131.1L463.6 135.6L463.3 136.3Z" fill="#d3e6f1"/>
<path d="M451.1 131.2L451.4 130.4L463.8 134.9L463.5 135.7Z" fill="#b7dae9"/>
<path d="M451.3 130.5L451.7 129.7L464.0 134.3L463.7 135.1Z" fill="#d1e5f0"/>
<path d="M451.6 129.8L451.9 129.0L464.3 133.6L464.0 134.4Z" fill="#d8e8f3"/>
<path d="M451.9 129.1L452.2 128.3L464.5 133.0L464.2 133.8Z" fill="#d3e6f1"/>
<path d="M452.1 128.4L452.4 127.6L464.8 132.3L464.5 133.1Z" fill="#d6e7f2"/>
<path d="M452.4 127.7L452.7 126.9L465.0 131.7L464.7 132.5Z" fill="#d7e8f2"/>
<path d="M452.7 127.0L453.0 126.2L465.3 131.1L464.9 131.8Z" fill="#c4e0ed"/>
<path d="M452.9 126.3L453.3 125.5L465.5 130.4L465.2 131.2Z" fill="#d6e7f2"/>
<path d="M453.2 125.6L453.6 124.8L465.8 129.8L465.5 130.6Z" fill="#c4e0ed"/>
<path d="M453.5 124.9L453.8 124.1L466.0 129.2L465.7 129.9Z" fill="#dae9f3"/>
<path d="M453.8 124.3L454.1 123.4L466.3 128.5L466.0 129.3Z" fill="#d2e6f1"/>
<path d="M454.1 123.6L454.4 122.7L466.6 127.9L466.2 128.7Z" fill="#d4e7f1"/>
<path d="M454.4 122.9L454.7 122.0L466.8 127.3L466.5 128.0Z" fill="#dbeaf4"/>
<path d="M454.7 122.2L455.0 121.3L467.1 126.6L466.8 127.4Z" fill="#d7e8f3"/>
<path d="M454.9 121.5L455.3 120.7L467.4 126.0L467.0 126.8Z" fill="#d8e8f3"/>
<path d="M455.2 120.8L455.6 120.0L467.7 125.4L467.3 126.2Z" fill="#94c9e0"/>
<path d="M455.6 120.1L455.9 119.3L467.9 124.8L467.6 125.5Z" fill="#80bddc"/>
<path d="M455.9 119.4L456.2 118.6L468.2 124.1L467.9 124.9Z" fill="#87c2dd"/>
<path d="M456.2 118.8L456.6 117.9L468.5 123.5L468.2 124.3Z" fill="#97cbe1"/>
<path d="M456.5 118.1L456.9 117.3L468.8 122.9L468.5 123.7Z" fill="#a0d0e2"/>
<path d="M456.8 117.4L457.2 116.6L469.1 122.3L468.7 123.0Z" fill="#94cae0"/>
<path d="M457.1 116.7L457.5 115.9L469.4 121.7L469.0 122.4Z" fill="#a5d3e4"/>
<path d="M457.4 116.1L457.8 115.2L469.7 121.0L469.3 121.8Z" fill="#8ac4de"/>
<path d="M457.8 115.4L458.2 114.6L470.0 120.4L469.6 121.2Z" fill="#81bedc"/>
<path d="M458.1 114.7L458.5 113.9L470.3 119.8L469.9 120.6Z" fill="#7ebddb"/>
<path d="M458.4 114.0L458.8 113.2L470.6 119.2L470.2 120.0Z" fill="#76b8da"/>
<path d="M458.8 113.4L459.2 112.6L470.9 118.6L470.6 119.3Z" fill="#a0d0e2"/>
<path d="M459.1 112.7L459.5 111.9L471.2 118.0L470.9 118.7Z" fill="#9acde1"/>
<path d="M459.5 112.0L459.9 111.2L471.6 117.4L471.2 118.1Z" fill="#95cae0"/>
<path d="M459.8 111.4L460.2 110.6L471.9 116.8L471.5 117.5Z" fill="#91c8df"/>
<path d="M460.1 110.7L460.6 109.9L472.2 116.2L471.8 116.9Z" fill="#4190cc"/>
<path d="M460.5 110.1L460.9 109.3L472.5 115.6L472.1 116.3Z" fill="#a0d0e2"/>
<path d="M460.9 109.4L461.3 108.6L472.9 115.0L472.5 115.7Z" fill="#94c9e0"/>
<path d="M461.2 108.7L461.7 107.9L473.2 114.4L472.8 115.1Z" fill="#7dbcdb"/>
<path d="M461.6 108.1L462.0 107.3L473.5 113.8L473.1 114.5Z" fill="#3d8dcb"/>
<path d="M461.9 107.4L462.4 106.6L473.9 113.2L473.5 113.9Z" fill="#4794ce"/>
<path d="M462.3 106.8L462.8 106.0L474.2 112.6L473.8 113.3Z" fill="#7cbbdb"/>
<path d="M462.7 106.1L463.1 105.3L474.5 112.0L474.1 112.7Z" fill="#6fb3d8"/>
<path d="M463.1 105.5L463.5 104.7L474.9 111.4L474.5 112.1Z" fill="#3d8dcb"/>
<path d="M463.4 104.8L463.9 104.1L475.2 110.8L474.8 111.5Z" fill="#6aafd6"/>
<path d="M463.8 104.2L464.3 103.4L475.6 110.2L475.2 110.9Z" fill="#86c1dd"/>
<path d="M464.2 103.6L464.7 102.8L475.9 109.6L475.5 110.3Z" fill="#519cd0"/>
<path d="M483.3 170.9L483.4 170.2L493.4 171.4L493.3 172.1Z" fill="#d0d0ea"/>
<path d="M483.4 170.3L483.4 169.6L493.5 170.9L493.4 171.5Z" fill="#bab9df"/>
<path d="M483.4 169.8L483.5 169.1L493.5 170.4L493.5 171.0Z" fill="#d6d6ed"/>
<path d="M483.5 169.2L483.6 168.5L493.6 169.9L493.5 170.5Z" fill="#d1d1eb"/>
<path d="M483.6 168.7L483.7 168.0L493.7 169.4L493.6 170.0Z" fill="#c4c3e4"/>
<path d="M483.7 168.1L483.8 167.5L493.7 168.9L493.7 169.5Z" fill="#bcbbe0"/>
<path d="M483.7 167.6L483.8 166.9L493.8 168.4L493.7 169.0Z" fill="#d0d0ea"/>
<path d="M483.8 167.0L483.9 166.4L493.9 167.9L493.8 168.5Z" fill="#c8c8e6"/>
<path d="M483.9 166.5L484.0 165.8L494.0 167.4L493.9 168.0Z" fill="#d7d7ed"/>
<path d="M484.0 165.9L484.1 165.3L494.1 166.9L494.0 167.5Z" fill="#d5d5ec"/>
<path d="M484.1 165.4L484.2 164.7L494.1 166.4L494.0 167.0Z" fill="#d4d4ec"/>
<path d="M484.2 164.8L484.3 164.2L494.2 165.9L494.1 166.5Z" fill="#c8c8e6"/>
<path d="M484.3 164.3L484.4 163.6L494.3 165.4L494.2 166.0Z" fill="#bcbae0"/>
<path d="M484.4 163.7L484.5 163.1L494.4 164.9L494.3 165.5Z" fill="#c2c1e3"/>
<path d="M484.5 163.2L484.6 162.5L494.5 164.4L494.4 165.0Z" fill="#c5c4e4"/>
<path d="M484.6 162.6L484.7 162.0L494.6 163.9L494.5 164.5Z" fill="#cbcbe8"/>
<path d="M484.7 162.1L484.8 161.4L494.7 163.4L494.6 164.0Z" fill="#cdcde8"/>
<path d="M484.8 161.6L484.9 160.9L494.8 162.9L494.7 163.5Z" fill="#bebde1"/>
<path d="M484.9 161.0L485.0 160.4L494.9 162.4L494.8 163.0Z" fill="#c2c1e3"/>
<path d="M485.0 160.5L485.1 159.8L495.0 161.9L494.9 162.5Z" fill="#d1d1ea"/>
<path d="M485.1 159.9L485.3 159.3L495.1 161.4L495.0 162.1Z" fill="#d3d3eb"/>
<path d="M485.2 159.4L485.4 158.7L495.2 161.0L495.1 161.6Z" fill="#c1c0e2"/>
<path d="M485.4 158.8L485.5 158.2L495.3 160.5L495.2 161.1Z" fill="#bcbae0"/>
<path d="M485.5 158.3L485.6 157.6L495.5 160.0L495.3 160.6Z" fill="#d1d1ea"/>
<path d="M485.6 157.8L485.8 157.1L495.6 159.5L495.4 160.1Z" fill="#cacae7"/>
<path d="M485.7 157.2L485.9 156.6L495.7 159.0L495.6 159.6Z" fill="#bdbbe0"/>
<path d="M485.9 156.7L486.0 156.0L495.8 158.5L495.7 159.1Z" fill="#c8c7e6"/>
<path d="M486.0 156.1L486.2 155.5L495.9 158.0L495.8 158.6Z" fill="#c1c0e3"/>
<path d="M486.1 155.6L486.3 155.0L496.1 157.5L495.9 158.1Z" fill="#cbcae7"/>
<path d="M486.3 155.1L486.4 154.4L496.2 157.0L496.0 157.6Z" fill="#bebde1"/>
<path d="M486.4 154.5L486.6 153.9L496.3 156.5L496.2 157.1Z" fill="#b7b5de"/>
<path d="M486.6 154.0L486.7 153.3L496.5 156.0L496.3 156.6Z" fill="#bebde1"/>
<path d="M486.7 153.5L486.9 152.8L496.6 155.5L496.4 156.1Z" fill="#cdcde9"/>
<path d="M486.8 152.9L487.0 152.3L496.7 155.1L496.6 155.7Z" fill="#c4c3e4"/>
<path d="M487.0 152.4L487.2 151.7L496.9 154.6L496.7 155.2Z" fill="#d1d1eb"/>
<path d="M487.2 151.9L487.3 151.2L497.0 154.1L496.9 154.7Z" fill="#b3b1db"/>
<path d="M487.3 151.3L487.5 150.7L497.2 153.6L497.0 154.2Z" fill="#c4c3e4"/>
<path d="M487.5 150.8L487.7 150.1L497.3 153.1L497.1 153.7Z" fill="#cbcae7"/>
<path d="M487.6 150.3L487.8 149.6L497.5 152.6L497.3 153.2Z" fill="#cdcce8"/>
<path d="M487.8 149.7L488.0 149.1L497.6 152.2L497.4 152.7Z" fill="#b8b7de"/>
<path d="M488.0 149.2L488.2 148.6L497.8 151.7L497.6 152.3Z" fill="#c4c3e4"/>
<path d="M488.1 148.7L488.3 148.0L497.9 151.2L497.7 151.8Z" fill="#d2d2eb"/>
<path d="M488.3 148.1L488.5 147.5L498.1 150.7L497.9 151.3Z" fill="#c0bfe2"/>
<path d="M488.5 147.6L488.7 147.0L498.3 150.2L498.1 150.8Z" fill="#d1d1eb"/>
<path d="M488.7 147.1L488.9 146.5L498.4 149.7L498.2 150.3Z" fill="#d2d2eb"/>
<path d="M488.8 146.6L489.1 145.9L498.6 149.3L498.4 149.8Z" fill="#cccce8"/>
<path d="M489.0 146.0L489.2 145.4L498.8 148.8L498.5 149.4Z" fill="#bdbce1"/>
<path d="M489.2 145.5L489.4 144.9L498.9 148.3L498.7 148.9Z" fill="#c3c2e3"/>
<path d="M489.4 145.0L489.6 144.4L499.1 147.8L498.9 148.4Z" fill="#cdcce8"/>
<path d="M489.6 144.5L489.8 143.8L499.3 147.4L499.1 147.9Z" fill="#d0d0ea"/>
<path d="M489.8 144.0L490.0 143.3L499.5 146.9L499.2 147.5Z" fill="#a9a6d6"/>
<path d="M490.0 143.4L490.2 142.8L499.6 146.4L499.4 147.0Z" fill="#c4c4e4"/>
<path d="M490.2 142.9L490.4 142.3L499.8 145.9L499.6 146.5Z" fill="#cdcde9"/>
<path d="M490.4 142.4L490.6 141.8L500.0 145.5L499.8 146.0Z" fill="#bab8df"/>
<path d="M490.6 141.9L490.8 141.3L500.2 145.0L500.0 145.6Z" fill="#c5c4e4"/>
<path d="M490.8 141.4L491.0 140.7L500.4 144.5L500.1 145.1Z" fill="#7d7abd"/>
<path d="M491.0 140.9L491.2 140.2L500.6 144.1L500.3 144.6Z" fill="#b0aeda"/>
<path d="M491.2 140.3L491.4 139.7L500.8 143.6L500.5 144.2Z" fill="#b3b1db"/>
<path d="M491.4 139.8L491.6 139.2L501.0 143.1L500.7 143.7Z" fill="#c0bee2"/>
<path d="M491.6 139.3L491.9 138.7L501.2 142.6L500.9 143.2Z" fill="#aaa8d6"/>
<path d="M491.8 138.8L492.1 138.2L501.4 142.2L501.1 142.8Z" fill="#cdcce8"/>
<path d="M492.0 138.3L492.3 137.7L501.6 141.7L501.3 142.3Z" fill="#c3c2e3"/>
<path d="M492.3 137.8L492.5 137.2L501.8 141.3L501.5 141.8Z" fill="#c2c1e3"/>
<path d="M492.5 137.3L492.7 136.7L502.0 140.8L501.7 141.4Z" fill="#d1d1ea"/>
<path d="M492.7 136.8L493.0 136.1L502.2 140.3L501.9 140.9Z" fill="#bfbee1"/>
<path d="M492.9 136.3L493.2 135.6L502.4 139.9L502.1 140.4Z" fill="#c1c0e3"/>
<path d="M493.2 135.8L493.4 135.1L502.6 139.4L502.3 140.0Z" fill="#b2afda"/>
<path d="M493.4 135.3L493.7 134.6L502.8 138.9L502.5 139.5Z" fill="#bab8df"/>
<path d="M493.6 134.7L493.9 134.1L503.0 138.5L502.8 139.1Z" fill="#d0d0ea"/>
<path d="M493.9 134.2L494.2 133.6L503.2 138.0L503.0 138.6Z" fill="#b2afdb"/>
<path d="M494.1 133.7L494.4 133.1L503.5 137.6L503.2 138.1Z" fill="#aca9d7"/>
<path d="M494.3 133.2L494.6 132.6L503.7 137.1L503.4 137.7Z" fill="#aba8d7"/>
<path d="M494.6 132.7L494.9 132.1L503.9 136.7L503.6 137.2Z" fill="#bbb9df"/>
<path d="M494.8 132.3L495.1 131.6L504.1 136.2L503.9 136.8Z" fill="#bdbce1"/>
<path d="M495.1 131.8L495.4 131.2L504.4 135.8L504.1 136.3Z" fill="#cac9e7"/>
<path d="M495.3 131.3L495.6 130.7L504.6 135.3L504.3 135.9Z" fill="#bebde1"/>
<path d="M495.6 130.8L495.9 130.2L504.8 134.9L504.6 135.4Z" fill="#c9c9e7"/>
<path d="M495.8 130.3L496.2 129.7L505.1 134.4L504.8 135.0Z" fill="#b9b7de"/>
<path d="M496.1 129.8L496.4 129.2L505.3 134.0L505.0 134.5Z" fill="#cacae7"/>
<path d="M496.4 129.3L496.7 128.7L505.6 133.5L505.3 134.1Z" fill="#bebde1"/>
<path d="M496.6 128.8L497.0 128.2L505.8 133.1L505.5 133.6Z" fill="#afacd9"/>
<path d="M496.9 128.3L497.2 127.7L506.1 132.6L505.8 133.2Z" fill="#b9b7de"/>
<path d="M497.2 127.8L497.5 127.2L506.3 132.2L506.0 132.7Z" fill="#b3b1dc"/>
<path d="M497.4 127.4L497.8 126.8L506.5 131.8L506.2 132.3Z" fill="#cecee9"/>
<path d="M497.7 126.9L498.0 126.3L506.8 131.3L506.5 131.9Z" fill="#cecee9"/>
<path d="M498.0 126.4L498.3 125.8L507.1 130.9L506.7 131.4Z" fill="#b7b5de"/>
<path d="M498.3 125.9L498.6 125.3L507.3 130.4L507.0 131.0Z" fill="#bab8df"/>
<path d="M498.5 125.4L498.9 124.8L507.6 130.0L507.3 130.5Z" fill="#aaa7d6"/>
<path d="M498.8 124.9L499.2 124.4L507.8 129.6L507.5 130.1Z" fill="#cac9e7"/>
<path d="M499.1 124.5L499.5 123.9L508.1 129.1L507.8 129.7Z" fill="#c9c8e6"/>
<path d="M463.1 168.5L464.4 168.2L462.5 167.4L464.2 167.2L462.2 166.4L464.1 166.2L461.2 165.3L461.6 164.8L461.6 164.3L462.0 163.9L464.4 163.8L461.9 162.9L464.7 162.8L460.7 161.7L462.3 161.4L463.0 161.0L460.9 160.2L462.6 160.0L461.7 159.3L461.2 158.7L463.0 158.5L464.0 158.2L461.5 157.2L462.3 156.9L463.2 156.6L464.5 156.3L461.9 155.3L463.7 155.2L462.7 154.4L462.2 153.8L462.3 153.3L462.4 152.8L463.5 152.6L464.3 152.2L465.9 152.1L464.9 151.4L464.2 150.7L465.0 150.4L466.2 150.2L463.4 148.9L467.3 149.5L464.6 148.2L468.3 148.7L466.4 147.7L467.3 147.4L468.5 147.3L468.3 146.7L468.4 146.2L468.7 145.8L469.9 145.7L470.0 145.2L471.0 145.0L469.7 144.1L470.8 143.9L471.4 143.6L471.4 143.1L472.6 143.0L471.9 142.3L472.3 141.9L471.8 141.2L473.5 141.3L473.0 140.6L473.8 140.4L473.4 139.7L473.8 139.4L474.5 139.1L474.4 138.6L475.1 138.4L475.1 137.8L475.3 137.4L475.3 136.9L475.7 136.6L476.1 136.2L475.6 135.5L476.3 135.3L476.1 134.7L476.1 134.2L476.9 134.0L477.3 133.7L477.1 133.1L477.6 132.8L477.5 132.2L478.1 132.0L477.9 131.4L477.9 130.8L478.6 130.6L479.0 130.3L478.9 129.7L478.9 129.2L479.0 128.7L479.8 128.6L479.3 127.8L480.0 127.6L480.3 127.3L480.6 126.9L480.3 126.2L480.9 126.0L480.7 125.3L481.3 125.2L481.6 124.8L481.1 124.0L481.4 123.6L481.8 123.2L482.2 122.9L482.7 122.7L482.2 121.9L483.1 121.8L483.1 121.3L483.5 121.0L482.7 120.0L483.3 119.8L484.1 119.7L484.0 119.1L484.3 118.7L484.4 118.2L485.1 118.1L485.0 117.5L485.6 117.3L485.9 116.9L485.2 116.0L485.9 115.8 L486.82 116.38 A131.5 131.5 0 0 0 468.7 169.16 Z" fill="#eab0ae"/>
<path d="M463.1 168.5L464.4 168.2L462.5 167.4L464.2 167.2L462.2 166.4L464.1 166.2L461.2 165.3L461.6 164.8L461.6 164.3L462.0 163.9L464.4 163.8L461.9 162.9L464.7 162.8L460.7 161.7L462.3 161.4L463.0 161.0L460.9 160.2L462.6 160.0L461.7 159.3L461.2 158.7L463.0 158.5L464.0 158.2L461.5 157.2L462.3 156.9L463.2 156.6L464.5 156.3L461.9 155.3L463.7 155.2L462.7 154.4L462.2 153.8L462.3 153.3L462.4 152.8L463.5 152.6L464.3 152.2L465.9 152.1L464.9 151.4L464.2 150.7L465.0 150.4L466.2 150.2L463.4 148.9L467.3 149.5L464.6 148.2L468.3 148.7L466.4 147.7L467.3 147.4L468.5 147.3L468.3 146.7L468.4 146.2L468.7 145.8L469.9 145.7L470.0 145.2L471.0 145.0L469.7 144.1L470.8 143.9L471.4 143.6L471.4 143.1L472.6 143.0L471.9 142.3L472.3 141.9L471.8 141.2L473.5 141.3L473.0 140.6L473.8 140.4L473.4 139.7L473.8 139.4L474.5 139.1L474.4 138.6L475.1 138.4L475.1 137.8L475.3 137.4L475.3 136.9L475.7 136.6L476.1 136.2L475.6 135.5L476.3 135.3L476.1 134.7L476.1 134.2L476.9 134.0L477.3 133.7L477.1 133.1L477.6 132.8L477.5 132.2L478.1 132.0L477.9 131.4L477.9 130.8L478.6 130.6L479.0 130.3L478.9 129.7L478.9 129.2L479.0 128.7L479.8 128.6L479.3 127.8L480.0 127.6L480.3 127.3L480.6 126.9L480.3 126.2L480.9 126.0L480.7 125.3L481.3 125.2L481.6 124.8L481.1 124.0L481.4 123.6L481.8 123.2L482.2 122.9L482.7 122.7L482.2 121.9L483.1 121.8L483.1 121.3L483.5 121.0L482.7 120.0L483.3 119.8L484.1 119.7L484.0 119.1L484.3 118.7L484.4 118.2L485.1 118.1L485.0 117.5L485.6 117.3L485.9 116.9L485.2 116.0L485.9 115.8" fill="none" stroke="#d9353a" stroke-width="0.9"/>
<path d="M476.9 170.1L475.7 169.5L475.6 169.1L477.0 168.8L476.9 168.3L477.0 167.9L476.7 167.4L477.1 167.0L477.0 166.6L476.9 166.1L476.0 165.5L475.9 165.1L477.1 164.8L476.6 164.3L477.0 163.9L476.3 163.3L475.0 162.7L476.8 162.5L477.2 162.1L477.0 161.7L477.0 161.2L477.0 160.7L476.2 160.1L476.8 159.8L476.4 159.3L476.3 158.8L477.5 158.6L476.7 158.0L476.7 157.5L477.2 157.2L476.7 156.6L477.9 156.4L478.1 156.0L478.6 155.7L478.2 155.1L478.4 154.7L478.7 154.3L479.4 154.0L478.1 153.2L478.8 153.0L479.4 152.7L478.7 152.0L479.9 151.9L479.9 151.4L479.7 150.9L478.0 150.0L479.4 149.9L480.4 149.8L480.7 149.4L480.8 148.9L480.2 148.3L481.3 148.2L481.7 147.8L480.9 147.1L481.2 146.7L482.4 146.7L481.9 146.1L482.3 145.7L482.3 145.3L483.1 145.1L483.6 144.8L483.0 144.1L483.9 144.0L483.0 143.2L483.3 142.8L483.4 142.4L483.4 141.9L484.4 141.8L483.8 141.1L485.0 141.1L485.4 140.8L485.3 140.3L484.6 139.5L485.8 139.6L484.6 138.6L485.7 138.6L486.0 138.2L486.3 137.9L486.2 137.3L485.8 136.7L485.9 136.3L487.2 136.4L487.0 135.8L486.5 135.1L486.7 134.7L487.3 134.5L487.1 133.9L487.4 133.6L487.6 133.2L488.4 133.1L488.6 132.7L487.9 131.9L488.1 131.5L487.6 130.8L489.7 131.3L489.6 130.8L489.8 130.4L490.0 130.0L488.9 129.0L489.7 128.9L490.4 128.8L489.5 127.8L489.7 127.4L490.7 127.4L490.7 126.9L491.8 127.0L490.4 125.8L491.9 126.1L491.4 125.3L492.5 125.4L491.7 124.4L493.0 124.7L492.0 123.6L492.4 123.3L492.7 123.0L492.9 122.6L494.1 122.8L493.7 122.1L494.2 121.9L494.6 121.6L493.7 120.5 L495.37 121.56 A121.5 121.5 0 0 0 478.63 170.32 Z" fill="#d6edb4"/>
<path d="M476.9 170.1L475.7 169.5L475.6 169.1L477.0 168.8L476.9 168.3L477.0 167.9L476.7 167.4L477.1 167.0L477.0 166.6L476.9 166.1L476.0 165.5L475.9 165.1L477.1 164.8L476.6 164.3L477.0 163.9L476.3 163.3L475.0 162.7L476.8 162.5L477.2 162.1L477.0 161.7L477.0 161.2L477.0 160.7L476.2 160.1L476.8 159.8L476.4 159.3L476.3 158.8L477.5 158.6L476.7 158.0L476.7 157.5L477.2 157.2L476.7 156.6L477.9 156.4L478.1 156.0L478.6 155.7L478.2 155.1L478.4 154.7L478.7 154.3L479.4 154.0L478.1 153.2L478.8 153.0L479.4 152.7L478.7 152.0L479.9 151.9L479.9 151.4L479.7 150.9L478.0 150.0L479.4 149.9L480.4 149.8L480.7 149.4L480.8 148.9L480.2 148.3L481.3 148.2L481.7 147.8L480.9 147.1L481.2 146.7L482.4 146.7L481.9 146.1L482.3 145.7L482.3 145.3L483.1 145.1L483.6 144.8L483.0 144.1L483.9 144.0L483.0 143.2L483.3 142.8L483.4 142.4L483.4 141.9L484.4 141.8L483.8 141.1L485.0 141.1L485.4 140.8L485.3 140.3L484.6 139.5L485.8 139.6L484.6 138.6L485.7 138.6L486.0 138.2L486.3 137.9L486.2 137.3L485.8 136.7L485.9 136.3L487.2 136.4L487.0 135.8L486.5 135.1L486.7 134.7L487.3 134.5L487.1 133.9L487.4 133.6L487.6 133.2L488.4 133.1L488.6 132.7L487.9 131.9L488.1 131.5L487.6 130.8L489.7 131.3L489.6 130.8L489.8 130.4L490.0 130.0L488.9 129.0L489.7 128.9L490.4 128.8L489.5 127.8L489.7 127.4L490.7 127.4L490.7 126.9L491.8 127.0L490.4 125.8L491.9 126.1L491.4 125.3L492.5 125.4L491.7 124.4L493.0 124.7L492.0 123.6L492.4 123.3L492.7 123.0L492.9 122.6L494.1 122.8L493.7 122.1L494.2 121.9L494.6 121.6L493.7 120.5" fill="none" stroke="#3ca62c" stroke-width="0.9"/>
<path d="M432.94 164.96A167.5 167.5 0 0 1 456.03 97.73L460.73 100.58A162 162 0 0 0 438.41 165.6Z" fill="#6b6dab" stroke="#1e1e30" stroke-width="1"/>
<line x1="432.94" y1="164.96" x2="430.46" y2="164.67" stroke="#333" stroke-width="0.6"/>
<text transform="translate(427.48,164.32) rotate(276.7)" font-size="5.6" text-anchor="middle" dominant-baseline="central" font-family="Liberation Sans, sans-serif" fill="#555">0</text>
<line x1="437.45" y1="141.37" x2="435.03" y2="140.73" stroke="#333" stroke-width="0.6"/>
<text transform="translate(432.13,139.95) rotate(284.92)" font-size="5.6" text-anchor="middle" dominant-baseline="central" font-family="Liberation Sans, sans-serif" fill="#555">10</text>
<line x1="445.28" y1="118.67" x2="442.98" y2="117.69" stroke="#333" stroke-width="0.6"/>
<text transform="translate(440.22,116.51) rotate(293.14)" font-size="5.6" text-anchor="middle" dominant-baseline="central" font-family="Liberation Sans, sans-serif" fill="#555">20</text>
<text transform="translate(429.06,126.05) rotate(288.95)" font-size="7.2" text-anchor="middle" dominant-baseline="central" font-family="Liberation Sans, sans-serif" fill="#4a4a4a">Chr11</text>
<path d="M469.2 95.7L469.7 95.0L480.6 102.5L480.1 103.2Z" fill="#74b6d9"/>
<path d="M469.6 95.1L470.1 94.4L481.0 101.9L480.5 102.6Z" fill="#9ccee1"/>
<path d="M470.1 94.5L470.6 93.7L481.4 101.3L480.9 102.0Z" fill="#7bbbdb"/>
<path d="M470.5 93.9L471.0 93.1L481.8 100.8L481.3 101.5Z" fill="#4593cd"/>
<path d="M470.9 93.2L471.5 92.5L482.2 100.2L481.7 100.9Z" fill="#8dc5de"/>
<path d="M471.4 92.6L471.9 91.9L482.6 99.6L482.1 100.3Z" fill="#4391cd"/>
<path d="M471.8 92.0L472.4 91.3L483.0 99.1L482.5 99.8Z" fill="#7fbddc"/>
<path d="M472.3 91.4L472.8 90.7L483.4 98.5L482.9 99.2Z" fill="#95cae0"/>
<path d="M472.7 90.8L473.3 90.0L483.8 98.0L483.3 98.6Z" fill="#7ebddb"/>
<path d="M473.2 90.2L473.7 89.4L484.2 97.4L483.7 98.1Z" fill="#79b9da"/>
<path d="M473.6 89.6L474.2 88.8L484.7 96.8L484.2 97.5Z" fill="#99cce1"/>
<path d="M474.1 89.0L474.6 88.2L485.1 96.3L484.6 97.0Z" fill="#9dcfe2"/>
<path d="M474.5 88.4L475.1 87.6L485.5 95.7L485.0 96.4Z" fill="#90c7df"/>
<path d="M475.0 87.8L475.6 87.0L486.0 95.2L485.4 95.9Z" fill="#7fbddb"/>
<path d="M475.5 87.2L476.1 86.4L486.4 94.7L485.9 95.3Z" fill="#7bbbdb"/>
<path d="M476.0 86.6L476.5 85.8L486.8 94.1L486.3 94.8Z" fill="#91c8df"/>
<path d="M476.4 86.0L477.0 85.2L487.3 93.6L486.7 94.2Z" fill="#9fd0e2"/>
<path d="M476.9 85.4L477.5 84.7L487.7 93.0L487.2 93.7Z" fill="#73b5d9"/>
<path d="M477.4 84.8L478.0 84.1L488.1 92.5L487.6 93.1Z" fill="#9ccee2"/>
<path d="M477.9 84.2L478.5 83.5L488.6 92.0L488.0 92.6Z" fill="#90c7df"/>
<path d="M478.4 83.6L478.9 82.9L489.0 91.4L488.5 92.1Z" fill="#86c1dd"/>
<path d="M478.8 83.0L479.4 82.3L489.5 90.9L488.9 91.5Z" fill="#76b8da"/>
<path d="M479.3 82.4L479.9 81.7L489.9 90.4L489.4 91.0Z" fill="#7cbcdb"/>
<path d="M479.8 81.9L480.4 81.2L490.4 89.8L489.8 90.5Z" fill="#6db1d7"/>
<path d="M480.3 81.3L480.9 80.6L490.9 89.3L490.3 89.9Z" fill="#86c1dd"/>
<path d="M480.8 80.7L481.4 80.0L491.3 88.8L490.8 89.4Z" fill="#70b3d8"/>
<path d="M481.3 80.2L481.9 79.5L491.8 88.3L491.2 88.9Z" fill="#7abadb"/>
<path d="M481.8 79.6L482.5 78.9L492.2 87.7L491.7 88.4Z" fill="#e7eff8"/>
<path d="M482.3 79.0L483.0 78.3L492.7 87.2L492.1 87.9Z" fill="#ebf1f9"/>
<path d="M482.9 78.5L483.5 77.8L493.2 86.7L492.6 87.3Z" fill="#e8f0f8"/>
<path d="M483.4 77.9L484.0 77.2L493.7 86.2L493.1 86.8Z" fill="#e8f0f8"/>
<path d="M483.9 77.3L484.5 76.7L494.1 85.7L493.6 86.3Z" fill="#edf2fa"/>
<path d="M484.4 76.8L485.0 76.1L494.6 85.2L494.0 85.8Z" fill="#e8f0f8"/>
<path d="M484.9 76.2L485.6 75.6L495.1 84.7L494.5 85.3Z" fill="#eaf1f9"/>
<path d="M485.4 75.7L486.1 75.0L495.6 84.2L495.0 84.8Z" fill="#e6eff7"/>
<path d="M486.0 75.1L486.6 74.5L496.1 83.7L495.5 84.3Z" fill="#e6eff7"/>
<path d="M486.5 74.6L487.1 73.9L496.5 83.2L496.0 83.8Z" fill="#e7eff8"/>
<path d="M487.0 74.0L487.7 73.4L497.0 82.7L496.4 83.3Z" fill="#ebf1f9"/>
<path d="M487.6 73.5L488.2 72.8L497.5 82.2L496.9 82.8Z" fill="#ebf1f9"/>
<path d="M488.1 73.0L488.8 72.3L498.0 81.7L497.4 82.3Z" fill="#ebf1f9"/>
<path d="M488.6 72.4L489.3 71.8L498.5 81.2L497.9 81.8Z" fill="#ebf1f9"/>
<path d="M489.2 71.9L489.9 71.2L499.0 80.7L498.4 81.3Z" fill="#e7eff8"/>
<path d="M489.7 71.4L490.4 70.7L499.5 80.3L498.9 80.8Z" fill="#e5eef7"/>
<path d="M490.3 70.8L491.0 70.2L500.0 79.8L499.4 80.4Z" fill="#ebf1f9"/>
<path d="M490.8 70.3L491.5 69.7L500.5 79.3L499.9 79.9Z" fill="#e6eff7"/>
<path d="M491.4 69.8L492.1 69.1L501.0 78.8L500.4 79.4Z" fill="#e7eff8"/>
<path d="M491.9 69.3L492.6 68.6L501.6 78.3L500.9 78.9Z" fill="#e5eef7"/>
<path d="M492.5 68.7L493.2 68.1L502.1 77.9L501.4 78.4Z" fill="#d3e6f1"/>
<path d="M493.1 68.2L493.7 67.6L502.6 77.4L502.0 78.0Z" fill="#e9f0f8"/>
<path d="M493.6 67.7L494.3 67.1L503.1 76.9L502.5 77.5Z" fill="#ebf1f9"/>
<path d="M494.2 67.2L494.9 66.6L503.6 76.5L503.0 77.0Z" fill="#eaf0f9"/>
<path d="M494.8 66.7L495.4 66.1L504.2 76.0L503.5 76.6Z" fill="#ecf1f9"/>
<path d="M495.3 66.2L496.0 65.6L504.7 75.6L504.0 76.1Z" fill="#c7e1ed"/>
<path d="M495.9 65.7L496.6 65.1L505.2 75.1L504.6 75.7Z" fill="#e6eff7"/>
<path d="M496.5 65.2L497.2 64.6L505.7 74.6L505.1 75.2Z" fill="#e9f0f9"/>
<path d="M497.0 64.7L497.8 64.1L506.3 74.2L505.6 74.7Z" fill="#e7eff8"/>
<path d="M497.6 64.2L498.3 63.6L506.8 73.7L506.1 74.3Z" fill="#e8f0f8"/>
<path d="M498.2 63.7L498.9 63.1L507.3 73.3L506.7 73.8Z" fill="#e9f0f9"/>
<path d="M498.8 63.2L499.5 62.6L507.9 72.9L507.2 73.4Z" fill="#e5eef7"/>
<path d="M499.4 62.8L500.1 62.2L508.4 72.4L507.8 73.0Z" fill="#eaf1f9"/>
<path d="M500.0 62.3L500.7 61.7L509.0 72.0L508.3 72.5Z" fill="#ebf1f9"/>
<path d="M500.6 61.8L501.3 61.2L509.5 71.5L508.8 72.1Z" fill="#eaf0f9"/>
<path d="M501.2 61.3L501.9 60.7L510.0 71.1L509.4 71.6Z" fill="#e8f0f8"/>
<path d="M501.7 60.8L502.5 60.3L510.6 70.7L509.9 71.2Z" fill="#b3d9e8"/>
<path d="M502.3 60.4L503.1 59.8L511.1 70.3L510.5 70.8Z" fill="#91c8df"/>
<path d="M502.9 59.9L503.7 59.3L511.7 69.8L511.0 70.4Z" fill="#97cbe0"/>
<path d="M503.6 59.4L504.3 58.9L512.3 69.4L511.6 69.9Z" fill="#aed7e6"/>
<path d="M504.2 59.0L504.9 58.4L512.8 69.0L512.1 69.5Z" fill="#a1d1e3"/>
<path d="M504.8 58.5L505.5 58.0L513.4 68.6L512.7 69.1Z" fill="#99cce1"/>
<path d="M505.4 58.1L506.1 57.5L513.9 68.2L513.2 68.7Z" fill="#b2d8e7"/>
<path d="M506.0 57.6L506.7 57.1L514.5 67.8L513.8 68.3Z" fill="#90c7df"/>
<path d="M506.6 57.2L507.3 56.6L515.1 67.3L514.4 67.8Z" fill="#90c7df"/>
<path d="M507.2 56.7L508.0 56.2L515.6 66.9L514.9 67.4Z" fill="#bcddea"/>
<path d="M507.8 56.3L508.6 55.7L516.2 66.5L515.5 67.0Z" fill="#acd6e6"/>
<path d="M508.5 55.8L509.2 55.3L516.8 66.1L516.1 66.6Z" fill="#a3d2e3"/>
<path d="M509.1 55.4L509.8 54.9L517.3 65.7L516.6 66.2Z" fill="#b5dae8"/>
<path d="M509.7 55.0L510.5 54.4L517.9 65.3L517.2 65.8Z" fill="#94c9e0"/>
<path d="M510.3 54.5L511.1 54.0L518.5 65.0L517.8 65.4Z" fill="#73b5d9"/>
<path d="M511.0 54.1L511.7 53.6L519.1 64.6L518.4 65.0Z" fill="#b2d8e7"/>
<path d="M511.6 53.7L512.4 53.2L519.6 64.2L518.9 64.6Z" fill="#92c8df"/>
<path d="M512.2 53.3L513.0 52.8L520.2 63.8L519.5 64.3Z" fill="#bdddeb"/>
<path d="M512.9 52.8L513.6 52.3L520.8 63.4L520.1 63.9Z" fill="#9ccee1"/>
<path d="M513.5 52.4L514.3 51.9L521.4 63.0L520.7 63.5Z" fill="#92c8df"/>
<path d="M514.1 52.0L514.9 51.5L522.0 62.7L521.3 63.1Z" fill="#91c8df"/>
<path d="M514.8 51.6L515.6 51.1L522.6 62.3L521.9 62.7Z" fill="#a2d2e3"/>
<path d="M515.4 51.2L516.2 50.7L523.2 61.9L522.4 62.4Z" fill="#b7dae9"/>
<path d="M516.1 50.8L516.8 50.3L523.8 61.6L523.0 62.0Z" fill="#acd6e6"/>
<path d="M516.7 50.4L517.5 49.9L524.3 61.2L523.6 61.6Z" fill="#87c2dd"/>
<path d="M517.4 50.0L518.1 49.5L524.9 60.8L524.2 61.3Z" fill="#97cbe0"/>
<path d="M518.0 49.6L518.8 49.1L525.5 60.5L524.8 60.9Z" fill="#bdddea"/>
<path d="M502.8 118.7L503.2 118.1L511.5 123.9L511.2 124.4Z" fill="#d1d1ea"/>
<path d="M503.1 118.2L503.5 117.7L511.8 123.4L511.4 123.9Z" fill="#cdcce8"/>
<path d="M503.5 117.8L503.8 117.2L512.1 123.0L511.7 123.5Z" fill="#c7c7e6"/>
<path d="M503.8 117.3L504.2 116.7L512.4 122.6L512.0 123.1Z" fill="#c9c9e7"/>
<path d="M504.1 116.8L504.5 116.3L512.7 122.2L512.3 122.7Z" fill="#d2d2eb"/>
<path d="M504.4 116.4L504.8 115.8L513.0 121.8L512.6 122.3Z" fill="#cbcbe8"/>
<path d="M504.8 115.9L505.2 115.4L513.3 121.3L512.9 121.8Z" fill="#c6c5e5"/>
<path d="M505.1 115.5L505.5 114.9L513.6 120.9L513.2 121.4Z" fill="#c8c7e6"/>
<path d="M505.4 115.0L505.8 114.5L513.9 120.5L513.5 121.0Z" fill="#c4c3e4"/>
<path d="M505.8 114.6L506.2 114.0L514.2 120.1L513.9 120.6Z" fill="#cecee9"/>
<path d="M506.1 114.1L506.5 113.6L514.5 119.7L514.2 120.2Z" fill="#c0bfe2"/>
<path d="M506.4 113.7L506.9 113.1L514.9 119.3L514.5 119.8Z" fill="#cecee9"/>
<path d="M506.8 113.2L507.2 112.7L515.2 118.9L514.8 119.4Z" fill="#c5c4e4"/>
<path d="M507.1 112.8L507.6 112.2L515.5 118.5L515.1 119.0Z" fill="#bdbce1"/>
<path d="M507.5 112.3L507.9 111.8L515.8 118.1L515.4 118.6Z" fill="#d4d4ec"/>
<path d="M507.8 111.9L508.3 111.3L516.1 117.7L515.7 118.2Z" fill="#bab8df"/>
<path d="M508.2 111.4L508.6 110.9L516.5 117.3L516.1 117.7Z" fill="#d0d0ea"/>
<path d="M508.5 111.0L509.0 110.5L516.8 116.9L516.4 117.3Z" fill="#cbcbe8"/>
<path d="M508.9 110.6L509.3 110.0L517.1 116.5L516.7 116.9Z" fill="#c8c7e6"/>
<path d="M509.2 110.1L509.7 109.6L517.4 116.1L517.0 116.5Z" fill="#d3d3eb"/>
<path d="M509.6 109.7L510.0 109.2L517.8 115.7L517.4 116.2Z" fill="#cfcfea"/>
<path d="M510.0 109.3L510.4 108.7L518.1 115.3L517.7 115.8Z" fill="#c8c7e6"/>
<path d="M510.3 108.8L510.8 108.3L518.4 114.9L518.0 115.4Z" fill="#bbb9df"/>
<path d="M510.7 108.4L511.1 107.9L518.8 114.5L518.4 115.0Z" fill="#b4b2dc"/>
<path d="M511.1 108.0L511.5 107.4L519.1 114.1L518.7 114.6Z" fill="#b9b8df"/>
<path d="M511.4 107.5L511.9 107.0L519.5 113.7L519.0 114.2Z" fill="#cacae7"/>
<path d="M511.8 107.1L512.3 106.6L519.8 113.3L519.4 113.8Z" fill="#c3c2e4"/>
<path d="M512.2 106.7L512.6 106.2L520.1 113.0L519.7 113.4Z" fill="#d4d4ec"/>
<path d="M512.6 106.3L513.0 105.8L520.5 112.6L520.1 113.0Z" fill="#c9c8e6"/>
<path d="M512.9 105.9L513.4 105.4L520.8 112.2L520.4 112.7Z" fill="#cbcbe8"/>
<path d="M513.3 105.4L513.8 104.9L521.2 111.8L520.8 112.3Z" fill="#c3c2e4"/>
<path d="M513.7 105.0L514.2 104.5L521.5 111.4L521.1 111.9Z" fill="#c1c0e2"/>
<path d="M514.1 104.6L514.6 104.1L521.9 111.1L521.5 111.5Z" fill="#d3d3eb"/>
<path d="M514.5 104.2L515.0 103.7L522.2 110.7L521.8 111.1Z" fill="#d6d6ed"/>
<path d="M514.9 103.8L515.3 103.3L522.6 110.3L522.2 110.8Z" fill="#d2d2eb"/>
<path d="M515.3 103.4L515.7 102.9L523.0 110.0L522.5 110.4Z" fill="#c4c3e4"/>
<path d="M515.7 103.0L516.1 102.5L523.3 109.6L522.9 110.0Z" fill="#c8c7e6"/>
<path d="M516.0 102.6L516.5 102.1L523.7 109.2L523.2 109.7Z" fill="#c2c1e3"/>
<path d="M516.4 102.2L516.9 101.7L524.0 108.9L523.6 109.3Z" fill="#c1bfe2"/>
<path d="M516.8 101.8L517.3 101.3L524.4 108.5L524.0 108.9Z" fill="#cccce8"/>
<path d="M517.2 101.4L517.7 100.9L524.8 108.1L524.3 108.6Z" fill="#bdbbe0"/>
<path d="M517.6 101.0L518.1 100.5L525.2 107.8L524.7 108.2Z" fill="#bdbce1"/>
<path d="M518.0 100.6L518.5 100.1L525.5 107.4L525.1 107.9Z" fill="#d4d4ec"/>
<path d="M518.5 100.2L518.9 99.7L525.9 107.1L525.4 107.5Z" fill="#d5d5ec"/>
<path d="M518.9 99.8L519.4 99.3L526.3 106.7L525.8 107.1Z" fill="#8783c3"/>
<path d="M519.3 99.4L519.8 99.0L526.6 106.4L526.2 106.8Z" fill="#cccbe8"/>
<path d="M519.7 99.0L520.2 98.6L527.0 106.0L526.6 106.4Z" fill="#bfbde1"/>
<path d="M520.1 98.7L520.6 98.2L527.4 105.7L526.9 106.1Z" fill="#d6d6ed"/>
<path d="M520.5 98.3L521.0 97.8L527.8 105.3L527.3 105.7Z" fill="#b7b5dd"/>
<path d="M520.9 97.9L521.4 97.4L528.2 105.0L527.7 105.4Z" fill="#cecee9"/>
<path d="M521.3 97.5L521.9 97.1L528.6 104.6L528.1 105.0Z" fill="#b8b6de"/>
<path d="M521.8 97.1L522.3 96.7L528.9 104.3L528.5 104.7Z" fill="#c1c0e2"/>
<path d="M522.2 96.8L522.7 96.3L529.3 103.9L528.9 104.4Z" fill="#aaa8d6"/>
<path d="M522.6 96.4L523.1 95.9L529.7 103.6L529.2 104.0Z" fill="#cacae7"/>
<path d="M523.0 96.0L523.6 95.6L530.1 103.3L529.6 103.7Z" fill="#b5b3dc"/>
<path d="M523.5 95.7L524.0 95.2L530.5 102.9L530.0 103.3Z" fill="#c9c8e6"/>
<path d="M523.9 95.3L524.4 94.9L530.9 102.6L530.4 103.0Z" fill="#918ec8"/>
<path d="M524.3 94.9L524.9 94.5L531.3 102.3L530.8 102.7Z" fill="#b6b4dd"/>
<path d="M524.8 94.6L525.3 94.1L531.7 102.0L531.2 102.3Z" fill="#bbb9df"/>
<path d="M525.2 94.2L525.7 93.8L532.1 101.6L531.6 102.0Z" fill="#cbcae7"/>
<path d="M525.6 93.9L526.2 93.4L532.5 101.3L532.0 101.7Z" fill="#bab9df"/>
<path d="M526.1 93.5L526.6 93.1L532.9 101.0L532.4 101.4Z" fill="#c2c1e3"/>
<path d="M526.5 93.2L527.1 92.7L533.3 100.7L532.8 101.0Z" fill="#cdcce8"/>
<path d="M527.0 92.8L527.5 92.4L533.7 100.3L533.2 100.7Z" fill="#c7c6e5"/>
<path d="M527.4 92.5L527.9 92.0L534.1 100.0L533.6 100.4Z" fill="#cdcde9"/>
<path d="M527.8 92.1L528.4 91.7L534.5 99.7L534.0 100.1Z" fill="#bab8df"/>
<path d="M528.3 91.8L528.8 91.3L534.9 99.4L534.4 99.8Z" fill="#cccbe8"/>
<path d="M528.7 91.4L529.3 91.0L535.3 99.1L534.8 99.5Z" fill="#c6c5e5"/>
<path d="M529.2 91.1L529.7 90.7L535.8 98.8L535.3 99.2Z" fill="#b8b6de"/>
<path d="M529.6 90.7L530.2 90.3L536.2 98.5L535.7 98.9Z" fill="#d0d0ea"/>
<path d="M530.1 90.4L530.7 90.0L536.6 98.2L536.1 98.5Z" fill="#c6c5e5"/>
<path d="M530.6 90.1L531.1 89.7L537.0 97.9L536.5 98.2Z" fill="#c3c2e3"/>
<path d="M531.0 89.7L531.6 89.3L537.4 97.6L536.9 97.9Z" fill="#b5b3dd"/>
<path d="M531.5 89.4L532.0 89.0L537.8 97.3L537.3 97.6Z" fill="#c5c4e5"/>
<path d="M531.9 89.1L532.5 88.7L538.3 97.0L537.8 97.3Z" fill="#bcbbe0"/>
<path d="M532.4 88.8L533.0 88.4L538.7 96.7L538.2 97.0Z" fill="#c9c8e6"/>
<path d="M532.9 88.4L533.4 88.1L539.1 96.4L538.6 96.7Z" fill="#c1c0e3"/>
<path d="M533.3 88.1L533.9 87.7L539.5 96.1L539.0 96.5Z" fill="#bcbae0"/>
<path d="M533.8 87.8L534.4 87.4L540.0 95.8L539.4 96.2Z" fill="#b2b0db"/>
<path d="M534.3 87.5L534.8 87.1L540.4 95.5L539.9 95.9Z" fill="#c8c8e6"/>
<path d="M534.7 87.2L535.3 86.8L540.8 95.2L540.3 95.6Z" fill="#b5b3dc"/>
<path d="M535.2 86.9L535.8 86.5L541.3 95.0L540.7 95.3Z" fill="#b7b5dd"/>
<path d="M535.7 86.6L536.2 86.2L541.7 94.7L541.2 95.0Z" fill="#c6c5e5"/>
<path d="M536.1 86.3L536.7 85.9L542.1 94.4L541.6 94.7Z" fill="#b9b7df"/>
<path d="M536.6 85.9L537.2 85.6L542.6 94.1L542.0 94.5Z" fill="#b2b0db"/>
<path d="M537.1 85.6L537.7 85.3L543.0 93.9L542.5 94.2Z" fill="#c4c4e4"/>
<path d="M537.6 85.3L538.2 85.0L543.4 93.6L542.9 93.9Z" fill="#c4c3e4"/>
<path d="M538.0 85.1L538.6 84.7L543.9 93.3L543.3 93.7Z" fill="#c7c7e6"/>
<path d="M538.5 84.8L539.1 84.4L544.3 93.1L543.8 93.4Z" fill="#c9c9e7"/>
<path d="M539.0 84.5L539.6 84.1L544.8 92.8L544.2 93.1Z" fill="#b5b3dd"/>
<path d="M489.8 109.8L489.1 108.7L489.4 108.4L490.0 108.2L490.3 107.8L490.8 107.6L491.2 107.3L491.0 106.5L491.5 106.3L491.6 105.8L492.0 105.5L492.1 105.0L492.2 104.4L492.4 104.0L492.9 103.7L493.4 103.5L492.7 102.4L493.9 102.7L492.8 101.2L494.1 101.6L494.1 101.0L493.4 99.8L494.7 100.2L494.8 99.7L494.8 99.0L493.6 97.4L495.0 97.9L495.6 97.8L495.3 96.9L496.5 97.3L496.1 96.3L495.5 95.2L495.7 94.7L496.5 94.7L496.8 94.2L496.4 93.3L496.8 92.9L495.8 91.3L497.5 92.2L496.7 90.9L496.8 90.3L497.3 90.0L498.0 90.0L498.1 89.4L498.5 89.0L500.4 90.2L500.1 89.2L501.0 89.4L500.7 88.4L499.6 86.7L501.8 88.1L501.8 87.4L500.7 85.6L502.0 86.2L502.7 86.2L502.8 85.6L503.5 85.5L503.0 84.4L504.9 85.6L504.7 84.7L505.8 85.1L506.2 84.8L505.5 83.3L505.6 82.7L505.4 81.7L506.6 82.3L508.0 83.2L508.6 83.0L508.4 82.1L508.4 81.4L507.9 80.0L509.7 81.3L511.0 82.1L511.4 81.8L511.8 81.5L511.7 80.7L511.3 79.4L513.0 80.7L513.6 80.7L513.9 80.2L513.8 79.4L514.8 79.7L515.0 79.2L515.3 78.9L515.9 78.8L516.3 78.5L517.5 79.2L517.7 78.8L518.1 78.4L518.2 77.8L518.9 77.8L519.6 78.0L520.0 77.8L520.5 77.6L520.5 76.8L521.1 76.8L521.5 76.6L521.8 76.2L521.9 75.4L522.8 75.9L523.3 75.8L523.7 75.5L524.2 75.4L524.6 75.1L524.8 74.6L525.5 74.7L525.7 74.1L526.3 74.3L526.4 73.5L527.3 73.9L527.4 73.3L527.8 72.9L528.3 72.8L528.4 72.1L529.0 72.1L529.7 72.4L529.8 71.6L530.0 71.0L530.8 71.4L531.3 71.3L531.3 70.4 L531.97 71.55 A131.5 131.5 0 0 0 490.67 110.4 Z" fill="#eab0ae"/>
<path d="M489.8 109.8L489.1 108.7L489.4 108.4L490.0 108.2L490.3 107.8L490.8 107.6L491.2 107.3L491.0 106.5L491.5 106.3L491.6 105.8L492.0 105.5L492.1 105.0L492.2 104.4L492.4 104.0L492.9 103.7L493.4 103.5L492.7 102.4L493.9 102.7L492.8 101.2L494.1 101.6L494.1 101.0L493.4 99.8L494.7 100.2L494.8 99.7L494.8 99.0L493.6 97.4L495.0 97.9L495.6 97.8L495.3 96.9L496.5 97.3L496.1 96.3L495.5 95.2L495.7 94.7L496.5 94.7L496.8 94.2L496.4 93.3L496.8 92.9L495.8 91.3L497.5 92.2L496.7 90.9L496.8 90.3L497.3 90.0L498.0 90.0L498.1 89.4L498.5 89.0L500.4 90.2L500.1 89.2L501.0 89.4L500.7 88.4L499.6 86.7L501.8 88.1L501.8 87.4L500.7 85.6L502.0 86.2L502.7 86.2L502.8 85.6L503.5 85.5L503.0 84.4L504.9 85.6L504.7 84.7L505.8 85.1L506.2 84.8L505.5 83.3L505.6 82.7L505.4 81.7L506.6 82.3L508.0 83.2L508.6 83.0L508.4 82.1L508.4 81.4L507.9 80.0L509.7 81.3L511.0 82.1L511.4 81.8L511.8 81.5L511.7 80.7L511.3 79.4L513.0 80.7L513.6 80.7L513.9 80.2L513.8 79.4L514.8 79.7L515.0 79.2L515.3 78.9L515.9 78.8L516.3 78.5L517.5 79.2L517.7 78.8L518.1 78.4L518.2 77.8L518.9 77.8L519.6 78.0L520.0 77.8L520.5 77.6L520.5 76.8L521.1 76.8L521.5 76.6L521.8 76.2L521.9 75.4L522.8 75.9L523.3 75.8L523.7 75.5L524.2 75.4L524.6 75.1L524.8 74.6L525.5 74.7L525.7 74.1L526.3 74.3L526.4 73.5L527.3 73.9L527.4 73.3L527.8 72.9L528.3 72.8L528.4 72.1L529.0 72.1L529.7 72.4L529.8 71.6L530.0 71.0L530.8 71.4L531.3 71.3L531.3 70.4" fill="none" stroke="#d9353a" stroke-width="0.9"/>
<path d="M497.2 114.9L498.1 114.9L499.0 115.0L496.8 112.9L498.9 113.8L499.4 113.7L499.2 113.0L499.7 112.8L500.0 112.4L500.3 112.1L500.7 111.9L501.0 111.6L500.5 110.6L500.7 110.2L501.2 110.0L501.3 109.5L501.8 109.4L502.5 109.4L502.5 108.8L502.6 108.3L502.5 107.6L501.9 106.6L503.3 107.2L502.7 106.1L504.2 106.7L503.3 105.4L502.0 103.7L504.3 105.1L504.2 104.4L505.3 104.7L504.1 103.1L505.9 104.0L505.8 103.4L505.6 102.7L506.4 102.8L505.8 101.6L507.2 102.2L507.4 101.8L506.8 100.7L507.4 100.6L508.4 100.9L508.0 99.9L508.4 99.7L508.3 99.0L508.4 98.5L509.8 99.2L508.1 96.9L510.2 98.3L510.1 97.6L509.9 96.7L511.1 97.3L511.7 97.2L511.1 96.0L511.5 95.8L512.2 95.8L512.4 95.4L512.6 95.0L513.3 95.1L513.5 94.6L514.0 94.4L514.5 94.3L513.8 93.0L514.3 92.9L514.7 92.6L515.0 92.2L515.3 91.9L516.8 92.9L516.1 91.4L517.3 92.1L517.0 91.0L517.7 91.2L517.7 90.5L518.1 90.3L519.0 90.6L519.4 90.5L519.4 89.7L520.2 90.1L520.5 89.6L520.5 89.0L520.7 88.4L521.7 89.0L521.4 88.0L522.5 88.6L522.7 88.1L522.9 87.7L523.4 87.6L523.9 87.5L523.3 86.0L523.5 85.5L524.5 86.1L524.9 85.8L526.1 86.7L526.0 85.8L525.8 84.8L527.1 85.8L526.7 84.5L526.4 83.4L527.5 84.1L527.9 84.0L528.5 84.0L528.7 83.5L529.4 83.7L529.9 83.6L530.2 83.4L530.7 83.3L530.9 82.8L531.3 82.5L531.5 82.0L530.8 80.1L532.5 82.0L532.2 80.7L532.8 80.7L532.6 79.7L533.7 80.5L533.7 79.7L534.6 80.3L535.4 80.7L535.0 79.2L535.7 79.6L535.7 78.6L536.3 78.9 L537.09 80.14 A121.5 121.5 0 0 0 498.93 116.03 Z" fill="#d6edb4"/>
<path d="M497.2 114.9L498.1 114.9L499.0 115.0L496.8 112.9L498.9 113.8L499.4 113.7L499.2 113.0L499.7 112.8L500.0 112.4L500.3 112.1L500.7 111.9L501.0 111.6L500.5 110.6L500.7 110.2L501.2 110.0L501.3 109.5L501.8 109.4L502.5 109.4L502.5 108.8L502.6 108.3L502.5 107.6L501.9 106.6L503.3 107.2L502.7 106.1L504.2 106.7L503.3 105.4L502.0 103.7L504.3 105.1L504.2 104.4L505.3 104.7L504.1 103.1L505.9 104.0L505.8 103.4L505.6 102.7L506.4 102.8L505.8 101.6L507.2 102.2L507.4 101.8L506.8 100.7L507.4 100.6L508.4 100.9L508.0 99.9L508.4 99.7L508.3 99.0L508.4 98.5L509.8 99.2L508.1 96.9L510.2 98.3L510.1 97.6L509.9 96.7L511.1 97.3L511.7 97.2L511.1 96.0L511.5 95.8L512.2 95.8L512.4 95.4L512.6 95.0L513.3 95.1L513.5 94.6L514.0 94.4L514.5 94.3L513.8 93.0L514.3 92.9L514.7 92.6L515.0 92.2L515.3 91.9L516.8 92.9L516.1 91.4L517.3 92.1L517.0 91.0L517.7 91.2L517.7 90.5L518.1 90.3L519.0 90.6L519.4 90.5L519.4 89.7L520.2 90.1L520.5 89.6L520.5 89.0L520.7 88.4L521.7 89.0L521.4 88.0L522.5 88.6L522.7 88.1L522.9 87.7L523.4 87.6L523.9 87.5L523.3 86.0L523.5 85.5L524.5 86.1L524.9 85.8L526.1 86.7L526.0 85.8L525.8 84.8L527.1 85.8L526.7 84.5L526.4 83.4L527.5 84.1L527.9 84.0L528.5 84.0L528.7 83.5L529.4 83.7L529.9 83.6L530.2 83.4L530.7 83.3L530.9 82.8L531.3 82.5L531.5 82.0L530.8 80.1L532.5 82.0L532.2 80.7L532.8 80.7L532.6 79.7L533.7 80.5L533.7 79.7L534.6 80.3L535.4 80.7L535.0 79.2L535.7 79.6L535.7 78.6L536.3 78.9" fill="none" stroke="#3ca62c" stroke-width="0.9"/>
<path d="M460.93 90.11A167.5 167.5 0 0 1 513.53 40.62L516.35 45.35A162 162 0 0 0 465.47 93.21Z" fill="#6b6dab" stroke="#1e1e30" stroke-width="1"/>
<line x1="460.93" y1="90.11" x2="458.86" y2="88.7" stroke="#333" stroke-width="0.6"/>
<text transform="translate(456.38,87.01) rotate(304.3)" font-size="5.6" text-anchor="middle" dominant-baseline="central" font-family="Liberation Sans, sans-serif" fill="#555">0</text>
<line x1="474.61" y1="72.66" x2="472.75" y2="70.99" stroke="#333" stroke-width="0.6"/>
<text transform="translate(470.52,68.98) rotate(311.89)" font-size="5.6" text-anchor="middle" dominant-baseline="central" font-family="Liberation Sans, sans-serif" fill="#555">10</text>
<line x1="490.48" y1="57.16" x2="488.86" y2="55.26" stroke="#333" stroke-width="0.6"/>
<text transform="translate(486.91,52.98) rotate(319.48)" font-size="5.6" text-anchor="middle" dominant-baseline="central" font-family="Liberation Sans, sans-serif" fill="#555">20</text>
<line x1="508.26" y1="43.9" x2="506.9" y2="41.81" stroke="#333" stroke-width="0.6"/>
<text transform="translate(505.27,39.29) rotate(327.07)" font-size="5.6" text-anchor="middle" dominant-baseline="central" font-family="Liberation Sans, sans-serif" fill="#555">30</text>
<text transform="translate(475.97,53.39) rotate(316.75)" font-size="7.2" text-anchor="middle" dominant-baseline="central" font-family="Liberation Sans, sans-serif" fill="#4a4a4a">Chr12</text>
<path d="M524.6 45.8L525.4 45.4L531.6 57.0L530.9 57.4Z" fill="#cde4ef"/>
<path d="M525.3 45.5L526.1 45.0L532.3 56.7L531.5 57.1Z" fill="#d6e7f2"/>
<path d="M526.0 45.1L526.8 44.7L532.9 56.4L532.1 56.8Z" fill="#dae9f4"/>
<path d="M526.6 44.8L527.5 44.3L533.5 56.1L532.7 56.5Z" fill="#9ccee2"/>
<path d="M527.3 44.4L528.1 44.0L534.1 55.8L533.4 56.1Z" fill="#d9e9f3"/>
<path d="M528.0 44.1L528.8 43.6L534.7 55.5L534.0 55.8Z" fill="#afd7e6"/>
<path d="M528.7 43.7L529.5 43.3L535.4 55.1L534.6 55.5Z" fill="#c9e2ee"/>
<path d="M529.4 43.4L530.2 43.0L536.0 54.8L535.2 55.2Z" fill="#d1e5f0"/>
<path d="M530.0 43.0L530.9 42.6L536.6 54.5L535.8 54.9Z" fill="#d2e6f1"/>
<path d="M530.7 42.7L531.6 42.3L537.2 54.2L536.5 54.6Z" fill="#d2e5f1"/>
<path d="M531.4 42.4L532.2 42.0L537.9 53.9L537.1 54.3Z" fill="#c9e2ee"/>
<path d="M532.1 42.1L532.9 41.7L538.5 53.6L537.7 54.0Z" fill="#d8e8f3"/>
<path d="M532.8 41.7L533.6 41.3L539.1 53.3L538.4 53.7Z" fill="#cbe3ef"/>
<path d="M533.5 41.4L534.3 41.0L539.8 53.1L539.0 53.4Z" fill="#d6e7f2"/>
<path d="M534.2 41.1L535.0 40.7L540.4 52.8L539.6 53.1Z" fill="#e9f0f9"/>
<path d="M534.9 40.8L535.7 40.4L541.0 52.5L540.3 52.8Z" fill="#e8f0f8"/>
<path d="M535.6 40.5L536.4 40.1L541.7 52.2L540.9 52.5Z" fill="#ebf1f9"/>
<path d="M536.3 40.2L537.1 39.8L542.3 51.9L541.5 52.3Z" fill="#e9f0f8"/>
<path d="M537.0 39.9L537.8 39.5L543.0 51.7L542.2 52.0Z" fill="#edf2fa"/>
<path d="M537.7 39.6L538.5 39.2L543.6 51.4L542.8 51.7Z" fill="#edf2fa"/>
<path d="M538.4 39.3L539.2 38.9L544.2 51.1L543.5 51.4Z" fill="#edf2fa"/>
<path d="M539.1 39.0L539.9 38.6L544.9 50.9L544.1 51.2Z" fill="#ecf1fa"/>
<path d="M539.8 38.7L540.6 38.3L545.5 50.6L544.7 50.9Z" fill="#eaf1f9"/>
<path d="M540.5 38.4L541.3 38.1L546.2 50.3L545.4 50.6Z" fill="#eaf0f9"/>
<path d="M541.2 38.1L542.0 37.8L546.8 50.1L546.0 50.4Z" fill="#edf2fa"/>
<path d="M541.9 37.8L542.7 37.5L547.5 49.8L546.7 50.1Z" fill="#e9f0f9"/>
<path d="M542.6 37.6L543.4 37.2L548.1 49.6L547.3 49.9Z" fill="#c6e0ed"/>
<path d="M543.3 37.3L544.2 37.0L548.8 49.3L548.0 49.6Z" fill="#ebf1f9"/>
<path d="M544.0 37.0L544.9 36.7L549.4 49.1L548.6 49.4Z" fill="#ebf1f9"/>
<path d="M544.7 36.8L545.6 36.4L550.1 48.9L549.3 49.1Z" fill="#ebf1f9"/>
<path d="M545.4 36.5L546.3 36.2L550.7 48.6L549.9 48.9Z" fill="#e9f0f8"/>
<path d="M546.1 36.2L547.0 35.9L551.4 48.4L550.6 48.7Z" fill="#eaf1f9"/>
<path d="M546.9 36.0L547.7 35.7L552.1 48.2L551.3 48.4Z" fill="#edf2fa"/>
<path d="M547.6 35.7L548.5 35.4L552.7 47.9L551.9 48.2Z" fill="#edf2fa"/>
<path d="M548.3 35.5L549.2 35.2L553.4 47.7L552.6 48.0Z" fill="#e9f0f9"/>
<path d="M549.0 35.2L549.9 34.9L554.0 47.5L553.2 47.8Z" fill="#eaf1f9"/>
<path d="M549.7 35.0L550.6 34.7L554.7 47.3L553.9 47.5Z" fill="#e8f0f8"/>
<path d="M550.5 34.8L551.3 34.5L555.4 47.1L554.6 47.3Z" fill="#ecf1fa"/>
<path d="M551.2 34.5L552.1 34.2L556.0 46.8L555.2 47.1Z" fill="#ebf1f9"/>
<path d="M551.9 34.3L552.8 34.0L556.7 46.6L555.9 46.9Z" fill="#e8f0f8"/>
<path d="M552.6 34.1L553.5 33.8L557.4 46.4L556.5 46.7Z" fill="#e7eff8"/>
<path d="M553.4 33.8L554.3 33.6L558.0 46.2L557.2 46.5Z" fill="#e7eff8"/>
<path d="M554.1 33.6L555.0 33.4L558.7 46.0L557.9 46.3Z" fill="#ecf2fa"/>
<path d="M554.8 33.4L555.7 33.2L559.4 45.8L558.6 46.1Z" fill="#ebf1f9"/>
<path d="M555.6 33.2L556.4 32.9L560.0 45.6L559.2 45.9Z" fill="#e7eff8"/>
<path d="M556.3 33.0L557.2 32.7L560.7 45.5L559.9 45.7Z" fill="#edf2fa"/>
<path d="M557.0 32.8L557.9 32.5L561.4 45.3L560.6 45.5Z" fill="#e8f0f8"/>
<path d="M557.7 32.6L558.6 32.3L562.0 45.1L561.2 45.3Z" fill="#ebf1f9"/>
<path d="M558.5 32.4L559.4 32.1L562.7 44.9L561.9 45.1Z" fill="#edf2fa"/>
<path d="M559.2 32.2L560.1 32.0L563.4 44.7L562.6 45.0Z" fill="#e9f0f8"/>
<path d="M560.0 32.0L560.9 31.8L564.1 44.6L563.3 44.8Z" fill="#9dcee2"/>
<path d="M560.7 31.8L561.6 31.6L564.7 44.4L563.9 44.6Z" fill="#abd6e5"/>
<path d="M561.4 31.6L562.3 31.4L565.4 44.2L564.6 44.4Z" fill="#9acde1"/>
<path d="M562.2 31.4L563.1 31.2L566.1 44.1L565.3 44.3Z" fill="#83bfdc"/>
<path d="M562.9 31.3L563.8 31.1L566.8 43.9L566.0 44.1Z" fill="#add6e6"/>
<path d="M563.6 31.1L564.5 30.9L567.5 43.8L566.6 43.9Z" fill="#b4d9e8"/>
<path d="M564.4 30.9L565.3 30.7L568.1 43.6L567.3 43.8Z" fill="#98cce1"/>
<path d="M565.1 30.8L566.0 30.6L568.8 43.5L568.0 43.6Z" fill="#b7dae9"/>
<path d="M565.9 30.6L566.8 30.4L569.5 43.3L568.7 43.5Z" fill="#9ccee2"/>
<path d="M566.6 30.4L567.5 30.2L570.2 43.2L569.4 43.3Z" fill="#92c8e0"/>
<path d="M567.4 30.3L568.3 30.1L570.9 43.0L570.0 43.2Z" fill="#a4d2e3"/>
<path d="M568.1 30.1L569.0 29.9L571.6 42.9L570.7 43.1Z" fill="#95cae0"/>
<path d="M568.9 30.0L569.8 29.8L572.2 42.8L571.4 42.9Z" fill="#b1d8e7"/>
<path d="M569.6 29.8L570.5 29.7L572.9 42.6L572.1 42.8Z" fill="#96cbe0"/>
<path d="M570.3 29.7L571.3 29.5L573.6 42.5L572.8 42.7Z" fill="#b4d9e8"/>
<path d="M571.1 29.5L572.0 29.4L574.3 42.4L573.5 42.5Z" fill="#8fc6df"/>
<path d="M571.8 29.4L572.8 29.3L575.0 42.3L574.1 42.4Z" fill="#98cbe1"/>
<path d="M572.6 29.3L573.5 29.1L575.7 42.1L574.8 42.3Z" fill="#9fd0e2"/>
<path d="M573.3 29.2L574.3 29.0L576.4 42.0L575.5 42.2Z" fill="#bdddeb"/>
<path d="M574.1 29.0L575.0 28.9L577.0 41.9L576.2 42.1Z" fill="#add6e6"/>
<path d="M574.8 28.9L575.8 28.8L577.7 41.8L576.9 42.0Z" fill="#95cae0"/>
<path d="M575.6 28.8L576.5 28.7L578.4 41.7L577.6 41.8Z" fill="#9acde1"/>
<path d="M576.3 28.7L577.3 28.5L579.1 41.6L578.3 41.7Z" fill="#96cbe0"/>
<path d="M577.1 28.6L578.0 28.4L579.8 41.5L579.0 41.6Z" fill="#92c8df"/>
<path d="M577.9 28.5L578.8 28.3L580.5 41.4L579.6 41.5Z" fill="#add6e6"/>
<path d="M578.6 28.4L579.5 28.2L581.2 41.3L580.3 41.5Z" fill="#b9dbe9"/>
<path d="M579.4 28.3L580.3 28.2L581.9 41.3L581.0 41.4Z" fill="#94c9e0"/>
<path d="M580.1 28.2L581.0 28.1L582.6 41.2L581.7 41.3Z" fill="#3d8dcb"/>
<path d="M580.9 28.1L581.8 28.0L583.3 41.1L582.4 41.2Z" fill="#84c0dd"/>
<path d="M581.6 28.0L582.5 27.9L583.9 41.0L583.1 41.1Z" fill="#3d8dcb"/>
<path d="M582.4 27.9L583.3 27.8L584.6 40.9L583.8 41.0Z" fill="#66abd5"/>
<path d="M583.1 27.8L584.1 27.7L585.3 40.9L584.5 41.0Z" fill="#86c1dd"/>
<path d="M583.9 27.8L584.8 27.7L586.0 40.8L585.2 40.9Z" fill="#75b7d9"/>
<path d="M584.7 27.7L585.6 27.6L586.7 40.7L585.9 40.8Z" fill="#5fa7d4"/>
<path d="M585.4 27.6L586.3 27.5L587.4 40.7L586.6 40.8Z" fill="#5fa7d4"/>
<path d="M586.2 27.5L587.1 27.5L588.1 40.6L587.3 40.7Z" fill="#7dbcdb"/>
<path d="M586.9 27.5L587.8 27.4L588.8 40.6L588.0 40.6Z" fill="#71b4d8"/>
<path d="M587.7 27.4L588.6 27.4L589.5 40.5L588.7 40.6Z" fill="#3d8dcb"/>
<path d="M588.4 27.4L589.4 27.3L590.2 40.5L589.4 40.5Z" fill="#4593cd"/>
<path d="M589.2 27.3L590.1 27.3L590.9 40.4L590.0 40.5Z" fill="#66acd5"/>
<path d="M543.9 81.7L544.5 81.3L549.3 90.3L548.7 90.6Z" fill="#c0bee2"/>
<path d="M544.4 81.4L545.0 81.1L549.7 90.0L549.2 90.3Z" fill="#cccce8"/>
<path d="M544.9 81.1L545.5 80.8L550.2 89.8L549.6 90.1Z" fill="#c1c0e3"/>
<path d="M545.4 80.9L546.0 80.6L550.6 89.5L550.1 89.8Z" fill="#b9b8df"/>
<path d="M545.9 80.6L546.5 80.3L551.1 89.3L550.5 89.6Z" fill="#c4c3e4"/>
<path d="M546.4 80.4L547.0 80.0L551.6 89.1L551.0 89.4Z" fill="#c9c9e7"/>
<path d="M546.9 80.1L547.5 79.8L552.0 88.8L551.5 89.1Z" fill="#c7c7e6"/>
<path d="M547.4 79.8L548.0 79.5L552.5 88.6L551.9 88.9Z" fill="#bdbbe0"/>
<path d="M547.9 79.6L548.6 79.3L552.9 88.4L552.4 88.7Z" fill="#b9b7de"/>
<path d="M548.4 79.4L549.1 79.1L553.4 88.2L552.8 88.4Z" fill="#a9a6d6"/>
<path d="M549.0 79.1L549.6 78.8L553.9 88.0L553.3 88.2Z" fill="#bdbce1"/>
<path d="M549.5 78.9L550.1 78.6L554.3 87.7L553.8 88.0Z" fill="#c2c1e3"/>
<path d="M550.0 78.6L550.6 78.3L554.8 87.5L554.2 87.8Z" fill="#c8c8e6"/>
<path d="M550.5 78.4L551.1 78.1L555.3 87.3L554.7 87.6Z" fill="#c1c0e3"/>
<path d="M551.0 78.2L551.6 77.9L555.7 87.1L555.2 87.4Z" fill="#c0bfe2"/>
<path d="M551.5 77.9L552.1 77.6L556.2 86.9L555.6 87.1Z" fill="#aaa8d6"/>
<path d="M552.0 77.7L552.7 77.4L556.7 86.7L556.1 86.9Z" fill="#aaa8d6"/>
<path d="M552.5 77.5L553.2 77.2L557.2 86.5L556.6 86.7Z" fill="#bfbee1"/>
<path d="M553.1 77.2L553.7 77.0L557.6 86.3L557.1 86.5Z" fill="#c5c4e4"/>
<path d="M553.6 77.0L554.2 76.8L558.1 86.1L557.5 86.3Z" fill="#cccce8"/>
<path d="M554.1 76.8L554.7 76.5L558.6 85.9L558.0 86.1Z" fill="#d2d2eb"/>
<path d="M554.6 76.6L555.3 76.3L559.1 85.7L558.5 85.9Z" fill="#c4c4e4"/>
<path d="M555.1 76.4L555.8 76.1L559.5 85.5L559.0 85.7Z" fill="#cbcae7"/>
<path d="M555.7 76.2L556.3 75.9L560.0 85.3L559.4 85.5Z" fill="#cacae7"/>
<path d="M556.2 75.9L556.8 75.7L560.5 85.1L559.9 85.3Z" fill="#c8c7e6"/>
<path d="M556.7 75.7L557.4 75.5L561.0 84.9L560.4 85.1Z" fill="#c3c2e3"/>
<path d="M557.2 75.5L557.9 75.3L561.5 84.7L560.9 85.0Z" fill="#b9b7de"/>
<path d="M557.8 75.3L558.4 75.1L561.9 84.6L561.4 84.8Z" fill="#8e8bc7"/>
<path d="M558.3 75.1L558.9 74.9L562.4 84.4L561.8 84.6Z" fill="#c5c4e5"/>
<path d="M558.8 74.9L559.5 74.7L562.9 84.2L562.3 84.4Z" fill="#bebce1"/>
<path d="M559.4 74.7L560.0 74.5L563.4 84.0L562.8 84.2Z" fill="#d5d5ec"/>
<path d="M559.9 74.6L560.5 74.3L563.9 83.8L563.3 84.1Z" fill="#cccce8"/>
<path d="M560.4 74.4L561.1 74.1L564.4 83.7L563.8 83.9Z" fill="#c0bee2"/>
<path d="M560.9 74.2L561.6 74.0L564.9 83.5L564.3 83.7Z" fill="#b7b5de"/>
<path d="M561.5 74.0L562.1 73.8L565.3 83.3L564.7 83.5Z" fill="#d5d5ec"/>
<path d="M562.0 73.8L562.7 73.6L565.8 83.2L565.2 83.4Z" fill="#cccce8"/>
<path d="M562.5 73.6L563.2 73.4L566.3 83.0L565.7 83.2Z" fill="#d2d2eb"/>
<path d="M563.1 73.5L563.7 73.2L566.8 82.9L566.2 83.1Z" fill="#d0d0ea"/>
<path d="M563.6 73.3L564.3 73.1L567.3 82.7L566.7 82.9Z" fill="#b8b6de"/>
<path d="M564.2 73.1L564.8 72.9L567.8 82.6L567.2 82.7Z" fill="#c7c6e6"/>
<path d="M564.7 72.9L565.4 72.7L568.3 82.4L567.7 82.6Z" fill="#bebde1"/>
<path d="M565.2 72.8L565.9 72.6L568.8 82.3L568.2 82.4Z" fill="#cfcfea"/>
<path d="M565.8 72.6L566.4 72.4L569.3 82.1L568.7 82.3Z" fill="#cecee9"/>
<path d="M566.3 72.5L567.0 72.3L569.8 82.0L569.2 82.1Z" fill="#c3c2e3"/>
<path d="M566.9 72.3L567.5 72.1L570.3 81.8L569.7 82.0Z" fill="#b7b5dd"/>
<path d="M567.4 72.1L568.1 72.0L570.8 81.7L570.2 81.9Z" fill="#d1d1ea"/>
<path d="M567.9 72.0L568.6 71.8L571.3 81.6L570.7 81.7Z" fill="#b9b7df"/>
<path d="M568.5 71.8L569.1 71.7L571.8 81.4L571.2 81.6Z" fill="#d5d5ec"/>
<path d="M569.0 71.7L569.7 71.5L572.3 81.3L571.6 81.4Z" fill="#d0d0ea"/>
<path d="M569.6 71.5L570.2 71.4L572.8 81.2L572.1 81.3Z" fill="#c0bfe2"/>
<path d="M570.1 71.4L570.8 71.2L573.3 81.0L572.6 81.2Z" fill="#bcbbe0"/>
<path d="M570.7 71.3L571.3 71.1L573.8 80.9L573.1 81.1Z" fill="#bbbae0"/>
<path d="M571.2 71.1L571.9 71.0L574.3 80.8L573.6 80.9Z" fill="#bbb9df"/>
<path d="M571.8 71.0L572.4 70.8L574.8 80.7L574.1 80.8Z" fill="#b7b5dd"/>
<path d="M572.3 70.9L573.0 70.7L575.3 80.5L574.6 80.7Z" fill="#c9c8e6"/>
<path d="M572.9 70.7L573.5 70.6L575.8 80.4L575.1 80.6Z" fill="#bab8df"/>
<path d="M573.4 70.6L574.1 70.5L576.3 80.3L575.6 80.5Z" fill="#c4c3e4"/>
<path d="M574.0 70.5L574.6 70.3L576.8 80.2L576.2 80.3Z" fill="#cccbe8"/>
<path d="M574.5 70.4L575.2 70.2L577.3 80.1L576.7 80.2Z" fill="#d3d3eb"/>
<path d="M575.1 70.2L575.7 70.1L577.8 80.0L577.2 80.1Z" fill="#b1afda"/>
<path d="M575.6 70.1L576.3 70.0L578.3 79.9L577.7 80.0Z" fill="#c5c4e4"/>
<path d="M576.2 70.0L576.8 69.9L578.8 79.8L578.2 79.9Z" fill="#c7c7e6"/>
<path d="M576.7 69.9L577.4 69.8L579.3 79.7L578.7 79.8Z" fill="#cdcde8"/>
<path d="M577.3 69.8L577.9 69.7L579.8 79.6L579.2 79.7Z" fill="#bcbae0"/>
<path d="M577.8 69.7L578.5 69.6L580.3 79.5L579.7 79.6Z" fill="#c9c9e7"/>
<path d="M578.4 69.6L579.1 69.5L580.8 79.4L580.2 79.5Z" fill="#bcbae0"/>
<path d="M578.9 69.5L579.6 69.4L581.3 79.3L580.7 79.4Z" fill="#7672b9"/>
<path d="M579.5 69.4L580.2 69.3L581.8 79.2L581.2 79.3Z" fill="#b2b0db"/>
<path d="M580.0 69.3L580.7 69.2L582.3 79.2L581.7 79.3Z" fill="#c1c0e3"/>
<path d="M580.6 69.2L581.3 69.1L582.8 79.1L582.2 79.2Z" fill="#b8b6de"/>
<path d="M581.2 69.1L581.8 69.0L583.4 79.0L582.7 79.1Z" fill="#cac9e7"/>
<path d="M581.7 69.0L582.4 68.9L583.9 78.9L583.2 79.0Z" fill="#cecee9"/>
<path d="M582.3 68.9L583.0 68.8L584.4 78.8L583.7 78.9Z" fill="#bbb9df"/>
<path d="M582.8 68.9L583.5 68.8L584.9 78.8L584.3 78.9Z" fill="#aaa8d6"/>
<path d="M583.4 68.8L584.1 68.7L585.4 78.7L584.8 78.8Z" fill="#c6c5e5"/>
<path d="M584.0 68.7L584.6 68.6L585.9 78.6L585.3 78.7Z" fill="#b7b5dd"/>
<path d="M584.5 68.6L585.2 68.6L586.4 78.6L585.8 78.7Z" fill="#d1d1eb"/>
<path d="M585.1 68.6L585.8 68.5L586.9 78.5L586.3 78.6Z" fill="#c4c3e4"/>
<path d="M585.6 68.5L586.3 68.4L587.4 78.5L586.8 78.5Z" fill="#cbcae7"/>
<path d="M586.2 68.4L586.9 68.4L587.9 78.4L587.3 78.5Z" fill="#b8b6de"/>
<path d="M586.8 68.4L587.4 68.3L588.5 78.4L587.8 78.4Z" fill="#bab8df"/>
<path d="M587.3 68.3L588.0 68.2L589.0 78.3L588.4 78.4Z" fill="#acaad7"/>
<path d="M587.9 68.3L588.6 68.2L589.5 78.3L588.9 78.3Z" fill="#b4b2dc"/>
<path d="M588.4 68.2L589.1 68.1L590.0 78.2L589.4 78.3Z" fill="#bcbbe0"/>
<path d="M589.0 68.2L589.7 68.1L590.5 78.2L589.9 78.2Z" fill="#b6b4dd"/>
<path d="M589.6 68.1L590.2 68.1L591.0 78.1L590.4 78.2Z" fill="#c9c9e7"/>
<path d="M590.1 68.1L590.8 68.0L591.5 78.1L590.9 78.1Z" fill="#c3c2e4"/>
<path d="M590.7 68.0L591.4 68.0L592.1 78.0L591.4 78.1Z" fill="#cac9e7"/>
<path d="M591.2 68.0L591.9 67.9L592.6 78.0L591.9 78.1Z" fill="#a8a5d5"/>
<path d="M591.8 67.9L592.5 67.9L593.1 78.0L592.5 78.0Z" fill="#cdcde8"/>
<path d="M536.3 67.5L536.9 67.7L537.4 67.5L537.4 66.5L538.1 66.7L538.5 66.4L538.8 66.1L539.2 65.8L539.6 65.5L540.5 66.2L540.8 65.8L541.2 65.4L541.5 64.9L542.0 64.9L542.2 64.2L542.8 64.5L543.0 63.6L543.5 63.5L544.0 63.5L544.2 62.9L544.4 62.0L544.9 62.0L545.6 62.4L545.7 61.3L546.2 61.4L546.6 61.0L547.1 61.0L547.2 60.0L547.7 59.9L547.8 58.8L548.7 59.7L549.3 59.9L549.4 58.9L550.0 59.1L550.4 58.6L550.2 56.8L550.6 56.5L551.3 57.0L551.6 56.5L552.0 56.1L552.7 56.4L553.3 56.6L553.6 56.1L553.9 55.5L554.3 55.1L555.1 55.8L554.9 53.8L555.4 53.6L555.8 53.2L556.1 52.6L556.8 53.2L557.9 54.8L558.2 54.3L558.5 53.6L559.2 54.0L559.7 53.9L560.4 54.8L560.6 53.6L561.0 53.1L561.0 51.4L561.9 52.8L562.8 54.2L562.8 52.4L563.5 53.1L563.9 52.7L564.1 51.3L564.6 51.2L565.0 50.9L565.5 50.8L566.1 51.2L566.9 52.5L567.5 52.8L568.0 52.6L568.2 51.4L569.1 53.0L569.3 51.9L569.7 51.3L570.2 51.4L571.1 53.0L571.4 52.3L572.1 52.9L572.5 52.7L572.9 52.4L573.5 52.7L574.0 53.0L574.6 53.6L575.0 52.8L575.4 52.3L576.1 53.4L576.6 53.5L576.9 52.7L577.6 53.4L578.0 53.3L578.6 53.6L579.0 53.2L579.4 52.9L579.9 52.5L580.4 53.2L580.9 53.3L581.4 52.9L581.9 53.3L582.4 53.5L582.8 52.6L583.3 52.9L583.8 53.0L584.2 52.6L584.7 52.5L585.3 53.3L585.8 53.2L586.2 52.6L586.7 53.1L587.2 52.8L587.7 53.1L588.1 53.0L588.6 52.6L589.1 52.6L589.5 52.7L590.0 52.4L590.5 52.3L591.0 52.8L591.4 52.0 L591.5 53.23 A131.5 131.5 0 0 0 536.96 68.72 Z" fill="#eab0ae"/>
<path d="M536.3 67.5L536.9 67.7L537.4 67.5L537.4 66.5L538.1 66.7L538.5 66.4L538.8 66.1L539.2 65.8L539.6 65.5L540.5 66.2L540.8 65.8L541.2 65.4L541.5 64.9L542.0 64.9L542.2 64.2L542.8 64.5L543.0 63.6L543.5 63.5L544.0 63.5L544.2 62.9L544.4 62.0L544.9 62.0L545.6 62.4L545.7 61.3L546.2 61.4L546.6 61.0L547.1 61.0L547.2 60.0L547.7 59.9L547.8 58.8L548.7 59.7L549.3 59.9L549.4 58.9L550.0 59.1L550.4 58.6L550.2 56.8L550.6 56.5L551.3 57.0L551.6 56.5L552.0 56.1L552.7 56.4L553.3 56.6L553.6 56.1L553.9 55.5L554.3 55.1L555.1 55.8L554.9 53.8L555.4 53.6L555.8 53.2L556.1 52.6L556.8 53.2L557.9 54.8L558.2 54.3L558.5 53.6L559.2 54.0L559.7 53.9L560.4 54.8L560.6 53.6L561.0 53.1L561.0 51.4L561.9 52.8L562.8 54.2L562.8 52.4L563.5 53.1L563.9 52.7L564.1 51.3L564.6 51.2L565.0 50.9L565.5 50.8L566.1 51.2L566.9 52.5L567.5 52.8L568.0 52.6L568.2 51.4L569.1 53.0L569.3 51.9L569.7 51.3L570.2 51.4L571.1 53.0L571.4 52.3L572.1 52.9L572.5 52.7L572.9 52.4L573.5 52.7L574.0 53.0L574.6 53.6L575.0 52.8L575.4 52.3L576.1 53.4L576.6 53.5L576.9 52.7L577.6 53.4L578.0 53.3L578.6 53.6L579.0 53.2L579.4 52.9L579.9 52.5L580.4 53.2L580.9 53.3L581.4 52.9L581.9 53.3L582.4 53.5L582.8 52.6L583.3 52.9L583.8 53.0L584.2 52.6L584.7 52.5L585.3 53.3L585.8 53.2L586.2 52.6L586.7 53.1L587.2 52.8L587.7 53.1L588.1 53.0L588.6 52.6L589.1 52.6L589.5 52.7L590.0 52.4L590.5 52.3L591.0 52.8L591.4 52.0" fill="none" stroke="#d9353a" stroke-width="0.9"/>
<path d="M540.4 75.0L541.3 75.8L541.6 75.5L542.1 75.5L542.7 75.6L543.0 75.2L543.4 75.0L542.7 72.8L544.6 75.4L544.7 74.6L544.7 73.6L545.1 73.4L545.6 73.5L546.3 73.8L546.8 73.8L546.6 72.5L547.5 73.3L547.6 72.4L548.2 72.7L548.3 71.9L548.8 71.8L549.7 72.8L549.8 71.9L549.8 70.9L550.6 71.6L550.7 70.5L551.2 70.6L551.5 70.2L552.3 71.0L552.2 69.5L552.9 70.0L553.4 70.2L553.4 69.0L553.9 69.1L554.2 68.6L554.6 68.2L555.2 68.6L555.7 68.6L556.0 68.2L556.7 68.8L556.7 67.5L557.5 68.2L557.9 68.1L558.4 68.2L558.8 67.9L559.0 67.1L559.1 66.2L560.0 67.4L559.5 64.4L560.8 67.0L560.9 65.7L561.5 66.1L561.8 65.5L562.5 66.3L562.7 65.3L563.2 65.7L563.6 65.2L564.2 65.7L564.6 65.6L564.9 65.1L565.2 64.2L565.6 64.2L566.4 65.3L566.8 65.3L567.3 65.3L567.2 63.0L568.2 65.3L568.6 65.0L568.8 63.9L569.5 64.9L569.5 62.9L570.1 63.6L570.6 63.8L571.1 64.0L571.6 64.2L572.2 64.6L572.5 63.8L572.7 62.9L573.4 64.0L573.7 63.3L574.1 63.0L574.7 63.6L575.2 63.5L575.6 63.4L576.1 63.6L576.5 63.5L577.1 64.2L577.3 63.0L577.8 63.3L578.4 64.1L578.6 62.4L579.1 62.9L579.7 63.3L580.1 63.6L580.6 63.4L581.0 63.3L581.3 62.4L582.0 63.7L582.2 62.3L582.8 63.1L583.2 63.3L583.7 63.3L583.7 59.7L584.4 62.2L584.7 61.0L585.5 63.3L585.7 61.8L586.2 62.2L586.6 61.5L587.1 61.5L587.4 60.0L588.0 61.4L588.3 60.8L588.9 61.6L589.4 62.4L589.7 60.7L590.2 62.1L590.6 61.3L591.1 62.2L591.6 62.1L592.0 62.0 L592.09 63.21 A121.5 121.5 0 0 0 541.7 77.52 Z" fill="#d6edb4"/>
<path d="M540.4 75.0L541.3 75.8L541.6 75.5L542.1 75.5L542.7 75.6L543.0 75.2L543.4 75.0L542.7 72.8L544.6 75.4L544.7 74.6L544.7 73.6L545.1 73.4L545.6 73.5L546.3 73.8L546.8 73.8L546.6 72.5L547.5 73.3L547.6 72.4L548.2 72.7L548.3 71.9L548.8 71.8L549.7 72.8L549.8 71.9L549.8 70.9L550.6 71.6L550.7 70.5L551.2 70.6L551.5 70.2L552.3 71.0L552.2 69.5L552.9 70.0L553.4 70.2L553.4 69.0L553.9 69.1L554.2 68.6L554.6 68.2L555.2 68.6L555.7 68.6L556.0 68.2L556.7 68.8L556.7 67.5L557.5 68.2L557.9 68.1L558.4 68.2L558.8 67.9L559.0 67.1L559.1 66.2L560.0 67.4L559.5 64.4L560.8 67.0L560.9 65.7L561.5 66.1L561.8 65.5L562.5 66.3L562.7 65.3L563.2 65.7L563.6 65.2L564.2 65.7L564.6 65.6L564.9 65.1L565.2 64.2L565.6 64.2L566.4 65.3L566.8 65.3L567.3 65.3L567.2 63.0L568.2 65.3L568.6 65.0L568.8 63.9L569.5 64.9L569.5 62.9L570.1 63.6L570.6 63.8L571.1 64.0L571.6 64.2L572.2 64.6L572.5 63.8L572.7 62.9L573.4 64.0L573.7 63.3L574.1 63.0L574.7 63.6L575.2 63.5L575.6 63.4L576.1 63.6L576.5 63.5L577.1 64.2L577.3 63.0L577.8 63.3L578.4 64.1L578.6 62.4L579.1 62.9L579.7 63.3L580.1 63.6L580.6 63.4L581.0 63.3L581.3 62.4L582.0 63.7L582.2 62.3L582.8 63.1L583.2 63.3L583.7 63.3L583.7 59.7L584.4 62.2L584.7 61.0L585.5 63.3L585.7 61.8L586.2 62.2L586.6 61.5L587.1 61.5L587.4 60.0L588.0 61.4L588.3 60.8L588.9 61.6L589.4 62.4L589.7 60.7L590.2 62.1L590.6 61.3L591.1 62.2L591.6 62.1L592.0 62.0" fill="none" stroke="#3ca62c" stroke-width="0.9"/>
<path d="M519.89 37.02A167.5 167.5 0 0 1 589.37 17.29L589.69 22.79A162 162 0 0 0 522.5 41.86Z" fill="#6b6dab" stroke="#1e1e30" stroke-width="1"/>
<line x1="519.89" y1="37.02" x2="518.71" y2="34.82" stroke="#333" stroke-width="0.6"/>
<text transform="translate(517.28,32.18) rotate(331.7)" font-size="5.6" text-anchor="middle" dominant-baseline="central" font-family="Liberation Sans, sans-serif" fill="#555">0</text>
<line x1="542.24" y1="27.02" x2="541.39" y2="24.67" stroke="#333" stroke-width="0.6"/>
<text transform="translate(540.37,21.85) rotate(340.08)" font-size="5.6" text-anchor="middle" dominant-baseline="central" font-family="Liberation Sans, sans-serif" fill="#555">10</text>
<line x1="565.81" y1="20.38" x2="565.31" y2="17.93" stroke="#333" stroke-width="0.6"/>
<text transform="translate(564.71,14.99) rotate(348.47)" font-size="5.6" text-anchor="middle" dominant-baseline="central" font-family="Liberation Sans, sans-serif" fill="#555">20</text>
<text transform="translate(550.14,11.34) rotate(344.15)" font-size="7.2" text-anchor="middle" dominant-baseline="central" font-family="Liberation Sans, sans-serif" fill="#4a4a4a">Chr13</text>
<text x="595.5" y="22.2" font-size="6.8" text-anchor="middle" font-family="Liberation Sans, sans-serif" fill="#2a2a2a" stroke="#2a2a2a" stroke-width="0.15">A</text>
<text x="595.5" y="36.2" font-size="6.8" text-anchor="middle" font-family="Liberation Sans, sans-serif" fill="#2a2a2a" stroke="#2a2a2a" stroke-width="0.15">B</text>
<text x="595.5" y="51.4" font-size="6.8" text-anchor="middle" font-family="Liberation Sans, sans-serif" fill="#2a2a2a" stroke="#2a2a2a" stroke-width="0.15">C</text>
<text x="595.5" y="63.6" font-size="6.8" text-anchor="middle" font-family="Liberation Sans, sans-serif" fill="#2a2a2a" stroke="#2a2a2a" stroke-width="0.15">D</text>
<text x="595.5" y="75.2" font-size="6.8" text-anchor="middle" font-family="Liberation Sans, sans-serif" fill="#2a2a2a" stroke="#2a2a2a" stroke-width="0.15">E</text>
<text x="595.5" y="88.2" font-size="6.8" text-anchor="middle" font-family="Liberation Sans, sans-serif" fill="#2a2a2a" stroke="#2a2a2a" stroke-width="0.15">F</text>
</g>
<text x="718" y="345.2" font-size="6.4" font-family="Liberation Sans, sans-serif" fill="#333">Gene density</text>
<text x="718" y="352.6" font-size="6.4" font-family="Liberation Sans, sans-serif" fill="#333">GC content</text>
<rect x="761.2" y="340.7" width="4.6" height="4.6" fill="#e6ecf7"/>
<rect x="761.2" y="348" width="4.6" height="4.6" fill="#e9e8f4"/>
<rect x="768.1" y="340.7" width="4.6" height="4.6" fill="#c6dcef"/>
<rect x="768.1" y="348" width="4.6" height="4.6" fill="#d5d3eb"/>
<rect x="775" y="340.7" width="4.6" height="4.6" fill="#9ccbe2"/>
<rect x="775" y="348" width="4.6" height="4.6" fill="#b3b0da"/>
<rect x="781.9" y="340.7" width="4.6" height="4.6" fill="#3d8fcf"/>
<rect x="781.9" y="348" width="4.6" height="4.6" fill="#6e69b0"/>
<path d="M600.01 83.5A101.0 101.0 0 0 1 601.15 83.52Q599.3 184.5 543.31 268.56A101.0 101.0 0 0 1 541.66 267.44Q599.3 184.5 600.01 83.5Z" fill="#a9d5e5" fill-opacity="0.8" stroke="#a9d5e5" stroke-opacity="0.8" stroke-width="0.3"/>
<path d="M601.36 83.52A101.0 101.0 0 0 1 602.5 83.55Q599.3 184.5 545.28 269.84A101.0 101.0 0 0 1 543.6 268.75Q599.3 184.5 601.36 83.52Z" fill="#a9d5e5" fill-opacity="0.8" stroke="#a9d5e5" stroke-opacity="0.8" stroke-width="0.3"/>
<path d="M602.71 83.56A101.0 101.0 0 0 1 603.86 83.6Q599.3 184.5 547.28 271.07A101.0 101.0 0 0 1 545.58 270.03Q599.3 184.5 602.71 83.56Z" fill="#a9d5e5" fill-opacity="0.8" stroke="#a9d5e5" stroke-opacity="0.8" stroke-width="0.3"/>
<path d="M605.99 83.72A101.0 101.0 0 0 1 608.13 83.89Q599.3 184.5 520.81 248.06A101.0 101.0 0 0 1 519.87 246.89Q599.3 184.5 605.99 83.72Z" fill="#a9d5e5" fill-opacity="0.8" stroke="#a9d5e5" stroke-opacity="0.8" stroke-width="0.3"/>
<path d="M608.51 83.92A101.0 101.0 0 0 1 610.65 84.14Q599.3 184.5 521.93 249.42A101.0 101.0 0 0 1 520.97 248.27Q599.3 184.5 608.51 83.92Z" fill="#a9d5e5" fill-opacity="0.8" stroke="#a9d5e5" stroke-opacity="0.8" stroke-width="0.3"/>
<path d="M611.03 84.18A101.0 101.0 0 0 1 613.16 84.45Q599.3 184.5 523.07 250.76A101.0 101.0 0 0 1 522.1 249.62Q599.3 184.5 611.03 84.18Z" fill="#a9d5e5" fill-opacity="0.8" stroke="#a9d5e5" stroke-opacity="0.8" stroke-width="0.3"/>
<path d="M618.05 85.26A101.0 101.0 0 0 1 622.54 86.21Q599.3 184.5 531.07 258.97A101.0 101.0 0 0 1 528.51 256.54Q599.3 184.5 618.05 85.26Z" fill="#a9d5e5" fill-opacity="0.75" stroke="#a9d5e5" stroke-opacity="0.75" stroke-width="0.3"/>
<path d="M628.15 87.71A101.0 101.0 0 0 1 629.97 88.27Q599.3 184.5 503.24 153.29A101.0 101.0 0 0 1 504.63 149.29Q599.3 184.5 628.15 87.71Z" fill="#a9d5e5" fill-opacity="0.65" stroke="#a9d5e5" stroke-opacity="0.65" stroke-width="0.3"/>
<path d="M630.43 88.42A101.0 101.0 0 0 1 632.23 89.02Q599.3 184.5 501.74 158.36A101.0 101.0 0 0 1 502.92 154.3Q599.3 184.5 630.43 88.42Z" fill="#a9d5e5" fill-opacity="0.65" stroke="#a9d5e5" stroke-opacity="0.65" stroke-width="0.3"/>
<path d="M633.51 89.47A101.0 101.0 0 0 1 634.98 90.01Q599.3 184.5 509.58 138.12A101.0 101.0 0 0 1 510.54 136.31Q599.3 184.5 633.51 89.47Z" fill="#a9d5e5" fill-opacity="0.6" stroke="#a9d5e5" stroke-opacity="0.6" stroke-width="0.3"/>
<path d="M635.6 90.25A101.0 101.0 0 0 1 637.06 90.82Q599.3 184.5 508.27 140.75A101.0 101.0 0 0 1 509.18 138.91Q599.3 184.5 635.6 90.25Z" fill="#a9d5e5" fill-opacity="0.6" stroke="#a9d5e5" stroke-opacity="0.6" stroke-width="0.3"/>
<path d="M637.68 91.08A101.0 101.0 0 0 1 639.12 91.68Q599.3 184.5 507.03 143.42A101.0 101.0 0 0 1 507.89 141.55Q599.3 184.5 637.68 91.08Z" fill="#a9d5e5" fill-opacity="0.6" stroke="#a9d5e5" stroke-opacity="0.6" stroke-width="0.3"/>
<path d="M648.88 96.51A101.0 101.0 0 0 1 650.5 97.44Q599.3 184.5 508.72 229.17A101.0 101.0 0 0 1 508.22 228.16Q599.3 184.5 648.88 96.51Z" fill="#84d3b8" fill-opacity="0.85" stroke="#84d3b8" stroke-opacity="0.85" stroke-width="0.3"/>
<path d="M650.79 97.61A101.0 101.0 0 0 1 652.39 98.58Q599.3 184.5 509.31 230.35A101.0 101.0 0 0 1 508.8 229.35Q599.3 184.5 650.79 97.61Z" fill="#84d3b8" fill-opacity="0.85" stroke="#84d3b8" stroke-opacity="0.85" stroke-width="0.3"/>
<path d="M654.31 99.79A101.0 101.0 0 0 1 655.97 100.9Q599.3 184.5 523.07 118.24A101.0 101.0 0 0 1 523.57 117.67Q599.3 184.5 654.31 99.79Z" fill="#a9d5e5" fill-opacity="0.8" stroke="#a9d5e5" stroke-opacity="0.8" stroke-width="0.3"/>
<path d="M656.26 101.1A101.0 101.0 0 0 1 657.9 102.24Q599.3 184.5 522.5 118.91A101.0 101.0 0 0 1 522.99 118.34Q599.3 184.5 656.26 101.1Z" fill="#a9d5e5" fill-opacity="0.8" stroke="#a9d5e5" stroke-opacity="0.8" stroke-width="0.3"/>
<path d="M658.19 102.45A101.0 101.0 0 0 1 659.8 103.63Q599.3 184.5 521.93 119.58A101.0 101.0 0 0 1 522.41 119.01Q599.3 184.5 658.19 102.45Z" fill="#a9d5e5" fill-opacity="0.8" stroke="#a9d5e5" stroke-opacity="0.8" stroke-width="0.3"/>
<path d="M661.48 104.91A101.0 101.0 0 0 1 663.13 106.23Q599.3 184.5 499.05 196.81A101.0 101.0 0 0 1 498.89 195.41Q599.3 184.5 661.48 104.91Z" fill="#84d3b8" fill-opacity="0.8" stroke="#84d3b8" stroke-opacity="0.8" stroke-width="0.3"/>
<path d="M663.54 106.57A101.0 101.0 0 0 1 665.16 107.93Q599.3 184.5 499.28 198.56A101.0 101.0 0 0 1 499.1 197.16Q599.3 184.5 663.54 106.57Z" fill="#84d3b8" fill-opacity="0.8" stroke="#84d3b8" stroke-opacity="0.8" stroke-width="0.3"/>
<path d="M668.18 110.63A101.0 101.0 0 0 1 669.59 111.97Q599.3 184.5 503.24 215.71A101.0 101.0 0 0 1 503.03 215.04Q599.3 184.5 668.18 110.63Z" fill="#84d3b8" fill-opacity="0.8" stroke="#84d3b8" stroke-opacity="0.8" stroke-width="0.3"/>
<path d="M669.93 112.31A101.0 101.0 0 0 1 671.31 113.68Q599.3 184.5 503.52 216.55A101.0 101.0 0 0 1 503.3 215.88Q599.3 184.5 669.93 112.31Z" fill="#84d3b8" fill-opacity="0.8" stroke="#84d3b8" stroke-opacity="0.8" stroke-width="0.3"/>
<path d="M671.65 114.02A101.0 101.0 0 0 1 672.99 115.43Q599.3 184.5 503.8 217.38A101.0 101.0 0 0 1 503.58 216.71Q599.3 184.5 671.65 114.02Z" fill="#84d3b8" fill-opacity="0.8" stroke="#84d3b8" stroke-opacity="0.8" stroke-width="0.3"/>
<path d="M673.32 115.78A101.0 101.0 0 0 1 674.62 117.21Q599.3 184.5 504.09 218.21A101.0 101.0 0 0 1 503.86 217.55Q599.3 184.5 673.32 115.78Z" fill="#84d3b8" fill-opacity="0.8" stroke="#84d3b8" stroke-opacity="0.8" stroke-width="0.3"/>
<path d="M675.53 118.24A101.0 101.0 0 0 1 676.9 119.85Q599.3 184.5 573.16 282.06A101.0 101.0 0 0 1 571.8 281.68Q599.3 184.5 675.53 118.24Z" fill="#a9d5e5" fill-opacity="0.75" stroke="#a9d5e5" stroke-opacity="0.75" stroke-width="0.3"/>
<path d="M677.23 120.26A101.0 101.0 0 0 1 678.56 121.9Q599.3 184.5 574.87 282.5A101.0 101.0 0 0 1 573.5 282.15Q599.3 184.5 677.23 120.26Z" fill="#a9d5e5" fill-opacity="0.75" stroke="#a9d5e5" stroke-opacity="0.75" stroke-width="0.3"/>
<path d="M683.03 128.02A101.0 101.0 0 0 1 684.2 129.79Q599.3 184.5 603.05 285.43A101.0 101.0 0 0 1 602.16 285.46Q599.3 184.5 683.03 128.02Z" fill="#93d37c" fill-opacity="0.85" stroke="#93d37c" stroke-opacity="0.85" stroke-width="0.3"/>
<path d="M684.48 130.23A101.0 101.0 0 0 1 685.6 132.03Q599.3 184.5 604.15 285.38A101.0 101.0 0 0 1 603.27 285.42Q599.3 184.5 684.48 130.23Z" fill="#93d37c" fill-opacity="0.85" stroke="#93d37c" stroke-opacity="0.85" stroke-width="0.3"/>
<path d="M685.87 132.48A101.0 101.0 0 0 1 686.94 134.31Q599.3 184.5 605.25 285.32A101.0 101.0 0 0 1 604.37 285.37Q599.3 184.5 685.87 132.48Z" fill="#93d37c" fill-opacity="0.85" stroke="#93d37c" stroke-opacity="0.85" stroke-width="0.3"/>
<path d="M687.21 134.77A101.0 101.0 0 0 1 688.23 136.62Q599.3 184.5 606.35 285.25A101.0 101.0 0 0 1 605.47 285.31Q599.3 184.5 687.21 134.77Z" fill="#93d37c" fill-opacity="0.85" stroke="#93d37c" stroke-opacity="0.85" stroke-width="0.3"/>
<path d="M694.9 152.0Q599.3 184.5 657.6 267.0" fill="none" stroke="#84d3b8" stroke-opacity="0.64" stroke-width="0.88"/>
<path d="M697.3 160.07A101.0 101.0 0 0 1 697.87 162.47Q599.3 184.5 664.22 261.87A101.0 101.0 0 0 1 663.68 262.32Q599.3 184.5 697.3 160.07Z" fill="#93d37c" fill-opacity="0.85" stroke="#93d37c" stroke-opacity="0.85" stroke-width="0.3"/>
<path d="M698 163.07A101.0 101.0 0 0 1 698.49 165.49Q599.3 184.5 664.89 261.3A101.0 101.0 0 0 1 664.36 261.76Q599.3 184.5 698 163.07Z" fill="#93d37c" fill-opacity="0.85" stroke="#93d37c" stroke-opacity="0.85" stroke-width="0.3"/>
<path d="M691.57 143.42A101.0 101.0 0 0 1 692.41 145.36Q599.3 184.5 517.07 125.85A101.0 101.0 0 0 1 517.49 125.28Q599.3 184.5 691.57 143.42Z" fill="#93d37c" fill-opacity="0.8" stroke="#93d37c" stroke-opacity="0.8" stroke-width="0.3"/>
<path d="M692.61 145.85A101.0 101.0 0 0 1 693.4 147.81Q599.3 184.5 516.57 126.57A101.0 101.0 0 0 1 516.97 125.99Q599.3 184.5 692.61 145.85Z" fill="#93d37c" fill-opacity="0.8" stroke="#93d37c" stroke-opacity="0.8" stroke-width="0.3"/>
<path d="M699.75 173.94A101.0 101.0 0 0 1 699.92 175.7Q599.3 184.5 512.16 133.44A101.0 101.0 0 0 1 512.39 133.05Q599.3 184.5 699.75 173.94Z" fill="#ee9b52" fill-opacity="0.85" stroke="#ee9b52" stroke-opacity="0.85" stroke-width="0.3"/>
<path d="M700.01 176.87A101.0 101.0 0 0 1 700.13 178.63Q599.3 184.5 511.77 134.1A101.0 101.0 0 0 1 512 133.71Q599.3 184.5 700.01 176.87Z" fill="#ee9b52" fill-opacity="0.85" stroke="#ee9b52" stroke-opacity="0.85" stroke-width="0.3"/>
<path d="M700.19 179.8A101.0 101.0 0 0 1 700.26 181.56Q599.3 184.5 511.39 134.77A101.0 101.0 0 0 1 511.62 134.37Q599.3 184.5 700.19 179.8Z" fill="#ee9b52" fill-opacity="0.85" stroke="#ee9b52" stroke-opacity="0.85" stroke-width="0.3"/>
<path d="M700.3 183.4Q599.3 184.5 526.1 114.9" fill="none" stroke="#ee9b52" stroke-opacity="0.60" stroke-width="1.06"/>
<path d="M700.3 185.8Q599.3 184.5 525.3 115.8" fill="none" stroke="#ee9b52" stroke-opacity="0.60" stroke-width="1.06"/>
<path d="M700.2 188.1Q599.3 184.5 524.5 116.7" fill="none" stroke="#ee9b52" stroke-opacity="0.60" stroke-width="1.06"/>
<path d="M699.8 174.2Q599.3 184.5 647.7 95.9" fill="none" stroke="#a9d5e5" stroke-opacity="0.56" stroke-width="0.85"/>
<path d="M700.0 176.1Q599.3 184.5 646.9 95.4" fill="none" stroke="#a9d5e5" stroke-opacity="0.56" stroke-width="0.85"/>
<path d="M699.9 193.7Q599.3 184.5 518.4 244.9" fill="none" stroke="#ee9b52" stroke-opacity="0.56" stroke-width="0.88"/>
<path d="M699.5 197.2Q599.3 184.5 619.1 283.5" fill="none" stroke="#ee9b52" stroke-opacity="0.56" stroke-width="0.71"/>
<path d="M692.8 222.7Q599.3 184.5 498.7 175.4" fill="none" stroke="#e384b1" stroke-opacity="0.64" stroke-width="0.73"/>
<path d="M692.3 223.8Q599.3 184.5 498.6 176.3" fill="none" stroke="#e384b1" stroke-opacity="0.64" stroke-width="0.73"/>
<path d="M691.9 224.9Q599.3 184.5 498.6 177.2" fill="none" stroke="#e384b1" stroke-opacity="0.64" stroke-width="0.73"/>
<path d="M691.4 226.0Q599.3 184.5 498.5 178.1" fill="none" stroke="#e384b1" stroke-opacity="0.64" stroke-width="0.73"/>
<path d="M690.9 227.0Q599.3 184.5 498.4 179.0" fill="none" stroke="#e384b1" stroke-opacity="0.64" stroke-width="0.73"/>
<path d="M690.4 228.1Q599.3 184.5 498.4 180.0" fill="none" stroke="#e384b1" stroke-opacity="0.64" stroke-width="0.73"/>
<path d="M682.03 242.43A101.0 101.0 0 0 1 680.49 244.58Q599.3 184.5 505.01 220.7A101.0 101.0 0 0 1 503.8 217.38Q599.3 184.5 682.03 242.43Z" fill="#e384b1" fill-opacity="0.65" stroke="#e384b1" stroke-opacity="0.65" stroke-width="0.3"/>
<path d="M674.0 252.5Q599.3 184.5 517.3 125.5" fill="none" stroke="#e384b1" stroke-opacity="0.56" stroke-width="0.74"/>
<path d="M672.8 253.8Q599.3 184.5 516.9 126.1" fill="none" stroke="#e384b1" stroke-opacity="0.56" stroke-width="0.74"/>
<path d="M675.8 250.5Q599.3 184.5 570.2 281.2" fill="none" stroke="#ee9b52" stroke-opacity="0.56" stroke-width="0.79"/>
<path d="M662.6 263.2Q599.3 184.5 524.1 251.9" fill="none" stroke="#c47cc4" stroke-opacity="0.64" stroke-width="0.65"/>
<path d="M661.5 264.0Q599.3 184.5 524.7 252.5" fill="none" stroke="#c47cc4" stroke-opacity="0.64" stroke-width="0.65"/>
<path d="M660.5 264.8Q599.3 184.5 525.3 253.2" fill="none" stroke="#c47cc4" stroke-opacity="0.64" stroke-width="0.65"/>
<path d="M629.9 280.8Q599.3 184.5 507.4 226.4" fill="none" stroke="#c47cc4" stroke-opacity="0.60" stroke-width="0.97"/>
<path d="M627.6 281.4Q599.3 184.5 507.9 227.4" fill="none" stroke="#c47cc4" stroke-opacity="0.60" stroke-width="0.97"/>
<path d="M625.4 282.1Q599.3 184.5 508.4 228.5" fill="none" stroke="#c47cc4" stroke-opacity="0.60" stroke-width="0.97"/>
<path d="M598.7 285.5Q599.3 184.5 686.4 235.7" fill="none" stroke="#c47cc4" stroke-opacity="0.64" stroke-width="0.88"/>
<path d="M596.5 285.5Q599.3 184.5 687.0 234.5" fill="none" stroke="#c47cc4" stroke-opacity="0.64" stroke-width="0.88"/>
<path d="M594.3 285.4Q599.3 184.5 687.7 233.4" fill="none" stroke="#c47cc4" stroke-opacity="0.64" stroke-width="0.88"/>
<path d="M592.1 285.2Q599.3 184.5 688.3 232.2" fill="none" stroke="#c47cc4" stroke-opacity="0.64" stroke-width="0.88"/>
<path d="M619.5 283.5Q599.3 184.5 577.2 283.1" fill="none" stroke="#f2bcc8" stroke-opacity="0.60" stroke-width="1.45"/>
<path d="M616.9 284.0Q599.3 184.5 579.4 283.5" fill="none" stroke="#f2bcc8" stroke-opacity="0.60" stroke-width="1.45"/>
<path d="M575.72 282.71A101.0 101.0 0 0 1 574.01 282.28Q599.3 184.5 590.85 83.85A101.0 101.0 0 0 1 591.9 83.77Q599.3 184.5 575.72 282.71Z" fill="#84d3b8" fill-opacity="0.7" stroke="#84d3b8" stroke-opacity="0.7" stroke-width="0.3"/>
<path d="M561.46 278.15A101.0 101.0 0 0 1 553.45 274.49Q599.3 184.5 664.22 107.13A101.0 101.0 0 0 1 664.63 107.47Q599.3 184.5 561.46 278.15Z" fill="#f2bcc8" fill-opacity="0.8" stroke="#f2bcc8" stroke-opacity="0.8" stroke-width="0.3"/>
<path d="M570.8 281.4Q599.3 184.5 666.0 260.3" fill="none" stroke="#f2bcc8" stroke-opacity="0.56" stroke-width="0.93"/>
<path d="M568.7 280.8Q599.3 184.5 666.7 259.7" fill="none" stroke="#f2bcc8" stroke-opacity="0.56" stroke-width="0.93"/>
<path d="M530.42 258.37A101.0 101.0 0 0 1 528.51 256.54Q599.3 184.5 686.77 235A101.0 101.0 0 0 1 685.87 236.52Q599.3 184.5 530.42 258.37Z" fill="#f2bcc8" fill-opacity="0.7" stroke="#f2bcc8" stroke-opacity="0.7" stroke-width="0.3"/>
<path d="M568.09 88.44A101.0 101.0 0 0 1 574.87 86.5Q599.3 184.5 696.63 157.51A101.0 101.0 0 0 1 697.13 159.38Q599.3 184.5 568.09 88.44Z" fill="#93d37c" fill-opacity="0.85" stroke="#93d37c" stroke-opacity="0.85" stroke-width="0.3"/>
<path d="M641.98 276.04A101.0 101.0 0 0 1 633.35 279.59Q599.3 184.5 688.64 137.39A101.0 101.0 0 0 1 690.23 140.54Q599.3 184.5 641.98 276.04Z" fill="#93d37c" fill-opacity="0.85" stroke="#93d37c" stroke-opacity="0.85" stroke-width="0.3"/>
<path d="M578.3 85.71A101.0 101.0 0 0 1 585.59 84.43Q599.3 184.5 698.51 203.43A101.0 101.0 0 0 1 697.08 209.79Q599.3 184.5 578.3 85.71Z" fill="#ee9b52" fill-opacity="0.88" stroke="#ee9b52" stroke-opacity="0.88" stroke-width="0.3"/>
<path d="M586.99 84.25A101.0 101.0 0 0 1 590.5 83.88Q599.3 184.5 543.55 100.28A101.0 101.0 0 0 1 548.8 97.03Q599.3 184.5 586.99 84.25Z" fill="#e2f59c" fill-opacity="0.95" stroke="#e2f59c" stroke-opacity="0.95" stroke-width="0.3"/>
<path d="M517.07 125.85A101.0 101.0 0 0 1 517.9 124.71Q599.3 184.5 502.21 212.34A101.0 101.0 0 0 1 501.09 208.08Q599.3 184.5 517.07 125.85Z" fill="#e2f59c" fill-opacity="0.95" stroke="#e2f59c" stroke-opacity="0.95" stroke-width="0.3"/>
<path d="M500.43 205.15A101.0 101.0 0 0 1 499.9 202.39Q599.3 184.5 539.36 103.21A101.0 101.0 0 0 1 539.79 102.89Q599.3 184.5 500.43 205.15Z" fill="#6f69b9" fill-opacity="0.92" stroke="#6f69b9" stroke-opacity="0.92" stroke-width="0.3"/>
<path d="M508.68 229.09A101.0 101.0 0 0 1 507.18 225.9Q599.3 184.5 541.08 101.97A101.0 101.0 0 0 1 541.51 101.66Q599.3 184.5 508.68 229.09Z" fill="#6f69b9" fill-opacity="0.92" stroke="#6f69b9" stroke-opacity="0.92" stroke-width="0.3"/>
<path d="M513.28 237.42A101.0 101.0 0 0 1 511.13 233.77Q599.3 184.5 542.82 100.77A101.0 101.0 0 0 1 543.26 100.47Q599.3 184.5 513.28 237.42Z" fill="#6f69b9" fill-opacity="0.92" stroke="#6f69b9" stroke-opacity="0.92" stroke-width="0.3"/>
<path d="M517.18 243.29A101.0 101.0 0 0 1 515.37 240.69Q599.3 184.5 544.59 99.6A101.0 101.0 0 0 1 545.03 99.32Q599.3 184.5 517.18 243.29Z" fill="#6f69b9" fill-opacity="0.92" stroke="#6f69b9" stroke-opacity="0.92" stroke-width="0.3"/>
<path d="M591.6 83.8Q599.3 184.5 698.9 167.5" fill="none" stroke="#93d37c" stroke-opacity="0.64" stroke-width="1.23"/>
<path d="M628.8 281.1Q599.3 184.5 592.5 83.7" fill="none" stroke="#f2bcc8" stroke-opacity="0.32" stroke-width="0.60"/>
<path d="M620.7 283.2Q599.3 184.5 580.9 85.2" fill="none" stroke="#ee9b52" stroke-opacity="0.32" stroke-width="0.60"/>
<path d="M693.3 147.5Q599.3 184.5 528.3 112.6" fill="none" stroke="#93d37c" stroke-opacity="0.32" stroke-width="0.60"/>
<path d="M525.5 253.5Q599.3 184.5 693.4 221.3" fill="none" stroke="#a9d5e5" stroke-opacity="0.32" stroke-width="0.60"/>
<path d="M632.3 280.0Q599.3 184.5 499.3 198.3" fill="none" stroke="#ee9b52" stroke-opacity="0.32" stroke-width="0.60"/>
<path d="M505.4 147.3Q599.3 184.5 643.3 275.4" fill="none" stroke="#a9d5e5" stroke-opacity="0.32" stroke-width="0.60"/>
<path d="M542.1 267.7Q599.3 184.5 619.7 85.6" fill="none" stroke="#93d37c" stroke-opacity="0.32" stroke-width="0.60"/>
<path d="M516.0 241.6Q599.3 184.5 699.1 168.7" fill="none" stroke="#a9d5e5" stroke-opacity="0.32" stroke-width="0.60"/>
<path d="M528.5 256.6Q599.3 184.5 688.9 231.1" fill="none" stroke="#a9d5e5" stroke-opacity="0.32" stroke-width="0.60"/>
<path d="M636.5 90.6Q599.3 184.5 672.6 253.9" fill="none" stroke="#a9d5e5" stroke-opacity="0.32" stroke-width="0.60"/>
<path d="M539.9 266.2Q599.3 184.5 699.5 197.2" fill="none" stroke="#84d3b8" stroke-opacity="0.32" stroke-width="0.60"/>
<path d="M635.9 278.6Q599.3 184.5 681.1 125.2" fill="none" stroke="#ee9b52" stroke-opacity="0.32" stroke-width="0.60"/>
<path d="M699.8 174.4Q599.3 184.5 535.8 263.0" fill="none" stroke="#a9d5e5" stroke-opacity="0.32" stroke-width="0.60"/>
<path d="M513.1 237.1Q599.3 184.5 675.8 118.6" fill="none" stroke="#84d3b8" stroke-opacity="0.32" stroke-width="0.60"/>
<path d="M654.9 268.8Q599.3 184.5 561.3 90.9" fill="none" stroke="#f2bcc8" stroke-opacity="0.32" stroke-width="0.60"/>
<path d="M650.0 97.1Q599.3 184.5 640.4 276.8" fill="none" stroke="#f2bcc8" stroke-opacity="0.32" stroke-width="0.60"/>
<rect x="103" y="381" width="9.5" height="8.7" fill="#6cbde9"/>
<rect x="103" y="393.3" width="9.5" height="8.7" fill="#e2e43a"/>
<rect x="224.3" y="381" width="9.3" height="8.7" fill="#4d94c6"/>
<rect x="224.3" y="393.3" width="9.3" height="8.7" fill="#ee3a3e"/>
<text x="116.6" y="387.7" font-size="5.55" font-family="Liberation Sans, sans-serif" fill="#333">Complete (C) and single-copy (S)</text>
<text x="116.6" y="400" font-size="5.55" font-family="Liberation Sans, sans-serif" fill="#333">Fragmented (F)</text>
<text x="238" y="387.7" font-size="5.55" font-family="Liberation Sans, sans-serif" fill="#333">Complete (C) and duplicated (D)</text>
<text x="238" y="400" font-size="5.55" font-family="Liberation Sans, sans-serif" fill="#333">Missing (M)</text>
<rect x="74.4" y="406.1" width="233.91" height="18.2" fill="#6cbde9"/>
<rect x="308.31" y="406.1" width="11.09" height="18.2" fill="#4d94c6"/>
<rect x="319.4" y="406.1" width="1" height="18.2" fill="#e2e43a"/>
<rect x="320.4" y="406.1" width="2.7" height="18.2" fill="#ee3a3e"/>
<text x="81.6" y="417.8" font-size="7.6" font-family="Liberation Sans, sans-serif" fill="#1a1a1a">C:1590 [S:1518, D:72], F:6, M:18, n:1614</text>
<text x="329" y="418.4" font-size="8.3" font-family="Liberation Sans, sans-serif" fill="#1a1a1a">C:98.5%</text>
<text x="54.8" y="417.8" font-size="7.2" text-anchor="middle" font-family="Liberation Sans, sans-serif" fill="#1a1a1a">JSU-FSP</text>
<rect x="74.4" y="430.54" width="232.37" height="18.2" fill="#6cbde9"/>
<rect x="306.77" y="430.54" width="11.56" height="18.2" fill="#4d94c6"/>
<rect x="318.32" y="430.54" width="1.39" height="18.2" fill="#e2e43a"/>
<rect x="319.71" y="430.54" width="3.39" height="18.2" fill="#ee3a3e"/>
<text x="81.6" y="442.24" font-size="7.6" font-family="Liberation Sans, sans-serif" fill="#1a1a1a">C:1583 [S:1508, D:75], F:9, M:22, n:1614</text>
<text x="329" y="442.84" font-size="8.3" font-family="Liberation Sans, sans-serif" fill="#1a1a1a">C:98.1%</text>
<text x="54.8" y="442.24" font-size="7.2" text-anchor="middle" font-family="Liberation Sans, sans-serif" fill="#1a1a1a">FZCLSP</text>
<rect x="74.4" y="454.98" width="232.83" height="18.2" fill="#6cbde9"/>
<rect x="307.23" y="454.98" width="12.79" height="18.2" fill="#4d94c6"/>
<rect x="320.02" y="454.98" width="1.08" height="18.2" fill="#e2e43a"/>
<rect x="321.1" y="454.98" width="2" height="18.2" fill="#ee3a3e"/>
<text x="81.6" y="466.68" font-size="7.6" font-family="Liberation Sans, sans-serif" fill="#1a1a1a">C:1594 [S:1511, D:83], F:7, M:13, n:1614</text>
<text x="329" y="467.28" font-size="8.3" font-family="Liberation Sans, sans-serif" fill="#1a1a1a">C:98.8%</text>
<text x="54.8" y="466.68" font-size="7.2" text-anchor="middle" font-family="Liberation Sans, sans-serif" fill="#1a1a1a">DP</text>
<rect x="74.4" y="479.42" width="213.11" height="18.2" fill="#6cbde9"/>
<rect x="287.51" y="479.42" width="31.28" height="18.2" fill="#4d94c6"/>
<rect x="318.79" y="479.42" width="1.23" height="18.2" fill="#e2e43a"/>
<rect x="320.02" y="479.42" width="3.08" height="18.2" fill="#ee3a3e"/>
<text x="81.6" y="491.12" font-size="7.6" font-family="Liberation Sans, sans-serif" fill="#1a1a1a">C:1586 [S:1383, D:203], F:8, M:20, n:1614</text>
<text x="329" y="491.72" font-size="8.3" font-family="Liberation Sans, sans-serif" fill="#1a1a1a">C:98.3%</text>
<text x="54.8" y="491.12" font-size="7.2" text-anchor="middle" font-family="Liberation Sans, sans-serif" fill="#1a1a1a">YZDP</text>
<rect x="74.4" y="503.86" width="236.99" height="18.2" fill="#6cbde9"/>
<rect x="311.39" y="503.86" width="6.93" height="18.2" fill="#4d94c6"/>
<rect x="318.32" y="503.86" width="1.23" height="18.2" fill="#e2e43a"/>
<rect x="319.56" y="503.86" width="3.54" height="18.2" fill="#ee3a3e"/>
<text x="81.6" y="515.56" font-size="7.6" font-family="Liberation Sans, sans-serif" fill="#1a1a1a">C:1583 [S:1538, D:45], F:8, M:23, n:1614</text>
<text x="329" y="516.16" font-size="8.3" font-family="Liberation Sans, sans-serif" fill="#1a1a1a">C:98.1%</text>
<text x="54.8" y="515.56" font-size="7.2" text-anchor="middle" font-family="Liberation Sans, sans-serif" fill="#1a1a1a">FZDP</text>
<rect x="74.4" y="528.3" width="210.18" height="18.2" fill="#6cbde9"/>
<rect x="284.58" y="528.3" width="33.59" height="18.2" fill="#4d94c6"/>
<rect x="318.17" y="528.3" width="1.39" height="18.2" fill="#e2e43a"/>
<rect x="319.56" y="528.3" width="3.54" height="18.2" fill="#ee3a3e"/>
<text x="81.6" y="540" font-size="7.6" font-family="Liberation Sans, sans-serif" fill="#1a1a1a">C:1582 [S:1364, D:218], F:9, M:23, n:1614</text>
<text x="329" y="540.6" font-size="8.3" font-family="Liberation Sans, sans-serif" fill="#1a1a1a">C:98.0%</text>
<text x="54.8" y="540" font-size="7.2" text-anchor="middle" font-family="Liberation Sans, sans-serif" fill="#1a1a1a">JSDP</text>
<rect x="74.4" y="552.74" width="238.53" height="18.2" fill="#6cbde9"/>
<rect x="312.93" y="552.74" width="6.47" height="18.2" fill="#4d94c6"/>
<rect x="319.4" y="552.74" width="1" height="18.2" fill="#e2e43a"/>
<rect x="320.4" y="552.74" width="2.7" height="18.2" fill="#ee3a3e"/>
<text x="81.6" y="564.44" font-size="7.6" font-family="Liberation Sans, sans-serif" fill="#1a1a1a">C:1590 [S:1548, D:42], F:6, M:18, n:1614</text>
<text x="329" y="565.04" font-size="8.3" font-family="Liberation Sans, sans-serif" fill="#1a1a1a">C:98.5%</text>
<text x="54.8" y="564.44" font-size="7.2" text-anchor="middle" font-family="Liberation Sans, sans-serif" fill="#e8322c">Hutou</text>
<rect x="74.4" y="577.18" width="234.68" height="18.2" fill="#6cbde9"/>
<rect x="309.08" y="577.18" width="8.01" height="18.2" fill="#4d94c6"/>
<rect x="317.09" y="577.18" width="2.47" height="18.2" fill="#e2e43a"/>
<rect x="319.56" y="577.18" width="3.54" height="18.2" fill="#ee3a3e"/>
<text x="81.6" y="588.88" font-size="7.6" font-family="Liberation Sans, sans-serif" fill="#1a1a1a">C:1575 [S:1523, D:52], F:16, M:23, n:1614</text>
<text x="329" y="589.48" font-size="8.3" font-family="Liberation Sans, sans-serif" fill="#1a1a1a">C:97.6%</text>
<text x="54.8" y="588.88" font-size="7.2" text-anchor="middle" font-family="Liberation Sans, sans-serif" fill="#1a1a1a">MP</text>
<g transform="translate(25.5,415.4) scale(1.12)"><ellipse cx="4.45" cy="-0.56" rx="4.64" ry="3.57" transform="rotate(-8.5 4.45 -0.56)" fill="#fbfbf8" stroke="#dcddd5" stroke-width="0.3"/><ellipse cx="0.97" cy="3.71" rx="4.61" ry="3.6" transform="rotate(77.57 0.97 3.71)" fill="#e9eae3" stroke="#dcddd5" stroke-width="0.3"/><ellipse cx="-3.18" cy="2.69" rx="5.03" ry="3.06" transform="rotate(134.91 -3.18 2.69)" fill="#f7f7f3" stroke="#dcddd5" stroke-width="0.3"/><ellipse cx="-3.81" cy="-2.02" rx="4.43" ry="3.57" transform="rotate(212.05 -3.81 -2.02)" fill="#f7f7f3" stroke="#dcddd5" stroke-width="0.3"/><ellipse cx="2.19" cy="-3.32" rx="4.2" ry="3.69" transform="rotate(299.06 2.19 -3.32)" fill="#f1f1ec" stroke="#dcddd5" stroke-width="0.3"/><ellipse cx="0.3" cy="0" rx="4.2" ry="3.6" fill="#fafaf6" stroke="#e2e3db" stroke-width="0.3"/><ellipse cx="0.63" cy="1.85" rx="2.4" ry="1.6" fill="#f3f3ee" stroke="#e4e5de" stroke-width="0.25"/><ellipse cx="-1.45" cy="1.82" rx="2.4" ry="1.6" fill="#f3f3ee" stroke="#e4e5de" stroke-width="0.25"/><ellipse cx="0.28" cy="1.6" rx="2.4" ry="1.6" fill="#f3f3ee" stroke="#e4e5de" stroke-width="0.25"/></g>
<g transform="translate(25.5,441) scale(1.12)"><ellipse cx="4.5" cy="0.13" rx="4.27" ry="3.77" transform="rotate(1.95 4.5 0.13)" fill="#f1f1ec" stroke="#dcddd5" stroke-width="0.3"/><ellipse cx="2.85" cy="2.94" rx="4.93" ry="3.01" transform="rotate(50.64 2.85 2.94)" fill="#f7f7f3" stroke="#dcddd5" stroke-width="0.3"/><ellipse cx="-1.75" cy="3.5" rx="4.68" ry="3.58" transform="rotate(112.88 -1.75 3.5)" fill="#f1f1ec" stroke="#dcddd5" stroke-width="0.3"/><ellipse cx="-4.36" cy="0.95" rx="4.1" ry="2.99" transform="rotate(165.59 -4.36 0.95)" fill="#fdfdfb" stroke="#dcddd5" stroke-width="0.3"/><ellipse cx="-4.1" cy="-1.57" rx="4.75" ry="2.99" transform="rotate(204.4 -4.1 -1.57)" fill="#f1f1ec" stroke="#dcddd5" stroke-width="0.3"/><ellipse cx="-1.47" cy="-3.59" rx="5.11" ry="3.22" transform="rotate(250.87 -1.47 -3.59)" fill="#fdfdfb" stroke="#dcddd5" stroke-width="0.3"/><ellipse cx="2.7" cy="-3.04" rx="4.43" ry="2.91" transform="rotate(306.9 2.7 -3.04)" fill="#e9eae3" stroke="#dcddd5" stroke-width="0.3"/><ellipse cx="0.3" cy="0" rx="4.2" ry="3.6" fill="#fafaf6" stroke="#e2e3db" stroke-width="0.3"/><ellipse cx="0.9" cy="0.66" rx="2.4" ry="1.6" fill="#f3f3ee" stroke="#e4e5de" stroke-width="0.25"/><ellipse cx="1.91" cy="-0.42" rx="2.4" ry="1.6" fill="#f3f3ee" stroke="#e4e5de" stroke-width="0.25"/><ellipse cx="-0.6" cy="-0.31" rx="2.4" ry="1.6" fill="#f3f3ee" stroke="#e4e5de" stroke-width="0.25"/></g>
<g transform="translate(25,465.4) scale(1.12)"><ellipse cx="-3" cy="6" rx="3" ry="2.5" fill="#c9d6c4"/><ellipse cx="4.45" cy="-0.56" rx="4.86" ry="2.97" transform="rotate(-8.44 4.45 -0.56)" fill="#e9eae3" stroke="#dcddd5" stroke-width="0.3"/><ellipse cx="3.25" cy="2.63" rx="4.41" ry="3.23" transform="rotate(43.81 3.25 2.63)" fill="#e9eae3" stroke="#dcddd5" stroke-width="0.3"/><ellipse cx="-0.15" cy="3.8" rx="4.74" ry="3.42" transform="rotate(91.89 -0.15 3.8)" fill="#e9eae3" stroke="#dcddd5" stroke-width="0.3"/><ellipse cx="-4.32" cy="1.08" rx="4.26" ry="3.59" transform="rotate(163.53 -4.32 1.08)" fill="#fbfbf8" stroke="#dcddd5" stroke-width="0.3"/><ellipse cx="-4.25" cy="-1.25" rx="4.18" ry="3.61" transform="rotate(199.16 -4.25 -1.25)" fill="#f7f7f3" stroke="#dcddd5" stroke-width="0.3"/><ellipse cx="-0.8" cy="-3.74" rx="4.62" ry="3.3" transform="rotate(259.77 -0.8 -3.74)" fill="#f7f7f3" stroke="#dcddd5" stroke-width="0.3"/><ellipse cx="3.11" cy="-2.75" rx="4.74" ry="3.29" transform="rotate(313.71 3.11 -2.75)" fill="#fbfbf8" stroke="#dcddd5" stroke-width="0.3"/><ellipse cx="0.3" cy="0" rx="4.2" ry="3.6" fill="#fafaf6" stroke="#e2e3db" stroke-width="0.3"/><ellipse cx="0.65" cy="0.68" rx="2.4" ry="1.6" fill="#f3f3ee" stroke="#e4e5de" stroke-width="0.25"/><ellipse cx="-1.27" cy="-1.63" rx="2.4" ry="1.6" fill="#f3f3ee" stroke="#e4e5de" stroke-width="0.25"/><ellipse cx="-0.84" cy="0.75" rx="2.4" ry="1.6" fill="#f3f3ee" stroke="#e4e5de" stroke-width="0.25"/><circle cx="0" cy="-0.5" r="1.1" fill="#e2e6b8"/></g>
<g transform="translate(25.8,490.6) scale(1.12)"><ellipse cx="4.41" cy="0.76" rx="5.04" ry="3.52" transform="rotate(11.5 4.41 0.76)" fill="#f7f7f3" stroke="#dcddd5" stroke-width="0.3"/><ellipse cx="2.92" cy="2.89" rx="5.68" ry="3.54" transform="rotate(49.54 2.92 2.89)" fill="#fbfbf8" stroke="#dcddd5" stroke-width="0.3"/><ellipse cx="0.07" cy="3.8" rx="4.87" ry="3.48" transform="rotate(89.07 0.07 3.8)" fill="#fbfbf8" stroke="#dcddd5" stroke-width="0.3"/><ellipse cx="-2.58" cy="3.11" rx="4.71" ry="3.63" transform="rotate(124.97 -2.58 3.11)" fill="#fdfdfb" stroke="#dcddd5" stroke-width="0.3"/><ellipse cx="-4.42" cy="0.72" rx="5.75" ry="3.49" transform="rotate(169.06 -4.42 0.72)" fill="#e9eae3" stroke="#dcddd5" stroke-width="0.3"/><ellipse cx="-3.15" cy="-2.71" rx="4.66" ry="3.21" transform="rotate(225.56 -3.15 -2.71)" fill="#e9eae3" stroke="#dcddd5" stroke-width="0.3"/><ellipse cx="0.42" cy="-3.78" rx="4.98" ry="3.59" transform="rotate(275.35 0.42 -3.78)" fill="#e9eae3" stroke="#dcddd5" stroke-width="0.3"/><ellipse cx="3.52" cy="-2.36" rx="5.26" ry="2.89" transform="rotate(321.51 3.52 -2.36)" fill="#f7f7f3" stroke="#dcddd5" stroke-width="0.3"/><ellipse cx="0.3" cy="0" rx="4.2" ry="3.6" fill="#fafaf6" stroke="#e2e3db" stroke-width="0.3"/><ellipse cx="0.4" cy="1.78" rx="2.4" ry="1.6" fill="#f3f3ee" stroke="#e4e5de" stroke-width="0.25"/><ellipse cx="0.59" cy="-0.1" rx="2.4" ry="1.6" fill="#f3f3ee" stroke="#e4e5de" stroke-width="0.25"/><ellipse cx="-1.25" cy="-0.87" rx="2.4" ry="1.6" fill="#f3f3ee" stroke="#e4e5de" stroke-width="0.25"/><circle cx="0" cy="0" r="0.6" fill="#c8c8a0"/></g>
<g transform="translate(24.8,512.5) scale(1.12)"><ellipse cx="0" cy="5.5" rx="2.4" ry="2" fill="#b9d4ac"/><ellipse cx="4.42" cy="0.73" rx="5.22" ry="1.96" transform="rotate(11.04 4.42 0.73)" fill="#f1f1ec" stroke="#dcddd5" stroke-width="0.3"/><ellipse cx="3" cy="2.83" rx="4.18" ry="2.44" transform="rotate(48.16 3 2.83)" fill="#fdfdfb" stroke="#dcddd5" stroke-width="0.3"/><ellipse cx="-2.86" cy="2.93" rx="4.17" ry="2.03" transform="rotate(129.49 -2.86 2.93)" fill="#fdfdfb" stroke="#dcddd5" stroke-width="0.3"/><ellipse cx="-4.45" cy="-0.57" rx="4.81" ry="2.03" transform="rotate(188.69 -4.45 -0.57)" fill="#e9eae3" stroke="#dcddd5" stroke-width="0.3"/><ellipse cx="-2.76" cy="-3" rx="4.42" ry="2.11" transform="rotate(232.12 -2.76 -3)" fill="#f7f7f3" stroke="#dcddd5" stroke-width="0.3"/><ellipse cx="1.84" cy="-3.47" rx="4.25" ry="1.87" transform="rotate(294.2 1.84 -3.47)" fill="#e9eae3" stroke="#dcddd5" stroke-width="0.3"/><ellipse cx="0.3" cy="0" rx="4.2" ry="3.6" fill="#fafaf6" stroke="#e2e3db" stroke-width="0.3"/><ellipse cx="1.43" cy="-1.5" rx="2.4" ry="1.6" fill="#f3f3ee" stroke="#e4e5de" stroke-width="0.25"/><ellipse cx="-1.68" cy="0.25" rx="2.4" ry="1.6" fill="#f3f3ee" stroke="#e4e5de" stroke-width="0.25"/><ellipse cx="-0.79" cy="-1.71" rx="2.4" ry="1.6" fill="#f3f3ee" stroke="#e4e5de" stroke-width="0.25"/></g>
<g transform="translate(25,537.5) scale(1.12)"><ellipse cx="4.44" cy="0.6" rx="4.49" ry="3.59" transform="rotate(9.07 4.44 0.6)" fill="#fdfdfb" stroke="#dcddd5" stroke-width="0.3"/><ellipse cx="3.07" cy="2.78" rx="5.08" ry="3.13" transform="rotate(46.92 3.07 2.78)" fill="#f7f7f3" stroke="#dcddd5" stroke-width="0.3"/><ellipse cx="-1.63" cy="3.54" rx="4.23" ry="3.69" transform="rotate(111.25 -1.63 3.54)" fill="#fdfdfb" stroke="#dcddd5" stroke-width="0.3"/><ellipse cx="-4.18" cy="1.42" rx="4.49" ry="2.97" transform="rotate(158.11 -4.18 1.42)" fill="#fbfbf8" stroke="#dcddd5" stroke-width="0.3"/><ellipse cx="-3.96" cy="-1.81" rx="5.16" ry="3.3" transform="rotate(208.49 -3.96 -1.81)" fill="#f7f7f3" stroke="#dcddd5" stroke-width="0.3"/><ellipse cx="-0.62" cy="-3.76" rx="4.26" ry="3.11" transform="rotate(262.11 -0.62 -3.76)" fill="#e9eae3" stroke="#dcddd5" stroke-width="0.3"/><ellipse cx="3.37" cy="-2.51" rx="4.09" ry="3.13" transform="rotate(318.59 3.37 -2.51)" fill="#e9eae3" stroke="#dcddd5" stroke-width="0.3"/><ellipse cx="0.3" cy="0" rx="4.2" ry="3.6" fill="#fafaf6" stroke="#e2e3db" stroke-width="0.3"/><ellipse cx="2.21" cy="-0.57" rx="2.4" ry="1.6" fill="#f3f3ee" stroke="#e4e5de" stroke-width="0.25"/><ellipse cx="1.13" cy="0.69" rx="2.4" ry="1.6" fill="#f3f3ee" stroke="#e4e5de" stroke-width="0.25"/><ellipse cx="-1.57" cy="1.36" rx="2.4" ry="1.6" fill="#f3f3ee" stroke="#e4e5de" stroke-width="0.25"/></g>
<g transform="translate(25,562.5) scale(1.12)"><ellipse cx="4.48" cy="0.33" rx="5.66" ry="2.82" transform="rotate(5.06 4.48 0.33)" fill="#e9eae3" stroke="#dcddd5" stroke-width="0.3"/><ellipse cx="3.03" cy="2.81" rx="4.48" ry="3.61" transform="rotate(47.7 3.03 2.81)" fill="#fdfdfb" stroke="#dcddd5" stroke-width="0.3"/><ellipse cx="1.35" cy="3.62" rx="5.76" ry="3.16" transform="rotate(72.5 1.35 3.62)" fill="#fbfbf8" stroke="#dcddd5" stroke-width="0.3"/><ellipse cx="-2.63" cy="3.08" rx="4.8" ry="3.02" transform="rotate(125.77 -2.63 3.08)" fill="#fbfbf8" stroke="#dcddd5" stroke-width="0.3"/><ellipse cx="-4.07" cy="1.63" rx="5.08" ry="2.94" transform="rotate(154.68 -4.07 1.63)" fill="#f1f1ec" stroke="#dcddd5" stroke-width="0.3"/><ellipse cx="-4.31" cy="-1.1" rx="4.89" ry="3.09" transform="rotate(196.75 -4.31 -1.1)" fill="#f1f1ec" stroke="#dcddd5" stroke-width="0.3"/><ellipse cx="-1.72" cy="-3.51" rx="4.65" ry="3.23" transform="rotate(247.56 -1.72 -3.51)" fill="#fdfdfb" stroke="#dcddd5" stroke-width="0.3"/><ellipse cx="0.02" cy="-3.8" rx="4.85" ry="3.53" transform="rotate(270.23 0.02 -3.8)" fill="#f1f1ec" stroke="#dcddd5" stroke-width="0.3"/><ellipse cx="3.38" cy="-2.51" rx="5.17" ry="3.41" transform="rotate(318.61 3.38 -2.51)" fill="#fbfbf8" stroke="#dcddd5" stroke-width="0.3"/><ellipse cx="0.3" cy="0" rx="4.2" ry="3.6" fill="#fafaf6" stroke="#e2e3db" stroke-width="0.3"/><ellipse cx="-0.26" cy="-1.04" rx="2.4" ry="1.6" fill="#f3f3ee" stroke="#e4e5de" stroke-width="0.25"/><ellipse cx="1.96" cy="-0.04" rx="2.4" ry="1.6" fill="#f3f3ee" stroke="#e4e5de" stroke-width="0.25"/><ellipse cx="-1.72" cy="-1.24" rx="2.4" ry="1.6" fill="#f3f3ee" stroke="#e4e5de" stroke-width="0.25"/><circle cx="0" cy="-0.5" r="1.1" fill="#e2e6b8"/></g>
<g transform="translate(25,585.4) scale(1.12)"><path d="M1 3 L8 9 L4 10 L0 6 Z" fill="#86b873"/><path d="M-1 4 L-5 9 L-1 8Z" fill="#a5cf8e"/><ellipse cx="4.47" cy="-0.4" rx="4.81" ry="2.26" transform="rotate(-6.08 4.47 -0.4)" fill="#fbfbf8" stroke="#dcddd5" stroke-width="0.3"/><ellipse cx="1.81" cy="3.48" rx="5.34" ry="2.18" transform="rotate(66.32 1.81 3.48)" fill="#fdfdfb" stroke="#dcddd5" stroke-width="0.3"/><ellipse cx="-1.83" cy="3.47" rx="4.83" ry="2.43" transform="rotate(114 -1.83 3.47)" fill="#f1f1ec" stroke="#dcddd5" stroke-width="0.3"/><ellipse cx="-4.45" cy="-0.55" rx="4.27" ry="1.94" transform="rotate(188.29 -4.45 -0.55)" fill="#f7f7f3" stroke="#dcddd5" stroke-width="0.3"/><ellipse cx="-1.86" cy="-3.46" rx="4.2" ry="1.85" transform="rotate(245.63 -1.86 -3.46)" fill="#f7f7f3" stroke="#dcddd5" stroke-width="0.3"/><ellipse cx="1.5" cy="-3.58" rx="4.26" ry="1.86" transform="rotate(289.52 1.5 -3.58)" fill="#f1f1ec" stroke="#dcddd5" stroke-width="0.3"/><ellipse cx="0.3" cy="0" rx="4.2" ry="3.6" fill="#fafaf6" stroke="#e2e3db" stroke-width="0.3"/><ellipse cx="-0.39" cy="1.42" rx="2.4" ry="1.6" fill="#f3f3ee" stroke="#e4e5de" stroke-width="0.25"/><ellipse cx="-1.32" cy="0.45" rx="2.4" ry="1.6" fill="#f3f3ee" stroke="#e4e5de" stroke-width="0.25"/><ellipse cx="-0.5" cy="-0.83" rx="2.4" ry="1.6" fill="#f3f3ee" stroke="#e4e5de" stroke-width="0.25"/></g>
<path d="M73.4 400.5 V600.3 H323.5" fill="none" stroke="#111" stroke-width="1.3"/>
<line x1="73.8" y1="600.3" x2="73.8" y2="603" stroke="#111" stroke-width="0.9"/>
<text x="73.8" y="609.3" font-size="7" text-anchor="middle" font-family="Liberation Sans, sans-serif" fill="#222">0</text>
<line x1="123.5" y1="600.3" x2="123.5" y2="603" stroke="#111" stroke-width="0.9"/>
<text x="123.5" y="609.3" font-size="7" text-anchor="middle" font-family="Liberation Sans, sans-serif" fill="#222">20</text>
<line x1="173.2" y1="600.3" x2="173.2" y2="603" stroke="#111" stroke-width="0.9"/>
<text x="173.2" y="609.3" font-size="7" text-anchor="middle" font-family="Liberation Sans, sans-serif" fill="#222">40</text>
<line x1="222.9" y1="600.3" x2="222.9" y2="603" stroke="#111" stroke-width="0.9"/>
<text x="222.9" y="609.3" font-size="7" text-anchor="middle" font-family="Liberation Sans, sans-serif" fill="#222">60</text>
<line x1="272.6" y1="600.3" x2="272.6" y2="603" stroke="#111" stroke-width="0.9"/>
<text x="272.6" y="609.3" font-size="7" text-anchor="middle" font-family="Liberation Sans, sans-serif" fill="#222">80</text>
<line x1="322.3" y1="600.3" x2="322.3" y2="603" stroke="#111" stroke-width="0.9"/>
<text x="322.3" y="609.3" font-size="7" text-anchor="middle" font-family="Liberation Sans, sans-serif" fill="#222">100</text>
<text x="207" y="621" font-size="7.65" text-anchor="middle" font-family="Liberation Sans, sans-serif" fill="#222">BUSCO completeness</text>
<path d="M414.1 400.2 V600.3 H797.8" fill="none" stroke="#222" stroke-width="1.1"/>
<line x1="412.9" y1="571.4" x2="414.1" y2="571.4" stroke="#222" stroke-width="0.7"/>
<text x="412.4" y="573.2" font-size="5.8" text-anchor="end" font-family="Liberation Sans, sans-serif" fill="#222">0</text>
<line x1="412.9" y1="538.05" x2="414.1" y2="538.05" stroke="#222" stroke-width="0.7"/>
<text x="412.4" y="539.85" font-size="5.8" text-anchor="end" font-family="Liberation Sans, sans-serif" fill="#222">10</text>
<line x1="412.9" y1="504.7" x2="414.1" y2="504.7" stroke="#222" stroke-width="0.7"/>
<text x="412.4" y="506.5" font-size="5.8" text-anchor="end" font-family="Liberation Sans, sans-serif" fill="#222">20</text>
<line x1="412.9" y1="471.35" x2="414.1" y2="471.35" stroke="#222" stroke-width="0.7"/>
<text x="412.4" y="473.15" font-size="5.8" text-anchor="end" font-family="Liberation Sans, sans-serif" fill="#222">30</text>
<line x1="412.9" y1="438" x2="414.1" y2="438" stroke="#222" stroke-width="0.7"/>
<text x="412.4" y="439.8" font-size="5.8" text-anchor="end" font-family="Liberation Sans, sans-serif" fill="#222">40</text>
<line x1="412.9" y1="404.65" x2="414.1" y2="404.65" stroke="#222" stroke-width="0.7"/>
<text x="412.4" y="406.45" font-size="5.8" text-anchor="end" font-family="Liberation Sans, sans-serif" fill="#222">50</text>
<text transform="translate(399.2,498.3) rotate(-90)" font-size="7.4" text-anchor="middle" font-family="Liberation Sans, sans-serif" fill="#222">LAI</text>
<path d="M436.5 441.67C436.7 443.28 437.03 448.06 437.7 451.34C438.37 454.62 439.2 458.01 440.5 461.34C441.8 464.68 443.87 468.01 445.5 471.35C447.13 474.68 449.63 478.02 450.3 481.35C450.97 484.69 449.8 487.47 449.5 491.36C449.2 495.25 448.67 499.86 448.5 504.7C448.33 509.54 449.08 515.93 448.5 520.37C447.92 524.82 446.17 528.43 445 531.38C443.83 534.33 442.5 535.83 441.5 538.05C440.5 540.27 439.67 542.61 439 544.72C438.33 546.83 437.42 548.5 437.5 550.72C437.58 552.95 438.58 555.73 439.5 558.06C440.42 560.39 442.12 562.78 443 564.73C443.88 566.68 444.72 567.79 444.8 569.73C444.88 571.68 444.22 574.46 443.5 576.4C442.78 578.35 441.67 579.74 440.5 581.4C439.33 583.07 437.17 585.57 436.5 586.41C435.83 587.24 437.17 587.24 436.5 586.41C435.83 585.57 433.67 583.07 432.5 581.4C431.33 579.74 430.22 578.35 429.5 576.4C428.78 574.46 428.12 571.68 428.2 569.73C428.28 567.79 429.12 566.68 430 564.73C430.88 562.78 432.58 560.39 433.5 558.06C434.42 555.73 435.42 552.95 435.5 550.72C435.58 548.5 434.67 546.83 434 544.72C433.33 542.61 432.5 540.27 431.5 538.05C430.5 535.83 429.17 534.33 428 531.38C426.83 528.43 425.08 524.82 424.5 520.37C423.92 515.93 424.67 509.54 424.5 504.7C424.33 499.86 423.8 495.25 423.5 491.36C423.2 487.47 422.03 484.69 422.7 481.35C423.37 478.02 425.87 474.68 427.5 471.35C429.13 468.01 431.2 464.68 432.5 461.34C433.8 458.01 434.63 454.62 435.3 451.34C435.97 448.06 436.3 443.28 436.5 441.67Z" fill="#b3dccf"/>
<line x1="436.5" y1="441.67" x2="436.5" y2="569.73" stroke="#666" stroke-width="0.6"/>
<rect x="430.35" y="484.69" width="12.3" height="40.35" fill="#9ccfbe" stroke="#4a4a4a" stroke-width="0.7"/>
<line x1="430.35" y1="503.7" x2="442.65" y2="503.7" stroke="#222" stroke-width="1"/>
<text x="436.5" y="501.1" font-size="4.9" text-anchor="middle" font-family="Liberation Sans, sans-serif" fill="#222">20.56</text>
<text x="436.5" y="608.9" font-size="6.5" text-anchor="middle" font-family="Liberation Sans, sans-serif" fill="#4a9d7f">JSU-FSP</text>
<line x1="436.5" y1="600.3" x2="436.5" y2="602.3" stroke="#333" stroke-width="0.6"/>
<path d="M479.2 456.68C479.62 458.01 480.37 461.68 481.7 464.68C483.03 467.68 485.37 471.35 487.2 474.68C489.03 478.02 491.3 481.91 492.7 484.69C494.1 487.47 495.35 487.91 495.6 491.36C495.85 494.81 495.1 500.25 494.2 505.37C493.3 510.48 491.53 517.15 490.2 522.04C488.87 526.93 487.37 531.27 486.2 534.71C485.03 538.16 484.2 539.72 483.2 542.72C482.2 545.72 480.73 549.06 480.2 552.72C479.67 556.39 480.08 560.45 480 564.73C479.92 569.01 479.92 576.12 479.7 578.4C479.48 580.68 478.92 580.68 478.7 578.4C478.48 576.12 478.48 569.01 478.4 564.73C478.32 560.45 478.73 556.39 478.2 552.72C477.67 549.06 476.2 545.72 475.2 542.72C474.2 539.72 473.37 538.16 472.2 534.71C471.03 531.27 469.53 526.93 468.2 522.04C466.87 517.15 465.1 510.48 464.2 505.37C463.3 500.25 462.55 494.81 462.8 491.36C463.05 487.91 464.3 487.47 465.7 484.69C467.1 481.91 469.37 478.02 471.2 474.68C473.03 471.35 475.37 467.68 476.7 464.68C478.03 461.68 478.78 458.01 479.2 456.68Z" fill="#eef7cc"/>
<line x1="479.2" y1="456.68" x2="479.2" y2="565.73" stroke="#666" stroke-width="0.6"/>
<rect x="473.05" y="491.36" width="12.3" height="31.35" fill="#e6f3bd" stroke="#4a4a4a" stroke-width="0.7"/>
<line x1="473.05" y1="505.37" x2="485.35" y2="505.37" stroke="#222" stroke-width="1"/>
<text x="479.2" y="502.77" font-size="4.9" text-anchor="middle" font-family="Liberation Sans, sans-serif" fill="#222">18.89</text>
<text x="479.2" y="608.9" font-size="6.5" text-anchor="middle" font-family="Liberation Sans, sans-serif" fill="#f2c14e">FZCLSP</text>
<line x1="479.2" y1="600.3" x2="479.2" y2="602.3" stroke="#333" stroke-width="0.6"/>
<path d="M523.1 450.34C523.35 451.62 523.85 455.06 524.6 458.01C525.35 460.96 526.35 464.4 527.6 468.01C528.85 471.63 530.93 475.8 532.1 479.69C533.27 483.58 534.27 485.58 534.6 491.36C534.93 497.14 534.77 507.53 534.1 514.37C533.43 521.21 532.02 526.82 530.6 532.38C529.18 537.94 526.6 543.66 525.6 547.72C524.6 551.78 524.02 554.17 524.6 556.73C525.18 559.28 527.43 560.73 529.1 563.06C530.77 565.4 534.18 567.95 534.6 570.73C535.02 573.51 533.52 576.74 531.6 579.74C529.68 582.74 524.52 587.24 523.1 588.74C521.68 590.24 524.52 590.24 523.1 588.74C521.68 587.24 516.52 582.74 514.6 579.74C512.68 576.74 511.18 573.51 511.6 570.73C512.02 567.95 515.43 565.4 517.1 563.06C518.77 560.73 521.02 559.28 521.6 556.73C522.18 554.17 521.6 551.78 520.6 547.72C519.6 543.66 517.02 537.94 515.6 532.38C514.18 526.82 512.77 521.21 512.1 514.37C511.43 507.53 511.27 497.14 511.6 491.36C511.93 485.58 512.93 483.58 514.1 479.69C515.27 475.8 517.35 471.63 518.6 468.01C519.85 464.4 520.85 460.96 521.6 458.01C522.35 455.06 522.85 451.62 523.1 450.34Z" fill="#d9d8ea"/>
<line x1="523.1" y1="450.34" x2="523.1" y2="570.73" stroke="#666" stroke-width="0.6"/>
<rect x="516.95" y="490.03" width="12.3" height="45.36" fill="#c6c4e0" stroke="#4a4a4a" stroke-width="0.7"/>
<line x1="516.95" y1="511.37" x2="529.25" y2="511.37" stroke="#222" stroke-width="1"/>
<text x="523.1" y="508.77" font-size="4.9" text-anchor="middle" font-family="Liberation Sans, sans-serif" fill="#222">19.04</text>
<text x="523.1" y="608.9" font-size="6.5" text-anchor="middle" font-family="Liberation Sans, sans-serif" fill="#9b6cc7">DP</text>
<line x1="523.1" y1="600.3" x2="523.1" y2="602.3" stroke="#333" stroke-width="0.6"/>
<path d="M571.5 456.68C571.92 458.01 572.75 461.4 574 464.68C575.25 467.96 577.42 472.74 579 476.35C580.58 479.97 582.1 481.74 583.5 486.36C584.9 490.97 587.4 497.64 587.4 504.03C587.4 510.43 585.32 518.26 583.5 524.71C581.68 531.16 578.33 538.05 576.5 542.72C574.67 547.39 572.92 549.89 572.5 552.72C572.08 555.56 573.67 557.56 574 559.73C574.33 561.9 574.58 563.51 574.5 565.73C574.42 567.95 574 570.51 573.5 573.07C573 575.62 571.83 579.74 571.5 581.07C571.17 582.41 571.83 582.41 571.5 581.07C571.17 579.74 570 575.62 569.5 573.07C569 570.51 568.58 567.95 568.5 565.73C568.42 563.51 568.67 561.9 569 559.73C569.33 557.56 570.92 555.56 570.5 552.72C570.08 549.89 568.33 547.39 566.5 542.72C564.67 538.05 561.32 531.16 559.5 524.71C557.68 518.26 555.6 510.43 555.6 504.03C555.6 497.64 558.1 490.97 559.5 486.36C560.9 481.74 562.42 479.97 564 476.35C565.58 472.74 567.75 467.96 569 464.68C570.25 461.4 571.08 458.01 571.5 456.68Z" fill="#e9aaa5"/>
<line x1="571.5" y1="456.68" x2="571.5" y2="570.73" stroke="#666" stroke-width="0.6"/>
<rect x="565.35" y="493.69" width="12.3" height="32.35" fill="#e3918a" stroke="#4a4a4a" stroke-width="0.7"/>
<line x1="565.35" y1="509.37" x2="577.65" y2="509.37" stroke="#222" stroke-width="1"/>
<text x="571.5" y="506.77" font-size="4.9" text-anchor="middle" font-family="Liberation Sans, sans-serif" fill="#222">18.06</text>
<text x="571.5" y="608.9" font-size="6.5" text-anchor="middle" font-family="Liberation Sans, sans-serif" fill="#e25a5a">YZDP</text>
<line x1="571.5" y1="600.3" x2="571.5" y2="602.3" stroke="#333" stroke-width="0.6"/>
<path d="M614.5 441.33C614.75 443 615.17 447.45 616 451.34C616.83 455.23 618 460.51 619.5 464.68C621 468.85 623.53 472.74 625 476.35C626.47 479.97 627.97 481.69 628.3 486.36C628.63 491.03 627.97 498.36 627 504.37C626.03 510.37 624.17 516.37 622.5 522.38C620.83 528.38 618.17 535.72 617 540.38C615.83 545.05 615.33 547.44 615.5 550.39C615.67 553.34 617 555.67 618 558.06C619 560.45 620.55 562.78 621.5 564.73C622.45 566.68 623.62 567.79 623.7 569.73C623.78 571.68 622.87 574.46 622 576.4C621.13 578.35 619.75 579.74 618.5 581.4C617.25 583.07 615.17 585.57 614.5 586.41C613.83 587.24 615.17 587.24 614.5 586.41C613.83 585.57 611.75 583.07 610.5 581.4C609.25 579.74 607.87 578.35 607 576.4C606.13 574.46 605.22 571.68 605.3 569.73C605.38 567.79 606.55 566.68 607.5 564.73C608.45 562.78 610 560.45 611 558.06C612 555.67 613.33 553.34 613.5 550.39C613.67 547.44 613.17 545.05 612 540.38C610.83 535.72 608.17 528.38 606.5 522.38C604.83 516.37 602.97 510.37 602 504.37C601.03 498.36 600.37 491.03 600.7 486.36C601.03 481.69 602.53 479.97 604 476.35C605.47 472.74 608 468.85 609.5 464.68C611 460.51 612.17 455.23 613 451.34C613.83 447.45 614.25 443 614.5 441.33Z" fill="#abd2de"/>
<line x1="614.5" y1="441.33" x2="614.5" y2="569.73" stroke="#666" stroke-width="0.6"/>
<rect x="608.35" y="483.69" width="12.3" height="40.02" fill="#90c0ce" stroke="#4a4a4a" stroke-width="0.7"/>
<line x1="608.35" y1="501.37" x2="620.65" y2="501.37" stroke="#222" stroke-width="1"/>
<text x="614.5" y="498.76" font-size="4.9" text-anchor="middle" font-family="Liberation Sans, sans-serif" fill="#222">21.38</text>
<text x="614.5" y="608.9" font-size="6.5" text-anchor="middle" font-family="Liberation Sans, sans-serif" fill="#4ab0d6">FZDP</text>
<line x1="614.5" y1="600.3" x2="614.5" y2="602.3" stroke="#333" stroke-width="0.6"/>
<path d="M657.6 421.32C657.85 423.55 658.35 430.22 659.1 434.66C659.85 439.11 660.85 443.56 662.1 448C663.35 452.45 665.33 457.23 666.6 461.34C667.87 465.46 669.2 468.4 669.7 472.68C670.2 476.96 669.95 482.24 669.6 487.02C669.25 491.8 668.77 496.08 667.6 501.37C666.43 506.65 664.1 513.87 662.6 518.71C661.1 523.54 659.3 524.93 658.6 530.38C657.9 535.83 657.73 546.5 658.4 551.39C659.07 556.28 661.23 557.23 662.6 559.73C663.97 562.23 665.65 564.56 666.6 566.4C667.55 568.23 668.3 569.07 668.3 570.73C668.3 572.4 667.55 574.62 666.6 576.4C665.65 578.18 664.1 579.96 662.6 581.4C661.1 582.85 658.43 584.46 657.6 585.07C656.77 585.68 658.43 585.68 657.6 585.07C656.77 584.46 654.1 582.85 652.6 581.4C651.1 579.96 649.55 578.18 648.6 576.4C647.65 574.62 646.9 572.4 646.9 570.73C646.9 569.07 647.65 568.23 648.6 566.4C649.55 564.56 651.23 562.23 652.6 559.73C653.97 557.23 656.13 556.28 656.8 551.39C657.47 546.5 657.3 535.83 656.6 530.38C655.9 524.93 654.1 523.54 652.6 518.71C651.1 513.87 648.77 506.65 647.6 501.37C646.43 496.08 645.95 491.8 645.6 487.02C645.25 482.24 645 476.96 645.5 472.68C646 468.4 647.33 465.46 648.6 461.34C649.87 457.23 651.85 452.45 653.1 448C654.35 443.56 655.35 439.11 656.1 434.66C656.85 430.22 657.35 423.55 657.6 421.32Z" fill="#ecd0a8"/>
<line x1="657.6" y1="421.32" x2="657.6" y2="570.73" stroke="#666" stroke-width="0.6"/>
<rect x="651.45" y="471.35" width="12.3" height="43.02" fill="#e4b783" stroke="#4a4a4a" stroke-width="0.7"/>
<line x1="651.45" y1="491.36" x2="663.75" y2="491.36" stroke="#222" stroke-width="1"/>
<text x="657.6" y="488.76" font-size="4.9" text-anchor="middle" font-family="Liberation Sans, sans-serif" fill="#222">24.72</text>
<text x="657.6" y="608.9" font-size="6.5" text-anchor="middle" font-family="Liberation Sans, sans-serif" fill="#d2913f">JSDP</text>
<line x1="657.6" y1="600.3" x2="657.6" y2="602.3" stroke="#333" stroke-width="0.6"/>
<path d="M703.5 448C703.75 449.12 704 451.9 705 454.67C706 457.45 707.27 461.07 709.5 464.68C711.73 468.29 717.07 471.91 718.4 476.35C719.73 480.8 717.57 486.25 717.5 491.36C717.43 496.47 718.5 501.87 718 507.03C717.5 512.2 716.08 518.1 714.5 522.38C712.92 526.66 710.33 529.49 708.5 532.71C706.67 535.94 704.33 540.22 703.5 541.72C702.67 543.22 704.33 543.22 703.5 541.72C702.67 540.22 700.33 535.94 698.5 532.71C696.67 529.49 694.08 526.66 692.5 522.38C690.92 518.1 689.5 512.2 689 507.03C688.5 501.87 689.57 496.47 689.5 491.36C689.43 486.25 687.27 480.8 688.6 476.35C689.93 471.91 695.27 468.29 697.5 464.68C699.73 461.07 701 457.45 702 454.67C703 451.9 703.25 449.12 703.5 448Z" fill="#c8e4ac"/>
<line x1="703.5" y1="431.33" x2="703.5" y2="541.72" stroke="#666" stroke-width="0.6"/>
<rect x="697.35" y="478.35" width="12.3" height="33.35" fill="#b5d993" stroke="#4a4a4a" stroke-width="0.7"/>
<line x1="697.35" y1="494.69" x2="709.65" y2="494.69" stroke="#222" stroke-width="1"/>
<text x="703.5" y="492.09" font-size="4.9" text-anchor="middle" font-family="Liberation Sans, sans-serif" fill="#222">21.81</text>
<text x="703.5" y="608.9" font-size="6.5" text-anchor="middle" font-family="Liberation Sans, sans-serif" fill="#73c24a">Hutou</text>
<line x1="703.5" y1="600.3" x2="703.5" y2="602.3" stroke="#333" stroke-width="0.6"/>
<path d="M755.4 444.67C755.65 446.34 756.07 451.34 756.9 454.67C757.73 458.01 759.05 461.79 760.4 464.68C761.75 467.57 763.5 469.46 765 472.02C766.5 474.57 767.33 477.35 769.4 480.02C771.47 482.69 775.25 485.86 777.4 488.02C779.55 490.19 781.63 490.36 782.3 493.03C782.97 495.7 782.55 500.86 781.4 504.03C780.25 507.2 778.23 509.37 775.4 512.04C772.57 514.71 767.73 517.65 764.4 520.04C761.07 522.43 756.9 525.32 755.4 526.38C753.9 527.43 756.9 527.43 755.4 526.38C753.9 525.32 749.73 522.43 746.4 520.04C743.07 517.65 738.23 514.71 735.4 512.04C732.57 509.37 730.55 507.2 729.4 504.03C728.25 500.86 727.83 495.7 728.5 493.03C729.17 490.36 731.25 490.19 733.4 488.02C735.55 485.86 739.33 482.69 741.4 480.02C743.47 477.35 744.3 474.57 745.8 472.02C747.3 469.46 749.05 467.57 750.4 464.68C751.75 461.79 753.07 458.01 753.9 454.67C754.73 451.34 755.15 446.34 755.4 444.67Z" fill="#f2dcee"/>
<line x1="755.4" y1="459.34" x2="755.4" y2="533.05" stroke="#666" stroke-width="0.6"/>
<rect x="749.25" y="486.36" width="12.3" height="19.34" fill="#efd0e8" stroke="#4a4a4a" stroke-width="0.7"/>
<line x1="749.25" y1="496.03" x2="761.55" y2="496.03" stroke="#222" stroke-width="1"/>
<text x="755.4" y="493.43" font-size="4.9" text-anchor="middle" font-family="Liberation Sans, sans-serif" fill="#222">22.53</text>
<text x="755.4" y="608.9" font-size="6.5" text-anchor="middle" font-family="Liberation Sans, sans-serif" fill="#f0a3cc">MP</text>
<line x1="755.4" y1="600.3" x2="755.4" y2="602.3" stroke="#333" stroke-width="0.6"/>
<line x1="703.5" y1="566" x2="703.5" y2="576.3" stroke="#b9dca0" stroke-width="0.9"/></svg></body></html>
